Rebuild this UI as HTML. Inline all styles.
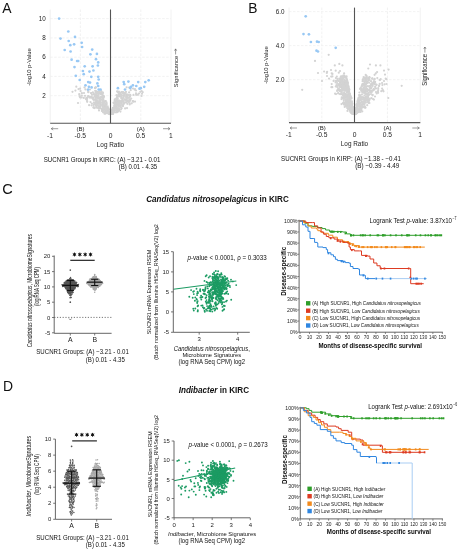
<!DOCTYPE html>
<html><head><meta charset="utf-8"><style>
html,body{margin:0;padding:0;background:#fff;width:460px;height:550px;overflow:hidden}
svg{display:block;filter:blur(0.3px)}
text{font-family:"Liberation Sans", sans-serif}
</style></head><body>
<svg width="460" height="550" viewBox="0 0 460 550">
<rect width="460" height="550" fill="#fff"/>
<text transform="translate(2.3 12.5) scale(0.93 1)" font-size="15.0" fill="#111">A</text>
<text transform="translate(248.2 12.5) scale(0.92 1)" font-size="15.0" fill="#111">B</text>
<text transform="translate(2.2 193.6) scale(0.97 1)" font-size="15.0" fill="#111">C</text>
<text transform="translate(2.9 390.5) scale(0.93 1)" font-size="15.0" fill="#111">D</text>
<line x1="50.20" y1="9.50" x2="50.20" y2="123.30" stroke="#ececec" stroke-width="0.8"/>
<line x1="80.40" y1="9.50" x2="80.40" y2="123.30" stroke="#efefef" stroke-width="0.8" stroke-dasharray="2.5 1.5"/>
<line x1="140.80" y1="9.50" x2="140.80" y2="123.30" stroke="#efefef" stroke-width="0.8" stroke-dasharray="2.5 1.5"/>
<line x1="171.00" y1="9.50" x2="171.00" y2="123.30" stroke="#efefef" stroke-width="0.8"/>
<line x1="50.20" y1="18.60" x2="171.00" y2="18.60" stroke="#efefef" stroke-width="0.8" stroke-dasharray="2.5 1.5"/>
<text x="45.70" y="20.87" font-size="6.3" text-anchor="end" fill="#1c1c1c">10</text>
<line x1="50.20" y1="37.90" x2="171.00" y2="37.90" stroke="#efefef" stroke-width="0.8" stroke-dasharray="2.5 1.5"/>
<text x="45.70" y="40.17" font-size="6.3" text-anchor="end" fill="#1c1c1c">8</text>
<line x1="50.20" y1="57.20" x2="171.00" y2="57.20" stroke="#efefef" stroke-width="0.8" stroke-dasharray="2.5 1.5"/>
<text x="45.70" y="59.47" font-size="6.3" text-anchor="end" fill="#1c1c1c">6</text>
<line x1="50.20" y1="76.40" x2="171.00" y2="76.40" stroke="#efefef" stroke-width="0.8" stroke-dasharray="2.5 1.5"/>
<text x="45.70" y="78.67" font-size="6.3" text-anchor="end" fill="#1c1c1c">4</text>
<line x1="50.20" y1="95.70" x2="171.00" y2="95.70" stroke="#efefef" stroke-width="0.8" stroke-dasharray="2.5 1.5"/>
<text x="45.70" y="97.97" font-size="6.3" text-anchor="end" fill="#1c1c1c">2</text>
<circle cx="95.8" cy="104.9" r="1.1" fill="#d3d3d3"/>
<circle cx="94.2" cy="99.5" r="1.1" fill="#d3d3d3"/>
<circle cx="97.8" cy="102.7" r="1.1" fill="#d3d3d3"/>
<circle cx="95.8" cy="102.2" r="1.1" fill="#d3d3d3"/>
<circle cx="96.5" cy="97.1" r="1.1" fill="#d3d3d3"/>
<circle cx="102.3" cy="110.8" r="1.1" fill="#d3d3d3"/>
<circle cx="93.8" cy="94.4" r="1.1" fill="#d3d3d3"/>
<circle cx="108.3" cy="108.1" r="1.1" fill="#d3d3d3"/>
<circle cx="107.7" cy="110.3" r="1.1" fill="#d3d3d3"/>
<circle cx="109.5" cy="114.1" r="1.1" fill="#d3d3d3"/>
<circle cx="95.0" cy="94.5" r="1.1" fill="#d3d3d3"/>
<circle cx="93.4" cy="107.4" r="1.1" fill="#d3d3d3"/>
<circle cx="97.1" cy="92.6" r="1.1" fill="#d3d3d3"/>
<circle cx="110.5" cy="113.9" r="1.1" fill="#d3d3d3"/>
<circle cx="90.0" cy="97.7" r="1.1" fill="#d3d3d3"/>
<circle cx="108.2" cy="112.3" r="1.1" fill="#d3d3d3"/>
<circle cx="96.3" cy="106.7" r="1.1" fill="#d3d3d3"/>
<circle cx="106.7" cy="112.7" r="1.1" fill="#d3d3d3"/>
<circle cx="97.1" cy="95.9" r="1.1" fill="#d3d3d3"/>
<circle cx="107.2" cy="109.0" r="1.1" fill="#d3d3d3"/>
<circle cx="97.9" cy="97.7" r="1.1" fill="#d3d3d3"/>
<circle cx="105.5" cy="108.5" r="1.1" fill="#d3d3d3"/>
<circle cx="98.6" cy="96.3" r="1.1" fill="#d3d3d3"/>
<circle cx="103.0" cy="97.7" r="1.1" fill="#d3d3d3"/>
<circle cx="104.0" cy="96.5" r="1.1" fill="#d3d3d3"/>
<circle cx="109.7" cy="112.8" r="1.1" fill="#d3d3d3"/>
<circle cx="97.7" cy="103.1" r="1.1" fill="#d3d3d3"/>
<circle cx="110.2" cy="113.5" r="1.1" fill="#d3d3d3"/>
<circle cx="104.4" cy="107.8" r="1.1" fill="#d3d3d3"/>
<circle cx="106.1" cy="111.9" r="1.1" fill="#d3d3d3"/>
<circle cx="102.6" cy="98.9" r="1.1" fill="#d3d3d3"/>
<circle cx="95.8" cy="104.9" r="1.1" fill="#d3d3d3"/>
<circle cx="98.7" cy="92.5" r="1.1" fill="#d3d3d3"/>
<circle cx="104.3" cy="106.1" r="1.1" fill="#d3d3d3"/>
<circle cx="99.0" cy="93.4" r="1.1" fill="#d3d3d3"/>
<circle cx="100.9" cy="103.0" r="1.1" fill="#d3d3d3"/>
<circle cx="102.7" cy="92.3" r="1.1" fill="#d3d3d3"/>
<circle cx="95.5" cy="99.0" r="1.1" fill="#d3d3d3"/>
<circle cx="106.7" cy="110.9" r="1.1" fill="#d3d3d3"/>
<circle cx="109.8" cy="113.6" r="1.1" fill="#d3d3d3"/>
<circle cx="105.0" cy="105.9" r="1.1" fill="#d3d3d3"/>
<circle cx="102.8" cy="104.4" r="1.1" fill="#d3d3d3"/>
<circle cx="101.1" cy="92.9" r="1.1" fill="#d3d3d3"/>
<circle cx="99.8" cy="98.2" r="1.1" fill="#d3d3d3"/>
<circle cx="101.8" cy="108.5" r="1.1" fill="#d3d3d3"/>
<circle cx="85.0" cy="95.8" r="1.1" fill="#d3d3d3"/>
<circle cx="109.6" cy="113.8" r="1.1" fill="#d3d3d3"/>
<circle cx="102.6" cy="96.3" r="1.1" fill="#d3d3d3"/>
<circle cx="103.0" cy="104.7" r="1.1" fill="#d3d3d3"/>
<circle cx="99.7" cy="103.1" r="1.1" fill="#d3d3d3"/>
<circle cx="102.1" cy="105.0" r="1.1" fill="#d3d3d3"/>
<circle cx="103.3" cy="102.7" r="1.1" fill="#d3d3d3"/>
<circle cx="104.8" cy="107.1" r="1.1" fill="#d3d3d3"/>
<circle cx="105.4" cy="104.1" r="1.1" fill="#d3d3d3"/>
<circle cx="100.3" cy="92.6" r="1.1" fill="#d3d3d3"/>
<circle cx="105.8" cy="101.0" r="1.1" fill="#d3d3d3"/>
<circle cx="101.3" cy="91.2" r="1.1" fill="#d3d3d3"/>
<circle cx="103.1" cy="112.3" r="1.1" fill="#d3d3d3"/>
<circle cx="104.7" cy="105.8" r="1.1" fill="#d3d3d3"/>
<circle cx="100.4" cy="106.8" r="1.1" fill="#d3d3d3"/>
<circle cx="103.2" cy="97.8" r="1.1" fill="#d3d3d3"/>
<circle cx="102.1" cy="109.1" r="1.1" fill="#d3d3d3"/>
<circle cx="96.7" cy="92.9" r="1.1" fill="#d3d3d3"/>
<circle cx="104.5" cy="102.4" r="1.1" fill="#d3d3d3"/>
<circle cx="96.5" cy="104.0" r="1.1" fill="#d3d3d3"/>
<circle cx="98.9" cy="103.9" r="1.1" fill="#d3d3d3"/>
<circle cx="100.6" cy="101.0" r="1.1" fill="#d3d3d3"/>
<circle cx="98.9" cy="108.7" r="1.1" fill="#d3d3d3"/>
<circle cx="93.5" cy="99.8" r="1.1" fill="#d3d3d3"/>
<circle cx="100.0" cy="98.0" r="1.1" fill="#d3d3d3"/>
<circle cx="92.0" cy="97.4" r="1.1" fill="#d3d3d3"/>
<circle cx="108.8" cy="113.6" r="1.1" fill="#d3d3d3"/>
<circle cx="108.5" cy="113.0" r="1.1" fill="#d3d3d3"/>
<circle cx="95.7" cy="92.6" r="1.1" fill="#d3d3d3"/>
<circle cx="102.8" cy="110.0" r="1.1" fill="#d3d3d3"/>
<circle cx="102.7" cy="96.2" r="1.1" fill="#d3d3d3"/>
<circle cx="108.7" cy="113.0" r="1.1" fill="#d3d3d3"/>
<circle cx="96.6" cy="103.0" r="1.1" fill="#d3d3d3"/>
<circle cx="105.9" cy="107.2" r="1.1" fill="#d3d3d3"/>
<circle cx="106.6" cy="110.6" r="1.1" fill="#d3d3d3"/>
<circle cx="94.9" cy="103.7" r="1.1" fill="#d3d3d3"/>
<circle cx="97.2" cy="105.1" r="1.1" fill="#d3d3d3"/>
<circle cx="105.8" cy="109.8" r="1.1" fill="#d3d3d3"/>
<circle cx="104.2" cy="109.7" r="1.1" fill="#d3d3d3"/>
<circle cx="95.5" cy="97.0" r="1.1" fill="#d3d3d3"/>
<circle cx="107.7" cy="106.4" r="1.1" fill="#d3d3d3"/>
<circle cx="93.7" cy="93.3" r="1.1" fill="#d3d3d3"/>
<circle cx="102.5" cy="105.9" r="1.1" fill="#d3d3d3"/>
<circle cx="104.6" cy="101.6" r="1.1" fill="#d3d3d3"/>
<circle cx="104.6" cy="101.5" r="1.1" fill="#d3d3d3"/>
<circle cx="107.0" cy="112.4" r="1.1" fill="#d3d3d3"/>
<circle cx="106.1" cy="111.7" r="1.1" fill="#d3d3d3"/>
<circle cx="92.5" cy="98.3" r="1.1" fill="#d3d3d3"/>
<circle cx="94.0" cy="102.4" r="1.1" fill="#d3d3d3"/>
<circle cx="104.9" cy="107.7" r="1.1" fill="#d3d3d3"/>
<circle cx="96.2" cy="101.8" r="1.1" fill="#d3d3d3"/>
<circle cx="106.1" cy="104.6" r="1.1" fill="#d3d3d3"/>
<circle cx="108.5" cy="112.0" r="1.1" fill="#d3d3d3"/>
<circle cx="109.0" cy="109.3" r="1.1" fill="#d3d3d3"/>
<circle cx="107.8" cy="108.0" r="1.1" fill="#d3d3d3"/>
<circle cx="98.6" cy="102.7" r="1.1" fill="#d3d3d3"/>
<circle cx="108.9" cy="112.4" r="1.1" fill="#d3d3d3"/>
<circle cx="102.8" cy="98.5" r="1.1" fill="#d3d3d3"/>
<circle cx="98.9" cy="106.1" r="1.1" fill="#d3d3d3"/>
<circle cx="96.8" cy="102.5" r="1.1" fill="#d3d3d3"/>
<circle cx="102.9" cy="103.0" r="1.1" fill="#d3d3d3"/>
<circle cx="86.8" cy="98.4" r="1.1" fill="#d3d3d3"/>
<circle cx="106.3" cy="109.4" r="1.1" fill="#d3d3d3"/>
<circle cx="103.4" cy="109.8" r="1.1" fill="#d3d3d3"/>
<circle cx="106.3" cy="108.3" r="1.1" fill="#d3d3d3"/>
<circle cx="100.0" cy="99.8" r="1.1" fill="#d3d3d3"/>
<circle cx="92.7" cy="98.6" r="1.1" fill="#d3d3d3"/>
<circle cx="107.9" cy="108.5" r="1.1" fill="#d3d3d3"/>
<circle cx="103.0" cy="106.1" r="1.1" fill="#d3d3d3"/>
<circle cx="103.1" cy="107.2" r="1.1" fill="#d3d3d3"/>
<circle cx="106.8" cy="104.0" r="1.1" fill="#d3d3d3"/>
<circle cx="103.0" cy="95.6" r="1.1" fill="#d3d3d3"/>
<circle cx="95.7" cy="97.2" r="1.1" fill="#d3d3d3"/>
<circle cx="96.5" cy="103.6" r="1.1" fill="#d3d3d3"/>
<circle cx="105.4" cy="112.7" r="1.1" fill="#d3d3d3"/>
<circle cx="88.9" cy="96.3" r="1.1" fill="#d3d3d3"/>
<circle cx="95.7" cy="100.2" r="1.1" fill="#d3d3d3"/>
<circle cx="97.8" cy="92.2" r="1.1" fill="#d3d3d3"/>
<circle cx="101.7" cy="109.2" r="1.1" fill="#d3d3d3"/>
<circle cx="104.8" cy="105.1" r="1.1" fill="#d3d3d3"/>
<circle cx="100.6" cy="94.2" r="1.1" fill="#d3d3d3"/>
<circle cx="96.9" cy="107.7" r="1.1" fill="#d3d3d3"/>
<circle cx="96.1" cy="98.0" r="1.1" fill="#d3d3d3"/>
<circle cx="103.2" cy="109.5" r="1.1" fill="#d3d3d3"/>
<circle cx="95.4" cy="94.7" r="1.1" fill="#d3d3d3"/>
<circle cx="108.7" cy="113.7" r="1.1" fill="#d3d3d3"/>
<circle cx="105.2" cy="113.5" r="1.1" fill="#d3d3d3"/>
<circle cx="102.8" cy="109.2" r="1.1" fill="#d3d3d3"/>
<circle cx="99.9" cy="101.5" r="1.1" fill="#d3d3d3"/>
<circle cx="105.8" cy="107.7" r="1.1" fill="#d3d3d3"/>
<circle cx="100.4" cy="102.6" r="1.1" fill="#d3d3d3"/>
<circle cx="101.4" cy="94.1" r="1.1" fill="#d3d3d3"/>
<circle cx="107.2" cy="108.8" r="1.1" fill="#d3d3d3"/>
<circle cx="103.9" cy="96.7" r="1.1" fill="#d3d3d3"/>
<circle cx="91.1" cy="93.2" r="1.1" fill="#d3d3d3"/>
<circle cx="103.5" cy="99.1" r="1.1" fill="#d3d3d3"/>
<circle cx="99.7" cy="99.5" r="1.1" fill="#d3d3d3"/>
<circle cx="108.9" cy="112.5" r="1.1" fill="#d3d3d3"/>
<circle cx="95.0" cy="99.7" r="1.1" fill="#d3d3d3"/>
<circle cx="109.8" cy="113.9" r="1.1" fill="#d3d3d3"/>
<circle cx="100.2" cy="108.2" r="1.1" fill="#d3d3d3"/>
<circle cx="107.2" cy="112.1" r="1.1" fill="#d3d3d3"/>
<circle cx="99.4" cy="91.4" r="1.1" fill="#d3d3d3"/>
<circle cx="101.1" cy="97.2" r="1.1" fill="#d3d3d3"/>
<circle cx="105.2" cy="101.2" r="1.1" fill="#d3d3d3"/>
<circle cx="91.9" cy="103.5" r="1.1" fill="#d3d3d3"/>
<circle cx="105.8" cy="105.6" r="1.1" fill="#d3d3d3"/>
<circle cx="96.9" cy="92.2" r="1.1" fill="#d3d3d3"/>
<circle cx="108.6" cy="109.5" r="1.1" fill="#d3d3d3"/>
<circle cx="108.5" cy="111.5" r="1.1" fill="#d3d3d3"/>
<circle cx="103.3" cy="96.3" r="1.1" fill="#d3d3d3"/>
<circle cx="109.3" cy="111.3" r="1.1" fill="#d3d3d3"/>
<circle cx="99.2" cy="106.6" r="1.1" fill="#d3d3d3"/>
<circle cx="106.5" cy="102.4" r="1.1" fill="#d3d3d3"/>
<circle cx="104.0" cy="103.0" r="1.1" fill="#d3d3d3"/>
<circle cx="99.9" cy="102.7" r="1.1" fill="#d3d3d3"/>
<circle cx="90.8" cy="97.2" r="1.1" fill="#d3d3d3"/>
<circle cx="100.6" cy="104.8" r="1.1" fill="#d3d3d3"/>
<circle cx="94.2" cy="104.1" r="1.1" fill="#d3d3d3"/>
<circle cx="93.6" cy="104.9" r="1.1" fill="#d3d3d3"/>
<circle cx="105.1" cy="109.6" r="1.1" fill="#d3d3d3"/>
<circle cx="103.0" cy="93.0" r="1.1" fill="#d3d3d3"/>
<circle cx="103.3" cy="104.9" r="1.1" fill="#d3d3d3"/>
<circle cx="102.7" cy="100.2" r="1.1" fill="#d3d3d3"/>
<circle cx="99.0" cy="110.5" r="1.1" fill="#d3d3d3"/>
<circle cx="103.6" cy="96.7" r="1.1" fill="#d3d3d3"/>
<circle cx="96.3" cy="100.3" r="1.1" fill="#d3d3d3"/>
<circle cx="104.9" cy="111.6" r="1.1" fill="#d3d3d3"/>
<circle cx="102.2" cy="94.8" r="1.1" fill="#d3d3d3"/>
<circle cx="102.4" cy="94.1" r="1.1" fill="#d3d3d3"/>
<circle cx="92.9" cy="92.4" r="1.1" fill="#d3d3d3"/>
<circle cx="88.1" cy="96.4" r="1.1" fill="#d3d3d3"/>
<circle cx="96.0" cy="95.7" r="1.1" fill="#d3d3d3"/>
<circle cx="99.3" cy="107.9" r="1.1" fill="#d3d3d3"/>
<circle cx="105.6" cy="109.5" r="1.1" fill="#d3d3d3"/>
<circle cx="101.4" cy="99.3" r="1.1" fill="#d3d3d3"/>
<circle cx="99.9" cy="101.1" r="1.1" fill="#d3d3d3"/>
<circle cx="97.7" cy="98.6" r="1.1" fill="#d3d3d3"/>
<circle cx="95.3" cy="96.6" r="1.1" fill="#d3d3d3"/>
<circle cx="103.0" cy="101.3" r="1.1" fill="#d3d3d3"/>
<circle cx="108.7" cy="113.2" r="1.1" fill="#d3d3d3"/>
<circle cx="97.4" cy="102.0" r="1.1" fill="#d3d3d3"/>
<circle cx="106.5" cy="111.4" r="1.1" fill="#d3d3d3"/>
<circle cx="98.0" cy="101.7" r="1.1" fill="#d3d3d3"/>
<circle cx="108.9" cy="113.3" r="1.1" fill="#d3d3d3"/>
<circle cx="96.8" cy="94.2" r="1.1" fill="#d3d3d3"/>
<circle cx="99.2" cy="98.3" r="1.1" fill="#d3d3d3"/>
<circle cx="105.5" cy="105.8" r="1.1" fill="#d3d3d3"/>
<circle cx="104.4" cy="111.7" r="1.1" fill="#d3d3d3"/>
<circle cx="94.6" cy="96.3" r="1.1" fill="#d3d3d3"/>
<circle cx="110.3" cy="113.7" r="1.1" fill="#d3d3d3"/>
<circle cx="100.9" cy="97.0" r="1.1" fill="#d3d3d3"/>
<circle cx="98.2" cy="98.4" r="1.1" fill="#d3d3d3"/>
<circle cx="93.7" cy="107.4" r="1.1" fill="#d3d3d3"/>
<circle cx="107.9" cy="110.2" r="1.1" fill="#d3d3d3"/>
<circle cx="100.3" cy="100.0" r="1.1" fill="#d3d3d3"/>
<circle cx="107.2" cy="112.3" r="1.1" fill="#d3d3d3"/>
<circle cx="87.4" cy="97.8" r="1.1" fill="#d3d3d3"/>
<circle cx="95.6" cy="96.1" r="1.1" fill="#d3d3d3"/>
<circle cx="107.3" cy="113.2" r="1.1" fill="#d3d3d3"/>
<circle cx="106.6" cy="109.2" r="1.1" fill="#d3d3d3"/>
<circle cx="107.9" cy="111.5" r="1.1" fill="#d3d3d3"/>
<circle cx="102.3" cy="105.5" r="1.1" fill="#d3d3d3"/>
<circle cx="96.6" cy="100.3" r="1.1" fill="#d3d3d3"/>
<circle cx="108.4" cy="112.5" r="1.1" fill="#d3d3d3"/>
<circle cx="100.5" cy="105.2" r="1.1" fill="#d3d3d3"/>
<circle cx="88.4" cy="92.2" r="1.1" fill="#d3d3d3"/>
<circle cx="76.3" cy="86.7" r="1.1" fill="#d3d3d3"/>
<circle cx="75.4" cy="90.6" r="1.1" fill="#d3d3d3"/>
<circle cx="87.7" cy="90.0" r="1.1" fill="#d3d3d3"/>
<circle cx="94.8" cy="107.7" r="1.1" fill="#d3d3d3"/>
<circle cx="105.6" cy="113.4" r="1.1" fill="#d3d3d3"/>
<circle cx="94.4" cy="108.1" r="1.1" fill="#d3d3d3"/>
<circle cx="91.3" cy="96.8" r="1.1" fill="#d3d3d3"/>
<circle cx="95.1" cy="88.1" r="1.1" fill="#d3d3d3"/>
<circle cx="78.5" cy="89.1" r="1.1" fill="#d3d3d3"/>
<circle cx="104.2" cy="101.8" r="1.1" fill="#d3d3d3"/>
<circle cx="81.7" cy="97.5" r="1.1" fill="#d3d3d3"/>
<circle cx="86.6" cy="99.0" r="1.1" fill="#d3d3d3"/>
<circle cx="99.7" cy="103.5" r="1.1" fill="#d3d3d3"/>
<circle cx="95.2" cy="90.8" r="1.1" fill="#d3d3d3"/>
<circle cx="80.6" cy="91.1" r="1.1" fill="#d3d3d3"/>
<circle cx="87.1" cy="101.1" r="1.1" fill="#d3d3d3"/>
<circle cx="103.1" cy="110.3" r="1.1" fill="#d3d3d3"/>
<circle cx="91.6" cy="105.3" r="1.1" fill="#d3d3d3"/>
<circle cx="100.7" cy="102.3" r="1.1" fill="#d3d3d3"/>
<circle cx="80.1" cy="88.7" r="1.1" fill="#d3d3d3"/>
<circle cx="102.7" cy="100.3" r="1.1" fill="#d3d3d3"/>
<circle cx="96.9" cy="92.7" r="1.1" fill="#d3d3d3"/>
<circle cx="86.7" cy="99.7" r="1.1" fill="#d3d3d3"/>
<circle cx="89.1" cy="105.2" r="1.1" fill="#d3d3d3"/>
<circle cx="105.2" cy="112.0" r="1.1" fill="#d3d3d3"/>
<circle cx="72.5" cy="91.8" r="1.1" fill="#d3d3d3"/>
<circle cx="97.7" cy="91.8" r="1.1" fill="#d3d3d3"/>
<circle cx="97.3" cy="92.4" r="1.1" fill="#d3d3d3"/>
<circle cx="87.2" cy="101.8" r="1.1" fill="#d3d3d3"/>
<circle cx="83.8" cy="97.9" r="1.1" fill="#d3d3d3"/>
<circle cx="98.4" cy="93.4" r="1.1" fill="#d3d3d3"/>
<circle cx="88.2" cy="91.9" r="1.1" fill="#d3d3d3"/>
<circle cx="84.5" cy="87.4" r="1.1" fill="#d3d3d3"/>
<circle cx="103.2" cy="108.0" r="1.1" fill="#d3d3d3"/>
<circle cx="98.2" cy="108.1" r="1.1" fill="#d3d3d3"/>
<circle cx="98.4" cy="106.4" r="1.1" fill="#d3d3d3"/>
<circle cx="93.1" cy="97.6" r="1.1" fill="#d3d3d3"/>
<circle cx="91.2" cy="93.1" r="1.1" fill="#d3d3d3"/>
<circle cx="79.6" cy="96.0" r="1.1" fill="#d3d3d3"/>
<circle cx="98.5" cy="94.8" r="1.1" fill="#d3d3d3"/>
<circle cx="92.0" cy="94.8" r="1.1" fill="#d3d3d3"/>
<circle cx="96.3" cy="105.2" r="1.1" fill="#d3d3d3"/>
<circle cx="98.5" cy="97.1" r="1.1" fill="#d3d3d3"/>
<circle cx="106.3" cy="107.7" r="1.1" fill="#d3d3d3"/>
<circle cx="86.4" cy="97.8" r="1.1" fill="#d3d3d3"/>
<circle cx="88.2" cy="96.3" r="1.1" fill="#d3d3d3"/>
<circle cx="90.5" cy="102.1" r="1.1" fill="#d3d3d3"/>
<circle cx="109.1" cy="113.2" r="1.1" fill="#d3d3d3"/>
<circle cx="81.9" cy="93.2" r="1.1" fill="#d3d3d3"/>
<circle cx="79.9" cy="97.1" r="1.1" fill="#d3d3d3"/>
<circle cx="95.9" cy="87.4" r="1.1" fill="#d3d3d3"/>
<circle cx="101.9" cy="110.9" r="1.1" fill="#d3d3d3"/>
<circle cx="97.8" cy="100.8" r="1.1" fill="#d3d3d3"/>
<circle cx="81.8" cy="95.7" r="1.1" fill="#d3d3d3"/>
<circle cx="104.5" cy="113.7" r="1.1" fill="#d3d3d3"/>
<circle cx="95.5" cy="87.4" r="1.1" fill="#d3d3d3"/>
<circle cx="79.2" cy="94.2" r="1.1" fill="#d3d3d3"/>
<circle cx="85.4" cy="89.4" r="1.1" fill="#d3d3d3"/>
<circle cx="111.7" cy="111.9" r="1.1" fill="#d3d3d3"/>
<circle cx="127.8" cy="100.8" r="1.1" fill="#d3d3d3"/>
<circle cx="115.2" cy="104.7" r="1.1" fill="#d3d3d3"/>
<circle cx="112.8" cy="113.7" r="1.1" fill="#d3d3d3"/>
<circle cx="120.2" cy="106.3" r="1.1" fill="#d3d3d3"/>
<circle cx="122.0" cy="92.1" r="1.1" fill="#d3d3d3"/>
<circle cx="112.7" cy="108.6" r="1.1" fill="#d3d3d3"/>
<circle cx="117.1" cy="101.6" r="1.1" fill="#d3d3d3"/>
<circle cx="117.9" cy="103.7" r="1.1" fill="#d3d3d3"/>
<circle cx="117.6" cy="96.1" r="1.1" fill="#d3d3d3"/>
<circle cx="119.0" cy="101.5" r="1.1" fill="#d3d3d3"/>
<circle cx="117.6" cy="91.8" r="1.1" fill="#d3d3d3"/>
<circle cx="124.8" cy="99.6" r="1.1" fill="#d3d3d3"/>
<circle cx="119.9" cy="96.4" r="1.1" fill="#d3d3d3"/>
<circle cx="118.9" cy="100.8" r="1.1" fill="#d3d3d3"/>
<circle cx="112.4" cy="111.7" r="1.1" fill="#d3d3d3"/>
<circle cx="115.4" cy="102.6" r="1.1" fill="#d3d3d3"/>
<circle cx="112.2" cy="111.3" r="1.1" fill="#d3d3d3"/>
<circle cx="112.1" cy="110.0" r="1.1" fill="#d3d3d3"/>
<circle cx="117.3" cy="111.3" r="1.1" fill="#d3d3d3"/>
<circle cx="111.7" cy="111.4" r="1.1" fill="#d3d3d3"/>
<circle cx="115.1" cy="102.2" r="1.1" fill="#d3d3d3"/>
<circle cx="116.1" cy="98.7" r="1.1" fill="#d3d3d3"/>
<circle cx="120.6" cy="93.9" r="1.1" fill="#d3d3d3"/>
<circle cx="121.0" cy="95.7" r="1.1" fill="#d3d3d3"/>
<circle cx="115.8" cy="108.5" r="1.1" fill="#d3d3d3"/>
<circle cx="127.6" cy="96.1" r="1.1" fill="#d3d3d3"/>
<circle cx="116.0" cy="107.8" r="1.1" fill="#d3d3d3"/>
<circle cx="126.9" cy="97.8" r="1.1" fill="#d3d3d3"/>
<circle cx="118.5" cy="95.7" r="1.1" fill="#d3d3d3"/>
<circle cx="122.5" cy="101.8" r="1.1" fill="#d3d3d3"/>
<circle cx="117.8" cy="109.3" r="1.1" fill="#d3d3d3"/>
<circle cx="122.9" cy="105.6" r="1.1" fill="#d3d3d3"/>
<circle cx="124.0" cy="93.2" r="1.1" fill="#d3d3d3"/>
<circle cx="124.7" cy="94.1" r="1.1" fill="#d3d3d3"/>
<circle cx="118.5" cy="92.8" r="1.1" fill="#d3d3d3"/>
<circle cx="116.5" cy="95.2" r="1.1" fill="#d3d3d3"/>
<circle cx="117.1" cy="91.3" r="1.1" fill="#d3d3d3"/>
<circle cx="119.8" cy="93.1" r="1.1" fill="#d3d3d3"/>
<circle cx="118.8" cy="101.8" r="1.1" fill="#d3d3d3"/>
<circle cx="121.8" cy="92.3" r="1.1" fill="#d3d3d3"/>
<circle cx="117.7" cy="108.6" r="1.1" fill="#d3d3d3"/>
<circle cx="112.0" cy="111.2" r="1.1" fill="#d3d3d3"/>
<circle cx="113.8" cy="112.2" r="1.1" fill="#d3d3d3"/>
<circle cx="125.9" cy="99.7" r="1.1" fill="#d3d3d3"/>
<circle cx="128.4" cy="100.5" r="1.1" fill="#d3d3d3"/>
<circle cx="117.0" cy="97.6" r="1.1" fill="#d3d3d3"/>
<circle cx="117.4" cy="96.9" r="1.1" fill="#d3d3d3"/>
<circle cx="114.6" cy="100.6" r="1.1" fill="#d3d3d3"/>
<circle cx="112.1" cy="111.5" r="1.1" fill="#d3d3d3"/>
<circle cx="116.3" cy="100.5" r="1.1" fill="#d3d3d3"/>
<circle cx="121.0" cy="101.4" r="1.1" fill="#d3d3d3"/>
<circle cx="129.8" cy="99.7" r="1.1" fill="#d3d3d3"/>
<circle cx="129.1" cy="100.9" r="1.1" fill="#d3d3d3"/>
<circle cx="111.6" cy="112.9" r="1.1" fill="#d3d3d3"/>
<circle cx="118.7" cy="92.3" r="1.1" fill="#d3d3d3"/>
<circle cx="116.9" cy="111.7" r="1.1" fill="#d3d3d3"/>
<circle cx="126.7" cy="99.8" r="1.1" fill="#d3d3d3"/>
<circle cx="117.7" cy="96.4" r="1.1" fill="#d3d3d3"/>
<circle cx="117.2" cy="99.1" r="1.1" fill="#d3d3d3"/>
<circle cx="120.7" cy="101.4" r="1.1" fill="#d3d3d3"/>
<circle cx="121.7" cy="108.3" r="1.1" fill="#d3d3d3"/>
<circle cx="112.8" cy="113.3" r="1.1" fill="#d3d3d3"/>
<circle cx="116.9" cy="100.5" r="1.1" fill="#d3d3d3"/>
<circle cx="122.9" cy="106.2" r="1.1" fill="#d3d3d3"/>
<circle cx="113.7" cy="102.6" r="1.1" fill="#d3d3d3"/>
<circle cx="116.7" cy="105.0" r="1.1" fill="#d3d3d3"/>
<circle cx="111.4" cy="113.5" r="1.1" fill="#d3d3d3"/>
<circle cx="121.1" cy="107.3" r="1.1" fill="#d3d3d3"/>
<circle cx="130.2" cy="100.0" r="1.1" fill="#d3d3d3"/>
<circle cx="112.8" cy="108.0" r="1.1" fill="#d3d3d3"/>
<circle cx="113.5" cy="108.7" r="1.1" fill="#d3d3d3"/>
<circle cx="111.1" cy="113.6" r="1.1" fill="#d3d3d3"/>
<circle cx="121.4" cy="103.3" r="1.1" fill="#d3d3d3"/>
<circle cx="115.7" cy="101.5" r="1.1" fill="#d3d3d3"/>
<circle cx="116.0" cy="106.2" r="1.1" fill="#d3d3d3"/>
<circle cx="129.9" cy="96.6" r="1.1" fill="#d3d3d3"/>
<circle cx="117.8" cy="110.4" r="1.1" fill="#d3d3d3"/>
<circle cx="116.8" cy="105.1" r="1.1" fill="#d3d3d3"/>
<circle cx="122.6" cy="100.0" r="1.1" fill="#d3d3d3"/>
<circle cx="116.1" cy="108.3" r="1.1" fill="#d3d3d3"/>
<circle cx="123.8" cy="93.1" r="1.1" fill="#d3d3d3"/>
<circle cx="118.6" cy="101.7" r="1.1" fill="#d3d3d3"/>
<circle cx="110.7" cy="113.9" r="1.1" fill="#d3d3d3"/>
<circle cx="114.2" cy="111.3" r="1.1" fill="#d3d3d3"/>
<circle cx="118.3" cy="103.2" r="1.1" fill="#d3d3d3"/>
<circle cx="118.3" cy="95.0" r="1.1" fill="#d3d3d3"/>
<circle cx="114.8" cy="103.9" r="1.1" fill="#d3d3d3"/>
<circle cx="113.2" cy="109.0" r="1.1" fill="#d3d3d3"/>
<circle cx="111.5" cy="113.2" r="1.1" fill="#d3d3d3"/>
<circle cx="114.8" cy="107.0" r="1.1" fill="#d3d3d3"/>
<circle cx="113.0" cy="111.2" r="1.1" fill="#d3d3d3"/>
<circle cx="119.4" cy="105.5" r="1.1" fill="#d3d3d3"/>
<circle cx="119.7" cy="103.8" r="1.1" fill="#d3d3d3"/>
<circle cx="130.2" cy="94.8" r="1.1" fill="#d3d3d3"/>
<circle cx="116.5" cy="111.5" r="1.1" fill="#d3d3d3"/>
<circle cx="121.9" cy="95.2" r="1.1" fill="#d3d3d3"/>
<circle cx="117.8" cy="103.8" r="1.1" fill="#d3d3d3"/>
<circle cx="129.7" cy="101.5" r="1.1" fill="#d3d3d3"/>
<circle cx="117.3" cy="97.4" r="1.1" fill="#d3d3d3"/>
<circle cx="124.2" cy="94.1" r="1.1" fill="#d3d3d3"/>
<circle cx="117.8" cy="102.2" r="1.1" fill="#d3d3d3"/>
<circle cx="126.5" cy="95.6" r="1.1" fill="#d3d3d3"/>
<circle cx="114.0" cy="109.4" r="1.1" fill="#d3d3d3"/>
<circle cx="118.2" cy="102.2" r="1.1" fill="#d3d3d3"/>
<circle cx="121.7" cy="103.7" r="1.1" fill="#d3d3d3"/>
<circle cx="113.5" cy="107.6" r="1.1" fill="#d3d3d3"/>
<circle cx="119.3" cy="95.7" r="1.1" fill="#d3d3d3"/>
<circle cx="118.9" cy="91.5" r="1.1" fill="#d3d3d3"/>
<circle cx="115.3" cy="110.1" r="1.1" fill="#d3d3d3"/>
<circle cx="117.5" cy="105.0" r="1.1" fill="#d3d3d3"/>
<circle cx="115.3" cy="102.8" r="1.1" fill="#d3d3d3"/>
<circle cx="123.4" cy="92.1" r="1.1" fill="#d3d3d3"/>
<circle cx="121.3" cy="96.1" r="1.1" fill="#d3d3d3"/>
<circle cx="131.2" cy="98.6" r="1.1" fill="#d3d3d3"/>
<circle cx="121.0" cy="109.3" r="1.1" fill="#d3d3d3"/>
<circle cx="119.6" cy="93.8" r="1.1" fill="#d3d3d3"/>
<circle cx="127.3" cy="103.8" r="1.1" fill="#d3d3d3"/>
<circle cx="113.7" cy="109.7" r="1.1" fill="#d3d3d3"/>
<circle cx="114.2" cy="107.5" r="1.1" fill="#d3d3d3"/>
<circle cx="126.4" cy="94.4" r="1.1" fill="#d3d3d3"/>
<circle cx="123.1" cy="101.5" r="1.1" fill="#d3d3d3"/>
<circle cx="116.4" cy="106.0" r="1.1" fill="#d3d3d3"/>
<circle cx="117.4" cy="108.9" r="1.1" fill="#d3d3d3"/>
<circle cx="125.7" cy="102.5" r="1.1" fill="#d3d3d3"/>
<circle cx="112.2" cy="110.5" r="1.1" fill="#d3d3d3"/>
<circle cx="111.8" cy="110.9" r="1.1" fill="#d3d3d3"/>
<circle cx="117.8" cy="98.9" r="1.1" fill="#d3d3d3"/>
<circle cx="124.0" cy="102.9" r="1.1" fill="#d3d3d3"/>
<circle cx="112.6" cy="112.3" r="1.1" fill="#d3d3d3"/>
<circle cx="119.0" cy="109.9" r="1.1" fill="#d3d3d3"/>
<circle cx="117.7" cy="101.8" r="1.1" fill="#d3d3d3"/>
<circle cx="111.7" cy="113.9" r="1.1" fill="#d3d3d3"/>
<circle cx="113.1" cy="110.0" r="1.1" fill="#d3d3d3"/>
<circle cx="113.3" cy="111.0" r="1.1" fill="#d3d3d3"/>
<circle cx="123.9" cy="95.5" r="1.1" fill="#d3d3d3"/>
<circle cx="118.3" cy="111.0" r="1.1" fill="#d3d3d3"/>
<circle cx="118.8" cy="110.2" r="1.1" fill="#d3d3d3"/>
<circle cx="118.0" cy="92.1" r="1.1" fill="#d3d3d3"/>
<circle cx="118.9" cy="94.5" r="1.1" fill="#d3d3d3"/>
<circle cx="115.1" cy="104.7" r="1.1" fill="#d3d3d3"/>
<circle cx="117.6" cy="111.0" r="1.1" fill="#d3d3d3"/>
<circle cx="123.9" cy="103.8" r="1.1" fill="#d3d3d3"/>
<circle cx="128.0" cy="101.6" r="1.1" fill="#d3d3d3"/>
<circle cx="118.4" cy="103.8" r="1.1" fill="#d3d3d3"/>
<circle cx="113.0" cy="113.9" r="1.1" fill="#d3d3d3"/>
<circle cx="121.5" cy="98.1" r="1.1" fill="#d3d3d3"/>
<circle cx="111.5" cy="113.6" r="1.1" fill="#d3d3d3"/>
<circle cx="111.3" cy="111.6" r="1.1" fill="#d3d3d3"/>
<circle cx="117.0" cy="99.7" r="1.1" fill="#d3d3d3"/>
<circle cx="113.4" cy="109.2" r="1.1" fill="#d3d3d3"/>
<circle cx="122.4" cy="98.5" r="1.1" fill="#d3d3d3"/>
<circle cx="113.5" cy="112.9" r="1.1" fill="#d3d3d3"/>
<circle cx="129.8" cy="96.7" r="1.1" fill="#d3d3d3"/>
<circle cx="117.0" cy="103.7" r="1.1" fill="#d3d3d3"/>
<circle cx="115.7" cy="103.1" r="1.1" fill="#d3d3d3"/>
<circle cx="115.6" cy="102.6" r="1.1" fill="#d3d3d3"/>
<circle cx="119.4" cy="105.5" r="1.1" fill="#d3d3d3"/>
<circle cx="114.3" cy="107.1" r="1.1" fill="#d3d3d3"/>
<circle cx="123.9" cy="95.7" r="1.1" fill="#d3d3d3"/>
<circle cx="112.6" cy="113.4" r="1.1" fill="#d3d3d3"/>
<circle cx="117.6" cy="112.1" r="1.1" fill="#d3d3d3"/>
<circle cx="116.4" cy="105.7" r="1.1" fill="#d3d3d3"/>
<circle cx="119.8" cy="102.6" r="1.1" fill="#d3d3d3"/>
<circle cx="115.6" cy="105.3" r="1.1" fill="#d3d3d3"/>
<circle cx="113.8" cy="111.1" r="1.1" fill="#d3d3d3"/>
<circle cx="126.4" cy="97.4" r="1.1" fill="#d3d3d3"/>
<circle cx="111.9" cy="111.1" r="1.1" fill="#d3d3d3"/>
<circle cx="119.0" cy="106.6" r="1.1" fill="#d3d3d3"/>
<circle cx="114.1" cy="111.4" r="1.1" fill="#d3d3d3"/>
<circle cx="120.4" cy="105.9" r="1.1" fill="#d3d3d3"/>
<circle cx="121.0" cy="96.7" r="1.1" fill="#d3d3d3"/>
<circle cx="122.6" cy="105.6" r="1.1" fill="#d3d3d3"/>
<circle cx="118.2" cy="105.4" r="1.1" fill="#d3d3d3"/>
<circle cx="115.7" cy="105.7" r="1.1" fill="#d3d3d3"/>
<circle cx="112.5" cy="109.5" r="1.1" fill="#d3d3d3"/>
<circle cx="117.3" cy="102.3" r="1.1" fill="#d3d3d3"/>
<circle cx="110.6" cy="113.1" r="1.1" fill="#d3d3d3"/>
<circle cx="110.5" cy="113.6" r="1.1" fill="#d3d3d3"/>
<circle cx="129.0" cy="100.7" r="1.1" fill="#d3d3d3"/>
<circle cx="123.4" cy="96.5" r="1.1" fill="#d3d3d3"/>
<circle cx="120.9" cy="105.1" r="1.1" fill="#d3d3d3"/>
<circle cx="127.3" cy="97.6" r="1.1" fill="#d3d3d3"/>
<circle cx="118.9" cy="108.6" r="1.1" fill="#d3d3d3"/>
<circle cx="118.9" cy="108.5" r="1.1" fill="#d3d3d3"/>
<circle cx="114.8" cy="99.3" r="1.1" fill="#d3d3d3"/>
<circle cx="113.9" cy="108.1" r="1.1" fill="#d3d3d3"/>
<circle cx="114.2" cy="105.3" r="1.1" fill="#d3d3d3"/>
<circle cx="125.2" cy="93.2" r="1.1" fill="#d3d3d3"/>
<circle cx="114.0" cy="103.1" r="1.1" fill="#d3d3d3"/>
<circle cx="120.9" cy="102.2" r="1.1" fill="#d3d3d3"/>
<circle cx="122.5" cy="92.2" r="1.1" fill="#d3d3d3"/>
<circle cx="122.9" cy="98.7" r="1.1" fill="#d3d3d3"/>
<circle cx="123.6" cy="97.2" r="1.1" fill="#d3d3d3"/>
<circle cx="129.0" cy="98.1" r="1.1" fill="#d3d3d3"/>
<circle cx="117.0" cy="102.0" r="1.1" fill="#d3d3d3"/>
<circle cx="121.8" cy="100.7" r="1.1" fill="#d3d3d3"/>
<circle cx="118.6" cy="102.3" r="1.1" fill="#d3d3d3"/>
<circle cx="120.7" cy="95.1" r="1.1" fill="#d3d3d3"/>
<circle cx="119.6" cy="100.5" r="1.1" fill="#d3d3d3"/>
<circle cx="128.6" cy="102.0" r="1.1" fill="#d3d3d3"/>
<circle cx="119.1" cy="110.0" r="1.1" fill="#d3d3d3"/>
<circle cx="118.9" cy="93.5" r="1.1" fill="#d3d3d3"/>
<circle cx="113.7" cy="102.9" r="1.1" fill="#d3d3d3"/>
<circle cx="126.5" cy="100.4" r="1.1" fill="#d3d3d3"/>
<circle cx="110.5" cy="114.0" r="1.1" fill="#d3d3d3"/>
<circle cx="126.1" cy="96.8" r="1.1" fill="#d3d3d3"/>
<circle cx="117.9" cy="105.8" r="1.1" fill="#d3d3d3"/>
<circle cx="122.8" cy="93.1" r="1.1" fill="#d3d3d3"/>
<circle cx="124.8" cy="99.4" r="1.1" fill="#d3d3d3"/>
<circle cx="123.7" cy="101.2" r="1.1" fill="#d3d3d3"/>
<circle cx="134.6" cy="89.6" r="1.1" fill="#d3d3d3"/>
<circle cx="140.3" cy="91.8" r="1.1" fill="#d3d3d3"/>
<circle cx="119.2" cy="103.6" r="1.1" fill="#d3d3d3"/>
<circle cx="119.5" cy="105.5" r="1.1" fill="#d3d3d3"/>
<circle cx="116.9" cy="109.8" r="1.1" fill="#d3d3d3"/>
<circle cx="118.9" cy="110.5" r="1.1" fill="#d3d3d3"/>
<circle cx="130.3" cy="95.6" r="1.1" fill="#d3d3d3"/>
<circle cx="116.0" cy="112.5" r="1.1" fill="#d3d3d3"/>
<circle cx="126.6" cy="87.3" r="1.1" fill="#d3d3d3"/>
<circle cx="133.1" cy="101.3" r="1.1" fill="#d3d3d3"/>
<circle cx="127.5" cy="94.5" r="1.1" fill="#d3d3d3"/>
<circle cx="127.0" cy="108.1" r="1.1" fill="#d3d3d3"/>
<circle cx="141.7" cy="91.2" r="1.1" fill="#d3d3d3"/>
<circle cx="129.1" cy="87.6" r="1.1" fill="#d3d3d3"/>
<circle cx="136.2" cy="94.8" r="1.1" fill="#d3d3d3"/>
<circle cx="123.1" cy="104.9" r="1.1" fill="#d3d3d3"/>
<circle cx="126.7" cy="97.8" r="1.1" fill="#d3d3d3"/>
<circle cx="130.7" cy="90.2" r="1.1" fill="#d3d3d3"/>
<circle cx="126.0" cy="100.4" r="1.1" fill="#d3d3d3"/>
<circle cx="127.8" cy="97.7" r="1.1" fill="#d3d3d3"/>
<circle cx="129.1" cy="92.4" r="1.1" fill="#d3d3d3"/>
<circle cx="120.4" cy="111.6" r="1.1" fill="#d3d3d3"/>
<circle cx="125.1" cy="108.4" r="1.1" fill="#d3d3d3"/>
<circle cx="121.2" cy="95.4" r="1.1" fill="#d3d3d3"/>
<circle cx="115.6" cy="104.3" r="1.1" fill="#d3d3d3"/>
<circle cx="128.5" cy="95.0" r="1.1" fill="#d3d3d3"/>
<circle cx="129.6" cy="103.4" r="1.1" fill="#d3d3d3"/>
<circle cx="112.7" cy="111.6" r="1.1" fill="#d3d3d3"/>
<circle cx="112.7" cy="111.8" r="1.1" fill="#d3d3d3"/>
<circle cx="132.6" cy="101.0" r="1.1" fill="#d3d3d3"/>
<circle cx="135.0" cy="101.6" r="1.1" fill="#d3d3d3"/>
<circle cx="124.8" cy="95.5" r="1.1" fill="#d3d3d3"/>
<circle cx="142.7" cy="92.2" r="1.1" fill="#d3d3d3"/>
<circle cx="115.3" cy="104.1" r="1.1" fill="#d3d3d3"/>
<circle cx="136.5" cy="94.0" r="1.1" fill="#d3d3d3"/>
<circle cx="121.5" cy="98.4" r="1.1" fill="#d3d3d3"/>
<circle cx="133.5" cy="94.9" r="1.1" fill="#d3d3d3"/>
<circle cx="136.0" cy="93.3" r="1.1" fill="#d3d3d3"/>
<circle cx="142.0" cy="93.8" r="1.1" fill="#d3d3d3"/>
<circle cx="113.7" cy="111.6" r="1.1" fill="#d3d3d3"/>
<circle cx="131.7" cy="103.3" r="1.1" fill="#d3d3d3"/>
<circle cx="118.2" cy="110.6" r="1.1" fill="#d3d3d3"/>
<circle cx="126.3" cy="102.2" r="1.1" fill="#d3d3d3"/>
<circle cx="112.7" cy="113.6" r="1.1" fill="#d3d3d3"/>
<circle cx="120.7" cy="92.6" r="1.1" fill="#d3d3d3"/>
<circle cx="120.1" cy="106.7" r="1.1" fill="#d3d3d3"/>
<circle cx="140.7" cy="88.1" r="1.1" fill="#d3d3d3"/>
<circle cx="137.9" cy="94.8" r="1.1" fill="#d3d3d3"/>
<circle cx="126.0" cy="91.9" r="1.1" fill="#d3d3d3"/>
<circle cx="133.2" cy="101.7" r="1.1" fill="#d3d3d3"/>
<circle cx="135.0" cy="89.1" r="1.1" fill="#d3d3d3"/>
<circle cx="117.6" cy="108.1" r="1.1" fill="#d3d3d3"/>
<circle cx="129.7" cy="104.4" r="1.1" fill="#d3d3d3"/>
<circle cx="118.7" cy="95.3" r="1.1" fill="#d3d3d3"/>
<circle cx="80.5" cy="97.5" r="1.1" fill="#d3d3d3"/>
<circle cx="84.0" cy="93.0" r="1.1" fill="#d3d3d3"/>
<circle cx="78.0" cy="103.0" r="1.1" fill="#d3d3d3"/>
<circle cx="90.0" cy="89.5" r="1.1" fill="#d3d3d3"/>
<circle cx="95.0" cy="88.0" r="1.1" fill="#d3d3d3"/>
<circle cx="136.0" cy="90.5" r="1.1" fill="#d3d3d3"/>
<circle cx="139.0" cy="93.5" r="1.1" fill="#d3d3d3"/>
<circle cx="141.5" cy="96.0" r="1.1" fill="#d3d3d3"/>
<circle cx="133.0" cy="88.5" r="1.1" fill="#d3d3d3"/>
<circle cx="86.0" cy="99.0" r="1.1" fill="#d3d3d3"/>
<circle cx="96.0" cy="91.0" r="1.1" fill="#d3d3d3"/>
<circle cx="59.1" cy="18.6" r="1.35" fill="#98c8f4"/>
<circle cx="68.3" cy="31.5" r="1.35" fill="#98c8f4"/>
<circle cx="60.5" cy="38.6" r="1.35" fill="#98c8f4"/>
<circle cx="75.0" cy="36.9" r="1.35" fill="#98c8f4"/>
<circle cx="68.7" cy="41.0" r="1.35" fill="#98c8f4"/>
<circle cx="70.3" cy="45.2" r="1.35" fill="#98c8f4"/>
<circle cx="74.1" cy="44.3" r="1.35" fill="#98c8f4"/>
<circle cx="81.7" cy="42.8" r="1.35" fill="#98c8f4"/>
<circle cx="82.1" cy="47.0" r="1.35" fill="#98c8f4"/>
<circle cx="64.7" cy="50.0" r="1.35" fill="#98c8f4"/>
<circle cx="70.6" cy="51.5" r="1.35" fill="#98c8f4"/>
<circle cx="92.2" cy="49.6" r="1.35" fill="#98c8f4"/>
<circle cx="90.4" cy="54.3" r="1.35" fill="#98c8f4"/>
<circle cx="96.9" cy="53.9" r="1.35" fill="#98c8f4"/>
<circle cx="71.6" cy="59.7" r="1.35" fill="#98c8f4"/>
<circle cx="78.2" cy="61.0" r="1.35" fill="#98c8f4"/>
<circle cx="77.1" cy="61.0" r="1.35" fill="#98c8f4"/>
<circle cx="96.0" cy="59.2" r="1.35" fill="#98c8f4"/>
<circle cx="98.2" cy="62.4" r="1.35" fill="#98c8f4"/>
<circle cx="74.5" cy="67.1" r="1.35" fill="#98c8f4"/>
<circle cx="84.7" cy="66.3" r="1.35" fill="#98c8f4"/>
<circle cx="92.6" cy="66.3" r="1.35" fill="#98c8f4"/>
<circle cx="97.9" cy="65.5" r="1.35" fill="#98c8f4"/>
<circle cx="82.9" cy="71.0" r="1.35" fill="#98c8f4"/>
<circle cx="89.5" cy="71.6" r="1.35" fill="#98c8f4"/>
<circle cx="93.4" cy="70.5" r="1.35" fill="#98c8f4"/>
<circle cx="75.8" cy="75.8" r="1.35" fill="#98c8f4"/>
<circle cx="83.7" cy="74.2" r="1.35" fill="#98c8f4"/>
<circle cx="91.3" cy="76.8" r="1.35" fill="#98c8f4"/>
<circle cx="98.2" cy="76.8" r="1.35" fill="#98c8f4"/>
<circle cx="98.7" cy="79.5" r="1.35" fill="#98c8f4"/>
<circle cx="79.7" cy="80.0" r="1.35" fill="#98c8f4"/>
<circle cx="88.2" cy="82.1" r="1.35" fill="#98c8f4"/>
<circle cx="90.0" cy="82.6" r="1.35" fill="#98c8f4"/>
<circle cx="85.5" cy="85.3" r="1.35" fill="#98c8f4"/>
<circle cx="88.9" cy="86.8" r="1.35" fill="#98c8f4"/>
<circle cx="97.4" cy="83.4" r="1.35" fill="#98c8f4"/>
<circle cx="98.2" cy="86.0" r="1.35" fill="#98c8f4"/>
<circle cx="91.6" cy="87.4" r="1.35" fill="#98c8f4"/>
<circle cx="88.2" cy="89.5" r="1.35" fill="#98c8f4"/>
<circle cx="98.7" cy="89.5" r="1.35" fill="#98c8f4"/>
<circle cx="100.5" cy="89.5" r="1.35" fill="#98c8f4"/>
<circle cx="123.7" cy="82.1" r="1.35" fill="#98c8f4"/>
<circle cx="128.4" cy="81.6" r="1.35" fill="#98c8f4"/>
<circle cx="124.2" cy="84.2" r="1.35" fill="#98c8f4"/>
<circle cx="117.9" cy="88.2" r="1.35" fill="#98c8f4"/>
<circle cx="125.0" cy="89.5" r="1.35" fill="#98c8f4"/>
<circle cx="130.3" cy="87.9" r="1.35" fill="#98c8f4"/>
<circle cx="132.9" cy="85.3" r="1.35" fill="#98c8f4"/>
<circle cx="131.0" cy="86.8" r="1.35" fill="#98c8f4"/>
<circle cx="138.2" cy="82.1" r="1.35" fill="#98c8f4"/>
<circle cx="136.3" cy="86.0" r="1.35" fill="#98c8f4"/>
<circle cx="139.5" cy="88.7" r="1.35" fill="#98c8f4"/>
<circle cx="145.3" cy="82.1" r="1.35" fill="#98c8f4"/>
<circle cx="148.7" cy="80.3" r="1.35" fill="#98c8f4"/>
<circle cx="144.2" cy="86.8" r="1.35" fill="#98c8f4"/>
<circle cx="140.8" cy="88.2" r="1.35" fill="#98c8f4"/>
<line x1="110.50" y1="9.50" x2="110.50" y2="123.30" stroke="#555" stroke-width="1.1"/>
<line x1="50.20" y1="123.30" x2="171.00" y2="123.30" stroke="#555" stroke-width="1.1"/>
<text x="50.10" y="138.11" font-size="6.7" text-anchor="middle" fill="#1c1c1c">-1</text>
<text x="80.30" y="138.11" font-size="6.7" text-anchor="middle" fill="#1c1c1c">-0.5</text>
<text x="110.50" y="138.11" font-size="6.7" text-anchor="middle" fill="#1c1c1c">0</text>
<text x="140.70" y="138.11" font-size="6.7" text-anchor="middle" fill="#1c1c1c">0.5</text>
<text x="170.90" y="138.11" font-size="6.7" text-anchor="middle" fill="#1c1c1c">1</text>
<text x="80.40" y="130.86" font-size="6.0" text-anchor="middle" fill="#1c1c1c">(B)</text>
<text x="140.80" y="130.86" font-size="6.0" text-anchor="middle" fill="#1c1c1c">(A)</text>
<path d="M51.2 128.7h7M51.2 128.7l2 -1.3M51.2 128.7l2 1.3" stroke="#777" stroke-width="0.7" fill="none"/>
<path d="M170.0 128.7h-7M170.0 128.7l-2 -1.3M170.0 128.7l-2 1.3" stroke="#777" stroke-width="0.7" fill="none"/>
<text x="110.50" y="147.00" font-size="6.4" text-anchor="middle" fill="#1c1c1c">Log Ratio</text>
<text x="43.70" y="161.67" font-size="6.60" textLength="116.70" lengthAdjust="spacingAndGlyphs" fill="#111">SUCNR1 Groups in KIRC: (A) −3.21 - 0.01</text>
<text x="118.70" y="168.92" font-size="6.44" textLength="38.50" lengthAdjust="spacingAndGlyphs" fill="#111">(B) 0.01 - 4.35</text>
<text transform="translate(30.94 0) rotate(-90) translate(-134.00 0)" x="67.00" y="0" font-size="6.24" text-anchor="middle" textLength="37.50" lengthAdjust="spacingAndGlyphs" fill="#1c1c1c">-log10 p-Value</text>
<text transform="translate(178.15 0) rotate(-90) translate(-143.00 0)" x="71.50" y="0" font-size="6.25" text-anchor="middle" textLength="31.50" lengthAdjust="spacingAndGlyphs" fill="#1c1c1c">Significance</text>
<path d="M175.6 54.5v-5.6M175.6 48.9l-1.1 1.8M175.6 48.9l1.1 1.8" stroke="#555" stroke-width="0.6" fill="none"/>
<line x1="289.00" y1="7.60" x2="289.00" y2="122.60" stroke="#ececec" stroke-width="0.8"/>
<line x1="321.82" y1="7.60" x2="321.82" y2="122.60" stroke="#efefef" stroke-width="0.8" stroke-dasharray="2.5 1.5"/>
<line x1="387.48" y1="7.60" x2="387.48" y2="122.60" stroke="#efefef" stroke-width="0.8" stroke-dasharray="2.5 1.5"/>
<line x1="420.30" y1="7.60" x2="420.30" y2="122.60" stroke="#efefef" stroke-width="0.8"/>
<line x1="289.00" y1="11.60" x2="420.30" y2="11.60" stroke="#efefef" stroke-width="0.8" stroke-dasharray="2.5 1.5"/>
<text x="284.50" y="13.87" font-size="6.3" text-anchor="end" fill="#1c1c1c">6.0</text>
<line x1="289.00" y1="45.60" x2="420.30" y2="45.60" stroke="#efefef" stroke-width="0.8" stroke-dasharray="2.5 1.5"/>
<text x="284.50" y="47.87" font-size="6.3" text-anchor="end" fill="#1c1c1c">4.0</text>
<line x1="289.00" y1="79.70" x2="420.30" y2="79.70" stroke="#efefef" stroke-width="0.8" stroke-dasharray="2.5 1.5"/>
<text x="284.50" y="81.97" font-size="6.3" text-anchor="end" fill="#1c1c1c">2.0</text>
<circle cx="347.7" cy="82.4" r="1.1" fill="#d3d3d3"/>
<circle cx="343.9" cy="85.7" r="1.1" fill="#d3d3d3"/>
<circle cx="347.5" cy="98.8" r="1.1" fill="#d3d3d3"/>
<circle cx="341.4" cy="76.4" r="1.1" fill="#d3d3d3"/>
<circle cx="349.4" cy="106.7" r="1.1" fill="#d3d3d3"/>
<circle cx="352.6" cy="113.0" r="1.1" fill="#d3d3d3"/>
<circle cx="345.5" cy="88.9" r="1.1" fill="#d3d3d3"/>
<circle cx="345.2" cy="81.5" r="1.1" fill="#d3d3d3"/>
<circle cx="345.1" cy="85.5" r="1.1" fill="#d3d3d3"/>
<circle cx="345.5" cy="90.5" r="1.1" fill="#d3d3d3"/>
<circle cx="344.1" cy="87.8" r="1.1" fill="#d3d3d3"/>
<circle cx="352.5" cy="108.0" r="1.1" fill="#d3d3d3"/>
<circle cx="341.0" cy="87.1" r="1.1" fill="#d3d3d3"/>
<circle cx="351.2" cy="108.5" r="1.1" fill="#d3d3d3"/>
<circle cx="340.2" cy="86.0" r="1.1" fill="#d3d3d3"/>
<circle cx="354.2" cy="114.2" r="1.1" fill="#d3d3d3"/>
<circle cx="347.2" cy="87.9" r="1.1" fill="#d3d3d3"/>
<circle cx="352.5" cy="112.8" r="1.1" fill="#d3d3d3"/>
<circle cx="338.4" cy="84.4" r="1.1" fill="#d3d3d3"/>
<circle cx="347.0" cy="94.6" r="1.1" fill="#d3d3d3"/>
<circle cx="349.1" cy="104.9" r="1.1" fill="#d3d3d3"/>
<circle cx="340.1" cy="84.5" r="1.1" fill="#d3d3d3"/>
<circle cx="347.7" cy="95.9" r="1.1" fill="#d3d3d3"/>
<circle cx="348.1" cy="92.2" r="1.1" fill="#d3d3d3"/>
<circle cx="345.5" cy="94.4" r="1.1" fill="#d3d3d3"/>
<circle cx="353.9" cy="109.6" r="1.1" fill="#d3d3d3"/>
<circle cx="350.4" cy="99.1" r="1.1" fill="#d3d3d3"/>
<circle cx="345.0" cy="86.4" r="1.1" fill="#d3d3d3"/>
<circle cx="351.4" cy="108.0" r="1.1" fill="#d3d3d3"/>
<circle cx="346.5" cy="78.5" r="1.1" fill="#d3d3d3"/>
<circle cx="347.6" cy="88.7" r="1.1" fill="#d3d3d3"/>
<circle cx="344.7" cy="87.0" r="1.1" fill="#d3d3d3"/>
<circle cx="345.0" cy="87.9" r="1.1" fill="#d3d3d3"/>
<circle cx="353.6" cy="111.1" r="1.1" fill="#d3d3d3"/>
<circle cx="353.8" cy="110.4" r="1.1" fill="#d3d3d3"/>
<circle cx="348.9" cy="89.3" r="1.1" fill="#d3d3d3"/>
<circle cx="347.1" cy="81.7" r="1.1" fill="#d3d3d3"/>
<circle cx="345.4" cy="83.6" r="1.1" fill="#d3d3d3"/>
<circle cx="351.2" cy="113.1" r="1.1" fill="#d3d3d3"/>
<circle cx="347.1" cy="96.5" r="1.1" fill="#d3d3d3"/>
<circle cx="339.3" cy="78.7" r="1.1" fill="#d3d3d3"/>
<circle cx="354.1" cy="114.0" r="1.1" fill="#d3d3d3"/>
<circle cx="349.1" cy="94.4" r="1.1" fill="#d3d3d3"/>
<circle cx="345.8" cy="76.9" r="1.1" fill="#d3d3d3"/>
<circle cx="344.2" cy="84.2" r="1.1" fill="#d3d3d3"/>
<circle cx="350.4" cy="103.4" r="1.1" fill="#d3d3d3"/>
<circle cx="346.6" cy="82.9" r="1.1" fill="#d3d3d3"/>
<circle cx="342.2" cy="85.6" r="1.1" fill="#d3d3d3"/>
<circle cx="347.4" cy="87.2" r="1.1" fill="#d3d3d3"/>
<circle cx="349.3" cy="95.0" r="1.1" fill="#d3d3d3"/>
<circle cx="352.0" cy="106.0" r="1.1" fill="#d3d3d3"/>
<circle cx="349.5" cy="103.1" r="1.1" fill="#d3d3d3"/>
<circle cx="351.5" cy="107.7" r="1.1" fill="#d3d3d3"/>
<circle cx="344.5" cy="89.2" r="1.1" fill="#d3d3d3"/>
<circle cx="341.4" cy="93.9" r="1.1" fill="#d3d3d3"/>
<circle cx="351.0" cy="104.3" r="1.1" fill="#d3d3d3"/>
<circle cx="338.1" cy="93.3" r="1.1" fill="#d3d3d3"/>
<circle cx="350.0" cy="109.8" r="1.1" fill="#d3d3d3"/>
<circle cx="350.7" cy="103.0" r="1.1" fill="#d3d3d3"/>
<circle cx="353.5" cy="111.9" r="1.1" fill="#d3d3d3"/>
<circle cx="353.0" cy="109.6" r="1.1" fill="#d3d3d3"/>
<circle cx="344.6" cy="98.3" r="1.1" fill="#d3d3d3"/>
<circle cx="349.6" cy="101.3" r="1.1" fill="#d3d3d3"/>
<circle cx="349.7" cy="95.3" r="1.1" fill="#d3d3d3"/>
<circle cx="349.4" cy="106.2" r="1.1" fill="#d3d3d3"/>
<circle cx="350.6" cy="108.5" r="1.1" fill="#d3d3d3"/>
<circle cx="352.3" cy="112.9" r="1.1" fill="#d3d3d3"/>
<circle cx="345.4" cy="85.9" r="1.1" fill="#d3d3d3"/>
<circle cx="352.8" cy="109.6" r="1.1" fill="#d3d3d3"/>
<circle cx="347.4" cy="103.2" r="1.1" fill="#d3d3d3"/>
<circle cx="351.3" cy="105.9" r="1.1" fill="#d3d3d3"/>
<circle cx="353.9" cy="113.7" r="1.1" fill="#d3d3d3"/>
<circle cx="344.0" cy="97.5" r="1.1" fill="#d3d3d3"/>
<circle cx="345.8" cy="82.9" r="1.1" fill="#d3d3d3"/>
<circle cx="354.0" cy="112.8" r="1.1" fill="#d3d3d3"/>
<circle cx="346.0" cy="101.4" r="1.1" fill="#d3d3d3"/>
<circle cx="352.5" cy="111.1" r="1.1" fill="#d3d3d3"/>
<circle cx="335.8" cy="86.5" r="1.1" fill="#d3d3d3"/>
<circle cx="342.8" cy="86.8" r="1.1" fill="#d3d3d3"/>
<circle cx="352.3" cy="107.2" r="1.1" fill="#d3d3d3"/>
<circle cx="345.4" cy="76.6" r="1.1" fill="#d3d3d3"/>
<circle cx="340.5" cy="86.3" r="1.1" fill="#d3d3d3"/>
<circle cx="336.4" cy="81.1" r="1.1" fill="#d3d3d3"/>
<circle cx="345.9" cy="99.7" r="1.1" fill="#d3d3d3"/>
<circle cx="347.1" cy="83.3" r="1.1" fill="#d3d3d3"/>
<circle cx="348.4" cy="88.9" r="1.1" fill="#d3d3d3"/>
<circle cx="353.6" cy="113.0" r="1.1" fill="#d3d3d3"/>
<circle cx="345.9" cy="82.5" r="1.1" fill="#d3d3d3"/>
<circle cx="345.9" cy="95.9" r="1.1" fill="#d3d3d3"/>
<circle cx="353.7" cy="110.1" r="1.1" fill="#d3d3d3"/>
<circle cx="350.2" cy="97.7" r="1.1" fill="#d3d3d3"/>
<circle cx="352.2" cy="114.0" r="1.1" fill="#d3d3d3"/>
<circle cx="342.2" cy="83.0" r="1.1" fill="#d3d3d3"/>
<circle cx="342.4" cy="80.8" r="1.1" fill="#d3d3d3"/>
<circle cx="351.2" cy="111.4" r="1.1" fill="#d3d3d3"/>
<circle cx="353.6" cy="112.6" r="1.1" fill="#d3d3d3"/>
<circle cx="348.6" cy="98.3" r="1.1" fill="#d3d3d3"/>
<circle cx="345.3" cy="95.5" r="1.1" fill="#d3d3d3"/>
<circle cx="345.5" cy="88.1" r="1.1" fill="#d3d3d3"/>
<circle cx="349.8" cy="96.4" r="1.1" fill="#d3d3d3"/>
<circle cx="346.5" cy="82.2" r="1.1" fill="#d3d3d3"/>
<circle cx="341.5" cy="91.0" r="1.1" fill="#d3d3d3"/>
<circle cx="351.3" cy="110.2" r="1.1" fill="#d3d3d3"/>
<circle cx="351.6" cy="110.2" r="1.1" fill="#d3d3d3"/>
<circle cx="353.9" cy="113.1" r="1.1" fill="#d3d3d3"/>
<circle cx="353.5" cy="112.6" r="1.1" fill="#d3d3d3"/>
<circle cx="346.6" cy="82.9" r="1.1" fill="#d3d3d3"/>
<circle cx="346.5" cy="95.5" r="1.1" fill="#d3d3d3"/>
<circle cx="348.5" cy="99.8" r="1.1" fill="#d3d3d3"/>
<circle cx="344.5" cy="82.8" r="1.1" fill="#d3d3d3"/>
<circle cx="350.9" cy="106.3" r="1.1" fill="#d3d3d3"/>
<circle cx="341.9" cy="78.9" r="1.1" fill="#d3d3d3"/>
<circle cx="340.9" cy="79.3" r="1.1" fill="#d3d3d3"/>
<circle cx="344.0" cy="103.3" r="1.1" fill="#d3d3d3"/>
<circle cx="348.6" cy="103.0" r="1.1" fill="#d3d3d3"/>
<circle cx="352.5" cy="110.9" r="1.1" fill="#d3d3d3"/>
<circle cx="345.2" cy="77.5" r="1.1" fill="#d3d3d3"/>
<circle cx="350.1" cy="108.2" r="1.1" fill="#d3d3d3"/>
<circle cx="352.8" cy="110.3" r="1.1" fill="#d3d3d3"/>
<circle cx="347.9" cy="85.6" r="1.1" fill="#d3d3d3"/>
<circle cx="337.5" cy="90.1" r="1.1" fill="#d3d3d3"/>
<circle cx="343.9" cy="84.0" r="1.1" fill="#d3d3d3"/>
<circle cx="350.0" cy="109.5" r="1.1" fill="#d3d3d3"/>
<circle cx="350.9" cy="101.6" r="1.1" fill="#d3d3d3"/>
<circle cx="348.2" cy="91.1" r="1.1" fill="#d3d3d3"/>
<circle cx="348.2" cy="94.5" r="1.1" fill="#d3d3d3"/>
<circle cx="342.2" cy="94.5" r="1.1" fill="#d3d3d3"/>
<circle cx="343.1" cy="93.6" r="1.1" fill="#d3d3d3"/>
<circle cx="347.0" cy="81.6" r="1.1" fill="#d3d3d3"/>
<circle cx="348.6" cy="86.3" r="1.1" fill="#d3d3d3"/>
<circle cx="346.5" cy="104.3" r="1.1" fill="#d3d3d3"/>
<circle cx="345.4" cy="81.4" r="1.1" fill="#d3d3d3"/>
<circle cx="348.8" cy="105.4" r="1.1" fill="#d3d3d3"/>
<circle cx="344.1" cy="75.7" r="1.1" fill="#d3d3d3"/>
<circle cx="346.4" cy="96.9" r="1.1" fill="#d3d3d3"/>
<circle cx="343.3" cy="83.7" r="1.1" fill="#d3d3d3"/>
<circle cx="347.6" cy="103.9" r="1.1" fill="#d3d3d3"/>
<circle cx="351.3" cy="105.0" r="1.1" fill="#d3d3d3"/>
<circle cx="340.8" cy="76.7" r="1.1" fill="#d3d3d3"/>
<circle cx="351.9" cy="101.3" r="1.1" fill="#d3d3d3"/>
<circle cx="351.5" cy="102.7" r="1.1" fill="#d3d3d3"/>
<circle cx="339.8" cy="84.0" r="1.1" fill="#d3d3d3"/>
<circle cx="348.4" cy="95.8" r="1.1" fill="#d3d3d3"/>
<circle cx="342.0" cy="87.4" r="1.1" fill="#d3d3d3"/>
<circle cx="353.4" cy="111.2" r="1.1" fill="#d3d3d3"/>
<circle cx="342.6" cy="83.3" r="1.1" fill="#d3d3d3"/>
<circle cx="349.5" cy="103.3" r="1.1" fill="#d3d3d3"/>
<circle cx="349.6" cy="109.8" r="1.1" fill="#d3d3d3"/>
<circle cx="348.6" cy="94.3" r="1.1" fill="#d3d3d3"/>
<circle cx="348.7" cy="94.8" r="1.1" fill="#d3d3d3"/>
<circle cx="340.0" cy="82.7" r="1.1" fill="#d3d3d3"/>
<circle cx="347.5" cy="91.7" r="1.1" fill="#d3d3d3"/>
<circle cx="349.0" cy="88.8" r="1.1" fill="#d3d3d3"/>
<circle cx="349.1" cy="96.7" r="1.1" fill="#d3d3d3"/>
<circle cx="347.6" cy="90.4" r="1.1" fill="#d3d3d3"/>
<circle cx="340.0" cy="79.8" r="1.1" fill="#d3d3d3"/>
<circle cx="347.0" cy="81.7" r="1.1" fill="#d3d3d3"/>
<circle cx="344.6" cy="84.1" r="1.1" fill="#d3d3d3"/>
<circle cx="341.3" cy="84.1" r="1.1" fill="#d3d3d3"/>
<circle cx="338.9" cy="90.4" r="1.1" fill="#d3d3d3"/>
<circle cx="340.8" cy="82.2" r="1.1" fill="#d3d3d3"/>
<circle cx="340.2" cy="84.7" r="1.1" fill="#d3d3d3"/>
<circle cx="347.6" cy="84.7" r="1.1" fill="#d3d3d3"/>
<circle cx="336.5" cy="85.2" r="1.1" fill="#d3d3d3"/>
<circle cx="346.1" cy="87.7" r="1.1" fill="#d3d3d3"/>
<circle cx="348.2" cy="108.9" r="1.1" fill="#d3d3d3"/>
<circle cx="351.6" cy="104.3" r="1.1" fill="#d3d3d3"/>
<circle cx="346.4" cy="84.0" r="1.1" fill="#d3d3d3"/>
<circle cx="343.4" cy="78.4" r="1.1" fill="#d3d3d3"/>
<circle cx="347.8" cy="101.1" r="1.1" fill="#d3d3d3"/>
<circle cx="350.4" cy="95.5" r="1.1" fill="#d3d3d3"/>
<circle cx="350.3" cy="102.5" r="1.1" fill="#d3d3d3"/>
<circle cx="353.5" cy="112.6" r="1.1" fill="#d3d3d3"/>
<circle cx="344.8" cy="88.6" r="1.1" fill="#d3d3d3"/>
<circle cx="345.9" cy="96.6" r="1.1" fill="#d3d3d3"/>
<circle cx="350.7" cy="107.8" r="1.1" fill="#d3d3d3"/>
<circle cx="347.0" cy="79.5" r="1.1" fill="#d3d3d3"/>
<circle cx="352.0" cy="107.7" r="1.1" fill="#d3d3d3"/>
<circle cx="343.1" cy="89.4" r="1.1" fill="#d3d3d3"/>
<circle cx="350.1" cy="101.8" r="1.1" fill="#d3d3d3"/>
<circle cx="349.0" cy="97.4" r="1.1" fill="#d3d3d3"/>
<circle cx="351.9" cy="110.5" r="1.1" fill="#d3d3d3"/>
<circle cx="347.0" cy="92.3" r="1.1" fill="#d3d3d3"/>
<circle cx="353.9" cy="112.9" r="1.1" fill="#d3d3d3"/>
<circle cx="347.7" cy="105.7" r="1.1" fill="#d3d3d3"/>
<circle cx="345.9" cy="82.8" r="1.1" fill="#d3d3d3"/>
<circle cx="344.0" cy="95.8" r="1.1" fill="#d3d3d3"/>
<circle cx="349.4" cy="99.0" r="1.1" fill="#d3d3d3"/>
<circle cx="348.1" cy="94.5" r="1.1" fill="#d3d3d3"/>
<circle cx="337.1" cy="90.9" r="1.1" fill="#d3d3d3"/>
<circle cx="344.8" cy="86.1" r="1.1" fill="#d3d3d3"/>
<circle cx="349.1" cy="91.8" r="1.1" fill="#d3d3d3"/>
<circle cx="344.9" cy="81.3" r="1.1" fill="#d3d3d3"/>
<circle cx="341.1" cy="79.1" r="1.1" fill="#d3d3d3"/>
<circle cx="351.7" cy="108.6" r="1.1" fill="#d3d3d3"/>
<circle cx="353.6" cy="111.4" r="1.1" fill="#d3d3d3"/>
<circle cx="338.8" cy="81.0" r="1.1" fill="#d3d3d3"/>
<circle cx="345.2" cy="93.6" r="1.1" fill="#d3d3d3"/>
<circle cx="344.8" cy="95.7" r="1.1" fill="#d3d3d3"/>
<circle cx="345.4" cy="103.0" r="1.1" fill="#d3d3d3"/>
<circle cx="350.5" cy="98.0" r="1.1" fill="#d3d3d3"/>
<circle cx="340.7" cy="84.1" r="1.1" fill="#d3d3d3"/>
<circle cx="353.4" cy="112.1" r="1.1" fill="#d3d3d3"/>
<circle cx="351.8" cy="105.7" r="1.1" fill="#d3d3d3"/>
<circle cx="354.5" cy="111.9" r="1.1" fill="#d3d3d3"/>
<circle cx="346.4" cy="101.3" r="1.1" fill="#d3d3d3"/>
<circle cx="346.0" cy="97.2" r="1.1" fill="#d3d3d3"/>
<circle cx="353.3" cy="110.5" r="1.1" fill="#d3d3d3"/>
<circle cx="344.5" cy="81.8" r="1.1" fill="#d3d3d3"/>
<circle cx="351.4" cy="109.0" r="1.1" fill="#d3d3d3"/>
<circle cx="352.6" cy="110.6" r="1.1" fill="#d3d3d3"/>
<circle cx="353.5" cy="113.4" r="1.1" fill="#d3d3d3"/>
<circle cx="346.7" cy="100.6" r="1.1" fill="#d3d3d3"/>
<circle cx="345.8" cy="81.2" r="1.1" fill="#d3d3d3"/>
<circle cx="348.4" cy="88.1" r="1.1" fill="#d3d3d3"/>
<circle cx="340.8" cy="78.1" r="1.1" fill="#d3d3d3"/>
<circle cx="338.2" cy="89.3" r="1.1" fill="#d3d3d3"/>
<circle cx="353.7" cy="112.7" r="1.1" fill="#d3d3d3"/>
<circle cx="343.8" cy="100.9" r="1.1" fill="#d3d3d3"/>
<circle cx="348.5" cy="102.8" r="1.1" fill="#d3d3d3"/>
<circle cx="341.7" cy="92.6" r="1.1" fill="#d3d3d3"/>
<circle cx="353.2" cy="113.7" r="1.1" fill="#d3d3d3"/>
<circle cx="346.7" cy="84.8" r="1.1" fill="#d3d3d3"/>
<circle cx="351.4" cy="105.5" r="1.1" fill="#d3d3d3"/>
<circle cx="348.4" cy="87.8" r="1.1" fill="#d3d3d3"/>
<circle cx="347.1" cy="89.8" r="1.1" fill="#d3d3d3"/>
<circle cx="347.8" cy="88.6" r="1.1" fill="#d3d3d3"/>
<circle cx="344.7" cy="93.9" r="1.1" fill="#d3d3d3"/>
<circle cx="337.9" cy="80.3" r="1.1" fill="#d3d3d3"/>
<circle cx="349.2" cy="101.5" r="1.1" fill="#d3d3d3"/>
<circle cx="350.3" cy="105.4" r="1.1" fill="#d3d3d3"/>
<circle cx="347.9" cy="95.3" r="1.1" fill="#d3d3d3"/>
<circle cx="349.7" cy="103.2" r="1.1" fill="#d3d3d3"/>
<circle cx="347.6" cy="87.0" r="1.1" fill="#d3d3d3"/>
<circle cx="347.7" cy="105.7" r="1.1" fill="#d3d3d3"/>
<circle cx="351.0" cy="104.4" r="1.1" fill="#d3d3d3"/>
<circle cx="339.9" cy="90.9" r="1.1" fill="#d3d3d3"/>
<circle cx="340.9" cy="87.2" r="1.1" fill="#d3d3d3"/>
<circle cx="344.1" cy="77.1" r="1.1" fill="#d3d3d3"/>
<circle cx="347.2" cy="92.1" r="1.1" fill="#d3d3d3"/>
<circle cx="344.0" cy="81.7" r="1.1" fill="#d3d3d3"/>
<circle cx="348.7" cy="97.0" r="1.1" fill="#d3d3d3"/>
<circle cx="345.7" cy="82.2" r="1.1" fill="#d3d3d3"/>
<circle cx="348.1" cy="97.9" r="1.1" fill="#d3d3d3"/>
<circle cx="348.0" cy="95.6" r="1.1" fill="#d3d3d3"/>
<circle cx="341.3" cy="87.0" r="1.1" fill="#d3d3d3"/>
<circle cx="337.4" cy="78.8" r="1.1" fill="#d3d3d3"/>
<circle cx="342.6" cy="79.4" r="1.1" fill="#d3d3d3"/>
<circle cx="354.2" cy="113.7" r="1.1" fill="#d3d3d3"/>
<circle cx="351.4" cy="97.9" r="1.1" fill="#d3d3d3"/>
<circle cx="351.7" cy="106.1" r="1.1" fill="#d3d3d3"/>
<circle cx="337.1" cy="80.7" r="1.1" fill="#d3d3d3"/>
<circle cx="343.1" cy="85.3" r="1.1" fill="#d3d3d3"/>
<circle cx="350.6" cy="104.9" r="1.1" fill="#d3d3d3"/>
<circle cx="339.8" cy="86.8" r="1.1" fill="#d3d3d3"/>
<circle cx="344.5" cy="86.2" r="1.1" fill="#d3d3d3"/>
<circle cx="347.1" cy="105.3" r="1.1" fill="#d3d3d3"/>
<circle cx="342.4" cy="85.1" r="1.1" fill="#d3d3d3"/>
<circle cx="345.5" cy="96.6" r="1.1" fill="#d3d3d3"/>
<circle cx="346.1" cy="100.7" r="1.1" fill="#d3d3d3"/>
<circle cx="341.5" cy="81.3" r="1.1" fill="#d3d3d3"/>
<circle cx="345.6" cy="100.7" r="1.1" fill="#d3d3d3"/>
<circle cx="351.9" cy="110.4" r="1.1" fill="#d3d3d3"/>
<circle cx="347.0" cy="97.5" r="1.1" fill="#d3d3d3"/>
<circle cx="343.0" cy="83.3" r="1.1" fill="#d3d3d3"/>
<circle cx="345.4" cy="87.1" r="1.1" fill="#d3d3d3"/>
<circle cx="344.1" cy="73.4" r="1.1" fill="#d3d3d3"/>
<circle cx="351.3" cy="107.2" r="1.1" fill="#d3d3d3"/>
<circle cx="346.8" cy="102.9" r="1.1" fill="#d3d3d3"/>
<circle cx="347.3" cy="90.4" r="1.1" fill="#d3d3d3"/>
<circle cx="348.0" cy="95.6" r="1.1" fill="#d3d3d3"/>
<circle cx="348.4" cy="94.5" r="1.1" fill="#d3d3d3"/>
<circle cx="353.6" cy="111.5" r="1.1" fill="#d3d3d3"/>
<circle cx="347.8" cy="85.7" r="1.1" fill="#d3d3d3"/>
<circle cx="339.9" cy="83.4" r="1.1" fill="#d3d3d3"/>
<circle cx="341.7" cy="78.7" r="1.1" fill="#d3d3d3"/>
<circle cx="344.2" cy="86.4" r="1.1" fill="#d3d3d3"/>
<circle cx="350.5" cy="96.6" r="1.1" fill="#d3d3d3"/>
<circle cx="336.8" cy="86.1" r="1.1" fill="#d3d3d3"/>
<circle cx="350.8" cy="97.0" r="1.1" fill="#d3d3d3"/>
<circle cx="350.3" cy="100.7" r="1.1" fill="#d3d3d3"/>
<circle cx="346.3" cy="102.7" r="1.1" fill="#d3d3d3"/>
<circle cx="351.6" cy="102.3" r="1.1" fill="#d3d3d3"/>
<circle cx="352.9" cy="108.2" r="1.1" fill="#d3d3d3"/>
<circle cx="351.9" cy="111.8" r="1.1" fill="#d3d3d3"/>
<circle cx="346.6" cy="76.4" r="1.1" fill="#d3d3d3"/>
<circle cx="341.0" cy="84.5" r="1.1" fill="#d3d3d3"/>
<circle cx="353.2" cy="109.5" r="1.1" fill="#d3d3d3"/>
<circle cx="354.4" cy="113.4" r="1.1" fill="#d3d3d3"/>
<circle cx="350.9" cy="106.5" r="1.1" fill="#d3d3d3"/>
<circle cx="344.8" cy="90.6" r="1.1" fill="#d3d3d3"/>
<circle cx="345.9" cy="83.2" r="1.1" fill="#d3d3d3"/>
<circle cx="348.0" cy="99.5" r="1.1" fill="#d3d3d3"/>
<circle cx="348.6" cy="101.3" r="1.1" fill="#d3d3d3"/>
<circle cx="350.3" cy="111.3" r="1.1" fill="#d3d3d3"/>
<circle cx="349.9" cy="99.3" r="1.1" fill="#d3d3d3"/>
<circle cx="352.9" cy="108.2" r="1.1" fill="#d3d3d3"/>
<circle cx="337.1" cy="83.1" r="1.1" fill="#d3d3d3"/>
<circle cx="337.3" cy="87.1" r="1.1" fill="#d3d3d3"/>
<circle cx="349.7" cy="109.1" r="1.1" fill="#d3d3d3"/>
<circle cx="340.0" cy="81.7" r="1.1" fill="#d3d3d3"/>
<circle cx="349.1" cy="91.7" r="1.1" fill="#d3d3d3"/>
<circle cx="351.3" cy="98.5" r="1.1" fill="#d3d3d3"/>
<circle cx="347.0" cy="87.1" r="1.1" fill="#d3d3d3"/>
<circle cx="338.1" cy="85.4" r="1.1" fill="#d3d3d3"/>
<circle cx="349.9" cy="93.5" r="1.1" fill="#d3d3d3"/>
<circle cx="347.9" cy="83.0" r="1.1" fill="#d3d3d3"/>
<circle cx="346.4" cy="99.6" r="1.1" fill="#d3d3d3"/>
<circle cx="350.1" cy="105.1" r="1.1" fill="#d3d3d3"/>
<circle cx="344.1" cy="95.1" r="1.1" fill="#d3d3d3"/>
<circle cx="351.6" cy="112.2" r="1.1" fill="#d3d3d3"/>
<circle cx="342.7" cy="97.9" r="1.1" fill="#d3d3d3"/>
<circle cx="339.5" cy="83.9" r="1.1" fill="#d3d3d3"/>
<circle cx="345.4" cy="87.0" r="1.1" fill="#d3d3d3"/>
<circle cx="352.4" cy="112.7" r="1.1" fill="#d3d3d3"/>
<circle cx="348.9" cy="91.3" r="1.1" fill="#d3d3d3"/>
<circle cx="346.7" cy="94.7" r="1.1" fill="#d3d3d3"/>
<circle cx="351.0" cy="106.6" r="1.1" fill="#d3d3d3"/>
<circle cx="349.7" cy="109.4" r="1.1" fill="#d3d3d3"/>
<circle cx="341.4" cy="92.8" r="1.1" fill="#d3d3d3"/>
<circle cx="338.7" cy="88.7" r="1.1" fill="#d3d3d3"/>
<circle cx="351.8" cy="109.8" r="1.1" fill="#d3d3d3"/>
<circle cx="349.5" cy="98.0" r="1.1" fill="#d3d3d3"/>
<circle cx="350.5" cy="102.5" r="1.1" fill="#d3d3d3"/>
<circle cx="353.7" cy="111.2" r="1.1" fill="#d3d3d3"/>
<circle cx="344.0" cy="103.0" r="1.1" fill="#d3d3d3"/>
<circle cx="340.4" cy="90.4" r="1.1" fill="#d3d3d3"/>
<circle cx="350.9" cy="108.2" r="1.1" fill="#d3d3d3"/>
<circle cx="349.4" cy="89.7" r="1.1" fill="#d3d3d3"/>
<circle cx="350.6" cy="104.5" r="1.1" fill="#d3d3d3"/>
<circle cx="348.4" cy="108.1" r="1.1" fill="#d3d3d3"/>
<circle cx="353.7" cy="113.5" r="1.1" fill="#d3d3d3"/>
<circle cx="348.1" cy="98.1" r="1.1" fill="#d3d3d3"/>
<circle cx="338.4" cy="88.9" r="1.1" fill="#d3d3d3"/>
<circle cx="350.7" cy="108.4" r="1.1" fill="#d3d3d3"/>
<circle cx="353.0" cy="106.9" r="1.1" fill="#d3d3d3"/>
<circle cx="347.5" cy="83.7" r="1.1" fill="#d3d3d3"/>
<circle cx="346.5" cy="89.8" r="1.1" fill="#d3d3d3"/>
<circle cx="348.4" cy="105.7" r="1.1" fill="#d3d3d3"/>
<circle cx="343.4" cy="98.7" r="1.1" fill="#d3d3d3"/>
<circle cx="349.5" cy="94.7" r="1.1" fill="#d3d3d3"/>
<circle cx="345.5" cy="87.4" r="1.1" fill="#d3d3d3"/>
<circle cx="354.2" cy="111.6" r="1.1" fill="#d3d3d3"/>
<circle cx="354.0" cy="111.2" r="1.1" fill="#d3d3d3"/>
<circle cx="349.3" cy="96.0" r="1.1" fill="#d3d3d3"/>
<circle cx="349.1" cy="104.2" r="1.1" fill="#d3d3d3"/>
<circle cx="349.8" cy="95.5" r="1.1" fill="#d3d3d3"/>
<circle cx="343.2" cy="75.5" r="1.1" fill="#d3d3d3"/>
<circle cx="347.2" cy="108.1" r="1.1" fill="#d3d3d3"/>
<circle cx="342.7" cy="77.1" r="1.1" fill="#d3d3d3"/>
<circle cx="346.4" cy="82.6" r="1.1" fill="#d3d3d3"/>
<circle cx="345.9" cy="104.4" r="1.1" fill="#d3d3d3"/>
<circle cx="348.6" cy="88.3" r="1.1" fill="#d3d3d3"/>
<circle cx="340.7" cy="84.9" r="1.1" fill="#d3d3d3"/>
<circle cx="344.4" cy="93.9" r="1.1" fill="#d3d3d3"/>
<circle cx="345.4" cy="103.0" r="1.1" fill="#d3d3d3"/>
<circle cx="352.0" cy="103.7" r="1.1" fill="#d3d3d3"/>
<circle cx="340.2" cy="86.8" r="1.1" fill="#d3d3d3"/>
<circle cx="346.3" cy="101.8" r="1.1" fill="#d3d3d3"/>
<circle cx="341.7" cy="97.3" r="1.1" fill="#d3d3d3"/>
<circle cx="353.1" cy="110.9" r="1.1" fill="#d3d3d3"/>
<circle cx="348.9" cy="94.5" r="1.1" fill="#d3d3d3"/>
<circle cx="350.5" cy="102.6" r="1.1" fill="#d3d3d3"/>
<circle cx="349.2" cy="104.1" r="1.1" fill="#d3d3d3"/>
<circle cx="350.3" cy="104.6" r="1.1" fill="#d3d3d3"/>
<circle cx="346.7" cy="86.3" r="1.1" fill="#d3d3d3"/>
<circle cx="349.6" cy="93.6" r="1.1" fill="#d3d3d3"/>
<circle cx="352.3" cy="108.7" r="1.1" fill="#d3d3d3"/>
<circle cx="350.5" cy="104.8" r="1.1" fill="#d3d3d3"/>
<circle cx="348.3" cy="87.1" r="1.1" fill="#d3d3d3"/>
<circle cx="344.5" cy="86.9" r="1.1" fill="#d3d3d3"/>
<circle cx="344.9" cy="86.9" r="1.1" fill="#d3d3d3"/>
<circle cx="346.4" cy="79.8" r="1.1" fill="#d3d3d3"/>
<circle cx="339.5" cy="89.5" r="1.1" fill="#d3d3d3"/>
<circle cx="354.1" cy="111.6" r="1.1" fill="#d3d3d3"/>
<circle cx="348.5" cy="90.2" r="1.1" fill="#d3d3d3"/>
<circle cx="344.1" cy="92.3" r="1.1" fill="#d3d3d3"/>
<circle cx="352.7" cy="110.8" r="1.1" fill="#d3d3d3"/>
<circle cx="344.9" cy="87.7" r="1.1" fill="#d3d3d3"/>
<circle cx="341.1" cy="90.1" r="1.1" fill="#d3d3d3"/>
<circle cx="346.1" cy="83.7" r="1.1" fill="#d3d3d3"/>
<circle cx="343.7" cy="87.6" r="1.1" fill="#d3d3d3"/>
<circle cx="347.6" cy="95.2" r="1.1" fill="#d3d3d3"/>
<circle cx="352.3" cy="103.7" r="1.1" fill="#d3d3d3"/>
<circle cx="351.4" cy="105.9" r="1.1" fill="#d3d3d3"/>
<circle cx="350.2" cy="107.7" r="1.1" fill="#d3d3d3"/>
<circle cx="343.6" cy="96.7" r="1.1" fill="#d3d3d3"/>
<circle cx="351.2" cy="107.7" r="1.1" fill="#d3d3d3"/>
<circle cx="350.3" cy="108.5" r="1.1" fill="#d3d3d3"/>
<circle cx="347.4" cy="96.0" r="1.1" fill="#d3d3d3"/>
<circle cx="347.5" cy="89.8" r="1.1" fill="#d3d3d3"/>
<circle cx="344.4" cy="81.1" r="1.1" fill="#d3d3d3"/>
<circle cx="343.1" cy="83.3" r="1.1" fill="#d3d3d3"/>
<circle cx="348.1" cy="98.3" r="1.1" fill="#d3d3d3"/>
<circle cx="350.0" cy="96.0" r="1.1" fill="#d3d3d3"/>
<circle cx="346.2" cy="77.7" r="1.1" fill="#d3d3d3"/>
<circle cx="346.2" cy="83.7" r="1.1" fill="#d3d3d3"/>
<circle cx="343.5" cy="103.5" r="1.1" fill="#d3d3d3"/>
<circle cx="348.9" cy="90.5" r="1.1" fill="#d3d3d3"/>
<circle cx="341.9" cy="81.2" r="1.1" fill="#d3d3d3"/>
<circle cx="347.0" cy="100.6" r="1.1" fill="#d3d3d3"/>
<circle cx="341.9" cy="88.7" r="1.1" fill="#d3d3d3"/>
<circle cx="349.0" cy="100.9" r="1.1" fill="#d3d3d3"/>
<circle cx="341.4" cy="81.3" r="1.1" fill="#d3d3d3"/>
<circle cx="346.7" cy="83.6" r="1.1" fill="#d3d3d3"/>
<circle cx="342.3" cy="87.4" r="1.1" fill="#d3d3d3"/>
<circle cx="351.8" cy="104.7" r="1.1" fill="#d3d3d3"/>
<circle cx="350.8" cy="105.7" r="1.1" fill="#d3d3d3"/>
<circle cx="344.6" cy="98.7" r="1.1" fill="#d3d3d3"/>
<circle cx="347.8" cy="85.5" r="1.1" fill="#d3d3d3"/>
<circle cx="339.3" cy="85.7" r="1.1" fill="#d3d3d3"/>
<circle cx="347.3" cy="80.9" r="1.1" fill="#d3d3d3"/>
<circle cx="347.2" cy="99.0" r="1.1" fill="#d3d3d3"/>
<circle cx="340.4" cy="91.1" r="1.1" fill="#d3d3d3"/>
<circle cx="354.0" cy="112.8" r="1.1" fill="#d3d3d3"/>
<circle cx="352.3" cy="112.7" r="1.1" fill="#d3d3d3"/>
<circle cx="351.9" cy="112.7" r="1.1" fill="#d3d3d3"/>
<circle cx="351.7" cy="106.4" r="1.1" fill="#d3d3d3"/>
<circle cx="350.1" cy="95.9" r="1.1" fill="#d3d3d3"/>
<circle cx="346.2" cy="97.1" r="1.1" fill="#d3d3d3"/>
<circle cx="351.7" cy="111.6" r="1.1" fill="#d3d3d3"/>
<circle cx="342.9" cy="90.4" r="1.1" fill="#d3d3d3"/>
<circle cx="342.3" cy="90.5" r="1.1" fill="#d3d3d3"/>
<circle cx="351.5" cy="111.4" r="1.1" fill="#d3d3d3"/>
<circle cx="349.3" cy="103.9" r="1.1" fill="#d3d3d3"/>
<circle cx="346.7" cy="105.8" r="1.1" fill="#d3d3d3"/>
<circle cx="344.6" cy="97.4" r="1.1" fill="#d3d3d3"/>
<circle cx="344.3" cy="85.5" r="1.1" fill="#d3d3d3"/>
<circle cx="343.0" cy="95.5" r="1.1" fill="#d3d3d3"/>
<circle cx="346.3" cy="102.0" r="1.1" fill="#d3d3d3"/>
<circle cx="344.1" cy="94.8" r="1.1" fill="#d3d3d3"/>
<circle cx="338.8" cy="72.7" r="1.1" fill="#d3d3d3"/>
<circle cx="344.0" cy="104.6" r="1.1" fill="#d3d3d3"/>
<circle cx="340.8" cy="85.5" r="1.1" fill="#d3d3d3"/>
<circle cx="335.9" cy="78.1" r="1.1" fill="#d3d3d3"/>
<circle cx="344.3" cy="86.8" r="1.1" fill="#d3d3d3"/>
<circle cx="335.7" cy="70.7" r="1.1" fill="#d3d3d3"/>
<circle cx="326.8" cy="72.9" r="1.1" fill="#d3d3d3"/>
<circle cx="342.6" cy="85.5" r="1.1" fill="#d3d3d3"/>
<circle cx="343.4" cy="76.4" r="1.1" fill="#d3d3d3"/>
<circle cx="331.7" cy="84.1" r="1.1" fill="#d3d3d3"/>
<circle cx="335.6" cy="82.5" r="1.1" fill="#d3d3d3"/>
<circle cx="342.7" cy="88.9" r="1.1" fill="#d3d3d3"/>
<circle cx="348.3" cy="96.8" r="1.1" fill="#d3d3d3"/>
<circle cx="332.3" cy="87.2" r="1.1" fill="#d3d3d3"/>
<circle cx="349.3" cy="99.8" r="1.1" fill="#d3d3d3"/>
<circle cx="352.3" cy="110.7" r="1.1" fill="#d3d3d3"/>
<circle cx="341.0" cy="78.6" r="1.1" fill="#d3d3d3"/>
<circle cx="341.5" cy="99.1" r="1.1" fill="#d3d3d3"/>
<circle cx="343.7" cy="98.7" r="1.1" fill="#d3d3d3"/>
<circle cx="331.2" cy="76.6" r="1.1" fill="#d3d3d3"/>
<circle cx="346.0" cy="90.6" r="1.1" fill="#d3d3d3"/>
<circle cx="329.0" cy="78.6" r="1.1" fill="#d3d3d3"/>
<circle cx="338.3" cy="93.2" r="1.1" fill="#d3d3d3"/>
<circle cx="346.8" cy="104.0" r="1.1" fill="#d3d3d3"/>
<circle cx="346.9" cy="105.3" r="1.1" fill="#d3d3d3"/>
<circle cx="346.6" cy="106.6" r="1.1" fill="#d3d3d3"/>
<circle cx="345.3" cy="105.8" r="1.1" fill="#d3d3d3"/>
<circle cx="344.7" cy="106.9" r="1.1" fill="#d3d3d3"/>
<circle cx="340.4" cy="94.1" r="1.1" fill="#d3d3d3"/>
<circle cx="332.4" cy="76.4" r="1.1" fill="#d3d3d3"/>
<circle cx="332.4" cy="73.9" r="1.1" fill="#d3d3d3"/>
<circle cx="344.8" cy="95.2" r="1.1" fill="#d3d3d3"/>
<circle cx="342.9" cy="103.1" r="1.1" fill="#d3d3d3"/>
<circle cx="347.5" cy="110.9" r="1.1" fill="#d3d3d3"/>
<circle cx="348.0" cy="108.8" r="1.1" fill="#d3d3d3"/>
<circle cx="346.8" cy="94.8" r="1.1" fill="#d3d3d3"/>
<circle cx="336.8" cy="76.6" r="1.1" fill="#d3d3d3"/>
<circle cx="344.0" cy="96.9" r="1.1" fill="#d3d3d3"/>
<circle cx="344.2" cy="79.9" r="1.1" fill="#d3d3d3"/>
<circle cx="340.8" cy="80.8" r="1.1" fill="#d3d3d3"/>
<circle cx="335.7" cy="81.0" r="1.1" fill="#d3d3d3"/>
<circle cx="327.1" cy="71.8" r="1.1" fill="#d3d3d3"/>
<circle cx="331.4" cy="87.2" r="1.1" fill="#d3d3d3"/>
<circle cx="346.5" cy="86.3" r="1.1" fill="#d3d3d3"/>
<circle cx="341.5" cy="104.1" r="1.1" fill="#d3d3d3"/>
<circle cx="347.0" cy="102.8" r="1.1" fill="#d3d3d3"/>
<circle cx="351.1" cy="112.3" r="1.1" fill="#d3d3d3"/>
<circle cx="345.7" cy="89.0" r="1.1" fill="#d3d3d3"/>
<circle cx="350.4" cy="111.9" r="1.1" fill="#d3d3d3"/>
<circle cx="348.6" cy="95.9" r="1.1" fill="#d3d3d3"/>
<circle cx="340.0" cy="94.1" r="1.1" fill="#d3d3d3"/>
<circle cx="348.5" cy="99.8" r="1.1" fill="#d3d3d3"/>
<circle cx="348.6" cy="101.3" r="1.1" fill="#d3d3d3"/>
<circle cx="343.2" cy="84.0" r="1.1" fill="#d3d3d3"/>
<circle cx="333.6" cy="80.9" r="1.1" fill="#d3d3d3"/>
<circle cx="352.4" cy="111.8" r="1.1" fill="#d3d3d3"/>
<circle cx="331.7" cy="73.3" r="1.1" fill="#d3d3d3"/>
<circle cx="336.0" cy="94.1" r="1.1" fill="#d3d3d3"/>
<circle cx="335.1" cy="93.7" r="1.1" fill="#d3d3d3"/>
<circle cx="363.2" cy="97.8" r="1.1" fill="#d3d3d3"/>
<circle cx="368.9" cy="90.0" r="1.1" fill="#d3d3d3"/>
<circle cx="371.2" cy="87.8" r="1.1" fill="#d3d3d3"/>
<circle cx="367.9" cy="99.2" r="1.1" fill="#d3d3d3"/>
<circle cx="358.8" cy="112.2" r="1.1" fill="#d3d3d3"/>
<circle cx="368.9" cy="102.2" r="1.1" fill="#d3d3d3"/>
<circle cx="364.7" cy="92.4" r="1.1" fill="#d3d3d3"/>
<circle cx="362.5" cy="84.4" r="1.1" fill="#d3d3d3"/>
<circle cx="366.2" cy="98.7" r="1.1" fill="#d3d3d3"/>
<circle cx="357.1" cy="112.6" r="1.1" fill="#d3d3d3"/>
<circle cx="362.4" cy="106.1" r="1.1" fill="#d3d3d3"/>
<circle cx="360.2" cy="109.0" r="1.1" fill="#d3d3d3"/>
<circle cx="359.4" cy="108.5" r="1.1" fill="#d3d3d3"/>
<circle cx="375.2" cy="86.6" r="1.1" fill="#d3d3d3"/>
<circle cx="366.4" cy="99.6" r="1.1" fill="#d3d3d3"/>
<circle cx="361.7" cy="97.5" r="1.1" fill="#d3d3d3"/>
<circle cx="364.0" cy="99.6" r="1.1" fill="#d3d3d3"/>
<circle cx="367.4" cy="101.9" r="1.1" fill="#d3d3d3"/>
<circle cx="356.2" cy="109.6" r="1.1" fill="#d3d3d3"/>
<circle cx="363.0" cy="89.6" r="1.1" fill="#d3d3d3"/>
<circle cx="362.1" cy="104.8" r="1.1" fill="#d3d3d3"/>
<circle cx="358.9" cy="99.5" r="1.1" fill="#d3d3d3"/>
<circle cx="370.2" cy="86.0" r="1.1" fill="#d3d3d3"/>
<circle cx="368.0" cy="101.4" r="1.1" fill="#d3d3d3"/>
<circle cx="365.7" cy="89.8" r="1.1" fill="#d3d3d3"/>
<circle cx="362.7" cy="84.4" r="1.1" fill="#d3d3d3"/>
<circle cx="357.2" cy="104.1" r="1.1" fill="#d3d3d3"/>
<circle cx="355.6" cy="114.1" r="1.1" fill="#d3d3d3"/>
<circle cx="368.6" cy="103.0" r="1.1" fill="#d3d3d3"/>
<circle cx="357.4" cy="105.2" r="1.1" fill="#d3d3d3"/>
<circle cx="356.7" cy="111.0" r="1.1" fill="#d3d3d3"/>
<circle cx="356.5" cy="107.1" r="1.1" fill="#d3d3d3"/>
<circle cx="357.8" cy="106.9" r="1.1" fill="#d3d3d3"/>
<circle cx="363.6" cy="91.7" r="1.1" fill="#d3d3d3"/>
<circle cx="358.1" cy="110.7" r="1.1" fill="#d3d3d3"/>
<circle cx="354.6" cy="113.9" r="1.1" fill="#d3d3d3"/>
<circle cx="356.0" cy="111.8" r="1.1" fill="#d3d3d3"/>
<circle cx="363.4" cy="88.1" r="1.1" fill="#d3d3d3"/>
<circle cx="358.0" cy="101.7" r="1.1" fill="#d3d3d3"/>
<circle cx="357.4" cy="101.2" r="1.1" fill="#d3d3d3"/>
<circle cx="372.4" cy="78.4" r="1.1" fill="#d3d3d3"/>
<circle cx="360.2" cy="107.3" r="1.1" fill="#d3d3d3"/>
<circle cx="360.0" cy="88.9" r="1.1" fill="#d3d3d3"/>
<circle cx="357.1" cy="110.8" r="1.1" fill="#d3d3d3"/>
<circle cx="361.4" cy="98.4" r="1.1" fill="#d3d3d3"/>
<circle cx="362.6" cy="90.8" r="1.1" fill="#d3d3d3"/>
<circle cx="360.5" cy="107.2" r="1.1" fill="#d3d3d3"/>
<circle cx="363.8" cy="88.0" r="1.1" fill="#d3d3d3"/>
<circle cx="367.7" cy="82.2" r="1.1" fill="#d3d3d3"/>
<circle cx="365.0" cy="78.5" r="1.1" fill="#d3d3d3"/>
<circle cx="366.2" cy="100.3" r="1.1" fill="#d3d3d3"/>
<circle cx="366.2" cy="86.7" r="1.1" fill="#d3d3d3"/>
<circle cx="362.0" cy="89.4" r="1.1" fill="#d3d3d3"/>
<circle cx="361.0" cy="88.5" r="1.1" fill="#d3d3d3"/>
<circle cx="370.9" cy="84.6" r="1.1" fill="#d3d3d3"/>
<circle cx="362.8" cy="81.1" r="1.1" fill="#d3d3d3"/>
<circle cx="371.8" cy="92.0" r="1.1" fill="#d3d3d3"/>
<circle cx="366.4" cy="88.3" r="1.1" fill="#d3d3d3"/>
<circle cx="363.2" cy="106.8" r="1.1" fill="#d3d3d3"/>
<circle cx="360.0" cy="110.6" r="1.1" fill="#d3d3d3"/>
<circle cx="365.9" cy="102.6" r="1.1" fill="#d3d3d3"/>
<circle cx="363.2" cy="104.2" r="1.1" fill="#d3d3d3"/>
<circle cx="368.0" cy="96.5" r="1.1" fill="#d3d3d3"/>
<circle cx="357.8" cy="108.8" r="1.1" fill="#d3d3d3"/>
<circle cx="361.0" cy="110.2" r="1.1" fill="#d3d3d3"/>
<circle cx="355.8" cy="113.3" r="1.1" fill="#d3d3d3"/>
<circle cx="362.8" cy="84.2" r="1.1" fill="#d3d3d3"/>
<circle cx="357.9" cy="102.2" r="1.1" fill="#d3d3d3"/>
<circle cx="357.7" cy="111.4" r="1.1" fill="#d3d3d3"/>
<circle cx="367.5" cy="89.1" r="1.1" fill="#d3d3d3"/>
<circle cx="364.1" cy="92.9" r="1.1" fill="#d3d3d3"/>
<circle cx="363.3" cy="97.3" r="1.1" fill="#d3d3d3"/>
<circle cx="359.6" cy="104.4" r="1.1" fill="#d3d3d3"/>
<circle cx="379.1" cy="85.7" r="1.1" fill="#d3d3d3"/>
<circle cx="366.6" cy="83.5" r="1.1" fill="#d3d3d3"/>
<circle cx="379.7" cy="83.9" r="1.1" fill="#d3d3d3"/>
<circle cx="358.2" cy="103.8" r="1.1" fill="#d3d3d3"/>
<circle cx="356.4" cy="112.8" r="1.1" fill="#d3d3d3"/>
<circle cx="371.5" cy="98.2" r="1.1" fill="#d3d3d3"/>
<circle cx="359.4" cy="97.5" r="1.1" fill="#d3d3d3"/>
<circle cx="368.8" cy="99.8" r="1.1" fill="#d3d3d3"/>
<circle cx="365.2" cy="107.4" r="1.1" fill="#d3d3d3"/>
<circle cx="370.2" cy="91.5" r="1.1" fill="#d3d3d3"/>
<circle cx="373.4" cy="82.9" r="1.1" fill="#d3d3d3"/>
<circle cx="358.4" cy="102.7" r="1.1" fill="#d3d3d3"/>
<circle cx="367.5" cy="93.3" r="1.1" fill="#d3d3d3"/>
<circle cx="358.1" cy="109.8" r="1.1" fill="#d3d3d3"/>
<circle cx="367.5" cy="90.2" r="1.1" fill="#d3d3d3"/>
<circle cx="376.4" cy="84.8" r="1.1" fill="#d3d3d3"/>
<circle cx="374.2" cy="84.2" r="1.1" fill="#d3d3d3"/>
<circle cx="365.5" cy="90.4" r="1.1" fill="#d3d3d3"/>
<circle cx="377.7" cy="91.3" r="1.1" fill="#d3d3d3"/>
<circle cx="376.4" cy="84.7" r="1.1" fill="#d3d3d3"/>
<circle cx="369.8" cy="98.7" r="1.1" fill="#d3d3d3"/>
<circle cx="365.8" cy="93.8" r="1.1" fill="#d3d3d3"/>
<circle cx="365.2" cy="79.9" r="1.1" fill="#d3d3d3"/>
<circle cx="359.4" cy="110.9" r="1.1" fill="#d3d3d3"/>
<circle cx="367.2" cy="82.2" r="1.1" fill="#d3d3d3"/>
<circle cx="355.7" cy="112.7" r="1.1" fill="#d3d3d3"/>
<circle cx="378.2" cy="90.0" r="1.1" fill="#d3d3d3"/>
<circle cx="365.4" cy="97.6" r="1.1" fill="#d3d3d3"/>
<circle cx="371.5" cy="83.5" r="1.1" fill="#d3d3d3"/>
<circle cx="356.8" cy="108.4" r="1.1" fill="#d3d3d3"/>
<circle cx="368.3" cy="95.3" r="1.1" fill="#d3d3d3"/>
<circle cx="369.0" cy="78.4" r="1.1" fill="#d3d3d3"/>
<circle cx="365.5" cy="84.6" r="1.1" fill="#d3d3d3"/>
<circle cx="360.5" cy="109.2" r="1.1" fill="#d3d3d3"/>
<circle cx="364.6" cy="81.8" r="1.1" fill="#d3d3d3"/>
<circle cx="368.3" cy="78.0" r="1.1" fill="#d3d3d3"/>
<circle cx="368.4" cy="80.4" r="1.1" fill="#d3d3d3"/>
<circle cx="365.7" cy="96.5" r="1.1" fill="#d3d3d3"/>
<circle cx="364.9" cy="102.6" r="1.1" fill="#d3d3d3"/>
<circle cx="360.6" cy="103.0" r="1.1" fill="#d3d3d3"/>
<circle cx="366.2" cy="94.8" r="1.1" fill="#d3d3d3"/>
<circle cx="374.7" cy="78.9" r="1.1" fill="#d3d3d3"/>
<circle cx="364.8" cy="83.3" r="1.1" fill="#d3d3d3"/>
<circle cx="354.5" cy="114.2" r="1.1" fill="#d3d3d3"/>
<circle cx="356.4" cy="104.4" r="1.1" fill="#d3d3d3"/>
<circle cx="359.7" cy="102.7" r="1.1" fill="#d3d3d3"/>
<circle cx="362.8" cy="84.0" r="1.1" fill="#d3d3d3"/>
<circle cx="358.6" cy="106.4" r="1.1" fill="#d3d3d3"/>
<circle cx="366.3" cy="88.7" r="1.1" fill="#d3d3d3"/>
<circle cx="366.5" cy="75.8" r="1.1" fill="#d3d3d3"/>
<circle cx="360.8" cy="99.2" r="1.1" fill="#d3d3d3"/>
<circle cx="363.6" cy="101.4" r="1.1" fill="#d3d3d3"/>
<circle cx="369.2" cy="86.1" r="1.1" fill="#d3d3d3"/>
<circle cx="361.4" cy="90.0" r="1.1" fill="#d3d3d3"/>
<circle cx="372.1" cy="78.7" r="1.1" fill="#d3d3d3"/>
<circle cx="355.0" cy="112.6" r="1.1" fill="#d3d3d3"/>
<circle cx="364.8" cy="89.8" r="1.1" fill="#d3d3d3"/>
<circle cx="366.5" cy="80.1" r="1.1" fill="#d3d3d3"/>
<circle cx="360.9" cy="98.7" r="1.1" fill="#d3d3d3"/>
<circle cx="358.0" cy="99.7" r="1.1" fill="#d3d3d3"/>
<circle cx="358.6" cy="97.9" r="1.1" fill="#d3d3d3"/>
<circle cx="367.5" cy="94.2" r="1.1" fill="#d3d3d3"/>
<circle cx="360.8" cy="87.7" r="1.1" fill="#d3d3d3"/>
<circle cx="371.0" cy="81.2" r="1.1" fill="#d3d3d3"/>
<circle cx="362.0" cy="101.7" r="1.1" fill="#d3d3d3"/>
<circle cx="370.7" cy="92.1" r="1.1" fill="#d3d3d3"/>
<circle cx="354.5" cy="113.6" r="1.1" fill="#d3d3d3"/>
<circle cx="363.1" cy="91.3" r="1.1" fill="#d3d3d3"/>
<circle cx="364.5" cy="86.9" r="1.1" fill="#d3d3d3"/>
<circle cx="364.4" cy="104.7" r="1.1" fill="#d3d3d3"/>
<circle cx="371.4" cy="87.6" r="1.1" fill="#d3d3d3"/>
<circle cx="370.1" cy="88.1" r="1.1" fill="#d3d3d3"/>
<circle cx="373.0" cy="99.0" r="1.1" fill="#d3d3d3"/>
<circle cx="374.0" cy="82.5" r="1.1" fill="#d3d3d3"/>
<circle cx="369.2" cy="100.5" r="1.1" fill="#d3d3d3"/>
<circle cx="366.7" cy="78.3" r="1.1" fill="#d3d3d3"/>
<circle cx="358.8" cy="103.7" r="1.1" fill="#d3d3d3"/>
<circle cx="361.4" cy="99.0" r="1.1" fill="#d3d3d3"/>
<circle cx="363.0" cy="99.4" r="1.1" fill="#d3d3d3"/>
<circle cx="355.9" cy="110.8" r="1.1" fill="#d3d3d3"/>
<circle cx="361.6" cy="102.3" r="1.1" fill="#d3d3d3"/>
<circle cx="366.6" cy="81.7" r="1.1" fill="#d3d3d3"/>
<circle cx="364.3" cy="89.8" r="1.1" fill="#d3d3d3"/>
<circle cx="362.9" cy="85.2" r="1.1" fill="#d3d3d3"/>
<circle cx="367.1" cy="82.9" r="1.1" fill="#d3d3d3"/>
<circle cx="367.1" cy="96.8" r="1.1" fill="#d3d3d3"/>
<circle cx="365.4" cy="97.8" r="1.1" fill="#d3d3d3"/>
<circle cx="362.4" cy="92.6" r="1.1" fill="#d3d3d3"/>
<circle cx="369.4" cy="90.3" r="1.1" fill="#d3d3d3"/>
<circle cx="355.3" cy="113.8" r="1.1" fill="#d3d3d3"/>
<circle cx="372.6" cy="94.8" r="1.1" fill="#d3d3d3"/>
<circle cx="369.5" cy="99.0" r="1.1" fill="#d3d3d3"/>
<circle cx="358.5" cy="98.6" r="1.1" fill="#d3d3d3"/>
<circle cx="358.8" cy="104.4" r="1.1" fill="#d3d3d3"/>
<circle cx="358.7" cy="102.5" r="1.1" fill="#d3d3d3"/>
<circle cx="355.9" cy="109.7" r="1.1" fill="#d3d3d3"/>
<circle cx="371.1" cy="88.2" r="1.1" fill="#d3d3d3"/>
<circle cx="367.3" cy="91.3" r="1.1" fill="#d3d3d3"/>
<circle cx="378.1" cy="92.8" r="1.1" fill="#d3d3d3"/>
<circle cx="355.0" cy="112.4" r="1.1" fill="#d3d3d3"/>
<circle cx="357.2" cy="106.3" r="1.1" fill="#d3d3d3"/>
<circle cx="364.4" cy="81.4" r="1.1" fill="#d3d3d3"/>
<circle cx="364.5" cy="88.4" r="1.1" fill="#d3d3d3"/>
<circle cx="369.4" cy="103.0" r="1.1" fill="#d3d3d3"/>
<circle cx="364.4" cy="107.3" r="1.1" fill="#d3d3d3"/>
<circle cx="361.3" cy="104.9" r="1.1" fill="#d3d3d3"/>
<circle cx="359.1" cy="95.0" r="1.1" fill="#d3d3d3"/>
<circle cx="358.4" cy="111.3" r="1.1" fill="#d3d3d3"/>
<circle cx="365.4" cy="107.7" r="1.1" fill="#d3d3d3"/>
<circle cx="370.8" cy="85.7" r="1.1" fill="#d3d3d3"/>
<circle cx="364.4" cy="102.7" r="1.1" fill="#d3d3d3"/>
<circle cx="372.7" cy="90.5" r="1.1" fill="#d3d3d3"/>
<circle cx="368.7" cy="79.6" r="1.1" fill="#d3d3d3"/>
<circle cx="365.3" cy="99.5" r="1.1" fill="#d3d3d3"/>
<circle cx="375.1" cy="82.2" r="1.1" fill="#d3d3d3"/>
<circle cx="364.6" cy="78.4" r="1.1" fill="#d3d3d3"/>
<circle cx="374.9" cy="84.0" r="1.1" fill="#d3d3d3"/>
<circle cx="358.9" cy="104.9" r="1.1" fill="#d3d3d3"/>
<circle cx="361.9" cy="102.7" r="1.1" fill="#d3d3d3"/>
<circle cx="374.9" cy="82.5" r="1.1" fill="#d3d3d3"/>
<circle cx="364.3" cy="98.4" r="1.1" fill="#d3d3d3"/>
<circle cx="356.6" cy="113.2" r="1.1" fill="#d3d3d3"/>
<circle cx="365.7" cy="74.9" r="1.1" fill="#d3d3d3"/>
<circle cx="365.0" cy="91.1" r="1.1" fill="#d3d3d3"/>
<circle cx="358.5" cy="102.2" r="1.1" fill="#d3d3d3"/>
<circle cx="367.2" cy="105.2" r="1.1" fill="#d3d3d3"/>
<circle cx="373.8" cy="88.9" r="1.1" fill="#d3d3d3"/>
<circle cx="359.8" cy="100.0" r="1.1" fill="#d3d3d3"/>
<circle cx="358.8" cy="106.0" r="1.1" fill="#d3d3d3"/>
<circle cx="357.5" cy="103.2" r="1.1" fill="#d3d3d3"/>
<circle cx="368.1" cy="94.3" r="1.1" fill="#d3d3d3"/>
<circle cx="357.0" cy="108.0" r="1.1" fill="#d3d3d3"/>
<circle cx="359.7" cy="99.7" r="1.1" fill="#d3d3d3"/>
<circle cx="373.7" cy="81.4" r="1.1" fill="#d3d3d3"/>
<circle cx="362.6" cy="107.5" r="1.1" fill="#d3d3d3"/>
<circle cx="359.4" cy="110.7" r="1.1" fill="#d3d3d3"/>
<circle cx="356.3" cy="113.6" r="1.1" fill="#d3d3d3"/>
<circle cx="371.9" cy="90.7" r="1.1" fill="#d3d3d3"/>
<circle cx="364.8" cy="77.5" r="1.1" fill="#d3d3d3"/>
<circle cx="363.6" cy="91.9" r="1.1" fill="#d3d3d3"/>
<circle cx="358.4" cy="101.4" r="1.1" fill="#d3d3d3"/>
<circle cx="357.3" cy="110.2" r="1.1" fill="#d3d3d3"/>
<circle cx="359.8" cy="97.0" r="1.1" fill="#d3d3d3"/>
<circle cx="358.9" cy="100.5" r="1.1" fill="#d3d3d3"/>
<circle cx="357.8" cy="110.6" r="1.1" fill="#d3d3d3"/>
<circle cx="360.6" cy="111.9" r="1.1" fill="#d3d3d3"/>
<circle cx="362.8" cy="101.8" r="1.1" fill="#d3d3d3"/>
<circle cx="363.1" cy="79.4" r="1.1" fill="#d3d3d3"/>
<circle cx="357.4" cy="110.5" r="1.1" fill="#d3d3d3"/>
<circle cx="369.1" cy="82.7" r="1.1" fill="#d3d3d3"/>
<circle cx="355.4" cy="110.3" r="1.1" fill="#d3d3d3"/>
<circle cx="368.9" cy="92.8" r="1.1" fill="#d3d3d3"/>
<circle cx="356.3" cy="113.1" r="1.1" fill="#d3d3d3"/>
<circle cx="369.6" cy="77.7" r="1.1" fill="#d3d3d3"/>
<circle cx="361.5" cy="105.3" r="1.1" fill="#d3d3d3"/>
<circle cx="354.9" cy="113.6" r="1.1" fill="#d3d3d3"/>
<circle cx="374.2" cy="79.7" r="1.1" fill="#d3d3d3"/>
<circle cx="360.8" cy="105.7" r="1.1" fill="#d3d3d3"/>
<circle cx="355.5" cy="113.1" r="1.1" fill="#d3d3d3"/>
<circle cx="360.5" cy="109.7" r="1.1" fill="#d3d3d3"/>
<circle cx="369.4" cy="79.8" r="1.1" fill="#d3d3d3"/>
<circle cx="366.0" cy="97.2" r="1.1" fill="#d3d3d3"/>
<circle cx="364.7" cy="101.1" r="1.1" fill="#d3d3d3"/>
<circle cx="361.2" cy="90.8" r="1.1" fill="#d3d3d3"/>
<circle cx="357.2" cy="112.4" r="1.1" fill="#d3d3d3"/>
<circle cx="359.2" cy="102.6" r="1.1" fill="#d3d3d3"/>
<circle cx="359.6" cy="96.7" r="1.1" fill="#d3d3d3"/>
<circle cx="370.1" cy="87.6" r="1.1" fill="#d3d3d3"/>
<circle cx="366.6" cy="77.4" r="1.1" fill="#d3d3d3"/>
<circle cx="366.0" cy="80.4" r="1.1" fill="#d3d3d3"/>
<circle cx="359.4" cy="92.5" r="1.1" fill="#d3d3d3"/>
<circle cx="366.2" cy="78.1" r="1.1" fill="#d3d3d3"/>
<circle cx="361.9" cy="86.2" r="1.1" fill="#d3d3d3"/>
<circle cx="368.1" cy="94.2" r="1.1" fill="#d3d3d3"/>
<circle cx="376.7" cy="93.4" r="1.1" fill="#d3d3d3"/>
<circle cx="368.6" cy="95.0" r="1.1" fill="#d3d3d3"/>
<circle cx="360.8" cy="100.4" r="1.1" fill="#d3d3d3"/>
<circle cx="369.2" cy="94.5" r="1.1" fill="#d3d3d3"/>
<circle cx="376.0" cy="92.1" r="1.1" fill="#d3d3d3"/>
<circle cx="369.0" cy="90.4" r="1.1" fill="#d3d3d3"/>
<circle cx="359.8" cy="95.6" r="1.1" fill="#d3d3d3"/>
<circle cx="367.9" cy="96.9" r="1.1" fill="#d3d3d3"/>
<circle cx="364.4" cy="102.6" r="1.1" fill="#d3d3d3"/>
<circle cx="358.2" cy="105.5" r="1.1" fill="#d3d3d3"/>
<circle cx="361.8" cy="85.9" r="1.1" fill="#d3d3d3"/>
<circle cx="362.4" cy="91.7" r="1.1" fill="#d3d3d3"/>
<circle cx="361.0" cy="108.2" r="1.1" fill="#d3d3d3"/>
<circle cx="362.4" cy="105.8" r="1.1" fill="#d3d3d3"/>
<circle cx="364.4" cy="95.3" r="1.1" fill="#d3d3d3"/>
<circle cx="361.4" cy="109.2" r="1.1" fill="#d3d3d3"/>
<circle cx="362.5" cy="90.3" r="1.1" fill="#d3d3d3"/>
<circle cx="362.1" cy="97.1" r="1.1" fill="#d3d3d3"/>
<circle cx="356.8" cy="108.3" r="1.1" fill="#d3d3d3"/>
<circle cx="366.6" cy="76.8" r="1.1" fill="#d3d3d3"/>
<circle cx="375.3" cy="87.5" r="1.1" fill="#d3d3d3"/>
<circle cx="363.1" cy="103.5" r="1.1" fill="#d3d3d3"/>
<circle cx="357.2" cy="112.1" r="1.1" fill="#d3d3d3"/>
<circle cx="359.6" cy="105.8" r="1.1" fill="#d3d3d3"/>
<circle cx="356.8" cy="109.3" r="1.1" fill="#d3d3d3"/>
<circle cx="359.4" cy="108.4" r="1.1" fill="#d3d3d3"/>
<circle cx="356.5" cy="105.4" r="1.1" fill="#d3d3d3"/>
<circle cx="365.5" cy="98.2" r="1.1" fill="#d3d3d3"/>
<circle cx="366.2" cy="91.4" r="1.1" fill="#d3d3d3"/>
<circle cx="359.3" cy="110.2" r="1.1" fill="#d3d3d3"/>
<circle cx="360.2" cy="111.3" r="1.1" fill="#d3d3d3"/>
<circle cx="362.3" cy="90.3" r="1.1" fill="#d3d3d3"/>
<circle cx="355.6" cy="112.7" r="1.1" fill="#d3d3d3"/>
<circle cx="369.4" cy="77.2" r="1.1" fill="#d3d3d3"/>
<circle cx="362.3" cy="111.3" r="1.1" fill="#d3d3d3"/>
<circle cx="355.9" cy="112.6" r="1.1" fill="#d3d3d3"/>
<circle cx="366.9" cy="99.1" r="1.1" fill="#d3d3d3"/>
<circle cx="362.7" cy="81.2" r="1.1" fill="#d3d3d3"/>
<circle cx="363.9" cy="83.7" r="1.1" fill="#d3d3d3"/>
<circle cx="358.9" cy="110.0" r="1.1" fill="#d3d3d3"/>
<circle cx="363.9" cy="88.1" r="1.1" fill="#d3d3d3"/>
<circle cx="361.9" cy="107.1" r="1.1" fill="#d3d3d3"/>
<circle cx="364.7" cy="106.4" r="1.1" fill="#d3d3d3"/>
<circle cx="364.4" cy="88.0" r="1.1" fill="#d3d3d3"/>
<circle cx="355.1" cy="112.8" r="1.1" fill="#d3d3d3"/>
<circle cx="365.6" cy="92.9" r="1.1" fill="#d3d3d3"/>
<circle cx="367.2" cy="86.1" r="1.1" fill="#d3d3d3"/>
<circle cx="365.4" cy="88.3" r="1.1" fill="#d3d3d3"/>
<circle cx="365.4" cy="81.6" r="1.1" fill="#d3d3d3"/>
<circle cx="355.3" cy="110.5" r="1.1" fill="#d3d3d3"/>
<circle cx="360.2" cy="95.3" r="1.1" fill="#d3d3d3"/>
<circle cx="369.6" cy="89.5" r="1.1" fill="#d3d3d3"/>
<circle cx="361.5" cy="106.3" r="1.1" fill="#d3d3d3"/>
<circle cx="363.0" cy="79.4" r="1.1" fill="#d3d3d3"/>
<circle cx="357.6" cy="103.1" r="1.1" fill="#d3d3d3"/>
<circle cx="368.6" cy="86.5" r="1.1" fill="#d3d3d3"/>
<circle cx="368.1" cy="97.2" r="1.1" fill="#d3d3d3"/>
<circle cx="367.9" cy="100.8" r="1.1" fill="#d3d3d3"/>
<circle cx="355.6" cy="113.9" r="1.1" fill="#d3d3d3"/>
<circle cx="363.9" cy="84.4" r="1.1" fill="#d3d3d3"/>
<circle cx="355.7" cy="112.5" r="1.1" fill="#d3d3d3"/>
<circle cx="364.9" cy="86.0" r="1.1" fill="#d3d3d3"/>
<circle cx="355.4" cy="112.3" r="1.1" fill="#d3d3d3"/>
<circle cx="359.3" cy="101.1" r="1.1" fill="#d3d3d3"/>
<circle cx="377.9" cy="91.8" r="1.1" fill="#d3d3d3"/>
<circle cx="355.1" cy="113.2" r="1.1" fill="#d3d3d3"/>
<circle cx="355.2" cy="112.2" r="1.1" fill="#d3d3d3"/>
<circle cx="356.1" cy="112.1" r="1.1" fill="#d3d3d3"/>
<circle cx="355.1" cy="113.1" r="1.1" fill="#d3d3d3"/>
<circle cx="363.7" cy="91.1" r="1.1" fill="#d3d3d3"/>
<circle cx="363.2" cy="103.2" r="1.1" fill="#d3d3d3"/>
<circle cx="355.7" cy="110.7" r="1.1" fill="#d3d3d3"/>
<circle cx="356.9" cy="106.9" r="1.1" fill="#d3d3d3"/>
<circle cx="354.9" cy="113.8" r="1.1" fill="#d3d3d3"/>
<circle cx="361.9" cy="94.6" r="1.1" fill="#d3d3d3"/>
<circle cx="360.7" cy="96.8" r="1.1" fill="#d3d3d3"/>
<circle cx="356.0" cy="108.1" r="1.1" fill="#d3d3d3"/>
<circle cx="372.4" cy="83.0" r="1.1" fill="#d3d3d3"/>
<circle cx="363.8" cy="89.7" r="1.1" fill="#d3d3d3"/>
<circle cx="363.6" cy="77.2" r="1.1" fill="#d3d3d3"/>
<circle cx="373.0" cy="90.3" r="1.1" fill="#d3d3d3"/>
<circle cx="361.1" cy="98.9" r="1.1" fill="#d3d3d3"/>
<circle cx="369.1" cy="77.8" r="1.1" fill="#d3d3d3"/>
<circle cx="366.3" cy="94.1" r="1.1" fill="#d3d3d3"/>
<circle cx="377.3" cy="78.0" r="1.1" fill="#d3d3d3"/>
<circle cx="364.6" cy="84.1" r="1.1" fill="#d3d3d3"/>
<circle cx="364.1" cy="85.7" r="1.1" fill="#d3d3d3"/>
<circle cx="361.6" cy="99.4" r="1.1" fill="#d3d3d3"/>
<circle cx="370.8" cy="90.8" r="1.1" fill="#d3d3d3"/>
<circle cx="386.5" cy="79.2" r="1.1" fill="#d3d3d3"/>
<circle cx="375.8" cy="73.4" r="1.1" fill="#d3d3d3"/>
<circle cx="381.3" cy="91.2" r="1.1" fill="#d3d3d3"/>
<circle cx="356.6" cy="110.2" r="1.1" fill="#d3d3d3"/>
<circle cx="368.4" cy="79.6" r="1.1" fill="#d3d3d3"/>
<circle cx="372.6" cy="85.9" r="1.1" fill="#d3d3d3"/>
<circle cx="362.8" cy="107.0" r="1.1" fill="#d3d3d3"/>
<circle cx="373.9" cy="99.6" r="1.1" fill="#d3d3d3"/>
<circle cx="364.1" cy="90.4" r="1.1" fill="#d3d3d3"/>
<circle cx="371.0" cy="94.0" r="1.1" fill="#d3d3d3"/>
<circle cx="375.0" cy="96.5" r="1.1" fill="#d3d3d3"/>
<circle cx="363.9" cy="88.5" r="1.1" fill="#d3d3d3"/>
<circle cx="379.9" cy="80.0" r="1.1" fill="#d3d3d3"/>
<circle cx="382.4" cy="85.1" r="1.1" fill="#d3d3d3"/>
<circle cx="382.1" cy="88.6" r="1.1" fill="#d3d3d3"/>
<circle cx="378.2" cy="88.2" r="1.1" fill="#d3d3d3"/>
<circle cx="368.9" cy="77.8" r="1.1" fill="#d3d3d3"/>
<circle cx="382.9" cy="90.2" r="1.1" fill="#d3d3d3"/>
<circle cx="379.8" cy="80.1" r="1.1" fill="#d3d3d3"/>
<circle cx="372.5" cy="95.3" r="1.1" fill="#d3d3d3"/>
<circle cx="372.3" cy="84.9" r="1.1" fill="#d3d3d3"/>
<circle cx="359.5" cy="100.6" r="1.1" fill="#d3d3d3"/>
<circle cx="384.6" cy="84.3" r="1.1" fill="#d3d3d3"/>
<circle cx="362.7" cy="90.8" r="1.1" fill="#d3d3d3"/>
<circle cx="376.0" cy="88.5" r="1.1" fill="#d3d3d3"/>
<circle cx="360.1" cy="110.0" r="1.1" fill="#d3d3d3"/>
<circle cx="377.1" cy="72.1" r="1.1" fill="#d3d3d3"/>
<circle cx="367.7" cy="97.9" r="1.1" fill="#d3d3d3"/>
<circle cx="380.7" cy="79.1" r="1.1" fill="#d3d3d3"/>
<circle cx="382.1" cy="83.0" r="1.1" fill="#d3d3d3"/>
<circle cx="374.3" cy="89.7" r="1.1" fill="#d3d3d3"/>
<circle cx="374.6" cy="74.8" r="1.1" fill="#d3d3d3"/>
<circle cx="384.0" cy="70.6" r="1.1" fill="#d3d3d3"/>
<circle cx="366.5" cy="79.5" r="1.1" fill="#d3d3d3"/>
<circle cx="364.7" cy="86.2" r="1.1" fill="#d3d3d3"/>
<circle cx="385.7" cy="78.7" r="1.1" fill="#d3d3d3"/>
<circle cx="365.2" cy="100.9" r="1.1" fill="#d3d3d3"/>
<circle cx="388.6" cy="69.6" r="1.1" fill="#d3d3d3"/>
<circle cx="375.1" cy="81.8" r="1.1" fill="#d3d3d3"/>
<circle cx="365.9" cy="84.3" r="1.1" fill="#d3d3d3"/>
<circle cx="371.8" cy="83.8" r="1.1" fill="#d3d3d3"/>
<circle cx="360.1" cy="105.6" r="1.1" fill="#d3d3d3"/>
<circle cx="364.7" cy="88.9" r="1.1" fill="#d3d3d3"/>
<circle cx="364.7" cy="83.7" r="1.1" fill="#d3d3d3"/>
<circle cx="302.2" cy="89.8" r="1.1" fill="#d3d3d3"/>
<circle cx="401.7" cy="85.8" r="1.1" fill="#d3d3d3"/>
<circle cx="388.3" cy="98.0" r="1.1" fill="#d3d3d3"/>
<circle cx="328.7" cy="54.8" r="1.1" fill="#d3d3d3"/>
<circle cx="315.0" cy="60.9" r="1.1" fill="#d3d3d3"/>
<circle cx="324.1" cy="71.5" r="1.1" fill="#d3d3d3"/>
<circle cx="318.0" cy="73.0" r="1.1" fill="#d3d3d3"/>
<circle cx="339.3" cy="63.9" r="1.1" fill="#d3d3d3"/>
<circle cx="342.4" cy="65.4" r="1.1" fill="#d3d3d3"/>
<circle cx="334.8" cy="65.4" r="1.1" fill="#d3d3d3"/>
<circle cx="368.3" cy="68.5" r="1.1" fill="#d3d3d3"/>
<circle cx="375.9" cy="65.4" r="1.1" fill="#d3d3d3"/>
<circle cx="380.4" cy="65.4" r="1.1" fill="#d3d3d3"/>
<circle cx="385.0" cy="74.6" r="1.1" fill="#d3d3d3"/>
<circle cx="383.5" cy="91.3" r="1.1" fill="#d3d3d3"/>
<circle cx="331.0" cy="70.0" r="1.1" fill="#d3d3d3"/>
<circle cx="327.0" cy="76.0" r="1.1" fill="#d3d3d3"/>
<circle cx="322.0" cy="81.0" r="1.1" fill="#d3d3d3"/>
<circle cx="340.0" cy="71.0" r="1.1" fill="#d3d3d3"/>
<circle cx="384.0" cy="81.0" r="1.1" fill="#d3d3d3"/>
<circle cx="379.0" cy="86.0" r="1.1" fill="#d3d3d3"/>
<circle cx="386.5" cy="84.0" r="1.1" fill="#d3d3d3"/>
<circle cx="370.0" cy="64.5" r="1.1" fill="#d3d3d3"/>
<circle cx="305.7" cy="16.3" r="1.35" fill="#98c8f4"/>
<circle cx="303.5" cy="34.1" r="1.35" fill="#98c8f4"/>
<circle cx="308.9" cy="34.3" r="1.35" fill="#98c8f4"/>
<circle cx="310.9" cy="42.0" r="1.35" fill="#98c8f4"/>
<circle cx="317.0" cy="41.7" r="1.35" fill="#98c8f4"/>
<circle cx="318.7" cy="42.0" r="1.35" fill="#98c8f4"/>
<circle cx="316.5" cy="50.7" r="1.35" fill="#98c8f4"/>
<circle cx="318.0" cy="51.5" r="1.35" fill="#98c8f4"/>
<circle cx="335.7" cy="47.8" r="1.35" fill="#98c8f4"/>
<line x1="354.50" y1="7.60" x2="354.50" y2="122.60" stroke="#555" stroke-width="1.1"/>
<line x1="289.00" y1="122.60" x2="420.30" y2="122.60" stroke="#555" stroke-width="1.1"/>
<text x="288.85" y="137.41" font-size="6.7" text-anchor="middle" fill="#1c1c1c">-1</text>
<text x="321.68" y="137.41" font-size="6.7" text-anchor="middle" fill="#1c1c1c">-0.5</text>
<text x="354.50" y="137.41" font-size="6.7" text-anchor="middle" fill="#1c1c1c">0</text>
<text x="387.32" y="137.41" font-size="6.7" text-anchor="middle" fill="#1c1c1c">0.5</text>
<text x="420.15" y="137.41" font-size="6.7" text-anchor="middle" fill="#1c1c1c">1</text>
<text x="321.82" y="130.16" font-size="6.0" text-anchor="middle" fill="#1c1c1c">(B)</text>
<text x="387.48" y="130.16" font-size="6.0" text-anchor="middle" fill="#1c1c1c">(A)</text>
<path d="M290.0 128.0h7M290.0 128.0l2 -1.3M290.0 128.0l2 1.3" stroke="#777" stroke-width="0.7" fill="none"/>
<path d="M419.3 128.0h-7M419.3 128.0l-2 -1.3M419.3 128.0l-2 1.3" stroke="#777" stroke-width="0.7" fill="none"/>
<text x="354.50" y="146.30" font-size="6.4" text-anchor="middle" fill="#1c1c1c">Log Ratio</text>
<text x="281.10" y="160.77" font-size="6.60" textLength="119.90" lengthAdjust="spacingAndGlyphs" fill="#111">SUCNR1 Groups in KIRP: (A) −1.38 - −0.41</text>
<text x="355.20" y="168.34" font-size="6.78" textLength="44.20" lengthAdjust="spacingAndGlyphs" fill="#111">(B) −0.39 - 4.49</text>
<text transform="translate(268.44 0) rotate(-90) translate(-130.00 0)" x="65.00" y="0" font-size="6.24" text-anchor="middle" textLength="37.50" lengthAdjust="spacingAndGlyphs" fill="#1c1c1c">-log10 p-Value</text>
<text transform="translate(427.47 0) rotate(-90) translate(-139.60 0)" x="69.80" y="0" font-size="6.31" text-anchor="middle" textLength="31.80" lengthAdjust="spacingAndGlyphs" fill="#1c1c1c">Significance</text>
<path d="M424.9 52.6v-5.6M424.9 47.0l-1.1 1.8M424.9 47.0l1.1 1.8" stroke="#555" stroke-width="0.6" fill="none"/>
<circle cx="70.5" cy="277.6" r="0.75" fill="#555555"/>
<circle cx="69.7" cy="278.7" r="0.75" fill="#555555"/>
<circle cx="70.3" cy="278.9" r="0.75" fill="#555555"/>
<circle cx="70.9" cy="278.8" r="0.75" fill="#555555"/>
<circle cx="67.2" cy="280.2" r="0.75" fill="#555555"/>
<circle cx="67.8" cy="280.2" r="0.75" fill="#555555"/>
<circle cx="67.9" cy="280.2" r="0.75" fill="#555555"/>
<circle cx="68.5" cy="280.0" r="0.75" fill="#555555"/>
<circle cx="69.1" cy="280.4" r="0.75" fill="#555555"/>
<circle cx="69.0" cy="280.2" r="0.75" fill="#555555"/>
<circle cx="69.6" cy="280.0" r="0.75" fill="#555555"/>
<circle cx="70.5" cy="279.7" r="0.75" fill="#555555"/>
<circle cx="70.3" cy="280.1" r="0.75" fill="#555555"/>
<circle cx="71.2" cy="280.1" r="0.75" fill="#555555"/>
<circle cx="71.1" cy="280.0" r="0.75" fill="#555555"/>
<circle cx="71.9" cy="280.1" r="0.75" fill="#555555"/>
<circle cx="71.9" cy="280.2" r="0.75" fill="#555555"/>
<circle cx="72.4" cy="279.9" r="0.75" fill="#555555"/>
<circle cx="72.9" cy="280.1" r="0.75" fill="#555555"/>
<circle cx="73.3" cy="280.1" r="0.75" fill="#555555"/>
<circle cx="66.0" cy="281.5" r="0.75" fill="#555555"/>
<circle cx="66.2" cy="281.1" r="0.75" fill="#555555"/>
<circle cx="66.6" cy="281.6" r="0.75" fill="#555555"/>
<circle cx="67.1" cy="281.5" r="0.75" fill="#555555"/>
<circle cx="67.8" cy="281.3" r="0.75" fill="#555555"/>
<circle cx="68.5" cy="281.3" r="0.75" fill="#555555"/>
<circle cx="68.2" cy="281.0" r="0.75" fill="#555555"/>
<circle cx="68.4" cy="280.6" r="0.75" fill="#555555"/>
<circle cx="69.0" cy="281.2" r="0.75" fill="#555555"/>
<circle cx="69.3" cy="281.3" r="0.75" fill="#555555"/>
<circle cx="69.8" cy="281.3" r="0.75" fill="#555555"/>
<circle cx="70.4" cy="280.9" r="0.75" fill="#555555"/>
<circle cx="70.5" cy="281.1" r="0.75" fill="#555555"/>
<circle cx="71.3" cy="281.7" r="0.75" fill="#555555"/>
<circle cx="71.7" cy="281.4" r="0.75" fill="#555555"/>
<circle cx="72.3" cy="281.4" r="0.75" fill="#555555"/>
<circle cx="72.8" cy="281.1" r="0.75" fill="#555555"/>
<circle cx="73.0" cy="281.4" r="0.75" fill="#555555"/>
<circle cx="73.7" cy="281.5" r="0.75" fill="#555555"/>
<circle cx="73.4" cy="281.4" r="0.75" fill="#555555"/>
<circle cx="74.0" cy="281.1" r="0.75" fill="#555555"/>
<circle cx="74.4" cy="281.3" r="0.75" fill="#555555"/>
<circle cx="74.8" cy="281.0" r="0.75" fill="#555555"/>
<circle cx="64.2" cy="282.7" r="0.75" fill="#555555"/>
<circle cx="64.8" cy="282.7" r="0.75" fill="#555555"/>
<circle cx="64.9" cy="282.2" r="0.75" fill="#555555"/>
<circle cx="65.4" cy="283.0" r="0.75" fill="#555555"/>
<circle cx="66.2" cy="282.5" r="0.75" fill="#555555"/>
<circle cx="66.2" cy="282.5" r="0.75" fill="#555555"/>
<circle cx="66.8" cy="282.5" r="0.75" fill="#555555"/>
<circle cx="66.9" cy="282.6" r="0.75" fill="#555555"/>
<circle cx="67.1" cy="281.9" r="0.75" fill="#555555"/>
<circle cx="67.8" cy="282.5" r="0.75" fill="#555555"/>
<circle cx="68.1" cy="282.2" r="0.75" fill="#555555"/>
<circle cx="68.0" cy="282.2" r="0.75" fill="#555555"/>
<circle cx="68.6" cy="282.0" r="0.75" fill="#555555"/>
<circle cx="69.2" cy="282.0" r="0.75" fill="#555555"/>
<circle cx="70.1" cy="282.6" r="0.75" fill="#555555"/>
<circle cx="70.0" cy="282.3" r="0.75" fill="#555555"/>
<circle cx="70.5" cy="282.4" r="0.75" fill="#555555"/>
<circle cx="71.0" cy="282.4" r="0.75" fill="#555555"/>
<circle cx="71.4" cy="282.2" r="0.75" fill="#555555"/>
<circle cx="71.6" cy="282.3" r="0.75" fill="#555555"/>
<circle cx="72.5" cy="282.2" r="0.75" fill="#555555"/>
<circle cx="72.8" cy="282.4" r="0.75" fill="#555555"/>
<circle cx="72.2" cy="281.9" r="0.75" fill="#555555"/>
<circle cx="73.5" cy="282.4" r="0.75" fill="#555555"/>
<circle cx="73.8" cy="282.7" r="0.75" fill="#555555"/>
<circle cx="74.2" cy="282.8" r="0.75" fill="#555555"/>
<circle cx="74.4" cy="282.8" r="0.75" fill="#555555"/>
<circle cx="75.0" cy="282.6" r="0.75" fill="#555555"/>
<circle cx="75.7" cy="282.2" r="0.75" fill="#555555"/>
<circle cx="76.0" cy="282.7" r="0.75" fill="#555555"/>
<circle cx="76.4" cy="282.6" r="0.75" fill="#555555"/>
<circle cx="76.6" cy="282.5" r="0.75" fill="#555555"/>
<circle cx="64.1" cy="284.0" r="0.75" fill="#555555"/>
<circle cx="64.9" cy="283.8" r="0.75" fill="#555555"/>
<circle cx="65.6" cy="283.6" r="0.75" fill="#555555"/>
<circle cx="65.8" cy="283.7" r="0.75" fill="#555555"/>
<circle cx="65.9" cy="284.0" r="0.75" fill="#555555"/>
<circle cx="66.5" cy="283.7" r="0.75" fill="#555555"/>
<circle cx="66.8" cy="283.7" r="0.75" fill="#555555"/>
<circle cx="67.2" cy="283.8" r="0.75" fill="#555555"/>
<circle cx="67.8" cy="283.9" r="0.75" fill="#555555"/>
<circle cx="68.0" cy="284.1" r="0.75" fill="#555555"/>
<circle cx="68.4" cy="283.7" r="0.75" fill="#555555"/>
<circle cx="68.8" cy="283.8" r="0.75" fill="#555555"/>
<circle cx="68.9" cy="284.0" r="0.75" fill="#555555"/>
<circle cx="69.3" cy="283.2" r="0.75" fill="#555555"/>
<circle cx="70.0" cy="283.8" r="0.75" fill="#555555"/>
<circle cx="70.2" cy="283.8" r="0.75" fill="#555555"/>
<circle cx="70.8" cy="283.7" r="0.75" fill="#555555"/>
<circle cx="70.6" cy="283.5" r="0.75" fill="#555555"/>
<circle cx="71.8" cy="283.9" r="0.75" fill="#555555"/>
<circle cx="71.8" cy="284.0" r="0.75" fill="#555555"/>
<circle cx="72.7" cy="283.7" r="0.75" fill="#555555"/>
<circle cx="72.0" cy="283.6" r="0.75" fill="#555555"/>
<circle cx="72.6" cy="283.7" r="0.75" fill="#555555"/>
<circle cx="73.8" cy="284.1" r="0.75" fill="#555555"/>
<circle cx="73.9" cy="284.0" r="0.75" fill="#555555"/>
<circle cx="74.3" cy="283.7" r="0.75" fill="#555555"/>
<circle cx="74.6" cy="283.4" r="0.75" fill="#555555"/>
<circle cx="75.0" cy="283.4" r="0.75" fill="#555555"/>
<circle cx="75.5" cy="283.6" r="0.75" fill="#555555"/>
<circle cx="75.5" cy="283.6" r="0.75" fill="#555555"/>
<circle cx="76.1" cy="283.8" r="0.75" fill="#555555"/>
<circle cx="62.0" cy="284.8" r="0.75" fill="#555555"/>
<circle cx="62.7" cy="285.7" r="0.75" fill="#555555"/>
<circle cx="63.2" cy="285.0" r="0.75" fill="#555555"/>
<circle cx="63.0" cy="284.7" r="0.75" fill="#555555"/>
<circle cx="64.4" cy="284.6" r="0.75" fill="#555555"/>
<circle cx="64.4" cy="285.3" r="0.75" fill="#555555"/>
<circle cx="64.7" cy="285.1" r="0.75" fill="#555555"/>
<circle cx="64.6" cy="285.1" r="0.75" fill="#555555"/>
<circle cx="65.1" cy="284.6" r="0.75" fill="#555555"/>
<circle cx="66.0" cy="284.8" r="0.75" fill="#555555"/>
<circle cx="66.3" cy="284.7" r="0.75" fill="#555555"/>
<circle cx="65.9" cy="285.3" r="0.75" fill="#555555"/>
<circle cx="67.2" cy="284.8" r="0.75" fill="#555555"/>
<circle cx="67.4" cy="285.5" r="0.75" fill="#555555"/>
<circle cx="67.8" cy="285.1" r="0.75" fill="#555555"/>
<circle cx="67.7" cy="284.9" r="0.75" fill="#555555"/>
<circle cx="68.5" cy="285.3" r="0.75" fill="#555555"/>
<circle cx="68.6" cy="284.5" r="0.75" fill="#555555"/>
<circle cx="69.3" cy="284.8" r="0.75" fill="#555555"/>
<circle cx="70.0" cy="284.9" r="0.75" fill="#555555"/>
<circle cx="70.1" cy="285.2" r="0.75" fill="#555555"/>
<circle cx="70.6" cy="285.2" r="0.75" fill="#555555"/>
<circle cx="70.6" cy="285.1" r="0.75" fill="#555555"/>
<circle cx="70.8" cy="284.5" r="0.75" fill="#555555"/>
<circle cx="71.5" cy="284.8" r="0.75" fill="#555555"/>
<circle cx="72.1" cy="284.7" r="0.75" fill="#555555"/>
<circle cx="72.6" cy="285.3" r="0.75" fill="#555555"/>
<circle cx="72.6" cy="284.9" r="0.75" fill="#555555"/>
<circle cx="73.0" cy="285.1" r="0.75" fill="#555555"/>
<circle cx="73.3" cy="285.4" r="0.75" fill="#555555"/>
<circle cx="73.3" cy="285.0" r="0.75" fill="#555555"/>
<circle cx="74.1" cy="285.2" r="0.75" fill="#555555"/>
<circle cx="74.6" cy="284.9" r="0.75" fill="#555555"/>
<circle cx="74.8" cy="285.0" r="0.75" fill="#555555"/>
<circle cx="75.2" cy="285.0" r="0.75" fill="#555555"/>
<circle cx="75.2" cy="285.0" r="0.75" fill="#555555"/>
<circle cx="76.0" cy="285.0" r="0.75" fill="#555555"/>
<circle cx="76.8" cy="284.9" r="0.75" fill="#555555"/>
<circle cx="76.8" cy="285.4" r="0.75" fill="#555555"/>
<circle cx="77.3" cy="284.8" r="0.75" fill="#555555"/>
<circle cx="77.7" cy="285.0" r="0.75" fill="#555555"/>
<circle cx="77.7" cy="284.9" r="0.75" fill="#555555"/>
<circle cx="78.4" cy="284.4" r="0.75" fill="#555555"/>
<circle cx="62.7" cy="286.4" r="0.75" fill="#555555"/>
<circle cx="62.9" cy="286.2" r="0.75" fill="#555555"/>
<circle cx="62.9" cy="286.2" r="0.75" fill="#555555"/>
<circle cx="63.5" cy="286.3" r="0.75" fill="#555555"/>
<circle cx="63.6" cy="286.1" r="0.75" fill="#555555"/>
<circle cx="64.5" cy="286.3" r="0.75" fill="#555555"/>
<circle cx="65.2" cy="285.9" r="0.75" fill="#555555"/>
<circle cx="65.5" cy="286.0" r="0.75" fill="#555555"/>
<circle cx="65.2" cy="286.1" r="0.75" fill="#555555"/>
<circle cx="65.5" cy="286.2" r="0.75" fill="#555555"/>
<circle cx="66.4" cy="286.5" r="0.75" fill="#555555"/>
<circle cx="67.1" cy="286.0" r="0.75" fill="#555555"/>
<circle cx="67.1" cy="286.0" r="0.75" fill="#555555"/>
<circle cx="67.7" cy="285.9" r="0.75" fill="#555555"/>
<circle cx="67.5" cy="286.1" r="0.75" fill="#555555"/>
<circle cx="68.2" cy="286.4" r="0.75" fill="#555555"/>
<circle cx="68.7" cy="286.0" r="0.75" fill="#555555"/>
<circle cx="68.9" cy="286.1" r="0.75" fill="#555555"/>
<circle cx="69.3" cy="286.1" r="0.75" fill="#555555"/>
<circle cx="69.9" cy="286.2" r="0.75" fill="#555555"/>
<circle cx="70.0" cy="285.7" r="0.75" fill="#555555"/>
<circle cx="70.2" cy="286.4" r="0.75" fill="#555555"/>
<circle cx="71.1" cy="286.4" r="0.75" fill="#555555"/>
<circle cx="71.3" cy="286.0" r="0.75" fill="#555555"/>
<circle cx="71.4" cy="286.2" r="0.75" fill="#555555"/>
<circle cx="72.1" cy="286.0" r="0.75" fill="#555555"/>
<circle cx="72.3" cy="286.5" r="0.75" fill="#555555"/>
<circle cx="72.9" cy="286.4" r="0.75" fill="#555555"/>
<circle cx="73.2" cy="286.9" r="0.75" fill="#555555"/>
<circle cx="73.5" cy="286.2" r="0.75" fill="#555555"/>
<circle cx="73.7" cy="286.0" r="0.75" fill="#555555"/>
<circle cx="74.4" cy="286.1" r="0.75" fill="#555555"/>
<circle cx="74.7" cy="285.9" r="0.75" fill="#555555"/>
<circle cx="75.5" cy="286.3" r="0.75" fill="#555555"/>
<circle cx="75.4" cy="286.3" r="0.75" fill="#555555"/>
<circle cx="75.5" cy="286.4" r="0.75" fill="#555555"/>
<circle cx="76.7" cy="286.3" r="0.75" fill="#555555"/>
<circle cx="76.1" cy="286.1" r="0.75" fill="#555555"/>
<circle cx="77.4" cy="286.5" r="0.75" fill="#555555"/>
<circle cx="77.1" cy="286.4" r="0.75" fill="#555555"/>
<circle cx="78.1" cy="286.4" r="0.75" fill="#555555"/>
<circle cx="78.1" cy="285.9" r="0.75" fill="#555555"/>
<circle cx="65.1" cy="287.6" r="0.75" fill="#555555"/>
<circle cx="65.6" cy="287.6" r="0.75" fill="#555555"/>
<circle cx="66.0" cy="287.4" r="0.75" fill="#555555"/>
<circle cx="66.0" cy="287.6" r="0.75" fill="#555555"/>
<circle cx="67.2" cy="287.9" r="0.75" fill="#555555"/>
<circle cx="67.3" cy="287.5" r="0.75" fill="#555555"/>
<circle cx="67.9" cy="287.4" r="0.75" fill="#555555"/>
<circle cx="68.3" cy="287.3" r="0.75" fill="#555555"/>
<circle cx="68.9" cy="287.5" r="0.75" fill="#555555"/>
<circle cx="69.1" cy="287.7" r="0.75" fill="#555555"/>
<circle cx="69.4" cy="287.5" r="0.75" fill="#555555"/>
<circle cx="69.5" cy="287.6" r="0.75" fill="#555555"/>
<circle cx="70.1" cy="288.2" r="0.75" fill="#555555"/>
<circle cx="70.9" cy="287.3" r="0.75" fill="#555555"/>
<circle cx="70.5" cy="287.2" r="0.75" fill="#555555"/>
<circle cx="71.1" cy="287.6" r="0.75" fill="#555555"/>
<circle cx="71.8" cy="287.4" r="0.75" fill="#555555"/>
<circle cx="72.5" cy="287.6" r="0.75" fill="#555555"/>
<circle cx="72.2" cy="287.8" r="0.75" fill="#555555"/>
<circle cx="72.8" cy="287.6" r="0.75" fill="#555555"/>
<circle cx="73.3" cy="287.4" r="0.75" fill="#555555"/>
<circle cx="74.5" cy="287.6" r="0.75" fill="#555555"/>
<circle cx="73.9" cy="287.6" r="0.75" fill="#555555"/>
<circle cx="74.4" cy="287.5" r="0.75" fill="#555555"/>
<circle cx="75.1" cy="287.3" r="0.75" fill="#555555"/>
<circle cx="75.1" cy="287.7" r="0.75" fill="#555555"/>
<circle cx="65.9" cy="288.6" r="0.75" fill="#555555"/>
<circle cx="66.0" cy="288.7" r="0.75" fill="#555555"/>
<circle cx="66.9" cy="288.9" r="0.75" fill="#555555"/>
<circle cx="67.0" cy="288.8" r="0.75" fill="#555555"/>
<circle cx="67.4" cy="288.6" r="0.75" fill="#555555"/>
<circle cx="68.1" cy="289.1" r="0.75" fill="#555555"/>
<circle cx="68.1" cy="289.0" r="0.75" fill="#555555"/>
<circle cx="68.7" cy="288.7" r="0.75" fill="#555555"/>
<circle cx="68.9" cy="288.6" r="0.75" fill="#555555"/>
<circle cx="69.1" cy="289.0" r="0.75" fill="#555555"/>
<circle cx="70.0" cy="288.1" r="0.75" fill="#555555"/>
<circle cx="70.7" cy="288.8" r="0.75" fill="#555555"/>
<circle cx="70.5" cy="288.6" r="0.75" fill="#555555"/>
<circle cx="71.4" cy="288.6" r="0.75" fill="#555555"/>
<circle cx="71.8" cy="289.0" r="0.75" fill="#555555"/>
<circle cx="72.3" cy="288.8" r="0.75" fill="#555555"/>
<circle cx="72.1" cy="289.5" r="0.75" fill="#555555"/>
<circle cx="72.6" cy="288.7" r="0.75" fill="#555555"/>
<circle cx="73.5" cy="288.8" r="0.75" fill="#555555"/>
<circle cx="73.5" cy="288.4" r="0.75" fill="#555555"/>
<circle cx="73.9" cy="289.0" r="0.75" fill="#555555"/>
<circle cx="74.5" cy="288.6" r="0.75" fill="#555555"/>
<circle cx="74.9" cy="288.8" r="0.75" fill="#555555"/>
<circle cx="67.2" cy="289.8" r="0.75" fill="#555555"/>
<circle cx="67.5" cy="290.1" r="0.75" fill="#555555"/>
<circle cx="67.8" cy="290.4" r="0.75" fill="#555555"/>
<circle cx="68.4" cy="289.7" r="0.75" fill="#555555"/>
<circle cx="68.4" cy="289.6" r="0.75" fill="#555555"/>
<circle cx="68.7" cy="290.0" r="0.75" fill="#555555"/>
<circle cx="68.9" cy="290.1" r="0.75" fill="#555555"/>
<circle cx="69.9" cy="290.2" r="0.75" fill="#555555"/>
<circle cx="70.6" cy="289.8" r="0.75" fill="#555555"/>
<circle cx="70.5" cy="290.2" r="0.75" fill="#555555"/>
<circle cx="71.0" cy="290.3" r="0.75" fill="#555555"/>
<circle cx="71.3" cy="289.6" r="0.75" fill="#555555"/>
<circle cx="71.9" cy="289.9" r="0.75" fill="#555555"/>
<circle cx="71.7" cy="290.1" r="0.75" fill="#555555"/>
<circle cx="72.8" cy="290.2" r="0.75" fill="#555555"/>
<circle cx="73.3" cy="289.9" r="0.75" fill="#555555"/>
<circle cx="73.2" cy="289.5" r="0.75" fill="#555555"/>
<circle cx="73.6" cy="289.8" r="0.75" fill="#555555"/>
<circle cx="67.4" cy="291.6" r="0.75" fill="#555555"/>
<circle cx="68.1" cy="291.7" r="0.75" fill="#555555"/>
<circle cx="68.9" cy="291.2" r="0.75" fill="#555555"/>
<circle cx="68.9" cy="291.2" r="0.75" fill="#555555"/>
<circle cx="69.5" cy="291.1" r="0.75" fill="#555555"/>
<circle cx="69.6" cy="291.5" r="0.75" fill="#555555"/>
<circle cx="70.6" cy="290.8" r="0.75" fill="#555555"/>
<circle cx="70.6" cy="291.3" r="0.75" fill="#555555"/>
<circle cx="70.9" cy="291.7" r="0.75" fill="#555555"/>
<circle cx="72.1" cy="291.3" r="0.75" fill="#555555"/>
<circle cx="72.1" cy="291.7" r="0.75" fill="#555555"/>
<circle cx="72.6" cy="291.2" r="0.75" fill="#555555"/>
<circle cx="72.4" cy="291.2" r="0.75" fill="#555555"/>
<circle cx="67.8" cy="292.5" r="0.75" fill="#555555"/>
<circle cx="68.0" cy="292.6" r="0.75" fill="#555555"/>
<circle cx="68.4" cy="292.8" r="0.75" fill="#555555"/>
<circle cx="68.7" cy="292.7" r="0.75" fill="#555555"/>
<circle cx="69.0" cy="292.6" r="0.75" fill="#555555"/>
<circle cx="69.6" cy="292.2" r="0.75" fill="#555555"/>
<circle cx="70.3" cy="292.3" r="0.75" fill="#555555"/>
<circle cx="70.8" cy="292.5" r="0.75" fill="#555555"/>
<circle cx="70.9" cy="292.5" r="0.75" fill="#555555"/>
<circle cx="71.5" cy="292.7" r="0.75" fill="#555555"/>
<circle cx="71.6" cy="292.0" r="0.75" fill="#555555"/>
<circle cx="72.2" cy="292.5" r="0.75" fill="#555555"/>
<circle cx="72.6" cy="292.5" r="0.75" fill="#555555"/>
<circle cx="73.0" cy="292.4" r="0.75" fill="#555555"/>
<circle cx="68.7" cy="293.8" r="0.75" fill="#555555"/>
<circle cx="69.4" cy="293.5" r="0.75" fill="#555555"/>
<circle cx="69.8" cy="293.7" r="0.75" fill="#555555"/>
<circle cx="70.4" cy="293.4" r="0.75" fill="#555555"/>
<circle cx="70.3" cy="294.1" r="0.75" fill="#555555"/>
<circle cx="71.0" cy="294.1" r="0.75" fill="#555555"/>
<circle cx="72.1" cy="294.0" r="0.75" fill="#555555"/>
<circle cx="69.8" cy="295.3" r="0.75" fill="#555555"/>
<circle cx="70.2" cy="295.0" r="0.75" fill="#555555"/>
<circle cx="70.9" cy="295.0" r="0.75" fill="#555555"/>
<circle cx="71.3" cy="294.8" r="0.75" fill="#555555"/>
<circle cx="70.6" cy="295.8" r="0.75" fill="#555555"/>
<circle cx="70.0" cy="297.7" r="0.75" fill="#555555"/>
<circle cx="70.7" cy="297.5" r="0.75" fill="#555555"/>
<circle cx="71.1" cy="297.6" r="0.75" fill="#555555"/>
<circle cx="70.3" cy="270.1" r="0.85" fill="#555555"/>
<circle cx="70.3" cy="302.2" r="0.85" fill="#555555"/>
<circle cx="94.7" cy="274.5" r="0.75" fill="#a8a8a8"/>
<circle cx="94.6" cy="274.7" r="0.75" fill="#a8a8a8"/>
<circle cx="94.6" cy="275.6" r="0.75" fill="#a8a8a8"/>
<circle cx="93.2" cy="277.0" r="0.75" fill="#a8a8a8"/>
<circle cx="93.3" cy="276.8" r="0.75" fill="#a8a8a8"/>
<circle cx="94.0" cy="276.8" r="0.75" fill="#a8a8a8"/>
<circle cx="94.1" cy="277.1" r="0.75" fill="#a8a8a8"/>
<circle cx="94.8" cy="277.0" r="0.75" fill="#a8a8a8"/>
<circle cx="95.2" cy="277.0" r="0.75" fill="#a8a8a8"/>
<circle cx="95.7" cy="276.9" r="0.75" fill="#a8a8a8"/>
<circle cx="96.2" cy="277.1" r="0.75" fill="#a8a8a8"/>
<circle cx="96.3" cy="276.6" r="0.75" fill="#a8a8a8"/>
<circle cx="92.4" cy="277.8" r="0.75" fill="#a8a8a8"/>
<circle cx="93.0" cy="278.1" r="0.75" fill="#a8a8a8"/>
<circle cx="93.5" cy="278.0" r="0.75" fill="#a8a8a8"/>
<circle cx="93.3" cy="278.1" r="0.75" fill="#a8a8a8"/>
<circle cx="93.7" cy="278.0" r="0.75" fill="#a8a8a8"/>
<circle cx="94.0" cy="277.8" r="0.75" fill="#a8a8a8"/>
<circle cx="94.9" cy="278.2" r="0.75" fill="#a8a8a8"/>
<circle cx="95.3" cy="278.2" r="0.75" fill="#a8a8a8"/>
<circle cx="95.8" cy="278.0" r="0.75" fill="#a8a8a8"/>
<circle cx="96.3" cy="277.6" r="0.75" fill="#a8a8a8"/>
<circle cx="95.8" cy="277.5" r="0.75" fill="#a8a8a8"/>
<circle cx="96.4" cy="277.8" r="0.75" fill="#a8a8a8"/>
<circle cx="96.7" cy="278.2" r="0.75" fill="#a8a8a8"/>
<circle cx="90.1" cy="279.1" r="0.75" fill="#a8a8a8"/>
<circle cx="90.3" cy="279.0" r="0.75" fill="#a8a8a8"/>
<circle cx="90.6" cy="279.4" r="0.75" fill="#a8a8a8"/>
<circle cx="90.3" cy="279.5" r="0.75" fill="#a8a8a8"/>
<circle cx="91.4" cy="279.3" r="0.75" fill="#a8a8a8"/>
<circle cx="91.4" cy="279.4" r="0.75" fill="#a8a8a8"/>
<circle cx="91.8" cy="279.3" r="0.75" fill="#a8a8a8"/>
<circle cx="92.0" cy="279.3" r="0.75" fill="#a8a8a8"/>
<circle cx="92.1" cy="279.5" r="0.75" fill="#a8a8a8"/>
<circle cx="93.1" cy="279.5" r="0.75" fill="#a8a8a8"/>
<circle cx="93.3" cy="279.7" r="0.75" fill="#a8a8a8"/>
<circle cx="93.3" cy="279.2" r="0.75" fill="#a8a8a8"/>
<circle cx="93.5" cy="279.4" r="0.75" fill="#a8a8a8"/>
<circle cx="94.1" cy="279.3" r="0.75" fill="#a8a8a8"/>
<circle cx="94.7" cy="279.4" r="0.75" fill="#a8a8a8"/>
<circle cx="95.0" cy="279.7" r="0.75" fill="#a8a8a8"/>
<circle cx="95.2" cy="279.4" r="0.75" fill="#a8a8a8"/>
<circle cx="95.7" cy="279.2" r="0.75" fill="#a8a8a8"/>
<circle cx="95.9" cy="279.2" r="0.75" fill="#a8a8a8"/>
<circle cx="95.9" cy="279.2" r="0.75" fill="#a8a8a8"/>
<circle cx="96.7" cy="279.3" r="0.75" fill="#a8a8a8"/>
<circle cx="96.8" cy="279.2" r="0.75" fill="#a8a8a8"/>
<circle cx="96.9" cy="279.2" r="0.75" fill="#a8a8a8"/>
<circle cx="97.8" cy="279.3" r="0.75" fill="#a8a8a8"/>
<circle cx="97.9" cy="279.4" r="0.75" fill="#a8a8a8"/>
<circle cx="97.8" cy="279.1" r="0.75" fill="#a8a8a8"/>
<circle cx="98.6" cy="279.4" r="0.75" fill="#a8a8a8"/>
<circle cx="98.8" cy="279.4" r="0.75" fill="#a8a8a8"/>
<circle cx="99.0" cy="279.6" r="0.75" fill="#a8a8a8"/>
<circle cx="99.3" cy="279.4" r="0.75" fill="#a8a8a8"/>
<circle cx="89.3" cy="280.3" r="0.75" fill="#a8a8a8"/>
<circle cx="89.6" cy="280.3" r="0.75" fill="#a8a8a8"/>
<circle cx="90.1" cy="280.9" r="0.75" fill="#a8a8a8"/>
<circle cx="90.1" cy="280.8" r="0.75" fill="#a8a8a8"/>
<circle cx="90.1" cy="280.4" r="0.75" fill="#a8a8a8"/>
<circle cx="90.9" cy="280.6" r="0.75" fill="#a8a8a8"/>
<circle cx="90.9" cy="280.6" r="0.75" fill="#a8a8a8"/>
<circle cx="90.9" cy="280.9" r="0.75" fill="#a8a8a8"/>
<circle cx="91.9" cy="280.7" r="0.75" fill="#a8a8a8"/>
<circle cx="92.1" cy="280.4" r="0.75" fill="#a8a8a8"/>
<circle cx="92.5" cy="280.8" r="0.75" fill="#a8a8a8"/>
<circle cx="92.9" cy="280.5" r="0.75" fill="#a8a8a8"/>
<circle cx="93.0" cy="280.7" r="0.75" fill="#a8a8a8"/>
<circle cx="93.7" cy="280.5" r="0.75" fill="#a8a8a8"/>
<circle cx="93.7" cy="279.9" r="0.75" fill="#a8a8a8"/>
<circle cx="94.0" cy="281.0" r="0.75" fill="#a8a8a8"/>
<circle cx="94.4" cy="280.4" r="0.75" fill="#a8a8a8"/>
<circle cx="94.2" cy="280.8" r="0.75" fill="#a8a8a8"/>
<circle cx="95.1" cy="280.8" r="0.75" fill="#a8a8a8"/>
<circle cx="95.0" cy="280.5" r="0.75" fill="#a8a8a8"/>
<circle cx="95.8" cy="280.3" r="0.75" fill="#a8a8a8"/>
<circle cx="95.9" cy="281.1" r="0.75" fill="#a8a8a8"/>
<circle cx="96.3" cy="280.7" r="0.75" fill="#a8a8a8"/>
<circle cx="96.4" cy="280.9" r="0.75" fill="#a8a8a8"/>
<circle cx="97.3" cy="280.7" r="0.75" fill="#a8a8a8"/>
<circle cx="96.8" cy="280.8" r="0.75" fill="#a8a8a8"/>
<circle cx="97.6" cy="280.7" r="0.75" fill="#a8a8a8"/>
<circle cx="97.7" cy="280.3" r="0.75" fill="#a8a8a8"/>
<circle cx="97.9" cy="280.4" r="0.75" fill="#a8a8a8"/>
<circle cx="98.9" cy="280.7" r="0.75" fill="#a8a8a8"/>
<circle cx="98.9" cy="280.3" r="0.75" fill="#a8a8a8"/>
<circle cx="99.8" cy="280.5" r="0.75" fill="#a8a8a8"/>
<circle cx="99.7" cy="280.6" r="0.75" fill="#a8a8a8"/>
<circle cx="100.0" cy="280.9" r="0.75" fill="#a8a8a8"/>
<circle cx="100.3" cy="281.0" r="0.75" fill="#a8a8a8"/>
<circle cx="87.8" cy="282.3" r="0.75" fill="#a8a8a8"/>
<circle cx="88.7" cy="281.8" r="0.75" fill="#a8a8a8"/>
<circle cx="89.4" cy="282.0" r="0.75" fill="#a8a8a8"/>
<circle cx="89.0" cy="281.9" r="0.75" fill="#a8a8a8"/>
<circle cx="89.3" cy="282.1" r="0.75" fill="#a8a8a8"/>
<circle cx="90.2" cy="281.5" r="0.75" fill="#a8a8a8"/>
<circle cx="90.3" cy="282.0" r="0.75" fill="#a8a8a8"/>
<circle cx="90.4" cy="281.8" r="0.75" fill="#a8a8a8"/>
<circle cx="90.9" cy="281.8" r="0.75" fill="#a8a8a8"/>
<circle cx="91.4" cy="281.6" r="0.75" fill="#a8a8a8"/>
<circle cx="91.5" cy="281.7" r="0.75" fill="#a8a8a8"/>
<circle cx="91.9" cy="282.2" r="0.75" fill="#a8a8a8"/>
<circle cx="92.2" cy="282.1" r="0.75" fill="#a8a8a8"/>
<circle cx="92.6" cy="281.5" r="0.75" fill="#a8a8a8"/>
<circle cx="92.8" cy="281.9" r="0.75" fill="#a8a8a8"/>
<circle cx="93.2" cy="281.8" r="0.75" fill="#a8a8a8"/>
<circle cx="93.4" cy="282.1" r="0.75" fill="#a8a8a8"/>
<circle cx="94.0" cy="282.0" r="0.75" fill="#a8a8a8"/>
<circle cx="94.0" cy="282.0" r="0.75" fill="#a8a8a8"/>
<circle cx="94.3" cy="281.9" r="0.75" fill="#a8a8a8"/>
<circle cx="94.4" cy="281.9" r="0.75" fill="#a8a8a8"/>
<circle cx="94.9" cy="281.7" r="0.75" fill="#a8a8a8"/>
<circle cx="95.4" cy="281.5" r="0.75" fill="#a8a8a8"/>
<circle cx="95.6" cy="281.7" r="0.75" fill="#a8a8a8"/>
<circle cx="96.1" cy="282.2" r="0.75" fill="#a8a8a8"/>
<circle cx="96.0" cy="282.2" r="0.75" fill="#a8a8a8"/>
<circle cx="96.5" cy="281.7" r="0.75" fill="#a8a8a8"/>
<circle cx="96.5" cy="281.7" r="0.75" fill="#a8a8a8"/>
<circle cx="97.2" cy="281.7" r="0.75" fill="#a8a8a8"/>
<circle cx="97.8" cy="281.7" r="0.75" fill="#a8a8a8"/>
<circle cx="98.0" cy="281.6" r="0.75" fill="#a8a8a8"/>
<circle cx="98.1" cy="281.7" r="0.75" fill="#a8a8a8"/>
<circle cx="98.7" cy="282.0" r="0.75" fill="#a8a8a8"/>
<circle cx="98.9" cy="282.0" r="0.75" fill="#a8a8a8"/>
<circle cx="99.0" cy="282.3" r="0.75" fill="#a8a8a8"/>
<circle cx="99.3" cy="281.8" r="0.75" fill="#a8a8a8"/>
<circle cx="99.6" cy="281.3" r="0.75" fill="#a8a8a8"/>
<circle cx="100.2" cy="281.7" r="0.75" fill="#a8a8a8"/>
<circle cx="100.6" cy="281.6" r="0.75" fill="#a8a8a8"/>
<circle cx="100.9" cy="281.8" r="0.75" fill="#a8a8a8"/>
<circle cx="101.0" cy="281.7" r="0.75" fill="#a8a8a8"/>
<circle cx="86.9" cy="283.4" r="0.75" fill="#a8a8a8"/>
<circle cx="86.8" cy="283.3" r="0.75" fill="#a8a8a8"/>
<circle cx="87.3" cy="282.9" r="0.75" fill="#a8a8a8"/>
<circle cx="88.1" cy="282.7" r="0.75" fill="#a8a8a8"/>
<circle cx="88.0" cy="282.5" r="0.75" fill="#a8a8a8"/>
<circle cx="87.9" cy="282.9" r="0.75" fill="#a8a8a8"/>
<circle cx="88.8" cy="283.0" r="0.75" fill="#a8a8a8"/>
<circle cx="89.0" cy="283.1" r="0.75" fill="#a8a8a8"/>
<circle cx="89.3" cy="283.4" r="0.75" fill="#a8a8a8"/>
<circle cx="89.7" cy="283.1" r="0.75" fill="#a8a8a8"/>
<circle cx="89.6" cy="282.8" r="0.75" fill="#a8a8a8"/>
<circle cx="89.9" cy="282.8" r="0.75" fill="#a8a8a8"/>
<circle cx="90.5" cy="282.9" r="0.75" fill="#a8a8a8"/>
<circle cx="90.4" cy="282.9" r="0.75" fill="#a8a8a8"/>
<circle cx="90.9" cy="283.2" r="0.75" fill="#a8a8a8"/>
<circle cx="91.7" cy="283.0" r="0.75" fill="#a8a8a8"/>
<circle cx="91.4" cy="283.1" r="0.75" fill="#a8a8a8"/>
<circle cx="92.1" cy="283.1" r="0.75" fill="#a8a8a8"/>
<circle cx="92.6" cy="283.2" r="0.75" fill="#a8a8a8"/>
<circle cx="92.6" cy="283.3" r="0.75" fill="#a8a8a8"/>
<circle cx="92.9" cy="283.4" r="0.75" fill="#a8a8a8"/>
<circle cx="93.6" cy="282.9" r="0.75" fill="#a8a8a8"/>
<circle cx="93.3" cy="283.0" r="0.75" fill="#a8a8a8"/>
<circle cx="94.3" cy="283.1" r="0.75" fill="#a8a8a8"/>
<circle cx="94.0" cy="283.1" r="0.75" fill="#a8a8a8"/>
<circle cx="94.5" cy="283.3" r="0.75" fill="#a8a8a8"/>
<circle cx="94.6" cy="283.3" r="0.75" fill="#a8a8a8"/>
<circle cx="94.9" cy="283.0" r="0.75" fill="#a8a8a8"/>
<circle cx="95.7" cy="283.5" r="0.75" fill="#a8a8a8"/>
<circle cx="95.8" cy="283.2" r="0.75" fill="#a8a8a8"/>
<circle cx="96.2" cy="283.3" r="0.75" fill="#a8a8a8"/>
<circle cx="96.1" cy="283.0" r="0.75" fill="#a8a8a8"/>
<circle cx="96.7" cy="283.3" r="0.75" fill="#a8a8a8"/>
<circle cx="96.8" cy="283.0" r="0.75" fill="#a8a8a8"/>
<circle cx="97.4" cy="282.9" r="0.75" fill="#a8a8a8"/>
<circle cx="97.8" cy="283.1" r="0.75" fill="#a8a8a8"/>
<circle cx="98.1" cy="282.9" r="0.75" fill="#a8a8a8"/>
<circle cx="98.4" cy="282.8" r="0.75" fill="#a8a8a8"/>
<circle cx="98.5" cy="283.2" r="0.75" fill="#a8a8a8"/>
<circle cx="99.1" cy="283.3" r="0.75" fill="#a8a8a8"/>
<circle cx="99.1" cy="282.9" r="0.75" fill="#a8a8a8"/>
<circle cx="99.9" cy="283.3" r="0.75" fill="#a8a8a8"/>
<circle cx="99.8" cy="283.4" r="0.75" fill="#a8a8a8"/>
<circle cx="100.5" cy="283.4" r="0.75" fill="#a8a8a8"/>
<circle cx="100.4" cy="283.2" r="0.75" fill="#a8a8a8"/>
<circle cx="101.0" cy="283.0" r="0.75" fill="#a8a8a8"/>
<circle cx="101.2" cy="283.5" r="0.75" fill="#a8a8a8"/>
<circle cx="101.1" cy="283.0" r="0.75" fill="#a8a8a8"/>
<circle cx="101.9" cy="283.2" r="0.75" fill="#a8a8a8"/>
<circle cx="101.9" cy="283.4" r="0.75" fill="#a8a8a8"/>
<circle cx="102.0" cy="283.5" r="0.75" fill="#a8a8a8"/>
<circle cx="102.7" cy="283.2" r="0.75" fill="#a8a8a8"/>
<circle cx="88.2" cy="284.6" r="0.75" fill="#a8a8a8"/>
<circle cx="88.6" cy="284.8" r="0.75" fill="#a8a8a8"/>
<circle cx="88.9" cy="284.4" r="0.75" fill="#a8a8a8"/>
<circle cx="89.4" cy="284.4" r="0.75" fill="#a8a8a8"/>
<circle cx="89.7" cy="283.8" r="0.75" fill="#a8a8a8"/>
<circle cx="90.2" cy="284.4" r="0.75" fill="#a8a8a8"/>
<circle cx="90.1" cy="284.6" r="0.75" fill="#a8a8a8"/>
<circle cx="90.6" cy="284.3" r="0.75" fill="#a8a8a8"/>
<circle cx="90.6" cy="284.4" r="0.75" fill="#a8a8a8"/>
<circle cx="91.0" cy="284.3" r="0.75" fill="#a8a8a8"/>
<circle cx="91.7" cy="283.9" r="0.75" fill="#a8a8a8"/>
<circle cx="91.6" cy="284.6" r="0.75" fill="#a8a8a8"/>
<circle cx="91.6" cy="284.2" r="0.75" fill="#a8a8a8"/>
<circle cx="92.2" cy="284.1" r="0.75" fill="#a8a8a8"/>
<circle cx="92.5" cy="284.6" r="0.75" fill="#a8a8a8"/>
<circle cx="92.5" cy="284.5" r="0.75" fill="#a8a8a8"/>
<circle cx="93.3" cy="284.5" r="0.75" fill="#a8a8a8"/>
<circle cx="93.8" cy="284.4" r="0.75" fill="#a8a8a8"/>
<circle cx="93.8" cy="284.2" r="0.75" fill="#a8a8a8"/>
<circle cx="94.5" cy="284.6" r="0.75" fill="#a8a8a8"/>
<circle cx="94.1" cy="284.2" r="0.75" fill="#a8a8a8"/>
<circle cx="95.0" cy="284.4" r="0.75" fill="#a8a8a8"/>
<circle cx="95.2" cy="284.1" r="0.75" fill="#a8a8a8"/>
<circle cx="96.0" cy="284.1" r="0.75" fill="#a8a8a8"/>
<circle cx="95.8" cy="284.6" r="0.75" fill="#a8a8a8"/>
<circle cx="96.1" cy="284.2" r="0.75" fill="#a8a8a8"/>
<circle cx="96.5" cy="284.7" r="0.75" fill="#a8a8a8"/>
<circle cx="96.7" cy="284.1" r="0.75" fill="#a8a8a8"/>
<circle cx="97.0" cy="284.6" r="0.75" fill="#a8a8a8"/>
<circle cx="97.6" cy="284.3" r="0.75" fill="#a8a8a8"/>
<circle cx="97.8" cy="284.6" r="0.75" fill="#a8a8a8"/>
<circle cx="98.1" cy="284.5" r="0.75" fill="#a8a8a8"/>
<circle cx="98.4" cy="284.0" r="0.75" fill="#a8a8a8"/>
<circle cx="98.5" cy="284.5" r="0.75" fill="#a8a8a8"/>
<circle cx="99.5" cy="284.3" r="0.75" fill="#a8a8a8"/>
<circle cx="99.1" cy="284.2" r="0.75" fill="#a8a8a8"/>
<circle cx="99.9" cy="284.6" r="0.75" fill="#a8a8a8"/>
<circle cx="99.9" cy="284.5" r="0.75" fill="#a8a8a8"/>
<circle cx="100.5" cy="284.5" r="0.75" fill="#a8a8a8"/>
<circle cx="100.6" cy="284.7" r="0.75" fill="#a8a8a8"/>
<circle cx="101.2" cy="284.6" r="0.75" fill="#a8a8a8"/>
<circle cx="101.4" cy="284.4" r="0.75" fill="#a8a8a8"/>
<circle cx="89.3" cy="285.6" r="0.75" fill="#a8a8a8"/>
<circle cx="90.2" cy="285.6" r="0.75" fill="#a8a8a8"/>
<circle cx="90.0" cy="285.9" r="0.75" fill="#a8a8a8"/>
<circle cx="90.1" cy="285.6" r="0.75" fill="#a8a8a8"/>
<circle cx="91.3" cy="285.7" r="0.75" fill="#a8a8a8"/>
<circle cx="91.6" cy="285.3" r="0.75" fill="#a8a8a8"/>
<circle cx="91.1" cy="285.7" r="0.75" fill="#a8a8a8"/>
<circle cx="91.9" cy="285.8" r="0.75" fill="#a8a8a8"/>
<circle cx="91.8" cy="285.6" r="0.75" fill="#a8a8a8"/>
<circle cx="92.6" cy="285.6" r="0.75" fill="#a8a8a8"/>
<circle cx="92.7" cy="285.2" r="0.75" fill="#a8a8a8"/>
<circle cx="92.8" cy="285.4" r="0.75" fill="#a8a8a8"/>
<circle cx="93.6" cy="285.6" r="0.75" fill="#a8a8a8"/>
<circle cx="93.5" cy="285.5" r="0.75" fill="#a8a8a8"/>
<circle cx="94.2" cy="286.1" r="0.75" fill="#a8a8a8"/>
<circle cx="94.2" cy="285.8" r="0.75" fill="#a8a8a8"/>
<circle cx="95.1" cy="285.3" r="0.75" fill="#a8a8a8"/>
<circle cx="95.3" cy="286.2" r="0.75" fill="#a8a8a8"/>
<circle cx="95.3" cy="285.3" r="0.75" fill="#a8a8a8"/>
<circle cx="95.2" cy="285.3" r="0.75" fill="#a8a8a8"/>
<circle cx="96.1" cy="285.4" r="0.75" fill="#a8a8a8"/>
<circle cx="96.1" cy="285.6" r="0.75" fill="#a8a8a8"/>
<circle cx="96.9" cy="286.2" r="0.75" fill="#a8a8a8"/>
<circle cx="97.4" cy="285.6" r="0.75" fill="#a8a8a8"/>
<circle cx="97.3" cy="285.7" r="0.75" fill="#a8a8a8"/>
<circle cx="97.9" cy="285.3" r="0.75" fill="#a8a8a8"/>
<circle cx="97.7" cy="285.5" r="0.75" fill="#a8a8a8"/>
<circle cx="98.4" cy="286.2" r="0.75" fill="#a8a8a8"/>
<circle cx="99.0" cy="285.9" r="0.75" fill="#a8a8a8"/>
<circle cx="98.6" cy="285.8" r="0.75" fill="#a8a8a8"/>
<circle cx="99.4" cy="286.0" r="0.75" fill="#a8a8a8"/>
<circle cx="99.6" cy="285.8" r="0.75" fill="#a8a8a8"/>
<circle cx="100.1" cy="285.7" r="0.75" fill="#a8a8a8"/>
<circle cx="90.8" cy="287.0" r="0.75" fill="#a8a8a8"/>
<circle cx="91.0" cy="287.0" r="0.75" fill="#a8a8a8"/>
<circle cx="91.5" cy="286.8" r="0.75" fill="#a8a8a8"/>
<circle cx="92.0" cy="286.6" r="0.75" fill="#a8a8a8"/>
<circle cx="92.2" cy="286.7" r="0.75" fill="#a8a8a8"/>
<circle cx="92.9" cy="286.9" r="0.75" fill="#a8a8a8"/>
<circle cx="93.5" cy="287.1" r="0.75" fill="#a8a8a8"/>
<circle cx="93.4" cy="287.3" r="0.75" fill="#a8a8a8"/>
<circle cx="93.3" cy="286.8" r="0.75" fill="#a8a8a8"/>
<circle cx="93.8" cy="287.0" r="0.75" fill="#a8a8a8"/>
<circle cx="94.6" cy="287.2" r="0.75" fill="#a8a8a8"/>
<circle cx="94.9" cy="286.6" r="0.75" fill="#a8a8a8"/>
<circle cx="95.1" cy="287.0" r="0.75" fill="#a8a8a8"/>
<circle cx="95.5" cy="286.8" r="0.75" fill="#a8a8a8"/>
<circle cx="96.0" cy="286.8" r="0.75" fill="#a8a8a8"/>
<circle cx="96.1" cy="287.0" r="0.75" fill="#a8a8a8"/>
<circle cx="96.5" cy="286.8" r="0.75" fill="#a8a8a8"/>
<circle cx="96.6" cy="286.9" r="0.75" fill="#a8a8a8"/>
<circle cx="96.6" cy="286.6" r="0.75" fill="#a8a8a8"/>
<circle cx="97.4" cy="286.9" r="0.75" fill="#a8a8a8"/>
<circle cx="97.7" cy="286.7" r="0.75" fill="#a8a8a8"/>
<circle cx="98.2" cy="286.8" r="0.75" fill="#a8a8a8"/>
<circle cx="98.3" cy="287.6" r="0.75" fill="#a8a8a8"/>
<circle cx="93.0" cy="288.0" r="0.75" fill="#a8a8a8"/>
<circle cx="93.4" cy="288.1" r="0.75" fill="#a8a8a8"/>
<circle cx="93.7" cy="288.4" r="0.75" fill="#a8a8a8"/>
<circle cx="94.0" cy="288.1" r="0.75" fill="#a8a8a8"/>
<circle cx="95.0" cy="287.6" r="0.75" fill="#a8a8a8"/>
<circle cx="94.7" cy="288.6" r="0.75" fill="#a8a8a8"/>
<circle cx="95.8" cy="287.9" r="0.75" fill="#a8a8a8"/>
<circle cx="95.6" cy="288.0" r="0.75" fill="#a8a8a8"/>
<circle cx="96.3" cy="288.5" r="0.75" fill="#a8a8a8"/>
<circle cx="96.4" cy="287.7" r="0.75" fill="#a8a8a8"/>
<circle cx="93.4" cy="289.4" r="0.75" fill="#a8a8a8"/>
<circle cx="94.1" cy="289.1" r="0.75" fill="#a8a8a8"/>
<circle cx="94.5" cy="289.8" r="0.75" fill="#a8a8a8"/>
<circle cx="94.9" cy="289.3" r="0.75" fill="#a8a8a8"/>
<circle cx="94.9" cy="289.3" r="0.75" fill="#a8a8a8"/>
<circle cx="95.7" cy="289.2" r="0.75" fill="#a8a8a8"/>
<circle cx="95.8" cy="289.5" r="0.75" fill="#a8a8a8"/>
<circle cx="95.0" cy="290.6" r="0.75" fill="#a8a8a8"/>
<circle cx="94.7" cy="292.3" r="0.75" fill="#a8a8a8"/>
<line x1="54.20" y1="255.50" x2="54.20" y2="333.30" stroke="#555" stroke-width="0.9"/>
<line x1="54.20" y1="333.30" x2="111.60" y2="333.30" stroke="#555" stroke-width="0.9"/>
<line x1="52.00" y1="256.30" x2="54.20" y2="256.30" stroke="#555" stroke-width="0.8"/>
<text x="50.20" y="258.42" font-size="5.9" text-anchor="end" fill="#1c1c1c">20</text>
<line x1="52.00" y1="271.60" x2="54.20" y2="271.60" stroke="#555" stroke-width="0.8"/>
<text x="50.20" y="273.72" font-size="5.9" text-anchor="end" fill="#1c1c1c">15</text>
<line x1="52.00" y1="286.90" x2="54.20" y2="286.90" stroke="#555" stroke-width="0.8"/>
<text x="50.20" y="289.02" font-size="5.9" text-anchor="end" fill="#1c1c1c">10</text>
<line x1="52.00" y1="302.20" x2="54.20" y2="302.20" stroke="#555" stroke-width="0.8"/>
<text x="50.20" y="304.32" font-size="5.9" text-anchor="end" fill="#1c1c1c">5</text>
<line x1="52.00" y1="317.50" x2="54.20" y2="317.50" stroke="#555" stroke-width="0.8"/>
<text x="50.20" y="319.62" font-size="5.9" text-anchor="end" fill="#1c1c1c">0</text>
<line x1="52.00" y1="332.80" x2="54.20" y2="332.80" stroke="#555" stroke-width="0.8"/>
<text x="50.20" y="334.92" font-size="5.9" text-anchor="end" fill="#1c1c1c">-5</text>
<line x1="70.30" y1="333.30" x2="70.30" y2="335.50" stroke="#555" stroke-width="0.8"/>
<text x="70.30" y="341.88" font-size="6.9" text-anchor="middle" fill="#1c1c1c">A</text>
<line x1="94.70" y1="333.30" x2="94.70" y2="335.50" stroke="#555" stroke-width="0.8"/>
<text x="94.70" y="341.88" font-size="6.9" text-anchor="middle" fill="#1c1c1c">B</text>
<line x1="54.2" y1="317.4" x2="111.6" y2="317.4" stroke="#555" stroke-width="0.8" stroke-dasharray="1.2 1.6"/>
<line x1="70.30" y1="260.30" x2="94.70" y2="260.30" stroke="#111" stroke-width="1.1"/>
<g transform="translate(74.47 254.50)" stroke="#111" stroke-width="0.9"><path d="M0 -1.9V1.9M-1.65 -0.95L1.65 0.95M-1.65 0.95L1.65 -0.95" stroke-width="1.0"/><circle r="1.05" fill="#111" stroke="none"/></g>
<g transform="translate(79.83 254.50)" stroke="#111" stroke-width="0.9"><path d="M0 -1.9V1.9M-1.65 -0.95L1.65 0.95M-1.65 0.95L1.65 -0.95" stroke-width="1.0"/><circle r="1.05" fill="#111" stroke="none"/></g>
<g transform="translate(85.17 254.50)" stroke="#111" stroke-width="0.9"><path d="M0 -1.9V1.9M-1.65 -0.95L1.65 0.95M-1.65 0.95L1.65 -0.95" stroke-width="1.0"/><circle r="1.05" fill="#111" stroke="none"/></g>
<g transform="translate(90.53 254.50)" stroke="#111" stroke-width="0.9"><path d="M0 -1.9V1.9M-1.65 -0.95L1.65 0.95M-1.65 0.95L1.65 -0.95" stroke-width="1.0"/><circle r="1.05" fill="#111" stroke="none"/></g>
<text x="36.30" y="354.34" font-size="6.51" textLength="92.50" lengthAdjust="spacingAndGlyphs" fill="#111">SUCNR1 Groups: (A) −3.21 - 0.01</text>
<text x="85.80" y="361.95" font-size="6.53" textLength="39.00" lengthAdjust="spacingAndGlyphs" fill="#111">(B) 0.01 - 4.35</text>
<text transform="translate(31.82 0) rotate(-90) translate(-581.20 0)" x="290.60" y="0" font-size="7.0" text-anchor="middle" textLength="113.20" lengthAdjust="spacingAndGlyphs" class="nk" fill="#111"><tspan font-style="italic">Candidatus nitrosopelagicus</tspan>, MicrobiomeSignatures</text>
<text transform="translate(39.18 0) rotate(-90) translate(-573.00 0)" x="286.50" y="0" font-size="6.6" text-anchor="middle" textLength="38.80" lengthAdjust="spacingAndGlyphs" class="nk" fill="#111">(log RNA Seq CPM)</text>
<line x1="62.30" y1="285.37" x2="78.30" y2="285.37" stroke="#111" stroke-width="1.2"/>
<line x1="66.70" y1="280.47" x2="73.90" y2="280.47" stroke="#111" stroke-width="1.1"/>
<line x1="66.70" y1="290.42" x2="73.90" y2="290.42" stroke="#111" stroke-width="1.1"/>
<line x1="70.30" y1="280.47" x2="70.30" y2="290.42" stroke="#111" stroke-width="1.1"/>
<line x1="86.70" y1="282.16" x2="102.70" y2="282.16" stroke="#111" stroke-width="1.2"/>
<line x1="91.10" y1="279.25" x2="98.30" y2="279.25" stroke="#111" stroke-width="1.1"/>
<line x1="91.10" y1="285.52" x2="98.30" y2="285.52" stroke="#111" stroke-width="1.1"/>
<line x1="94.70" y1="279.25" x2="94.70" y2="285.52" stroke="#111" stroke-width="1.1"/>
<path d="M69 318.5l1.3 1.5 1.3-1.5" stroke="#444" stroke-width="0.6" fill="none"/>
<circle cx="70.3" cy="460.0" r="0.75" fill="#555555"/>
<circle cx="72.6" cy="459.7" r="0.75" fill="#555555"/>
<circle cx="70.6" cy="461.1" r="0.75" fill="#555555"/>
<circle cx="73.0" cy="461.1" r="0.75" fill="#555555"/>
<circle cx="70.4" cy="462.5" r="0.75" fill="#555555"/>
<circle cx="72.7" cy="462.5" r="0.75" fill="#555555"/>
<circle cx="70.5" cy="463.8" r="0.75" fill="#555555"/>
<circle cx="72.7" cy="463.6" r="0.75" fill="#555555"/>
<circle cx="69.5" cy="465.4" r="0.75" fill="#555555"/>
<circle cx="70.0" cy="465.0" r="0.75" fill="#555555"/>
<circle cx="71.8" cy="464.9" r="0.75" fill="#555555"/>
<circle cx="72.7" cy="464.9" r="0.75" fill="#555555"/>
<circle cx="74.2" cy="465.3" r="0.75" fill="#555555"/>
<circle cx="70.1" cy="466.3" r="0.75" fill="#555555"/>
<circle cx="71.0" cy="465.8" r="0.75" fill="#555555"/>
<circle cx="72.4" cy="466.0" r="0.75" fill="#555555"/>
<circle cx="74.0" cy="466.1" r="0.75" fill="#555555"/>
<circle cx="68.9" cy="467.8" r="0.75" fill="#555555"/>
<circle cx="69.8" cy="467.5" r="0.75" fill="#555555"/>
<circle cx="71.4" cy="467.8" r="0.75" fill="#555555"/>
<circle cx="72.0" cy="467.9" r="0.75" fill="#555555"/>
<circle cx="73.7" cy="467.9" r="0.75" fill="#555555"/>
<circle cx="74.3" cy="467.7" r="0.75" fill="#555555"/>
<circle cx="70.4" cy="467.9" r="0.75" fill="#555555"/>
<circle cx="72.4" cy="469.1" r="0.75" fill="#555555"/>
<circle cx="66.9" cy="469.9" r="0.75" fill="#555555"/>
<circle cx="67.9" cy="470.2" r="0.75" fill="#555555"/>
<circle cx="68.3" cy="469.5" r="0.75" fill="#555555"/>
<circle cx="70.3" cy="470.2" r="0.75" fill="#555555"/>
<circle cx="70.4" cy="469.6" r="0.75" fill="#555555"/>
<circle cx="71.8" cy="470.1" r="0.75" fill="#555555"/>
<circle cx="72.2" cy="469.9" r="0.75" fill="#555555"/>
<circle cx="73.5" cy="470.2" r="0.75" fill="#555555"/>
<circle cx="74.9" cy="469.8" r="0.75" fill="#555555"/>
<circle cx="75.9" cy="469.9" r="0.75" fill="#555555"/>
<circle cx="76.4" cy="469.9" r="0.75" fill="#555555"/>
<circle cx="68.6" cy="471.5" r="0.75" fill="#555555"/>
<circle cx="69.8" cy="471.4" r="0.75" fill="#555555"/>
<circle cx="70.8" cy="471.4" r="0.75" fill="#555555"/>
<circle cx="72.0" cy="470.9" r="0.75" fill="#555555"/>
<circle cx="73.5" cy="471.3" r="0.75" fill="#555555"/>
<circle cx="74.3" cy="471.6" r="0.75" fill="#555555"/>
<circle cx="66.4" cy="472.4" r="0.75" fill="#555555"/>
<circle cx="67.5" cy="472.2" r="0.75" fill="#555555"/>
<circle cx="68.5" cy="472.2" r="0.75" fill="#555555"/>
<circle cx="68.8" cy="472.4" r="0.75" fill="#555555"/>
<circle cx="70.3" cy="472.3" r="0.75" fill="#555555"/>
<circle cx="71.2" cy="472.9" r="0.75" fill="#555555"/>
<circle cx="72.0" cy="472.2" r="0.75" fill="#555555"/>
<circle cx="72.8" cy="472.4" r="0.75" fill="#555555"/>
<circle cx="74.1" cy="472.5" r="0.75" fill="#555555"/>
<circle cx="75.0" cy="472.6" r="0.75" fill="#555555"/>
<circle cx="76.5" cy="472.2" r="0.75" fill="#555555"/>
<circle cx="77.4" cy="472.4" r="0.75" fill="#555555"/>
<circle cx="65.8" cy="474.0" r="0.75" fill="#555555"/>
<circle cx="66.8" cy="474.1" r="0.75" fill="#555555"/>
<circle cx="67.5" cy="473.7" r="0.75" fill="#555555"/>
<circle cx="68.6" cy="473.8" r="0.75" fill="#555555"/>
<circle cx="69.7" cy="473.5" r="0.75" fill="#555555"/>
<circle cx="71.1" cy="473.5" r="0.75" fill="#555555"/>
<circle cx="71.3" cy="473.7" r="0.75" fill="#555555"/>
<circle cx="72.8" cy="473.7" r="0.75" fill="#555555"/>
<circle cx="74.0" cy="474.1" r="0.75" fill="#555555"/>
<circle cx="74.2" cy="473.7" r="0.75" fill="#555555"/>
<circle cx="75.9" cy="473.4" r="0.75" fill="#555555"/>
<circle cx="76.9" cy="473.9" r="0.75" fill="#555555"/>
<circle cx="77.5" cy="474.0" r="0.75" fill="#555555"/>
<circle cx="65.8" cy="474.6" r="0.75" fill="#555555"/>
<circle cx="66.7" cy="474.5" r="0.75" fill="#555555"/>
<circle cx="67.5" cy="474.9" r="0.75" fill="#555555"/>
<circle cx="68.5" cy="475.1" r="0.75" fill="#555555"/>
<circle cx="70.0" cy="474.6" r="0.75" fill="#555555"/>
<circle cx="70.8" cy="474.7" r="0.75" fill="#555555"/>
<circle cx="71.6" cy="474.6" r="0.75" fill="#555555"/>
<circle cx="72.7" cy="474.8" r="0.75" fill="#555555"/>
<circle cx="73.5" cy="474.7" r="0.75" fill="#555555"/>
<circle cx="74.3" cy="474.7" r="0.75" fill="#555555"/>
<circle cx="75.4" cy="474.7" r="0.75" fill="#555555"/>
<circle cx="76.5" cy="475.5" r="0.75" fill="#555555"/>
<circle cx="77.1" cy="474.9" r="0.75" fill="#555555"/>
<circle cx="65.1" cy="476.1" r="0.75" fill="#555555"/>
<circle cx="66.2" cy="476.1" r="0.75" fill="#555555"/>
<circle cx="67.5" cy="476.1" r="0.75" fill="#555555"/>
<circle cx="68.4" cy="476.1" r="0.75" fill="#555555"/>
<circle cx="69.2" cy="476.1" r="0.75" fill="#555555"/>
<circle cx="69.7" cy="476.4" r="0.75" fill="#555555"/>
<circle cx="71.4" cy="476.6" r="0.75" fill="#555555"/>
<circle cx="72.4" cy="476.0" r="0.75" fill="#555555"/>
<circle cx="73.2" cy="475.9" r="0.75" fill="#555555"/>
<circle cx="74.1" cy="476.5" r="0.75" fill="#555555"/>
<circle cx="75.0" cy="476.1" r="0.75" fill="#555555"/>
<circle cx="76.3" cy="476.3" r="0.75" fill="#555555"/>
<circle cx="76.9" cy="476.2" r="0.75" fill="#555555"/>
<circle cx="78.2" cy="476.4" r="0.75" fill="#555555"/>
<circle cx="64.7" cy="477.2" r="0.75" fill="#555555"/>
<circle cx="66.1" cy="477.5" r="0.75" fill="#555555"/>
<circle cx="67.0" cy="477.5" r="0.75" fill="#555555"/>
<circle cx="67.2" cy="477.2" r="0.75" fill="#555555"/>
<circle cx="68.7" cy="477.5" r="0.75" fill="#555555"/>
<circle cx="69.6" cy="477.2" r="0.75" fill="#555555"/>
<circle cx="70.7" cy="476.9" r="0.75" fill="#555555"/>
<circle cx="71.6" cy="477.5" r="0.75" fill="#555555"/>
<circle cx="72.4" cy="477.6" r="0.75" fill="#555555"/>
<circle cx="73.4" cy="477.6" r="0.75" fill="#555555"/>
<circle cx="74.6" cy="477.4" r="0.75" fill="#555555"/>
<circle cx="75.5" cy="477.3" r="0.75" fill="#555555"/>
<circle cx="76.4" cy="477.5" r="0.75" fill="#555555"/>
<circle cx="77.9" cy="477.6" r="0.75" fill="#555555"/>
<circle cx="78.5" cy="477.7" r="0.75" fill="#555555"/>
<circle cx="66.1" cy="478.7" r="0.75" fill="#555555"/>
<circle cx="66.9" cy="478.3" r="0.75" fill="#555555"/>
<circle cx="67.5" cy="478.5" r="0.75" fill="#555555"/>
<circle cx="68.7" cy="478.2" r="0.75" fill="#555555"/>
<circle cx="69.3" cy="478.6" r="0.75" fill="#555555"/>
<circle cx="70.8" cy="478.5" r="0.75" fill="#555555"/>
<circle cx="71.7" cy="478.7" r="0.75" fill="#555555"/>
<circle cx="72.9" cy="478.2" r="0.75" fill="#555555"/>
<circle cx="73.7" cy="478.6" r="0.75" fill="#555555"/>
<circle cx="74.9" cy="478.6" r="0.75" fill="#555555"/>
<circle cx="75.3" cy="478.1" r="0.75" fill="#555555"/>
<circle cx="76.6" cy="479.1" r="0.75" fill="#555555"/>
<circle cx="77.4" cy="478.8" r="0.75" fill="#555555"/>
<circle cx="64.7" cy="480.3" r="0.75" fill="#555555"/>
<circle cx="66.3" cy="480.0" r="0.75" fill="#555555"/>
<circle cx="67.1" cy="480.0" r="0.75" fill="#555555"/>
<circle cx="67.1" cy="480.0" r="0.75" fill="#555555"/>
<circle cx="68.6" cy="479.8" r="0.75" fill="#555555"/>
<circle cx="69.5" cy="480.5" r="0.75" fill="#555555"/>
<circle cx="70.6" cy="480.1" r="0.75" fill="#555555"/>
<circle cx="71.4" cy="480.1" r="0.75" fill="#555555"/>
<circle cx="72.5" cy="480.2" r="0.75" fill="#555555"/>
<circle cx="73.5" cy="480.3" r="0.75" fill="#555555"/>
<circle cx="73.9" cy="479.6" r="0.75" fill="#555555"/>
<circle cx="75.5" cy="479.7" r="0.75" fill="#555555"/>
<circle cx="76.7" cy="480.0" r="0.75" fill="#555555"/>
<circle cx="77.4" cy="480.1" r="0.75" fill="#555555"/>
<circle cx="78.6" cy="479.7" r="0.75" fill="#555555"/>
<circle cx="66.2" cy="480.9" r="0.75" fill="#555555"/>
<circle cx="67.8" cy="480.8" r="0.75" fill="#555555"/>
<circle cx="68.8" cy="481.3" r="0.75" fill="#555555"/>
<circle cx="69.5" cy="481.0" r="0.75" fill="#555555"/>
<circle cx="70.5" cy="481.1" r="0.75" fill="#555555"/>
<circle cx="71.4" cy="481.2" r="0.75" fill="#555555"/>
<circle cx="72.3" cy="480.9" r="0.75" fill="#555555"/>
<circle cx="73.4" cy="480.8" r="0.75" fill="#555555"/>
<circle cx="74.6" cy="481.2" r="0.75" fill="#555555"/>
<circle cx="75.6" cy="480.5" r="0.75" fill="#555555"/>
<circle cx="76.8" cy="481.3" r="0.75" fill="#555555"/>
<circle cx="63.1" cy="482.7" r="0.75" fill="#555555"/>
<circle cx="64.7" cy="482.6" r="0.75" fill="#555555"/>
<circle cx="65.5" cy="482.5" r="0.75" fill="#555555"/>
<circle cx="66.5" cy="482.4" r="0.75" fill="#555555"/>
<circle cx="67.5" cy="482.3" r="0.75" fill="#555555"/>
<circle cx="68.3" cy="482.6" r="0.75" fill="#555555"/>
<circle cx="68.9" cy="482.2" r="0.75" fill="#555555"/>
<circle cx="70.4" cy="482.2" r="0.75" fill="#555555"/>
<circle cx="71.1" cy="482.7" r="0.75" fill="#555555"/>
<circle cx="72.2" cy="482.6" r="0.75" fill="#555555"/>
<circle cx="73.0" cy="482.4" r="0.75" fill="#555555"/>
<circle cx="73.9" cy="482.1" r="0.75" fill="#555555"/>
<circle cx="75.1" cy="482.1" r="0.75" fill="#555555"/>
<circle cx="76.0" cy="482.7" r="0.75" fill="#555555"/>
<circle cx="76.8" cy="482.5" r="0.75" fill="#555555"/>
<circle cx="77.4" cy="482.8" r="0.75" fill="#555555"/>
<circle cx="78.4" cy="482.3" r="0.75" fill="#555555"/>
<circle cx="79.3" cy="482.4" r="0.75" fill="#555555"/>
<circle cx="63.4" cy="483.6" r="0.75" fill="#555555"/>
<circle cx="65.0" cy="484.1" r="0.75" fill="#555555"/>
<circle cx="65.1" cy="483.7" r="0.75" fill="#555555"/>
<circle cx="66.6" cy="483.2" r="0.75" fill="#555555"/>
<circle cx="67.8" cy="483.5" r="0.75" fill="#555555"/>
<circle cx="68.1" cy="483.1" r="0.75" fill="#555555"/>
<circle cx="68.9" cy="483.5" r="0.75" fill="#555555"/>
<circle cx="69.9" cy="483.8" r="0.75" fill="#555555"/>
<circle cx="70.8" cy="483.3" r="0.75" fill="#555555"/>
<circle cx="72.2" cy="484.1" r="0.75" fill="#555555"/>
<circle cx="73.0" cy="484.0" r="0.75" fill="#555555"/>
<circle cx="73.7" cy="483.9" r="0.75" fill="#555555"/>
<circle cx="74.8" cy="483.5" r="0.75" fill="#555555"/>
<circle cx="76.2" cy="483.7" r="0.75" fill="#555555"/>
<circle cx="76.7" cy="483.8" r="0.75" fill="#555555"/>
<circle cx="77.6" cy="483.9" r="0.75" fill="#555555"/>
<circle cx="79.1" cy="484.0" r="0.75" fill="#555555"/>
<circle cx="79.4" cy="483.2" r="0.75" fill="#555555"/>
<circle cx="64.7" cy="484.7" r="0.75" fill="#555555"/>
<circle cx="65.5" cy="484.6" r="0.75" fill="#555555"/>
<circle cx="66.7" cy="484.8" r="0.75" fill="#555555"/>
<circle cx="67.8" cy="484.9" r="0.75" fill="#555555"/>
<circle cx="69.3" cy="484.9" r="0.75" fill="#555555"/>
<circle cx="69.6" cy="485.2" r="0.75" fill="#555555"/>
<circle cx="70.9" cy="484.9" r="0.75" fill="#555555"/>
<circle cx="71.6" cy="485.0" r="0.75" fill="#555555"/>
<circle cx="72.5" cy="484.5" r="0.75" fill="#555555"/>
<circle cx="74.0" cy="484.8" r="0.75" fill="#555555"/>
<circle cx="74.2" cy="484.9" r="0.75" fill="#555555"/>
<circle cx="75.6" cy="484.4" r="0.75" fill="#555555"/>
<circle cx="76.9" cy="485.0" r="0.75" fill="#555555"/>
<circle cx="78.2" cy="485.2" r="0.75" fill="#555555"/>
<circle cx="78.2" cy="485.0" r="0.75" fill="#555555"/>
<circle cx="66.6" cy="486.4" r="0.75" fill="#555555"/>
<circle cx="67.6" cy="486.1" r="0.75" fill="#555555"/>
<circle cx="68.3" cy="486.0" r="0.75" fill="#555555"/>
<circle cx="69.6" cy="486.4" r="0.75" fill="#555555"/>
<circle cx="70.4" cy="486.2" r="0.75" fill="#555555"/>
<circle cx="71.6" cy="485.7" r="0.75" fill="#555555"/>
<circle cx="72.6" cy="486.1" r="0.75" fill="#555555"/>
<circle cx="73.6" cy="486.6" r="0.75" fill="#555555"/>
<circle cx="74.3" cy="485.8" r="0.75" fill="#555555"/>
<circle cx="75.6" cy="486.2" r="0.75" fill="#555555"/>
<circle cx="77.0" cy="486.0" r="0.75" fill="#555555"/>
<circle cx="67.0" cy="487.1" r="0.75" fill="#555555"/>
<circle cx="67.9" cy="487.3" r="0.75" fill="#555555"/>
<circle cx="68.8" cy="487.1" r="0.75" fill="#555555"/>
<circle cx="69.4" cy="487.4" r="0.75" fill="#555555"/>
<circle cx="71.0" cy="487.5" r="0.75" fill="#555555"/>
<circle cx="72.1" cy="487.7" r="0.75" fill="#555555"/>
<circle cx="73.1" cy="487.5" r="0.75" fill="#555555"/>
<circle cx="73.9" cy="487.4" r="0.75" fill="#555555"/>
<circle cx="75.0" cy="487.5" r="0.75" fill="#555555"/>
<circle cx="76.7" cy="487.6" r="0.75" fill="#555555"/>
<circle cx="67.9" cy="488.5" r="0.75" fill="#555555"/>
<circle cx="68.9" cy="488.8" r="0.75" fill="#555555"/>
<circle cx="70.3" cy="489.2" r="0.75" fill="#555555"/>
<circle cx="70.9" cy="488.8" r="0.75" fill="#555555"/>
<circle cx="72.1" cy="488.6" r="0.75" fill="#555555"/>
<circle cx="72.9" cy="488.5" r="0.75" fill="#555555"/>
<circle cx="74.1" cy="488.0" r="0.75" fill="#555555"/>
<circle cx="75.7" cy="488.4" r="0.75" fill="#555555"/>
<circle cx="68.1" cy="490.3" r="0.75" fill="#555555"/>
<circle cx="69.6" cy="490.1" r="0.75" fill="#555555"/>
<circle cx="70.7" cy="489.8" r="0.75" fill="#555555"/>
<circle cx="71.3" cy="490.4" r="0.75" fill="#555555"/>
<circle cx="72.8" cy="490.2" r="0.75" fill="#555555"/>
<circle cx="73.6" cy="490.2" r="0.75" fill="#555555"/>
<circle cx="75.3" cy="490.1" r="0.75" fill="#555555"/>
<circle cx="69.2" cy="490.8" r="0.75" fill="#555555"/>
<circle cx="70.6" cy="491.3" r="0.75" fill="#555555"/>
<circle cx="71.4" cy="491.2" r="0.75" fill="#555555"/>
<circle cx="73.0" cy="491.1" r="0.75" fill="#555555"/>
<circle cx="74.0" cy="491.2" r="0.75" fill="#555555"/>
<circle cx="70.3" cy="492.6" r="0.75" fill="#555555"/>
<circle cx="71.3" cy="492.5" r="0.75" fill="#555555"/>
<circle cx="72.8" cy="492.0" r="0.75" fill="#555555"/>
<circle cx="69.7" cy="493.8" r="0.75" fill="#555555"/>
<circle cx="70.5" cy="493.3" r="0.75" fill="#555555"/>
<circle cx="72.4" cy="493.5" r="0.75" fill="#555555"/>
<circle cx="73.6" cy="493.9" r="0.75" fill="#555555"/>
<circle cx="69.8" cy="495.0" r="0.75" fill="#555555"/>
<circle cx="71.7" cy="494.7" r="0.75" fill="#555555"/>
<circle cx="73.0" cy="495.1" r="0.75" fill="#555555"/>
<circle cx="68.4" cy="496.1" r="0.75" fill="#555555"/>
<circle cx="69.6" cy="496.4" r="0.75" fill="#555555"/>
<circle cx="71.1" cy="495.9" r="0.75" fill="#555555"/>
<circle cx="71.5" cy="496.1" r="0.75" fill="#555555"/>
<circle cx="72.7" cy="496.3" r="0.75" fill="#555555"/>
<circle cx="73.5" cy="496.3" r="0.75" fill="#555555"/>
<circle cx="75.3" cy="496.1" r="0.75" fill="#555555"/>
<circle cx="69.5" cy="497.3" r="0.75" fill="#555555"/>
<circle cx="70.4" cy="497.8" r="0.75" fill="#555555"/>
<circle cx="71.9" cy="497.5" r="0.75" fill="#555555"/>
<circle cx="72.7" cy="497.5" r="0.75" fill="#555555"/>
<circle cx="74.1" cy="497.3" r="0.75" fill="#555555"/>
<circle cx="69.5" cy="499.0" r="0.75" fill="#555555"/>
<circle cx="70.5" cy="499.1" r="0.75" fill="#555555"/>
<circle cx="71.6" cy="498.3" r="0.75" fill="#555555"/>
<circle cx="73.1" cy="498.9" r="0.75" fill="#555555"/>
<circle cx="73.8" cy="498.8" r="0.75" fill="#555555"/>
<circle cx="69.7" cy="500.0" r="0.75" fill="#555555"/>
<circle cx="71.1" cy="499.6" r="0.75" fill="#555555"/>
<circle cx="71.9" cy="499.9" r="0.75" fill="#555555"/>
<circle cx="73.6" cy="499.6" r="0.75" fill="#555555"/>
<circle cx="68.8" cy="501.1" r="0.75" fill="#555555"/>
<circle cx="69.7" cy="501.5" r="0.75" fill="#555555"/>
<circle cx="71.1" cy="501.7" r="0.75" fill="#555555"/>
<circle cx="71.8" cy="500.8" r="0.75" fill="#555555"/>
<circle cx="73.2" cy="501.4" r="0.75" fill="#555555"/>
<circle cx="74.3" cy="501.1" r="0.75" fill="#555555"/>
<circle cx="69.6" cy="502.7" r="0.75" fill="#555555"/>
<circle cx="70.9" cy="502.8" r="0.75" fill="#555555"/>
<circle cx="72.2" cy="502.5" r="0.75" fill="#555555"/>
<circle cx="73.5" cy="502.5" r="0.75" fill="#555555"/>
<circle cx="70.7" cy="504.2" r="0.75" fill="#555555"/>
<circle cx="72.7" cy="503.5" r="0.75" fill="#555555"/>
<circle cx="69.8" cy="504.9" r="0.75" fill="#555555"/>
<circle cx="71.5" cy="505.0" r="0.75" fill="#555555"/>
<circle cx="73.1" cy="504.3" r="0.75" fill="#555555"/>
<circle cx="69.9" cy="506.0" r="0.75" fill="#555555"/>
<circle cx="71.4" cy="506.1" r="0.75" fill="#555555"/>
<circle cx="72.7" cy="506.3" r="0.75" fill="#555555"/>
<circle cx="69.4" cy="507.5" r="0.75" fill="#555555"/>
<circle cx="70.5" cy="507.5" r="0.75" fill="#555555"/>
<circle cx="72.3" cy="507.2" r="0.75" fill="#555555"/>
<circle cx="74.0" cy="507.5" r="0.75" fill="#555555"/>
<circle cx="71.0" cy="508.9" r="0.75" fill="#555555"/>
<circle cx="72.1" cy="508.2" r="0.75" fill="#555555"/>
<circle cx="71.5" cy="510.1" r="0.75" fill="#555555"/>
<circle cx="70.5" cy="511.6" r="0.75" fill="#555555"/>
<circle cx="72.6" cy="510.9" r="0.75" fill="#555555"/>
<circle cx="70.0" cy="512.0" r="0.75" fill="#555555"/>
<circle cx="71.1" cy="512.4" r="0.75" fill="#555555"/>
<circle cx="72.2" cy="512.1" r="0.75" fill="#555555"/>
<circle cx="73.9" cy="512.4" r="0.75" fill="#555555"/>
<circle cx="70.7" cy="513.8" r="0.75" fill="#555555"/>
<circle cx="72.2" cy="513.8" r="0.75" fill="#555555"/>
<circle cx="71.3" cy="514.9" r="0.75" fill="#555555"/>
<circle cx="71.6" cy="446.3" r="0.85" fill="#555555"/>
<circle cx="96.0" cy="459.9" r="0.75" fill="#a8a8a8"/>
<circle cx="97.5" cy="459.8" r="0.75" fill="#a8a8a8"/>
<circle cx="95.0" cy="463.9" r="0.75" fill="#a8a8a8"/>
<circle cx="95.6" cy="463.3" r="0.75" fill="#a8a8a8"/>
<circle cx="96.5" cy="463.8" r="0.75" fill="#a8a8a8"/>
<circle cx="96.7" cy="463.7" r="0.75" fill="#a8a8a8"/>
<circle cx="97.4" cy="463.4" r="0.75" fill="#a8a8a8"/>
<circle cx="99.1" cy="463.6" r="0.75" fill="#a8a8a8"/>
<circle cx="96.1" cy="464.7" r="0.75" fill="#a8a8a8"/>
<circle cx="96.5" cy="464.6" r="0.75" fill="#a8a8a8"/>
<circle cx="97.8" cy="465.5" r="0.75" fill="#a8a8a8"/>
<circle cx="94.5" cy="466.1" r="0.75" fill="#a8a8a8"/>
<circle cx="95.0" cy="466.2" r="0.75" fill="#a8a8a8"/>
<circle cx="95.8" cy="465.9" r="0.75" fill="#a8a8a8"/>
<circle cx="96.6" cy="466.2" r="0.75" fill="#a8a8a8"/>
<circle cx="97.2" cy="465.7" r="0.75" fill="#a8a8a8"/>
<circle cx="98.3" cy="466.1" r="0.75" fill="#a8a8a8"/>
<circle cx="99.1" cy="466.5" r="0.75" fill="#a8a8a8"/>
<circle cx="93.1" cy="467.6" r="0.75" fill="#a8a8a8"/>
<circle cx="94.5" cy="467.0" r="0.75" fill="#a8a8a8"/>
<circle cx="94.3" cy="467.5" r="0.75" fill="#a8a8a8"/>
<circle cx="95.2" cy="467.4" r="0.75" fill="#a8a8a8"/>
<circle cx="96.0" cy="467.6" r="0.75" fill="#a8a8a8"/>
<circle cx="96.9" cy="467.8" r="0.75" fill="#a8a8a8"/>
<circle cx="97.7" cy="467.2" r="0.75" fill="#a8a8a8"/>
<circle cx="98.1" cy="467.4" r="0.75" fill="#a8a8a8"/>
<circle cx="98.4" cy="467.4" r="0.75" fill="#a8a8a8"/>
<circle cx="99.8" cy="467.2" r="0.75" fill="#a8a8a8"/>
<circle cx="100.4" cy="467.5" r="0.75" fill="#a8a8a8"/>
<circle cx="93.6" cy="469.2" r="0.75" fill="#a8a8a8"/>
<circle cx="93.9" cy="468.4" r="0.75" fill="#a8a8a8"/>
<circle cx="94.7" cy="469.1" r="0.75" fill="#a8a8a8"/>
<circle cx="95.6" cy="469.0" r="0.75" fill="#a8a8a8"/>
<circle cx="95.9" cy="468.9" r="0.75" fill="#a8a8a8"/>
<circle cx="97.1" cy="468.5" r="0.75" fill="#a8a8a8"/>
<circle cx="97.9" cy="468.9" r="0.75" fill="#a8a8a8"/>
<circle cx="98.7" cy="468.4" r="0.75" fill="#a8a8a8"/>
<circle cx="99.0" cy="468.7" r="0.75" fill="#a8a8a8"/>
<circle cx="100.3" cy="468.9" r="0.75" fill="#a8a8a8"/>
<circle cx="93.0" cy="470.2" r="0.75" fill="#a8a8a8"/>
<circle cx="93.5" cy="469.7" r="0.75" fill="#a8a8a8"/>
<circle cx="94.3" cy="469.9" r="0.75" fill="#a8a8a8"/>
<circle cx="94.9" cy="469.7" r="0.75" fill="#a8a8a8"/>
<circle cx="95.7" cy="470.1" r="0.75" fill="#a8a8a8"/>
<circle cx="96.2" cy="470.0" r="0.75" fill="#a8a8a8"/>
<circle cx="96.8" cy="469.7" r="0.75" fill="#a8a8a8"/>
<circle cx="97.6" cy="470.3" r="0.75" fill="#a8a8a8"/>
<circle cx="98.2" cy="470.0" r="0.75" fill="#a8a8a8"/>
<circle cx="99.4" cy="470.1" r="0.75" fill="#a8a8a8"/>
<circle cx="100.5" cy="470.2" r="0.75" fill="#a8a8a8"/>
<circle cx="100.7" cy="470.3" r="0.75" fill="#a8a8a8"/>
<circle cx="92.3" cy="471.0" r="0.75" fill="#a8a8a8"/>
<circle cx="92.6" cy="471.3" r="0.75" fill="#a8a8a8"/>
<circle cx="93.3" cy="471.5" r="0.75" fill="#a8a8a8"/>
<circle cx="93.8" cy="471.2" r="0.75" fill="#a8a8a8"/>
<circle cx="94.4" cy="471.0" r="0.75" fill="#a8a8a8"/>
<circle cx="95.8" cy="471.7" r="0.75" fill="#a8a8a8"/>
<circle cx="95.9" cy="471.2" r="0.75" fill="#a8a8a8"/>
<circle cx="97.0" cy="471.0" r="0.75" fill="#a8a8a8"/>
<circle cx="97.2" cy="471.2" r="0.75" fill="#a8a8a8"/>
<circle cx="97.9" cy="471.4" r="0.75" fill="#a8a8a8"/>
<circle cx="98.9" cy="470.5" r="0.75" fill="#a8a8a8"/>
<circle cx="99.3" cy="470.9" r="0.75" fill="#a8a8a8"/>
<circle cx="99.9" cy="471.3" r="0.75" fill="#a8a8a8"/>
<circle cx="101.1" cy="471.3" r="0.75" fill="#a8a8a8"/>
<circle cx="101.1" cy="471.2" r="0.75" fill="#a8a8a8"/>
<circle cx="91.9" cy="472.7" r="0.75" fill="#a8a8a8"/>
<circle cx="92.7" cy="472.7" r="0.75" fill="#a8a8a8"/>
<circle cx="93.5" cy="472.5" r="0.75" fill="#a8a8a8"/>
<circle cx="93.8" cy="472.5" r="0.75" fill="#a8a8a8"/>
<circle cx="94.5" cy="472.8" r="0.75" fill="#a8a8a8"/>
<circle cx="95.5" cy="472.6" r="0.75" fill="#a8a8a8"/>
<circle cx="95.9" cy="472.6" r="0.75" fill="#a8a8a8"/>
<circle cx="96.4" cy="472.2" r="0.75" fill="#a8a8a8"/>
<circle cx="97.3" cy="472.5" r="0.75" fill="#a8a8a8"/>
<circle cx="97.8" cy="472.6" r="0.75" fill="#a8a8a8"/>
<circle cx="98.8" cy="472.5" r="0.75" fill="#a8a8a8"/>
<circle cx="99.6" cy="472.2" r="0.75" fill="#a8a8a8"/>
<circle cx="99.9" cy="472.0" r="0.75" fill="#a8a8a8"/>
<circle cx="100.7" cy="472.6" r="0.75" fill="#a8a8a8"/>
<circle cx="101.5" cy="472.6" r="0.75" fill="#a8a8a8"/>
<circle cx="91.4" cy="473.5" r="0.75" fill="#a8a8a8"/>
<circle cx="91.8" cy="473.6" r="0.75" fill="#a8a8a8"/>
<circle cx="92.6" cy="473.4" r="0.75" fill="#a8a8a8"/>
<circle cx="93.4" cy="473.5" r="0.75" fill="#a8a8a8"/>
<circle cx="94.2" cy="473.7" r="0.75" fill="#a8a8a8"/>
<circle cx="94.7" cy="474.1" r="0.75" fill="#a8a8a8"/>
<circle cx="95.2" cy="473.6" r="0.75" fill="#a8a8a8"/>
<circle cx="95.9" cy="473.4" r="0.75" fill="#a8a8a8"/>
<circle cx="96.4" cy="473.9" r="0.75" fill="#a8a8a8"/>
<circle cx="97.8" cy="474.0" r="0.75" fill="#a8a8a8"/>
<circle cx="97.9" cy="473.1" r="0.75" fill="#a8a8a8"/>
<circle cx="99.1" cy="473.8" r="0.75" fill="#a8a8a8"/>
<circle cx="99.5" cy="473.4" r="0.75" fill="#a8a8a8"/>
<circle cx="100.5" cy="473.3" r="0.75" fill="#a8a8a8"/>
<circle cx="100.5" cy="473.9" r="0.75" fill="#a8a8a8"/>
<circle cx="101.6" cy="474.1" r="0.75" fill="#a8a8a8"/>
<circle cx="101.9" cy="474.1" r="0.75" fill="#a8a8a8"/>
<circle cx="90.8" cy="475.4" r="0.75" fill="#a8a8a8"/>
<circle cx="91.3" cy="474.8" r="0.75" fill="#a8a8a8"/>
<circle cx="92.1" cy="474.9" r="0.75" fill="#a8a8a8"/>
<circle cx="92.9" cy="474.8" r="0.75" fill="#a8a8a8"/>
<circle cx="93.6" cy="475.1" r="0.75" fill="#a8a8a8"/>
<circle cx="94.4" cy="475.0" r="0.75" fill="#a8a8a8"/>
<circle cx="94.8" cy="475.0" r="0.75" fill="#a8a8a8"/>
<circle cx="95.5" cy="475.0" r="0.75" fill="#a8a8a8"/>
<circle cx="96.1" cy="475.3" r="0.75" fill="#a8a8a8"/>
<circle cx="96.6" cy="475.0" r="0.75" fill="#a8a8a8"/>
<circle cx="97.5" cy="474.9" r="0.75" fill="#a8a8a8"/>
<circle cx="98.4" cy="475.0" r="0.75" fill="#a8a8a8"/>
<circle cx="98.9" cy="475.1" r="0.75" fill="#a8a8a8"/>
<circle cx="98.9" cy="475.1" r="0.75" fill="#a8a8a8"/>
<circle cx="100.4" cy="474.7" r="0.75" fill="#a8a8a8"/>
<circle cx="100.5" cy="474.8" r="0.75" fill="#a8a8a8"/>
<circle cx="101.9" cy="474.9" r="0.75" fill="#a8a8a8"/>
<circle cx="102.5" cy="474.7" r="0.75" fill="#a8a8a8"/>
<circle cx="102.8" cy="474.6" r="0.75" fill="#a8a8a8"/>
<circle cx="90.0" cy="476.3" r="0.75" fill="#a8a8a8"/>
<circle cx="90.2" cy="476.1" r="0.75" fill="#a8a8a8"/>
<circle cx="91.4" cy="476.2" r="0.75" fill="#a8a8a8"/>
<circle cx="91.8" cy="476.1" r="0.75" fill="#a8a8a8"/>
<circle cx="92.7" cy="475.8" r="0.75" fill="#a8a8a8"/>
<circle cx="93.4" cy="476.5" r="0.75" fill="#a8a8a8"/>
<circle cx="94.5" cy="476.4" r="0.75" fill="#a8a8a8"/>
<circle cx="95.2" cy="476.3" r="0.75" fill="#a8a8a8"/>
<circle cx="95.9" cy="476.0" r="0.75" fill="#a8a8a8"/>
<circle cx="96.1" cy="475.8" r="0.75" fill="#a8a8a8"/>
<circle cx="96.6" cy="476.2" r="0.75" fill="#a8a8a8"/>
<circle cx="97.5" cy="476.0" r="0.75" fill="#a8a8a8"/>
<circle cx="97.8" cy="476.6" r="0.75" fill="#a8a8a8"/>
<circle cx="98.6" cy="476.6" r="0.75" fill="#a8a8a8"/>
<circle cx="99.1" cy="476.1" r="0.75" fill="#a8a8a8"/>
<circle cx="99.9" cy="476.5" r="0.75" fill="#a8a8a8"/>
<circle cx="100.8" cy="476.4" r="0.75" fill="#a8a8a8"/>
<circle cx="101.0" cy="476.2" r="0.75" fill="#a8a8a8"/>
<circle cx="102.0" cy="475.8" r="0.75" fill="#a8a8a8"/>
<circle cx="102.6" cy="476.3" r="0.75" fill="#a8a8a8"/>
<circle cx="103.3" cy="476.4" r="0.75" fill="#a8a8a8"/>
<circle cx="90.1" cy="477.8" r="0.75" fill="#a8a8a8"/>
<circle cx="90.4" cy="477.1" r="0.75" fill="#a8a8a8"/>
<circle cx="91.2" cy="476.5" r="0.75" fill="#a8a8a8"/>
<circle cx="91.8" cy="477.2" r="0.75" fill="#a8a8a8"/>
<circle cx="92.5" cy="478.0" r="0.75" fill="#a8a8a8"/>
<circle cx="93.0" cy="477.5" r="0.75" fill="#a8a8a8"/>
<circle cx="94.0" cy="477.4" r="0.75" fill="#a8a8a8"/>
<circle cx="94.6" cy="477.5" r="0.75" fill="#a8a8a8"/>
<circle cx="95.0" cy="477.6" r="0.75" fill="#a8a8a8"/>
<circle cx="95.8" cy="477.4" r="0.75" fill="#a8a8a8"/>
<circle cx="96.6" cy="478.0" r="0.75" fill="#a8a8a8"/>
<circle cx="97.1" cy="477.5" r="0.75" fill="#a8a8a8"/>
<circle cx="97.8" cy="477.2" r="0.75" fill="#a8a8a8"/>
<circle cx="98.5" cy="477.2" r="0.75" fill="#a8a8a8"/>
<circle cx="98.8" cy="477.5" r="0.75" fill="#a8a8a8"/>
<circle cx="99.8" cy="477.5" r="0.75" fill="#a8a8a8"/>
<circle cx="100.1" cy="477.7" r="0.75" fill="#a8a8a8"/>
<circle cx="101.0" cy="477.7" r="0.75" fill="#a8a8a8"/>
<circle cx="101.9" cy="477.7" r="0.75" fill="#a8a8a8"/>
<circle cx="102.1" cy="477.2" r="0.75" fill="#a8a8a8"/>
<circle cx="103.2" cy="477.6" r="0.75" fill="#a8a8a8"/>
<circle cx="103.7" cy="477.3" r="0.75" fill="#a8a8a8"/>
<circle cx="88.8" cy="479.1" r="0.75" fill="#a8a8a8"/>
<circle cx="89.1" cy="478.9" r="0.75" fill="#a8a8a8"/>
<circle cx="90.3" cy="478.5" r="0.75" fill="#a8a8a8"/>
<circle cx="91.0" cy="478.5" r="0.75" fill="#a8a8a8"/>
<circle cx="91.4" cy="478.5" r="0.75" fill="#a8a8a8"/>
<circle cx="91.7" cy="478.8" r="0.75" fill="#a8a8a8"/>
<circle cx="92.8" cy="478.2" r="0.75" fill="#a8a8a8"/>
<circle cx="93.3" cy="478.9" r="0.75" fill="#a8a8a8"/>
<circle cx="93.5" cy="478.3" r="0.75" fill="#a8a8a8"/>
<circle cx="94.6" cy="478.6" r="0.75" fill="#a8a8a8"/>
<circle cx="95.3" cy="478.6" r="0.75" fill="#a8a8a8"/>
<circle cx="95.9" cy="478.9" r="0.75" fill="#a8a8a8"/>
<circle cx="96.0" cy="478.5" r="0.75" fill="#a8a8a8"/>
<circle cx="97.2" cy="478.5" r="0.75" fill="#a8a8a8"/>
<circle cx="97.9" cy="479.0" r="0.75" fill="#a8a8a8"/>
<circle cx="98.2" cy="479.1" r="0.75" fill="#a8a8a8"/>
<circle cx="99.2" cy="478.7" r="0.75" fill="#a8a8a8"/>
<circle cx="99.7" cy="478.6" r="0.75" fill="#a8a8a8"/>
<circle cx="100.5" cy="478.8" r="0.75" fill="#a8a8a8"/>
<circle cx="100.5" cy="478.7" r="0.75" fill="#a8a8a8"/>
<circle cx="101.4" cy="478.7" r="0.75" fill="#a8a8a8"/>
<circle cx="102.3" cy="478.5" r="0.75" fill="#a8a8a8"/>
<circle cx="102.4" cy="478.2" r="0.75" fill="#a8a8a8"/>
<circle cx="103.5" cy="478.8" r="0.75" fill="#a8a8a8"/>
<circle cx="104.5" cy="478.7" r="0.75" fill="#a8a8a8"/>
<circle cx="104.3" cy="479.0" r="0.75" fill="#a8a8a8"/>
<circle cx="93.7" cy="479.7" r="0.75" fill="#a8a8a8"/>
<circle cx="94.6" cy="480.2" r="0.75" fill="#a8a8a8"/>
<circle cx="94.8" cy="479.9" r="0.75" fill="#a8a8a8"/>
<circle cx="95.8" cy="480.2" r="0.75" fill="#a8a8a8"/>
<circle cx="96.0" cy="479.3" r="0.75" fill="#a8a8a8"/>
<circle cx="97.1" cy="479.6" r="0.75" fill="#a8a8a8"/>
<circle cx="97.9" cy="479.9" r="0.75" fill="#a8a8a8"/>
<circle cx="98.3" cy="480.3" r="0.75" fill="#a8a8a8"/>
<circle cx="99.2" cy="479.9" r="0.75" fill="#a8a8a8"/>
<circle cx="100.5" cy="479.6" r="0.75" fill="#a8a8a8"/>
<circle cx="91.8" cy="480.9" r="0.75" fill="#a8a8a8"/>
<circle cx="92.8" cy="481.5" r="0.75" fill="#a8a8a8"/>
<circle cx="92.9" cy="480.6" r="0.75" fill="#a8a8a8"/>
<circle cx="94.0" cy="481.3" r="0.75" fill="#a8a8a8"/>
<circle cx="94.6" cy="481.3" r="0.75" fill="#a8a8a8"/>
<circle cx="95.2" cy="481.4" r="0.75" fill="#a8a8a8"/>
<circle cx="96.1" cy="481.1" r="0.75" fill="#a8a8a8"/>
<circle cx="96.5" cy="481.7" r="0.75" fill="#a8a8a8"/>
<circle cx="97.5" cy="481.1" r="0.75" fill="#a8a8a8"/>
<circle cx="98.2" cy="480.8" r="0.75" fill="#a8a8a8"/>
<circle cx="99.1" cy="481.0" r="0.75" fill="#a8a8a8"/>
<circle cx="99.5" cy="481.0" r="0.75" fill="#a8a8a8"/>
<circle cx="100.1" cy="481.5" r="0.75" fill="#a8a8a8"/>
<circle cx="100.5" cy="481.2" r="0.75" fill="#a8a8a8"/>
<circle cx="101.3" cy="481.0" r="0.75" fill="#a8a8a8"/>
<circle cx="89.4" cy="482.6" r="0.75" fill="#a8a8a8"/>
<circle cx="90.2" cy="482.2" r="0.75" fill="#a8a8a8"/>
<circle cx="90.8" cy="482.3" r="0.75" fill="#a8a8a8"/>
<circle cx="91.5" cy="481.8" r="0.75" fill="#a8a8a8"/>
<circle cx="92.4" cy="482.7" r="0.75" fill="#a8a8a8"/>
<circle cx="92.5" cy="482.4" r="0.75" fill="#a8a8a8"/>
<circle cx="93.3" cy="482.3" r="0.75" fill="#a8a8a8"/>
<circle cx="94.2" cy="482.5" r="0.75" fill="#a8a8a8"/>
<circle cx="94.4" cy="482.1" r="0.75" fill="#a8a8a8"/>
<circle cx="95.6" cy="482.4" r="0.75" fill="#a8a8a8"/>
<circle cx="96.4" cy="482.5" r="0.75" fill="#a8a8a8"/>
<circle cx="96.8" cy="482.7" r="0.75" fill="#a8a8a8"/>
<circle cx="97.6" cy="483.0" r="0.75" fill="#a8a8a8"/>
<circle cx="97.9" cy="482.3" r="0.75" fill="#a8a8a8"/>
<circle cx="98.7" cy="482.7" r="0.75" fill="#a8a8a8"/>
<circle cx="99.4" cy="482.3" r="0.75" fill="#a8a8a8"/>
<circle cx="100.0" cy="482.2" r="0.75" fill="#a8a8a8"/>
<circle cx="100.9" cy="482.6" r="0.75" fill="#a8a8a8"/>
<circle cx="101.2" cy="482.5" r="0.75" fill="#a8a8a8"/>
<circle cx="102.1" cy="482.1" r="0.75" fill="#a8a8a8"/>
<circle cx="102.5" cy="482.5" r="0.75" fill="#a8a8a8"/>
<circle cx="103.6" cy="483.0" r="0.75" fill="#a8a8a8"/>
<circle cx="104.2" cy="482.3" r="0.75" fill="#a8a8a8"/>
<circle cx="93.3" cy="484.1" r="0.75" fill="#a8a8a8"/>
<circle cx="94.5" cy="483.6" r="0.75" fill="#a8a8a8"/>
<circle cx="95.0" cy="483.6" r="0.75" fill="#a8a8a8"/>
<circle cx="95.5" cy="483.6" r="0.75" fill="#a8a8a8"/>
<circle cx="96.5" cy="483.7" r="0.75" fill="#a8a8a8"/>
<circle cx="97.0" cy="483.5" r="0.75" fill="#a8a8a8"/>
<circle cx="97.6" cy="483.8" r="0.75" fill="#a8a8a8"/>
<circle cx="98.6" cy="483.9" r="0.75" fill="#a8a8a8"/>
<circle cx="99.0" cy="483.5" r="0.75" fill="#a8a8a8"/>
<circle cx="100.2" cy="483.8" r="0.75" fill="#a8a8a8"/>
<circle cx="93.2" cy="485.1" r="0.75" fill="#a8a8a8"/>
<circle cx="93.8" cy="485.0" r="0.75" fill="#a8a8a8"/>
<circle cx="94.1" cy="485.2" r="0.75" fill="#a8a8a8"/>
<circle cx="95.3" cy="484.8" r="0.75" fill="#a8a8a8"/>
<circle cx="95.5" cy="485.2" r="0.75" fill="#a8a8a8"/>
<circle cx="96.6" cy="485.2" r="0.75" fill="#a8a8a8"/>
<circle cx="96.7" cy="484.8" r="0.75" fill="#a8a8a8"/>
<circle cx="97.9" cy="485.3" r="0.75" fill="#a8a8a8"/>
<circle cx="98.4" cy="485.4" r="0.75" fill="#a8a8a8"/>
<circle cx="99.1" cy="484.7" r="0.75" fill="#a8a8a8"/>
<circle cx="99.8" cy="484.8" r="0.75" fill="#a8a8a8"/>
<circle cx="100.3" cy="485.6" r="0.75" fill="#a8a8a8"/>
<circle cx="94.5" cy="486.4" r="0.75" fill="#a8a8a8"/>
<circle cx="95.2" cy="486.4" r="0.75" fill="#a8a8a8"/>
<circle cx="95.7" cy="486.2" r="0.75" fill="#a8a8a8"/>
<circle cx="96.9" cy="486.3" r="0.75" fill="#a8a8a8"/>
<circle cx="97.4" cy="486.4" r="0.75" fill="#a8a8a8"/>
<circle cx="98.4" cy="486.2" r="0.75" fill="#a8a8a8"/>
<circle cx="99.1" cy="486.1" r="0.75" fill="#a8a8a8"/>
<circle cx="94.2" cy="487.3" r="0.75" fill="#a8a8a8"/>
<circle cx="95.3" cy="487.6" r="0.75" fill="#a8a8a8"/>
<circle cx="95.6" cy="487.3" r="0.75" fill="#a8a8a8"/>
<circle cx="96.2" cy="487.3" r="0.75" fill="#a8a8a8"/>
<circle cx="97.2" cy="487.1" r="0.75" fill="#a8a8a8"/>
<circle cx="97.7" cy="487.3" r="0.75" fill="#a8a8a8"/>
<circle cx="98.6" cy="487.5" r="0.75" fill="#a8a8a8"/>
<circle cx="99.3" cy="487.8" r="0.75" fill="#a8a8a8"/>
<circle cx="95.8" cy="488.9" r="0.75" fill="#a8a8a8"/>
<circle cx="95.8" cy="488.8" r="0.75" fill="#a8a8a8"/>
<circle cx="96.6" cy="489.1" r="0.75" fill="#a8a8a8"/>
<circle cx="98.0" cy="488.7" r="0.75" fill="#a8a8a8"/>
<circle cx="98.0" cy="488.7" r="0.75" fill="#a8a8a8"/>
<circle cx="94.9" cy="489.8" r="0.75" fill="#a8a8a8"/>
<circle cx="96.1" cy="490.2" r="0.75" fill="#a8a8a8"/>
<circle cx="97.1" cy="489.6" r="0.75" fill="#a8a8a8"/>
<circle cx="97.9" cy="489.5" r="0.75" fill="#a8a8a8"/>
<circle cx="95.3" cy="491.1" r="0.75" fill="#a8a8a8"/>
<circle cx="96.5" cy="491.0" r="0.75" fill="#a8a8a8"/>
<circle cx="97.5" cy="491.6" r="0.75" fill="#a8a8a8"/>
<circle cx="95.8" cy="493.8" r="0.75" fill="#a8a8a8"/>
<circle cx="97.3" cy="494.2" r="0.75" fill="#a8a8a8"/>
<circle cx="95.9" cy="495.2" r="0.75" fill="#a8a8a8"/>
<circle cx="97.2" cy="494.8" r="0.75" fill="#a8a8a8"/>
<circle cx="95.6" cy="496.1" r="0.75" fill="#a8a8a8"/>
<circle cx="97.0" cy="495.8" r="0.75" fill="#a8a8a8"/>
<circle cx="97.1" cy="497.5" r="0.75" fill="#a8a8a8"/>
<circle cx="95.7" cy="498.8" r="0.75" fill="#a8a8a8"/>
<circle cx="96.3" cy="498.5" r="0.75" fill="#a8a8a8"/>
<circle cx="97.1" cy="499.1" r="0.75" fill="#a8a8a8"/>
<circle cx="98.2" cy="498.7" r="0.75" fill="#a8a8a8"/>
<circle cx="96.5" cy="499.8" r="0.75" fill="#a8a8a8"/>
<circle cx="96.2" cy="501.2" r="0.75" fill="#a8a8a8"/>
<circle cx="97.9" cy="501.0" r="0.75" fill="#a8a8a8"/>
<circle cx="96.5" cy="503.7" r="0.75" fill="#a8a8a8"/>
<circle cx="96.2" cy="505.2" r="0.75" fill="#a8a8a8"/>
<circle cx="97.0" cy="505.0" r="0.75" fill="#a8a8a8"/>
<circle cx="96.4" cy="505.9" r="0.75" fill="#a8a8a8"/>
<circle cx="96.9" cy="507.7" r="0.75" fill="#a8a8a8"/>
<circle cx="96.3" cy="508.8" r="0.75" fill="#a8a8a8"/>
<line x1="55.40" y1="439.10" x2="55.40" y2="519.30" stroke="#555" stroke-width="0.9"/>
<line x1="55.40" y1="519.30" x2="112.00" y2="519.30" stroke="#555" stroke-width="0.9"/>
<line x1="53.20" y1="439.10" x2="55.40" y2="439.10" stroke="#555" stroke-width="0.8"/>
<text x="51.40" y="441.22" font-size="5.9" text-anchor="end" fill="#1c1c1c">10</text>
<line x1="53.20" y1="455.14" x2="55.40" y2="455.14" stroke="#555" stroke-width="0.8"/>
<text x="51.40" y="457.26" font-size="5.9" text-anchor="end" fill="#1c1c1c">8</text>
<line x1="53.20" y1="471.18" x2="55.40" y2="471.18" stroke="#555" stroke-width="0.8"/>
<text x="51.40" y="473.30" font-size="5.9" text-anchor="end" fill="#1c1c1c">6</text>
<line x1="53.20" y1="487.22" x2="55.40" y2="487.22" stroke="#555" stroke-width="0.8"/>
<text x="51.40" y="489.34" font-size="5.9" text-anchor="end" fill="#1c1c1c">4</text>
<line x1="53.20" y1="503.26" x2="55.40" y2="503.26" stroke="#555" stroke-width="0.8"/>
<text x="51.40" y="505.38" font-size="5.9" text-anchor="end" fill="#1c1c1c">2</text>
<line x1="53.20" y1="519.30" x2="55.40" y2="519.30" stroke="#555" stroke-width="0.8"/>
<text x="51.40" y="521.42" font-size="5.9" text-anchor="end" fill="#1c1c1c">0</text>
<line x1="71.60" y1="519.30" x2="71.60" y2="521.50" stroke="#555" stroke-width="0.8"/>
<text x="71.60" y="528.18" font-size="6.9" text-anchor="middle" fill="#1c1c1c">A</text>
<line x1="96.70" y1="519.30" x2="96.70" y2="521.50" stroke="#555" stroke-width="0.8"/>
<text x="96.70" y="528.18" font-size="6.9" text-anchor="middle" fill="#1c1c1c">B</text>
<line x1="72.20" y1="440.90" x2="96.90" y2="440.90" stroke="#111" stroke-width="1.1"/>
<g transform="translate(76.53 434.80)" stroke="#111" stroke-width="0.9"><path d="M0 -1.9V1.9M-1.65 -0.95L1.65 0.95M-1.65 0.95L1.65 -0.95" stroke-width="1.0"/><circle r="1.05" fill="#111" stroke="none"/></g>
<g transform="translate(81.88 434.80)" stroke="#111" stroke-width="0.9"><path d="M0 -1.9V1.9M-1.65 -0.95L1.65 0.95M-1.65 0.95L1.65 -0.95" stroke-width="1.0"/><circle r="1.05" fill="#111" stroke="none"/></g>
<g transform="translate(87.23 434.80)" stroke="#111" stroke-width="0.9"><path d="M0 -1.9V1.9M-1.65 -0.95L1.65 0.95M-1.65 0.95L1.65 -0.95" stroke-width="1.0"/><circle r="1.05" fill="#111" stroke="none"/></g>
<g transform="translate(92.58 434.80)" stroke="#111" stroke-width="0.9"><path d="M0 -1.9V1.9M-1.65 -0.95L1.65 0.95M-1.65 0.95L1.65 -0.95" stroke-width="1.0"/><circle r="1.05" fill="#111" stroke="none"/></g>
<text x="36.30" y="539.54" font-size="6.51" textLength="92.50" lengthAdjust="spacingAndGlyphs" fill="#111">SUCNR1 Groups: (A) −3.21 - 0.01</text>
<text x="85.80" y="546.75" font-size="6.53" textLength="39.00" lengthAdjust="spacingAndGlyphs" fill="#111">(B) 0.01 - 4.35</text>
<text transform="translate(31.42 0) rotate(-90) translate(-952.40 0)" x="476.20" y="0" font-size="7.0" text-anchor="middle" textLength="80.40" lengthAdjust="spacingAndGlyphs" class="nk" fill="#111"><tspan font-style="italic" font-size="8.0">Indibacter</tspan>, MicrobiomeSignatures</text>
<text transform="translate(39.35 0) rotate(-90) translate(-949.00 0)" x="474.50" y="0" font-size="6.8" text-anchor="middle" textLength="40.60" lengthAdjust="spacingAndGlyphs" class="nk" fill="#111">(log RNA Seq CPM)</text>
<line x1="63.40" y1="483.21" x2="79.80" y2="483.21" stroke="#111" stroke-width="1.2"/>
<line x1="66.90" y1="471.18" x2="76.30" y2="471.18" stroke="#111" stroke-width="1.1"/>
<line x1="66.90" y1="494.12" x2="76.30" y2="494.12" stroke="#111" stroke-width="1.1"/>
<line x1="71.60" y1="471.18" x2="71.60" y2="494.12" stroke="#111" stroke-width="1.1"/>
<line x1="88.50" y1="478.08" x2="104.90" y2="478.08" stroke="#111" stroke-width="1.2"/>
<line x1="92.50" y1="469.82" x2="100.90" y2="469.82" stroke="#111" stroke-width="1.1"/>
<line x1="92.50" y1="486.34" x2="100.90" y2="486.34" stroke="#111" stroke-width="1.1"/>
<line x1="96.70" y1="469.82" x2="96.70" y2="486.34" stroke="#111" stroke-width="1.1"/>
<circle cx="216.5" cy="285.0" r="0.95" fill="#1c9b63"/>
<circle cx="221.5" cy="294.0" r="0.95" fill="#1c9b63"/>
<circle cx="222.3" cy="285.1" r="0.95" fill="#1c9b63"/>
<circle cx="222.4" cy="284.9" r="0.95" fill="#1c9b63"/>
<circle cx="224.3" cy="293.7" r="0.95" fill="#1c9b63"/>
<circle cx="227.3" cy="278.2" r="0.95" fill="#1c9b63"/>
<circle cx="215.4" cy="282.1" r="0.95" fill="#1c9b63"/>
<circle cx="220.7" cy="299.6" r="0.95" fill="#1c9b63"/>
<circle cx="221.4" cy="291.2" r="0.95" fill="#1c9b63"/>
<circle cx="217.2" cy="291.3" r="0.95" fill="#1c9b63"/>
<circle cx="216.3" cy="286.4" r="0.95" fill="#1c9b63"/>
<circle cx="218.9" cy="298.2" r="0.95" fill="#1c9b63"/>
<circle cx="217.1" cy="296.7" r="0.95" fill="#1c9b63"/>
<circle cx="212.1" cy="289.4" r="0.95" fill="#1c9b63"/>
<circle cx="222.7" cy="282.3" r="0.95" fill="#1c9b63"/>
<circle cx="215.4" cy="292.1" r="0.95" fill="#1c9b63"/>
<circle cx="214.3" cy="285.9" r="0.95" fill="#1c9b63"/>
<circle cx="223.1" cy="286.8" r="0.95" fill="#1c9b63"/>
<circle cx="221.9" cy="284.6" r="0.95" fill="#1c9b63"/>
<circle cx="226.0" cy="301.5" r="0.95" fill="#1c9b63"/>
<circle cx="207.8" cy="288.4" r="0.95" fill="#1c9b63"/>
<circle cx="221.6" cy="289.9" r="0.95" fill="#1c9b63"/>
<circle cx="220.6" cy="295.4" r="0.95" fill="#1c9b63"/>
<circle cx="212.1" cy="292.1" r="0.95" fill="#1c9b63"/>
<circle cx="222.7" cy="281.9" r="0.95" fill="#1c9b63"/>
<circle cx="214.9" cy="285.6" r="0.95" fill="#1c9b63"/>
<circle cx="215.2" cy="286.8" r="0.95" fill="#1c9b63"/>
<circle cx="212.9" cy="287.3" r="0.95" fill="#1c9b63"/>
<circle cx="214.8" cy="287.2" r="0.95" fill="#1c9b63"/>
<circle cx="215.2" cy="292.9" r="0.95" fill="#1c9b63"/>
<circle cx="219.0" cy="289.4" r="0.95" fill="#1c9b63"/>
<circle cx="218.6" cy="290.0" r="0.95" fill="#1c9b63"/>
<circle cx="221.5" cy="292.8" r="0.95" fill="#1c9b63"/>
<circle cx="222.3" cy="277.3" r="0.95" fill="#1c9b63"/>
<circle cx="217.1" cy="274.3" r="0.95" fill="#1c9b63"/>
<circle cx="228.6" cy="283.7" r="0.95" fill="#1c9b63"/>
<circle cx="211.7" cy="298.6" r="0.95" fill="#1c9b63"/>
<circle cx="217.6" cy="274.0" r="0.95" fill="#1c9b63"/>
<circle cx="221.3" cy="281.4" r="0.95" fill="#1c9b63"/>
<circle cx="217.2" cy="292.3" r="0.95" fill="#1c9b63"/>
<circle cx="220.3" cy="295.0" r="0.95" fill="#1c9b63"/>
<circle cx="217.5" cy="283.2" r="0.95" fill="#1c9b63"/>
<circle cx="218.6" cy="283.1" r="0.95" fill="#1c9b63"/>
<circle cx="216.2" cy="282.6" r="0.95" fill="#1c9b63"/>
<circle cx="220.5" cy="298.9" r="0.95" fill="#1c9b63"/>
<circle cx="213.2" cy="292.2" r="0.95" fill="#1c9b63"/>
<circle cx="221.7" cy="284.7" r="0.95" fill="#1c9b63"/>
<circle cx="219.9" cy="285.7" r="0.95" fill="#1c9b63"/>
<circle cx="221.6" cy="280.1" r="0.95" fill="#1c9b63"/>
<circle cx="215.7" cy="298.5" r="0.95" fill="#1c9b63"/>
<circle cx="221.8" cy="288.4" r="0.95" fill="#1c9b63"/>
<circle cx="218.7" cy="288.2" r="0.95" fill="#1c9b63"/>
<circle cx="212.9" cy="297.9" r="0.95" fill="#1c9b63"/>
<circle cx="223.3" cy="279.0" r="0.95" fill="#1c9b63"/>
<circle cx="223.1" cy="285.4" r="0.95" fill="#1c9b63"/>
<circle cx="219.8" cy="290.0" r="0.95" fill="#1c9b63"/>
<circle cx="218.8" cy="289.8" r="0.95" fill="#1c9b63"/>
<circle cx="215.7" cy="285.4" r="0.95" fill="#1c9b63"/>
<circle cx="226.9" cy="300.6" r="0.95" fill="#1c9b63"/>
<circle cx="221.5" cy="282.0" r="0.95" fill="#1c9b63"/>
<circle cx="212.4" cy="284.6" r="0.95" fill="#1c9b63"/>
<circle cx="219.0" cy="290.3" r="0.95" fill="#1c9b63"/>
<circle cx="216.0" cy="297.1" r="0.95" fill="#1c9b63"/>
<circle cx="226.4" cy="289.0" r="0.95" fill="#1c9b63"/>
<circle cx="219.9" cy="284.2" r="0.95" fill="#1c9b63"/>
<circle cx="214.4" cy="288.8" r="0.95" fill="#1c9b63"/>
<circle cx="221.1" cy="290.0" r="0.95" fill="#1c9b63"/>
<circle cx="209.6" cy="296.1" r="0.95" fill="#1c9b63"/>
<circle cx="219.7" cy="289.4" r="0.95" fill="#1c9b63"/>
<circle cx="217.0" cy="277.1" r="0.95" fill="#1c9b63"/>
<circle cx="218.9" cy="292.1" r="0.95" fill="#1c9b63"/>
<circle cx="218.1" cy="271.3" r="0.95" fill="#1c9b63"/>
<circle cx="212.8" cy="274.0" r="0.95" fill="#1c9b63"/>
<circle cx="225.7" cy="288.1" r="0.95" fill="#1c9b63"/>
<circle cx="216.8" cy="276.6" r="0.95" fill="#1c9b63"/>
<circle cx="219.7" cy="290.8" r="0.95" fill="#1c9b63"/>
<circle cx="227.6" cy="285.6" r="0.95" fill="#1c9b63"/>
<circle cx="220.1" cy="286.6" r="0.95" fill="#1c9b63"/>
<circle cx="216.9" cy="286.0" r="0.95" fill="#1c9b63"/>
<circle cx="216.6" cy="283.2" r="0.95" fill="#1c9b63"/>
<circle cx="223.7" cy="279.0" r="0.95" fill="#1c9b63"/>
<circle cx="224.4" cy="276.1" r="0.95" fill="#1c9b63"/>
<circle cx="222.3" cy="291.3" r="0.95" fill="#1c9b63"/>
<circle cx="223.3" cy="298.9" r="0.95" fill="#1c9b63"/>
<circle cx="214.9" cy="284.8" r="0.95" fill="#1c9b63"/>
<circle cx="210.0" cy="276.2" r="0.95" fill="#1c9b63"/>
<circle cx="213.4" cy="297.8" r="0.95" fill="#1c9b63"/>
<circle cx="214.6" cy="292.5" r="0.95" fill="#1c9b63"/>
<circle cx="218.3" cy="288.1" r="0.95" fill="#1c9b63"/>
<circle cx="223.6" cy="288.1" r="0.95" fill="#1c9b63"/>
<circle cx="219.3" cy="294.1" r="0.95" fill="#1c9b63"/>
<circle cx="220.9" cy="292.5" r="0.95" fill="#1c9b63"/>
<circle cx="208.7" cy="277.5" r="0.95" fill="#1c9b63"/>
<circle cx="213.2" cy="294.8" r="0.95" fill="#1c9b63"/>
<circle cx="214.1" cy="282.2" r="0.95" fill="#1c9b63"/>
<circle cx="210.8" cy="289.8" r="0.95" fill="#1c9b63"/>
<circle cx="221.3" cy="273.2" r="0.95" fill="#1c9b63"/>
<circle cx="217.0" cy="286.5" r="0.95" fill="#1c9b63"/>
<circle cx="214.1" cy="272.5" r="0.95" fill="#1c9b63"/>
<circle cx="217.7" cy="287.4" r="0.95" fill="#1c9b63"/>
<circle cx="219.2" cy="293.6" r="0.95" fill="#1c9b63"/>
<circle cx="218.4" cy="296.1" r="0.95" fill="#1c9b63"/>
<circle cx="225.9" cy="288.0" r="0.95" fill="#1c9b63"/>
<circle cx="217.6" cy="278.4" r="0.95" fill="#1c9b63"/>
<circle cx="212.4" cy="276.7" r="0.95" fill="#1c9b63"/>
<circle cx="226.1" cy="292.5" r="0.95" fill="#1c9b63"/>
<circle cx="221.9" cy="287.6" r="0.95" fill="#1c9b63"/>
<circle cx="222.9" cy="286.6" r="0.95" fill="#1c9b63"/>
<circle cx="213.9" cy="282.4" r="0.95" fill="#1c9b63"/>
<circle cx="217.4" cy="285.6" r="0.95" fill="#1c9b63"/>
<circle cx="223.3" cy="278.1" r="0.95" fill="#1c9b63"/>
<circle cx="221.6" cy="297.2" r="0.95" fill="#1c9b63"/>
<circle cx="221.9" cy="289.1" r="0.95" fill="#1c9b63"/>
<circle cx="223.8" cy="288.3" r="0.95" fill="#1c9b63"/>
<circle cx="225.6" cy="283.2" r="0.95" fill="#1c9b63"/>
<circle cx="218.5" cy="284.8" r="0.95" fill="#1c9b63"/>
<circle cx="209.6" cy="282.8" r="0.95" fill="#1c9b63"/>
<circle cx="219.0" cy="294.9" r="0.95" fill="#1c9b63"/>
<circle cx="220.5" cy="284.6" r="0.95" fill="#1c9b63"/>
<circle cx="220.2" cy="287.8" r="0.95" fill="#1c9b63"/>
<circle cx="222.4" cy="281.1" r="0.95" fill="#1c9b63"/>
<circle cx="218.9" cy="287.4" r="0.95" fill="#1c9b63"/>
<circle cx="216.2" cy="291.2" r="0.95" fill="#1c9b63"/>
<circle cx="221.5" cy="290.9" r="0.95" fill="#1c9b63"/>
<circle cx="211.4" cy="285.1" r="0.95" fill="#1c9b63"/>
<circle cx="224.0" cy="288.9" r="0.95" fill="#1c9b63"/>
<circle cx="222.8" cy="283.4" r="0.95" fill="#1c9b63"/>
<circle cx="213.4" cy="284.6" r="0.95" fill="#1c9b63"/>
<circle cx="217.9" cy="282.0" r="0.95" fill="#1c9b63"/>
<circle cx="204.5" cy="280.9" r="0.95" fill="#1c9b63"/>
<circle cx="222.2" cy="293.6" r="0.95" fill="#1c9b63"/>
<circle cx="223.8" cy="288.0" r="0.95" fill="#1c9b63"/>
<circle cx="219.4" cy="280.6" r="0.95" fill="#1c9b63"/>
<circle cx="225.2" cy="285.7" r="0.95" fill="#1c9b63"/>
<circle cx="221.9" cy="283.7" r="0.95" fill="#1c9b63"/>
<circle cx="214.8" cy="275.0" r="0.95" fill="#1c9b63"/>
<circle cx="222.4" cy="285.8" r="0.95" fill="#1c9b63"/>
<circle cx="223.9" cy="282.9" r="0.95" fill="#1c9b63"/>
<circle cx="215.7" cy="279.5" r="0.95" fill="#1c9b63"/>
<circle cx="218.8" cy="282.3" r="0.95" fill="#1c9b63"/>
<circle cx="223.3" cy="279.9" r="0.95" fill="#1c9b63"/>
<circle cx="228.0" cy="285.3" r="0.95" fill="#1c9b63"/>
<circle cx="217.7" cy="292.0" r="0.95" fill="#1c9b63"/>
<circle cx="215.4" cy="281.9" r="0.95" fill="#1c9b63"/>
<circle cx="220.7" cy="293.0" r="0.95" fill="#1c9b63"/>
<circle cx="215.5" cy="289.9" r="0.95" fill="#1c9b63"/>
<circle cx="226.4" cy="293.4" r="0.95" fill="#1c9b63"/>
<circle cx="220.4" cy="298.4" r="0.95" fill="#1c9b63"/>
<circle cx="217.5" cy="276.6" r="0.95" fill="#1c9b63"/>
<circle cx="212.4" cy="278.3" r="0.95" fill="#1c9b63"/>
<circle cx="209.2" cy="286.2" r="0.95" fill="#1c9b63"/>
<circle cx="213.1" cy="286.8" r="0.95" fill="#1c9b63"/>
<circle cx="217.4" cy="280.7" r="0.95" fill="#1c9b63"/>
<circle cx="220.0" cy="285.4" r="0.95" fill="#1c9b63"/>
<circle cx="215.9" cy="283.4" r="0.95" fill="#1c9b63"/>
<circle cx="214.7" cy="291.3" r="0.95" fill="#1c9b63"/>
<circle cx="215.5" cy="282.5" r="0.95" fill="#1c9b63"/>
<circle cx="230.0" cy="287.1" r="0.95" fill="#1c9b63"/>
<circle cx="228.2" cy="294.0" r="0.95" fill="#1c9b63"/>
<circle cx="215.7" cy="282.9" r="0.95" fill="#1c9b63"/>
<circle cx="221.7" cy="281.1" r="0.95" fill="#1c9b63"/>
<circle cx="226.5" cy="288.1" r="0.95" fill="#1c9b63"/>
<circle cx="224.1" cy="284.8" r="0.95" fill="#1c9b63"/>
<circle cx="204.5" cy="293.8" r="0.95" fill="#1c9b63"/>
<circle cx="216.0" cy="285.8" r="0.95" fill="#1c9b63"/>
<circle cx="221.3" cy="288.6" r="0.95" fill="#1c9b63"/>
<circle cx="225.2" cy="293.6" r="0.95" fill="#1c9b63"/>
<circle cx="218.6" cy="279.9" r="0.95" fill="#1c9b63"/>
<circle cx="213.1" cy="277.5" r="0.95" fill="#1c9b63"/>
<circle cx="223.4" cy="287.7" r="0.95" fill="#1c9b63"/>
<circle cx="218.7" cy="287.2" r="0.95" fill="#1c9b63"/>
<circle cx="218.8" cy="277.5" r="0.95" fill="#1c9b63"/>
<circle cx="221.3" cy="296.5" r="0.95" fill="#1c9b63"/>
<circle cx="211.0" cy="282.2" r="0.95" fill="#1c9b63"/>
<circle cx="205.5" cy="298.0" r="0.95" fill="#1c9b63"/>
<circle cx="215.6" cy="286.8" r="0.95" fill="#1c9b63"/>
<circle cx="225.4" cy="285.4" r="0.95" fill="#1c9b63"/>
<circle cx="236.2" cy="285.1" r="0.95" fill="#1c9b63"/>
<circle cx="222.9" cy="279.3" r="0.95" fill="#1c9b63"/>
<circle cx="218.1" cy="279.8" r="0.95" fill="#1c9b63"/>
<circle cx="221.6" cy="285.0" r="0.95" fill="#1c9b63"/>
<circle cx="215.5" cy="289.8" r="0.95" fill="#1c9b63"/>
<circle cx="222.6" cy="286.9" r="0.95" fill="#1c9b63"/>
<circle cx="220.6" cy="283.8" r="0.95" fill="#1c9b63"/>
<circle cx="220.0" cy="286.6" r="0.95" fill="#1c9b63"/>
<circle cx="221.5" cy="280.7" r="0.95" fill="#1c9b63"/>
<circle cx="225.5" cy="283.1" r="0.95" fill="#1c9b63"/>
<circle cx="215.8" cy="291.6" r="0.95" fill="#1c9b63"/>
<circle cx="221.8" cy="297.7" r="0.95" fill="#1c9b63"/>
<circle cx="216.0" cy="279.1" r="0.95" fill="#1c9b63"/>
<circle cx="217.0" cy="291.4" r="0.95" fill="#1c9b63"/>
<circle cx="224.8" cy="305.9" r="0.95" fill="#1c9b63"/>
<circle cx="218.2" cy="290.0" r="0.95" fill="#1c9b63"/>
<circle cx="216.2" cy="280.1" r="0.95" fill="#1c9b63"/>
<circle cx="226.1" cy="278.5" r="0.95" fill="#1c9b63"/>
<circle cx="221.7" cy="284.3" r="0.95" fill="#1c9b63"/>
<circle cx="217.4" cy="286.6" r="0.95" fill="#1c9b63"/>
<circle cx="210.5" cy="290.5" r="0.95" fill="#1c9b63"/>
<circle cx="221.6" cy="287.5" r="0.95" fill="#1c9b63"/>
<circle cx="222.7" cy="297.9" r="0.95" fill="#1c9b63"/>
<circle cx="215.8" cy="293.9" r="0.95" fill="#1c9b63"/>
<circle cx="223.9" cy="288.6" r="0.95" fill="#1c9b63"/>
<circle cx="217.2" cy="295.5" r="0.95" fill="#1c9b63"/>
<circle cx="216.1" cy="294.0" r="0.95" fill="#1c9b63"/>
<circle cx="215.8" cy="271.0" r="0.95" fill="#1c9b63"/>
<circle cx="212.9" cy="288.6" r="0.95" fill="#1c9b63"/>
<circle cx="214.1" cy="277.3" r="0.95" fill="#1c9b63"/>
<circle cx="213.8" cy="293.0" r="0.95" fill="#1c9b63"/>
<circle cx="220.4" cy="274.7" r="0.95" fill="#1c9b63"/>
<circle cx="219.7" cy="290.8" r="0.95" fill="#1c9b63"/>
<circle cx="218.2" cy="286.6" r="0.95" fill="#1c9b63"/>
<circle cx="224.5" cy="283.4" r="0.95" fill="#1c9b63"/>
<circle cx="217.3" cy="277.5" r="0.95" fill="#1c9b63"/>
<circle cx="227.2" cy="291.5" r="0.95" fill="#1c9b63"/>
<circle cx="223.2" cy="278.1" r="0.95" fill="#1c9b63"/>
<circle cx="214.7" cy="282.7" r="0.95" fill="#1c9b63"/>
<circle cx="218.4" cy="278.3" r="0.95" fill="#1c9b63"/>
<circle cx="224.1" cy="302.1" r="0.95" fill="#1c9b63"/>
<circle cx="217.4" cy="276.8" r="0.95" fill="#1c9b63"/>
<circle cx="221.1" cy="294.2" r="0.95" fill="#1c9b63"/>
<circle cx="216.1" cy="294.6" r="0.95" fill="#1c9b63"/>
<circle cx="220.2" cy="296.2" r="0.95" fill="#1c9b63"/>
<circle cx="224.6" cy="280.7" r="0.95" fill="#1c9b63"/>
<circle cx="226.9" cy="279.0" r="0.95" fill="#1c9b63"/>
<circle cx="223.6" cy="280.1" r="0.95" fill="#1c9b63"/>
<circle cx="221.4" cy="300.7" r="0.95" fill="#1c9b63"/>
<circle cx="221.4" cy="292.4" r="0.95" fill="#1c9b63"/>
<circle cx="206.6" cy="275.3" r="0.95" fill="#1c9b63"/>
<circle cx="218.6" cy="298.4" r="0.95" fill="#1c9b63"/>
<circle cx="220.1" cy="283.5" r="0.95" fill="#1c9b63"/>
<circle cx="219.6" cy="276.0" r="0.95" fill="#1c9b63"/>
<circle cx="213.1" cy="280.2" r="0.95" fill="#1c9b63"/>
<circle cx="213.7" cy="283.3" r="0.95" fill="#1c9b63"/>
<circle cx="221.9" cy="290.2" r="0.95" fill="#1c9b63"/>
<circle cx="231.2" cy="299.8" r="0.95" fill="#1c9b63"/>
<circle cx="211.2" cy="290.1" r="0.95" fill="#1c9b63"/>
<circle cx="214.1" cy="278.5" r="0.95" fill="#1c9b63"/>
<circle cx="215.7" cy="277.0" r="0.95" fill="#1c9b63"/>
<circle cx="216.4" cy="280.8" r="0.95" fill="#1c9b63"/>
<circle cx="222.6" cy="285.9" r="0.95" fill="#1c9b63"/>
<circle cx="222.2" cy="284.2" r="0.95" fill="#1c9b63"/>
<circle cx="216.9" cy="283.1" r="0.95" fill="#1c9b63"/>
<circle cx="224.4" cy="282.5" r="0.95" fill="#1c9b63"/>
<circle cx="208.7" cy="290.6" r="0.95" fill="#1c9b63"/>
<circle cx="225.3" cy="282.8" r="0.95" fill="#1c9b63"/>
<circle cx="215.1" cy="288.4" r="0.95" fill="#1c9b63"/>
<circle cx="219.3" cy="274.6" r="0.95" fill="#1c9b63"/>
<circle cx="213.9" cy="285.1" r="0.95" fill="#1c9b63"/>
<circle cx="226.1" cy="279.0" r="0.95" fill="#1c9b63"/>
<circle cx="218.0" cy="288.6" r="0.95" fill="#1c9b63"/>
<circle cx="209.7" cy="299.0" r="0.95" fill="#1c9b63"/>
<circle cx="214.2" cy="280.6" r="0.95" fill="#1c9b63"/>
<circle cx="222.7" cy="277.2" r="0.95" fill="#1c9b63"/>
<circle cx="223.2" cy="281.1" r="0.95" fill="#1c9b63"/>
<circle cx="219.5" cy="292.5" r="0.95" fill="#1c9b63"/>
<circle cx="224.7" cy="289.4" r="0.95" fill="#1c9b63"/>
<circle cx="209.5" cy="283.4" r="0.95" fill="#1c9b63"/>
<circle cx="217.3" cy="284.2" r="0.95" fill="#1c9b63"/>
<circle cx="212.8" cy="281.8" r="0.95" fill="#1c9b63"/>
<circle cx="219.9" cy="292.7" r="0.95" fill="#1c9b63"/>
<circle cx="219.8" cy="296.0" r="0.95" fill="#1c9b63"/>
<circle cx="221.4" cy="290.1" r="0.95" fill="#1c9b63"/>
<circle cx="220.3" cy="293.4" r="0.95" fill="#1c9b63"/>
<circle cx="214.6" cy="288.0" r="0.95" fill="#1c9b63"/>
<circle cx="222.7" cy="285.9" r="0.95" fill="#1c9b63"/>
<circle cx="206.6" cy="282.0" r="0.95" fill="#1c9b63"/>
<circle cx="217.9" cy="282.2" r="0.95" fill="#1c9b63"/>
<circle cx="224.3" cy="280.9" r="0.95" fill="#1c9b63"/>
<circle cx="214.8" cy="289.5" r="0.95" fill="#1c9b63"/>
<circle cx="221.0" cy="279.5" r="0.95" fill="#1c9b63"/>
<circle cx="214.6" cy="291.5" r="0.95" fill="#1c9b63"/>
<circle cx="213.5" cy="283.9" r="0.95" fill="#1c9b63"/>
<circle cx="222.7" cy="278.2" r="0.95" fill="#1c9b63"/>
<circle cx="221.5" cy="291.2" r="0.95" fill="#1c9b63"/>
<circle cx="205.7" cy="276.2" r="0.95" fill="#1c9b63"/>
<circle cx="220.0" cy="300.6" r="0.95" fill="#1c9b63"/>
<circle cx="232.8" cy="281.4" r="0.95" fill="#1c9b63"/>
<circle cx="226.5" cy="288.7" r="0.95" fill="#1c9b63"/>
<circle cx="209.6" cy="292.6" r="0.95" fill="#1c9b63"/>
<circle cx="222.5" cy="302.3" r="0.95" fill="#1c9b63"/>
<circle cx="215.8" cy="278.5" r="0.95" fill="#1c9b63"/>
<circle cx="223.9" cy="286.3" r="0.95" fill="#1c9b63"/>
<circle cx="205.6" cy="288.8" r="0.95" fill="#1c9b63"/>
<circle cx="225.0" cy="280.5" r="0.95" fill="#1c9b63"/>
<circle cx="216.5" cy="284.1" r="0.95" fill="#1c9b63"/>
<circle cx="221.4" cy="289.7" r="0.95" fill="#1c9b63"/>
<circle cx="214.8" cy="292.0" r="0.95" fill="#1c9b63"/>
<circle cx="214.3" cy="287.4" r="0.95" fill="#1c9b63"/>
<circle cx="218.3" cy="282.6" r="0.95" fill="#1c9b63"/>
<circle cx="221.5" cy="287.8" r="0.95" fill="#1c9b63"/>
<circle cx="207.8" cy="282.8" r="0.95" fill="#1c9b63"/>
<circle cx="214.0" cy="274.2" r="0.95" fill="#1c9b63"/>
<circle cx="221.7" cy="274.6" r="0.95" fill="#1c9b63"/>
<circle cx="219.5" cy="283.1" r="0.95" fill="#1c9b63"/>
<circle cx="216.4" cy="290.2" r="0.95" fill="#1c9b63"/>
<circle cx="216.2" cy="281.3" r="0.95" fill="#1c9b63"/>
<circle cx="212.9" cy="279.4" r="0.95" fill="#1c9b63"/>
<circle cx="217.2" cy="282.2" r="0.95" fill="#1c9b63"/>
<circle cx="213.6" cy="286.4" r="0.95" fill="#1c9b63"/>
<circle cx="210.0" cy="291.5" r="0.95" fill="#1c9b63"/>
<circle cx="217.5" cy="294.2" r="0.95" fill="#1c9b63"/>
<circle cx="217.3" cy="286.0" r="0.95" fill="#1c9b63"/>
<circle cx="219.2" cy="301.7" r="0.95" fill="#1c9b63"/>
<circle cx="216.9" cy="288.5" r="0.95" fill="#1c9b63"/>
<circle cx="214.2" cy="293.9" r="0.95" fill="#1c9b63"/>
<circle cx="228.1" cy="280.8" r="0.95" fill="#1c9b63"/>
<circle cx="223.4" cy="278.2" r="0.95" fill="#1c9b63"/>
<circle cx="213.8" cy="288.8" r="0.95" fill="#1c9b63"/>
<circle cx="209.6" cy="285.5" r="0.95" fill="#1c9b63"/>
<circle cx="208.9" cy="292.2" r="0.95" fill="#1c9b63"/>
<circle cx="222.2" cy="283.0" r="0.95" fill="#1c9b63"/>
<circle cx="213.5" cy="293.4" r="0.95" fill="#1c9b63"/>
<circle cx="225.0" cy="283.7" r="0.95" fill="#1c9b63"/>
<circle cx="215.9" cy="285.9" r="0.95" fill="#1c9b63"/>
<circle cx="219.1" cy="294.7" r="0.95" fill="#1c9b63"/>
<circle cx="215.7" cy="302.2" r="0.95" fill="#1c9b63"/>
<circle cx="219.6" cy="286.3" r="0.95" fill="#1c9b63"/>
<circle cx="223.6" cy="279.4" r="0.95" fill="#1c9b63"/>
<circle cx="216.2" cy="275.3" r="0.95" fill="#1c9b63"/>
<circle cx="214.8" cy="280.1" r="0.95" fill="#1c9b63"/>
<circle cx="215.9" cy="291.4" r="0.95" fill="#1c9b63"/>
<circle cx="212.2" cy="287.4" r="0.95" fill="#1c9b63"/>
<circle cx="229.7" cy="285.8" r="0.95" fill="#1c9b63"/>
<circle cx="220.8" cy="289.4" r="0.95" fill="#1c9b63"/>
<circle cx="221.0" cy="282.4" r="0.95" fill="#1c9b63"/>
<circle cx="220.8" cy="276.9" r="0.95" fill="#1c9b63"/>
<circle cx="218.3" cy="283.9" r="0.95" fill="#1c9b63"/>
<circle cx="226.2" cy="282.3" r="0.95" fill="#1c9b63"/>
<circle cx="214.7" cy="277.6" r="0.95" fill="#1c9b63"/>
<circle cx="221.7" cy="292.7" r="0.95" fill="#1c9b63"/>
<circle cx="214.6" cy="289.7" r="0.95" fill="#1c9b63"/>
<circle cx="222.6" cy="284.4" r="0.95" fill="#1c9b63"/>
<circle cx="227.2" cy="286.0" r="0.95" fill="#1c9b63"/>
<circle cx="215.2" cy="276.7" r="0.95" fill="#1c9b63"/>
<circle cx="215.0" cy="292.5" r="0.95" fill="#1c9b63"/>
<circle cx="217.9" cy="284.8" r="0.95" fill="#1c9b63"/>
<circle cx="217.2" cy="284.9" r="0.95" fill="#1c9b63"/>
<circle cx="205.1" cy="289.5" r="0.95" fill="#1c9b63"/>
<circle cx="218.7" cy="281.7" r="0.95" fill="#1c9b63"/>
<circle cx="220.3" cy="288.4" r="0.95" fill="#1c9b63"/>
<circle cx="231.0" cy="279.7" r="0.95" fill="#1c9b63"/>
<circle cx="221.6" cy="284.5" r="0.95" fill="#1c9b63"/>
<circle cx="220.8" cy="292.7" r="0.95" fill="#1c9b63"/>
<circle cx="213.4" cy="285.1" r="0.95" fill="#1c9b63"/>
<circle cx="210.6" cy="282.5" r="0.95" fill="#1c9b63"/>
<circle cx="216.6" cy="281.6" r="0.95" fill="#1c9b63"/>
<circle cx="219.1" cy="292.8" r="0.95" fill="#1c9b63"/>
<circle cx="215.0" cy="289.8" r="0.95" fill="#1c9b63"/>
<circle cx="225.1" cy="276.8" r="0.95" fill="#1c9b63"/>
<circle cx="217.6" cy="285.8" r="0.95" fill="#1c9b63"/>
<circle cx="214.5" cy="276.5" r="0.95" fill="#1c9b63"/>
<circle cx="219.8" cy="291.5" r="0.95" fill="#1c9b63"/>
<circle cx="212.0" cy="283.0" r="0.95" fill="#1c9b63"/>
<circle cx="227.9" cy="286.1" r="0.95" fill="#1c9b63"/>
<circle cx="214.1" cy="293.1" r="0.95" fill="#1c9b63"/>
<circle cx="215.7" cy="303.3" r="0.95" fill="#1c9b63"/>
<circle cx="223.0" cy="291.0" r="0.95" fill="#1c9b63"/>
<circle cx="209.3" cy="308.1" r="0.95" fill="#1c9b63"/>
<circle cx="220.2" cy="285.4" r="0.95" fill="#1c9b63"/>
<circle cx="225.6" cy="279.7" r="0.95" fill="#1c9b63"/>
<circle cx="216.4" cy="299.4" r="0.95" fill="#1c9b63"/>
<circle cx="219.5" cy="291.1" r="0.95" fill="#1c9b63"/>
<circle cx="218.9" cy="298.4" r="0.95" fill="#1c9b63"/>
<circle cx="216.9" cy="288.6" r="0.95" fill="#1c9b63"/>
<circle cx="212.0" cy="299.6" r="0.95" fill="#1c9b63"/>
<circle cx="207.3" cy="286.4" r="0.95" fill="#1c9b63"/>
<circle cx="224.5" cy="287.2" r="0.95" fill="#1c9b63"/>
<circle cx="205.5" cy="287.3" r="0.95" fill="#1c9b63"/>
<circle cx="210.0" cy="285.2" r="0.95" fill="#1c9b63"/>
<circle cx="227.1" cy="284.4" r="0.95" fill="#1c9b63"/>
<circle cx="221.7" cy="298.2" r="0.95" fill="#1c9b63"/>
<circle cx="211.1" cy="305.8" r="0.95" fill="#1c9b63"/>
<circle cx="210.6" cy="304.3" r="0.95" fill="#1c9b63"/>
<circle cx="224.2" cy="309.3" r="0.95" fill="#1c9b63"/>
<circle cx="224.0" cy="305.8" r="0.95" fill="#1c9b63"/>
<circle cx="210.4" cy="309.8" r="0.95" fill="#1c9b63"/>
<circle cx="215.9" cy="305.7" r="0.95" fill="#1c9b63"/>
<circle cx="220.9" cy="300.9" r="0.95" fill="#1c9b63"/>
<circle cx="213.6" cy="306.4" r="0.95" fill="#1c9b63"/>
<circle cx="211.4" cy="297.8" r="0.95" fill="#1c9b63"/>
<circle cx="211.0" cy="297.2" r="0.95" fill="#1c9b63"/>
<circle cx="217.4" cy="304.4" r="0.95" fill="#1c9b63"/>
<circle cx="219.2" cy="295.8" r="0.95" fill="#1c9b63"/>
<circle cx="219.5" cy="299.5" r="0.95" fill="#1c9b63"/>
<circle cx="219.3" cy="296.0" r="0.95" fill="#1c9b63"/>
<circle cx="222.2" cy="303.0" r="0.95" fill="#1c9b63"/>
<circle cx="222.5" cy="310.7" r="0.95" fill="#1c9b63"/>
<circle cx="210.3" cy="308.4" r="0.95" fill="#1c9b63"/>
<circle cx="212.2" cy="298.8" r="0.95" fill="#1c9b63"/>
<circle cx="212.3" cy="297.3" r="0.95" fill="#1c9b63"/>
<circle cx="217.2" cy="308.8" r="0.95" fill="#1c9b63"/>
<circle cx="220.9" cy="302.5" r="0.95" fill="#1c9b63"/>
<circle cx="218.5" cy="303.2" r="0.95" fill="#1c9b63"/>
<circle cx="216.4" cy="298.0" r="0.95" fill="#1c9b63"/>
<circle cx="210.0" cy="301.6" r="0.95" fill="#1c9b63"/>
<circle cx="211.6" cy="309.6" r="0.95" fill="#1c9b63"/>
<circle cx="222.9" cy="298.3" r="0.95" fill="#1c9b63"/>
<circle cx="219.4" cy="301.2" r="0.95" fill="#1c9b63"/>
<circle cx="216.0" cy="304.3" r="0.95" fill="#1c9b63"/>
<circle cx="212.2" cy="297.8" r="0.95" fill="#1c9b63"/>
<circle cx="210.3" cy="300.6" r="0.95" fill="#1c9b63"/>
<circle cx="210.0" cy="306.4" r="0.95" fill="#1c9b63"/>
<circle cx="221.6" cy="297.1" r="0.95" fill="#1c9b63"/>
<circle cx="218.4" cy="296.5" r="0.95" fill="#1c9b63"/>
<circle cx="223.9" cy="305.6" r="0.95" fill="#1c9b63"/>
<circle cx="217.7" cy="300.2" r="0.95" fill="#1c9b63"/>
<circle cx="211.9" cy="296.1" r="0.95" fill="#1c9b63"/>
<circle cx="214.8" cy="303.1" r="0.95" fill="#1c9b63"/>
<circle cx="215.7" cy="304.6" r="0.95" fill="#1c9b63"/>
<circle cx="215.2" cy="309.6" r="0.95" fill="#1c9b63"/>
<circle cx="215.5" cy="304.5" r="0.95" fill="#1c9b63"/>
<circle cx="214.7" cy="310.6" r="0.95" fill="#1c9b63"/>
<circle cx="223.5" cy="309.7" r="0.95" fill="#1c9b63"/>
<circle cx="222.5" cy="298.7" r="0.95" fill="#1c9b63"/>
<circle cx="212.3" cy="301.1" r="0.95" fill="#1c9b63"/>
<circle cx="217.1" cy="296.4" r="0.95" fill="#1c9b63"/>
<circle cx="222.5" cy="306.9" r="0.95" fill="#1c9b63"/>
<circle cx="221.9" cy="304.4" r="0.95" fill="#1c9b63"/>
<circle cx="214.9" cy="308.4" r="0.95" fill="#1c9b63"/>
<circle cx="216.5" cy="308.0" r="0.95" fill="#1c9b63"/>
<circle cx="193.8" cy="310.6" r="0.95" fill="#1c9b63"/>
<circle cx="209.1" cy="301.0" r="0.95" fill="#1c9b63"/>
<circle cx="192.7" cy="297.7" r="0.95" fill="#1c9b63"/>
<circle cx="204.9" cy="294.2" r="0.95" fill="#1c9b63"/>
<circle cx="195.3" cy="308.5" r="0.95" fill="#1c9b63"/>
<circle cx="200.4" cy="297.5" r="0.95" fill="#1c9b63"/>
<circle cx="212.3" cy="311.6" r="0.95" fill="#1c9b63"/>
<circle cx="191.1" cy="290.1" r="0.95" fill="#1c9b63"/>
<circle cx="209.3" cy="310.9" r="0.95" fill="#1c9b63"/>
<circle cx="200.1" cy="290.6" r="0.95" fill="#1c9b63"/>
<circle cx="193.3" cy="308.8" r="0.95" fill="#1c9b63"/>
<circle cx="208.3" cy="308.0" r="0.95" fill="#1c9b63"/>
<circle cx="205.8" cy="301.7" r="0.95" fill="#1c9b63"/>
<circle cx="208.2" cy="302.8" r="0.95" fill="#1c9b63"/>
<circle cx="212.9" cy="297.9" r="0.95" fill="#1c9b63"/>
<circle cx="210.3" cy="311.2" r="0.95" fill="#1c9b63"/>
<circle cx="209.6" cy="305.6" r="0.95" fill="#1c9b63"/>
<circle cx="198.1" cy="305.5" r="0.95" fill="#1c9b63"/>
<circle cx="209.6" cy="302.9" r="0.95" fill="#1c9b63"/>
<circle cx="209.0" cy="296.8" r="0.95" fill="#1c9b63"/>
<circle cx="209.1" cy="294.7" r="0.95" fill="#1c9b63"/>
<circle cx="203.8" cy="308.5" r="0.95" fill="#1c9b63"/>
<circle cx="213.1" cy="293.1" r="0.95" fill="#1c9b63"/>
<circle cx="206.2" cy="297.3" r="0.95" fill="#1c9b63"/>
<circle cx="197.2" cy="303.0" r="0.95" fill="#1c9b63"/>
<circle cx="210.6" cy="306.5" r="0.95" fill="#1c9b63"/>
<circle cx="209.0" cy="306.5" r="0.95" fill="#1c9b63"/>
<circle cx="212.4" cy="301.3" r="0.95" fill="#1c9b63"/>
<circle cx="201.5" cy="297.4" r="0.95" fill="#1c9b63"/>
<circle cx="212.6" cy="289.2" r="0.95" fill="#1c9b63"/>
<circle cx="209.0" cy="299.1" r="0.95" fill="#1c9b63"/>
<circle cx="206.1" cy="309.4" r="0.95" fill="#1c9b63"/>
<circle cx="206.8" cy="302.5" r="0.95" fill="#1c9b63"/>
<circle cx="209.1" cy="300.3" r="0.95" fill="#1c9b63"/>
<circle cx="206.5" cy="300.1" r="0.95" fill="#1c9b63"/>
<circle cx="204.3" cy="307.9" r="0.95" fill="#1c9b63"/>
<circle cx="201.3" cy="299.5" r="0.95" fill="#1c9b63"/>
<circle cx="197.6" cy="306.3" r="0.95" fill="#1c9b63"/>
<circle cx="200.2" cy="289.2" r="0.95" fill="#1c9b63"/>
<circle cx="197.6" cy="291.7" r="0.95" fill="#1c9b63"/>
<circle cx="194.9" cy="300.8" r="0.95" fill="#1c9b63"/>
<circle cx="209.4" cy="297.0" r="0.95" fill="#1c9b63"/>
<circle cx="212.3" cy="293.1" r="0.95" fill="#1c9b63"/>
<circle cx="209.6" cy="293.6" r="0.95" fill="#1c9b63"/>
<circle cx="196.8" cy="299.6" r="0.95" fill="#1c9b63"/>
<circle cx="197.3" cy="301.9" r="0.95" fill="#1c9b63"/>
<circle cx="193.2" cy="291.7" r="0.95" fill="#1c9b63"/>
<circle cx="207.0" cy="310.7" r="0.95" fill="#1c9b63"/>
<circle cx="189.3" cy="296.7" r="0.95" fill="#1c9b63"/>
<circle cx="203.1" cy="290.0" r="0.95" fill="#1c9b63"/>
<circle cx="196.5" cy="288.7" r="0.95" fill="#1c9b63"/>
<circle cx="202.5" cy="305.4" r="0.95" fill="#1c9b63"/>
<circle cx="198.0" cy="293.0" r="0.95" fill="#1c9b63"/>
<circle cx="207.7" cy="308.4" r="0.95" fill="#1c9b63"/>
<circle cx="205.0" cy="290.8" r="0.95" fill="#1c9b63"/>
<circle cx="206.6" cy="303.8" r="0.95" fill="#1c9b63"/>
<circle cx="204.1" cy="291.4" r="0.95" fill="#1c9b63"/>
<circle cx="203.5" cy="293.8" r="0.95" fill="#1c9b63"/>
<circle cx="197.7" cy="301.1" r="0.95" fill="#1c9b63"/>
<circle cx="212.5" cy="294.7" r="0.95" fill="#1c9b63"/>
<circle cx="211.3" cy="289.1" r="0.95" fill="#1c9b63"/>
<circle cx="210.0" cy="296.7" r="0.95" fill="#1c9b63"/>
<circle cx="201.1" cy="295.7" r="0.95" fill="#1c9b63"/>
<circle cx="204.8" cy="311.8" r="0.95" fill="#1c9b63"/>
<circle cx="209.3" cy="292.9" r="0.95" fill="#1c9b63"/>
<circle cx="208.4" cy="302.2" r="0.95" fill="#1c9b63"/>
<circle cx="201.3" cy="305.6" r="0.95" fill="#1c9b63"/>
<circle cx="210.8" cy="295.3" r="0.95" fill="#1c9b63"/>
<circle cx="207.1" cy="306.1" r="0.95" fill="#1c9b63"/>
<circle cx="209.1" cy="307.4" r="0.95" fill="#1c9b63"/>
<circle cx="202.4" cy="297.0" r="0.95" fill="#1c9b63"/>
<circle cx="197.2" cy="293.4" r="0.95" fill="#1c9b63"/>
<circle cx="211.6" cy="306.9" r="0.95" fill="#1c9b63"/>
<circle cx="207.8" cy="292.2" r="0.95" fill="#1c9b63"/>
<circle cx="197.1" cy="295.1" r="0.95" fill="#1c9b63"/>
<circle cx="209.2" cy="291.6" r="0.95" fill="#1c9b63"/>
<circle cx="204.6" cy="310.7" r="0.95" fill="#1c9b63"/>
<circle cx="208.0" cy="302.1" r="0.95" fill="#1c9b63"/>
<circle cx="206.6" cy="295.3" r="0.95" fill="#1c9b63"/>
<circle cx="200.3" cy="291.3" r="0.95" fill="#1c9b63"/>
<circle cx="195.3" cy="297.4" r="0.95" fill="#1c9b63"/>
<circle cx="197.7" cy="311.4" r="0.95" fill="#1c9b63"/>
<circle cx="202.9" cy="307.3" r="0.95" fill="#1c9b63"/>
<circle cx="213.1" cy="308.7" r="0.95" fill="#1c9b63"/>
<circle cx="197.8" cy="310.2" r="0.95" fill="#1c9b63"/>
<circle cx="203.0" cy="289.7" r="0.95" fill="#1c9b63"/>
<circle cx="210.3" cy="294.0" r="0.95" fill="#1c9b63"/>
<circle cx="193.8" cy="294.1" r="0.95" fill="#1c9b63"/>
<circle cx="196.5" cy="298.9" r="0.95" fill="#1c9b63"/>
<circle cx="194.0" cy="291.1" r="0.95" fill="#1c9b63"/>
<line x1="173.30" y1="289.20" x2="236.30" y2="281.00" stroke="#1c9b63" stroke-width="1.1"/>
<line x1="173.30" y1="251.70" x2="173.30" y2="332.30" stroke="#555" stroke-width="0.9"/>
<line x1="173.30" y1="332.30" x2="249.80" y2="332.30" stroke="#555" stroke-width="0.9"/>
<line x1="171.00" y1="251.70" x2="173.30" y2="251.70" stroke="#555" stroke-width="0.8"/>
<text x="169.00" y="253.82" font-size="5.9" text-anchor="end" fill="#1c1c1c">15</text>
<line x1="171.00" y1="271.90" x2="173.30" y2="271.90" stroke="#555" stroke-width="0.8"/>
<text x="169.00" y="274.02" font-size="5.9" text-anchor="end" fill="#1c1c1c">10</text>
<line x1="171.00" y1="291.90" x2="173.30" y2="291.90" stroke="#555" stroke-width="0.8"/>
<text x="169.00" y="294.02" font-size="5.9" text-anchor="end" fill="#1c1c1c">5</text>
<line x1="171.00" y1="311.90" x2="173.30" y2="311.90" stroke="#555" stroke-width="0.8"/>
<text x="169.00" y="314.02" font-size="5.9" text-anchor="end" fill="#1c1c1c">0</text>
<line x1="171.00" y1="332.30" x2="173.30" y2="332.30" stroke="#555" stroke-width="0.8"/>
<text x="169.00" y="334.42" font-size="5.9" text-anchor="end" fill="#1c1c1c">-5</text>
<line x1="199.20" y1="332.30" x2="199.20" y2="334.60" stroke="#555" stroke-width="0.8"/>
<text x="199.20" y="341.26" font-size="6.0" text-anchor="middle" fill="#1c1c1c">3</text>
<line x1="237.70" y1="332.30" x2="237.70" y2="334.60" stroke="#555" stroke-width="0.8"/>
<text x="237.70" y="341.26" font-size="6.0" text-anchor="middle" fill="#1c1c1c">4</text>
<text x="187.50" y="260.19" font-size="6.62" textLength="79.20" lengthAdjust="spacingAndGlyphs" fill="#111"><tspan font-style="italic">p</tspan>-value &lt; 0.0001, ρ = 0.3033</text>
<text x="211.75" y="350.79" font-size="6.34" text-anchor="middle" textLength="76.10" lengthAdjust="spacingAndGlyphs" fill="#111"><tspan font-style="italic">Candidatus nitrosopelagicus</tspan>,</text>
<text x="211.75" y="357.21" font-size="6.14" text-anchor="middle" textLength="58.70" lengthAdjust="spacingAndGlyphs" fill="#111">Microbiome Signatures</text>
<text x="211.75" y="363.82" font-size="6.43" text-anchor="middle" textLength="66.50" lengthAdjust="spacingAndGlyphs" fill="#111">(log RNA Seq CPM) log2</text>
<text transform="translate(151.20 0) rotate(-90) translate(-584.00 0)" x="292.00" y="0" font-size="6.1" text-anchor="middle" textLength="84.70" lengthAdjust="spacingAndGlyphs" class="nk" fill="#111">SUCNR1 mRNA Expression RSEM</text>
<text transform="translate(157.52 0) rotate(-90) translate(-584.00 0)" x="292.00" y="0" font-size="5.9" text-anchor="middle" textLength="135.60" lengthAdjust="spacingAndGlyphs" class="nk" fill="#111">(Batch normalized from Illumina HiSeq_RNASeq(V2) log2</text>
<circle cx="214.0" cy="474.4" r="0.95" fill="#1c9b63"/>
<circle cx="219.8" cy="473.1" r="0.95" fill="#1c9b63"/>
<circle cx="213.5" cy="469.7" r="0.95" fill="#1c9b63"/>
<circle cx="220.3" cy="482.4" r="0.95" fill="#1c9b63"/>
<circle cx="213.4" cy="483.1" r="0.95" fill="#1c9b63"/>
<circle cx="216.4" cy="469.2" r="0.95" fill="#1c9b63"/>
<circle cx="224.1" cy="478.9" r="0.95" fill="#1c9b63"/>
<circle cx="217.2" cy="465.1" r="0.95" fill="#1c9b63"/>
<circle cx="224.1" cy="480.3" r="0.95" fill="#1c9b63"/>
<circle cx="219.1" cy="478.2" r="0.95" fill="#1c9b63"/>
<circle cx="220.5" cy="470.9" r="0.95" fill="#1c9b63"/>
<circle cx="218.5" cy="473.8" r="0.95" fill="#1c9b63"/>
<circle cx="222.5" cy="471.5" r="0.95" fill="#1c9b63"/>
<circle cx="216.8" cy="477.1" r="0.95" fill="#1c9b63"/>
<circle cx="229.2" cy="476.9" r="0.95" fill="#1c9b63"/>
<circle cx="220.0" cy="473.4" r="0.95" fill="#1c9b63"/>
<circle cx="217.1" cy="478.0" r="0.95" fill="#1c9b63"/>
<circle cx="227.8" cy="468.6" r="0.95" fill="#1c9b63"/>
<circle cx="214.6" cy="475.5" r="0.95" fill="#1c9b63"/>
<circle cx="213.7" cy="484.4" r="0.95" fill="#1c9b63"/>
<circle cx="219.8" cy="467.4" r="0.95" fill="#1c9b63"/>
<circle cx="219.4" cy="467.7" r="0.95" fill="#1c9b63"/>
<circle cx="214.8" cy="475.1" r="0.95" fill="#1c9b63"/>
<circle cx="220.2" cy="475.4" r="0.95" fill="#1c9b63"/>
<circle cx="224.6" cy="472.7" r="0.95" fill="#1c9b63"/>
<circle cx="217.2" cy="483.4" r="0.95" fill="#1c9b63"/>
<circle cx="217.2" cy="476.0" r="0.95" fill="#1c9b63"/>
<circle cx="217.2" cy="484.3" r="0.95" fill="#1c9b63"/>
<circle cx="211.4" cy="471.3" r="0.95" fill="#1c9b63"/>
<circle cx="221.0" cy="479.1" r="0.95" fill="#1c9b63"/>
<circle cx="221.9" cy="473.1" r="0.95" fill="#1c9b63"/>
<circle cx="218.8" cy="478.2" r="0.95" fill="#1c9b63"/>
<circle cx="225.3" cy="471.1" r="0.95" fill="#1c9b63"/>
<circle cx="226.6" cy="470.2" r="0.95" fill="#1c9b63"/>
<circle cx="221.1" cy="478.3" r="0.95" fill="#1c9b63"/>
<circle cx="218.2" cy="479.2" r="0.95" fill="#1c9b63"/>
<circle cx="220.1" cy="474.7" r="0.95" fill="#1c9b63"/>
<circle cx="225.4" cy="468.3" r="0.95" fill="#1c9b63"/>
<circle cx="219.7" cy="473.7" r="0.95" fill="#1c9b63"/>
<circle cx="214.2" cy="479.6" r="0.95" fill="#1c9b63"/>
<circle cx="214.6" cy="475.1" r="0.95" fill="#1c9b63"/>
<circle cx="217.3" cy="480.2" r="0.95" fill="#1c9b63"/>
<circle cx="219.7" cy="486.3" r="0.95" fill="#1c9b63"/>
<circle cx="219.4" cy="473.3" r="0.95" fill="#1c9b63"/>
<circle cx="225.7" cy="482.4" r="0.95" fill="#1c9b63"/>
<circle cx="217.7" cy="487.3" r="0.95" fill="#1c9b63"/>
<circle cx="226.1" cy="477.0" r="0.95" fill="#1c9b63"/>
<circle cx="220.8" cy="484.4" r="0.95" fill="#1c9b63"/>
<circle cx="218.5" cy="479.4" r="0.95" fill="#1c9b63"/>
<circle cx="213.9" cy="482.6" r="0.95" fill="#1c9b63"/>
<circle cx="215.1" cy="480.9" r="0.95" fill="#1c9b63"/>
<circle cx="211.3" cy="468.8" r="0.95" fill="#1c9b63"/>
<circle cx="219.4" cy="475.5" r="0.95" fill="#1c9b63"/>
<circle cx="220.0" cy="477.7" r="0.95" fill="#1c9b63"/>
<circle cx="218.9" cy="473.5" r="0.95" fill="#1c9b63"/>
<circle cx="217.9" cy="469.5" r="0.95" fill="#1c9b63"/>
<circle cx="218.2" cy="470.2" r="0.95" fill="#1c9b63"/>
<circle cx="214.9" cy="475.0" r="0.95" fill="#1c9b63"/>
<circle cx="222.5" cy="469.3" r="0.95" fill="#1c9b63"/>
<circle cx="225.6" cy="481.9" r="0.95" fill="#1c9b63"/>
<circle cx="216.2" cy="467.9" r="0.95" fill="#1c9b63"/>
<circle cx="217.5" cy="484.9" r="0.95" fill="#1c9b63"/>
<circle cx="224.5" cy="473.2" r="0.95" fill="#1c9b63"/>
<circle cx="213.6" cy="479.8" r="0.95" fill="#1c9b63"/>
<circle cx="225.3" cy="479.0" r="0.95" fill="#1c9b63"/>
<circle cx="216.6" cy="478.8" r="0.95" fill="#1c9b63"/>
<circle cx="225.4" cy="485.6" r="0.95" fill="#1c9b63"/>
<circle cx="220.7" cy="476.3" r="0.95" fill="#1c9b63"/>
<circle cx="221.1" cy="473.0" r="0.95" fill="#1c9b63"/>
<circle cx="219.0" cy="473.8" r="0.95" fill="#1c9b63"/>
<circle cx="220.9" cy="469.2" r="0.95" fill="#1c9b63"/>
<circle cx="208.4" cy="477.6" r="0.95" fill="#1c9b63"/>
<circle cx="219.5" cy="484.0" r="0.95" fill="#1c9b63"/>
<circle cx="225.6" cy="473.7" r="0.95" fill="#1c9b63"/>
<circle cx="211.4" cy="477.8" r="0.95" fill="#1c9b63"/>
<circle cx="222.7" cy="475.7" r="0.95" fill="#1c9b63"/>
<circle cx="216.0" cy="472.9" r="0.95" fill="#1c9b63"/>
<circle cx="221.0" cy="481.1" r="0.95" fill="#1c9b63"/>
<circle cx="218.6" cy="469.0" r="0.95" fill="#1c9b63"/>
<circle cx="225.2" cy="481.2" r="0.95" fill="#1c9b63"/>
<circle cx="216.8" cy="468.4" r="0.95" fill="#1c9b63"/>
<circle cx="222.5" cy="475.7" r="0.95" fill="#1c9b63"/>
<circle cx="218.3" cy="474.9" r="0.95" fill="#1c9b63"/>
<circle cx="224.0" cy="488.6" r="0.95" fill="#1c9b63"/>
<circle cx="223.8" cy="480.9" r="0.95" fill="#1c9b63"/>
<circle cx="213.7" cy="479.5" r="0.95" fill="#1c9b63"/>
<circle cx="214.7" cy="481.4" r="0.95" fill="#1c9b63"/>
<circle cx="220.0" cy="478.2" r="0.95" fill="#1c9b63"/>
<circle cx="224.4" cy="484.2" r="0.95" fill="#1c9b63"/>
<circle cx="223.5" cy="482.4" r="0.95" fill="#1c9b63"/>
<circle cx="220.6" cy="477.6" r="0.95" fill="#1c9b63"/>
<circle cx="224.2" cy="482.7" r="0.95" fill="#1c9b63"/>
<circle cx="220.2" cy="467.3" r="0.95" fill="#1c9b63"/>
<circle cx="225.8" cy="477.2" r="0.95" fill="#1c9b63"/>
<circle cx="223.5" cy="469.8" r="0.95" fill="#1c9b63"/>
<circle cx="222.4" cy="469.1" r="0.95" fill="#1c9b63"/>
<circle cx="224.7" cy="487.9" r="0.95" fill="#1c9b63"/>
<circle cx="218.3" cy="477.2" r="0.95" fill="#1c9b63"/>
<circle cx="220.3" cy="479.9" r="0.95" fill="#1c9b63"/>
<circle cx="218.6" cy="476.1" r="0.95" fill="#1c9b63"/>
<circle cx="229.5" cy="476.9" r="0.95" fill="#1c9b63"/>
<circle cx="222.8" cy="476.6" r="0.95" fill="#1c9b63"/>
<circle cx="215.7" cy="479.2" r="0.95" fill="#1c9b63"/>
<circle cx="214.8" cy="468.0" r="0.95" fill="#1c9b63"/>
<circle cx="218.9" cy="483.6" r="0.95" fill="#1c9b63"/>
<circle cx="220.0" cy="464.2" r="0.95" fill="#1c9b63"/>
<circle cx="221.3" cy="475.8" r="0.95" fill="#1c9b63"/>
<circle cx="221.4" cy="477.8" r="0.95" fill="#1c9b63"/>
<circle cx="215.1" cy="468.4" r="0.95" fill="#1c9b63"/>
<circle cx="204.3" cy="478.6" r="0.95" fill="#1c9b63"/>
<circle cx="215.7" cy="476.8" r="0.95" fill="#1c9b63"/>
<circle cx="216.5" cy="469.4" r="0.95" fill="#1c9b63"/>
<circle cx="227.4" cy="474.8" r="0.95" fill="#1c9b63"/>
<circle cx="214.0" cy="479.8" r="0.95" fill="#1c9b63"/>
<circle cx="218.3" cy="480.7" r="0.95" fill="#1c9b63"/>
<circle cx="214.1" cy="466.0" r="0.95" fill="#1c9b63"/>
<circle cx="224.4" cy="481.1" r="0.95" fill="#1c9b63"/>
<circle cx="215.8" cy="475.4" r="0.95" fill="#1c9b63"/>
<circle cx="216.8" cy="472.5" r="0.95" fill="#1c9b63"/>
<circle cx="223.7" cy="475.5" r="0.95" fill="#1c9b63"/>
<circle cx="215.5" cy="477.5" r="0.95" fill="#1c9b63"/>
<circle cx="212.1" cy="477.8" r="0.95" fill="#1c9b63"/>
<circle cx="228.4" cy="478.8" r="0.95" fill="#1c9b63"/>
<circle cx="223.1" cy="469.1" r="0.95" fill="#1c9b63"/>
<circle cx="227.5" cy="483.1" r="0.95" fill="#1c9b63"/>
<circle cx="218.9" cy="478.9" r="0.95" fill="#1c9b63"/>
<circle cx="226.3" cy="469.7" r="0.95" fill="#1c9b63"/>
<circle cx="214.8" cy="478.9" r="0.95" fill="#1c9b63"/>
<circle cx="221.6" cy="464.4" r="0.95" fill="#1c9b63"/>
<circle cx="218.1" cy="469.0" r="0.95" fill="#1c9b63"/>
<circle cx="215.9" cy="482.6" r="0.95" fill="#1c9b63"/>
<circle cx="223.8" cy="480.1" r="0.95" fill="#1c9b63"/>
<circle cx="212.4" cy="468.9" r="0.95" fill="#1c9b63"/>
<circle cx="222.7" cy="482.9" r="0.95" fill="#1c9b63"/>
<circle cx="223.9" cy="473.4" r="0.95" fill="#1c9b63"/>
<circle cx="222.5" cy="481.7" r="0.95" fill="#1c9b63"/>
<circle cx="217.8" cy="487.7" r="0.95" fill="#1c9b63"/>
<circle cx="209.7" cy="471.4" r="0.95" fill="#1c9b63"/>
<circle cx="217.6" cy="474.7" r="0.95" fill="#1c9b63"/>
<circle cx="218.7" cy="478.8" r="0.95" fill="#1c9b63"/>
<circle cx="217.4" cy="473.1" r="0.95" fill="#1c9b63"/>
<circle cx="218.6" cy="484.4" r="0.95" fill="#1c9b63"/>
<circle cx="225.1" cy="468.1" r="0.95" fill="#1c9b63"/>
<circle cx="223.4" cy="467.6" r="0.95" fill="#1c9b63"/>
<circle cx="220.7" cy="475.7" r="0.95" fill="#1c9b63"/>
<circle cx="225.2" cy="472.9" r="0.95" fill="#1c9b63"/>
<circle cx="214.2" cy="476.8" r="0.95" fill="#1c9b63"/>
<circle cx="220.2" cy="463.7" r="0.95" fill="#1c9b63"/>
<circle cx="220.0" cy="480.1" r="0.95" fill="#1c9b63"/>
<circle cx="214.7" cy="476.8" r="0.95" fill="#1c9b63"/>
<circle cx="216.7" cy="476.5" r="0.95" fill="#1c9b63"/>
<circle cx="215.0" cy="484.9" r="0.95" fill="#1c9b63"/>
<circle cx="218.4" cy="474.0" r="0.95" fill="#1c9b63"/>
<circle cx="220.3" cy="484.4" r="0.95" fill="#1c9b63"/>
<circle cx="218.3" cy="471.5" r="0.95" fill="#1c9b63"/>
<circle cx="221.1" cy="479.5" r="0.95" fill="#1c9b63"/>
<circle cx="217.5" cy="478.5" r="0.95" fill="#1c9b63"/>
<circle cx="220.7" cy="478.0" r="0.95" fill="#1c9b63"/>
<circle cx="221.9" cy="475.0" r="0.95" fill="#1c9b63"/>
<circle cx="220.4" cy="471.6" r="0.95" fill="#1c9b63"/>
<circle cx="223.7" cy="478.2" r="0.95" fill="#1c9b63"/>
<circle cx="218.3" cy="470.9" r="0.95" fill="#1c9b63"/>
<circle cx="218.3" cy="482.8" r="0.95" fill="#1c9b63"/>
<circle cx="217.0" cy="481.8" r="0.95" fill="#1c9b63"/>
<circle cx="219.6" cy="475.4" r="0.95" fill="#1c9b63"/>
<circle cx="226.0" cy="473.6" r="0.95" fill="#1c9b63"/>
<circle cx="222.6" cy="467.7" r="0.95" fill="#1c9b63"/>
<circle cx="223.3" cy="480.8" r="0.95" fill="#1c9b63"/>
<circle cx="219.4" cy="479.6" r="0.95" fill="#1c9b63"/>
<circle cx="218.8" cy="469.4" r="0.95" fill="#1c9b63"/>
<circle cx="233.2" cy="471.5" r="0.95" fill="#1c9b63"/>
<circle cx="220.9" cy="480.0" r="0.95" fill="#1c9b63"/>
<circle cx="221.0" cy="467.3" r="0.95" fill="#1c9b63"/>
<circle cx="216.0" cy="473.6" r="0.95" fill="#1c9b63"/>
<circle cx="223.7" cy="470.6" r="0.95" fill="#1c9b63"/>
<circle cx="231.0" cy="475.8" r="0.95" fill="#1c9b63"/>
<circle cx="221.0" cy="481.6" r="0.95" fill="#1c9b63"/>
<circle cx="217.6" cy="481.0" r="0.95" fill="#1c9b63"/>
<circle cx="220.2" cy="473.5" r="0.95" fill="#1c9b63"/>
<circle cx="223.0" cy="471.6" r="0.95" fill="#1c9b63"/>
<circle cx="217.4" cy="481.5" r="0.95" fill="#1c9b63"/>
<circle cx="215.0" cy="477.5" r="0.95" fill="#1c9b63"/>
<circle cx="217.7" cy="482.5" r="0.95" fill="#1c9b63"/>
<circle cx="221.7" cy="482.0" r="0.95" fill="#1c9b63"/>
<circle cx="219.2" cy="479.2" r="0.95" fill="#1c9b63"/>
<circle cx="221.4" cy="473.2" r="0.95" fill="#1c9b63"/>
<circle cx="215.5" cy="473.6" r="0.95" fill="#1c9b63"/>
<circle cx="229.2" cy="473.4" r="0.95" fill="#1c9b63"/>
<circle cx="214.7" cy="463.8" r="0.95" fill="#1c9b63"/>
<circle cx="215.3" cy="471.9" r="0.95" fill="#1c9b63"/>
<circle cx="214.8" cy="471.8" r="0.95" fill="#1c9b63"/>
<circle cx="219.1" cy="473.0" r="0.95" fill="#1c9b63"/>
<circle cx="220.9" cy="484.1" r="0.95" fill="#1c9b63"/>
<circle cx="212.2" cy="480.5" r="0.95" fill="#1c9b63"/>
<circle cx="223.9" cy="474.1" r="0.95" fill="#1c9b63"/>
<circle cx="225.5" cy="469.1" r="0.95" fill="#1c9b63"/>
<circle cx="227.9" cy="481.1" r="0.95" fill="#1c9b63"/>
<circle cx="214.3" cy="482.0" r="0.95" fill="#1c9b63"/>
<circle cx="226.2" cy="478.1" r="0.95" fill="#1c9b63"/>
<circle cx="221.3" cy="465.2" r="0.95" fill="#1c9b63"/>
<circle cx="218.0" cy="479.3" r="0.95" fill="#1c9b63"/>
<circle cx="215.4" cy="470.5" r="0.95" fill="#1c9b63"/>
<circle cx="224.7" cy="475.3" r="0.95" fill="#1c9b63"/>
<circle cx="218.1" cy="476.4" r="0.95" fill="#1c9b63"/>
<circle cx="221.7" cy="469.9" r="0.95" fill="#1c9b63"/>
<circle cx="215.2" cy="480.1" r="0.95" fill="#1c9b63"/>
<circle cx="224.1" cy="471.2" r="0.95" fill="#1c9b63"/>
<circle cx="220.0" cy="476.6" r="0.95" fill="#1c9b63"/>
<circle cx="224.6" cy="475.1" r="0.95" fill="#1c9b63"/>
<circle cx="211.7" cy="481.7" r="0.95" fill="#1c9b63"/>
<circle cx="223.2" cy="476.7" r="0.95" fill="#1c9b63"/>
<circle cx="221.8" cy="485.4" r="0.95" fill="#1c9b63"/>
<circle cx="225.2" cy="474.5" r="0.95" fill="#1c9b63"/>
<circle cx="218.9" cy="475.4" r="0.95" fill="#1c9b63"/>
<circle cx="218.3" cy="477.1" r="0.95" fill="#1c9b63"/>
<circle cx="209.0" cy="481.5" r="0.95" fill="#1c9b63"/>
<circle cx="224.9" cy="477.1" r="0.95" fill="#1c9b63"/>
<circle cx="215.6" cy="473.2" r="0.95" fill="#1c9b63"/>
<circle cx="226.9" cy="476.0" r="0.95" fill="#1c9b63"/>
<circle cx="223.7" cy="479.4" r="0.95" fill="#1c9b63"/>
<circle cx="211.3" cy="467.2" r="0.95" fill="#1c9b63"/>
<circle cx="216.3" cy="471.4" r="0.95" fill="#1c9b63"/>
<circle cx="224.8" cy="466.6" r="0.95" fill="#1c9b63"/>
<circle cx="217.3" cy="469.7" r="0.95" fill="#1c9b63"/>
<circle cx="215.4" cy="483.8" r="0.95" fill="#1c9b63"/>
<circle cx="212.2" cy="474.6" r="0.95" fill="#1c9b63"/>
<circle cx="212.9" cy="461.0" r="0.95" fill="#1c9b63"/>
<circle cx="225.0" cy="469.9" r="0.95" fill="#1c9b63"/>
<circle cx="221.6" cy="470.6" r="0.95" fill="#1c9b63"/>
<circle cx="217.8" cy="481.6" r="0.95" fill="#1c9b63"/>
<circle cx="216.0" cy="472.3" r="0.95" fill="#1c9b63"/>
<circle cx="220.3" cy="473.5" r="0.95" fill="#1c9b63"/>
<circle cx="213.5" cy="471.2" r="0.95" fill="#1c9b63"/>
<circle cx="225.9" cy="473.5" r="0.95" fill="#1c9b63"/>
<circle cx="209.1" cy="478.8" r="0.95" fill="#1c9b63"/>
<circle cx="219.8" cy="469.7" r="0.95" fill="#1c9b63"/>
<circle cx="220.8" cy="471.3" r="0.95" fill="#1c9b63"/>
<circle cx="215.3" cy="479.6" r="0.95" fill="#1c9b63"/>
<circle cx="216.6" cy="468.2" r="0.95" fill="#1c9b63"/>
<circle cx="211.5" cy="478.1" r="0.95" fill="#1c9b63"/>
<circle cx="211.1" cy="466.7" r="0.95" fill="#1c9b63"/>
<circle cx="223.4" cy="480.3" r="0.95" fill="#1c9b63"/>
<circle cx="223.3" cy="471.8" r="0.95" fill="#1c9b63"/>
<circle cx="218.7" cy="474.0" r="0.95" fill="#1c9b63"/>
<circle cx="218.9" cy="476.9" r="0.95" fill="#1c9b63"/>
<circle cx="211.6" cy="481.0" r="0.95" fill="#1c9b63"/>
<circle cx="223.2" cy="474.9" r="0.95" fill="#1c9b63"/>
<circle cx="230.2" cy="468.6" r="0.95" fill="#1c9b63"/>
<circle cx="222.0" cy="486.8" r="0.95" fill="#1c9b63"/>
<circle cx="216.7" cy="474.9" r="0.95" fill="#1c9b63"/>
<circle cx="229.1" cy="473.3" r="0.95" fill="#1c9b63"/>
<circle cx="212.7" cy="471.1" r="0.95" fill="#1c9b63"/>
<circle cx="224.8" cy="468.8" r="0.95" fill="#1c9b63"/>
<circle cx="226.8" cy="480.8" r="0.95" fill="#1c9b63"/>
<circle cx="219.7" cy="473.0" r="0.95" fill="#1c9b63"/>
<circle cx="224.2" cy="479.2" r="0.95" fill="#1c9b63"/>
<circle cx="224.6" cy="471.0" r="0.95" fill="#1c9b63"/>
<circle cx="209.0" cy="472.2" r="0.95" fill="#1c9b63"/>
<circle cx="221.1" cy="479.2" r="0.95" fill="#1c9b63"/>
<circle cx="217.8" cy="473.1" r="0.95" fill="#1c9b63"/>
<circle cx="228.0" cy="472.8" r="0.95" fill="#1c9b63"/>
<circle cx="212.5" cy="478.2" r="0.95" fill="#1c9b63"/>
<circle cx="220.0" cy="489.6" r="0.95" fill="#1c9b63"/>
<circle cx="219.9" cy="479.8" r="0.95" fill="#1c9b63"/>
<circle cx="217.5" cy="482.7" r="0.95" fill="#1c9b63"/>
<circle cx="221.4" cy="482.1" r="0.95" fill="#1c9b63"/>
<circle cx="214.3" cy="475.6" r="0.95" fill="#1c9b63"/>
<circle cx="223.5" cy="479.3" r="0.95" fill="#1c9b63"/>
<circle cx="217.9" cy="471.8" r="0.95" fill="#1c9b63"/>
<circle cx="221.8" cy="475.6" r="0.95" fill="#1c9b63"/>
<circle cx="224.8" cy="471.4" r="0.95" fill="#1c9b63"/>
<circle cx="214.7" cy="482.2" r="0.95" fill="#1c9b63"/>
<circle cx="228.2" cy="480.5" r="0.95" fill="#1c9b63"/>
<circle cx="210.4" cy="478.3" r="0.95" fill="#1c9b63"/>
<circle cx="219.9" cy="471.5" r="0.95" fill="#1c9b63"/>
<circle cx="228.6" cy="476.5" r="0.95" fill="#1c9b63"/>
<circle cx="209.8" cy="480.0" r="0.95" fill="#1c9b63"/>
<circle cx="222.3" cy="468.1" r="0.95" fill="#1c9b63"/>
<circle cx="218.4" cy="481.1" r="0.95" fill="#1c9b63"/>
<circle cx="217.5" cy="484.3" r="0.95" fill="#1c9b63"/>
<circle cx="214.1" cy="463.3" r="0.95" fill="#1c9b63"/>
<circle cx="227.5" cy="479.6" r="0.95" fill="#1c9b63"/>
<circle cx="213.7" cy="471.4" r="0.95" fill="#1c9b63"/>
<circle cx="222.9" cy="473.3" r="0.95" fill="#1c9b63"/>
<circle cx="210.4" cy="476.6" r="0.95" fill="#1c9b63"/>
<circle cx="215.5" cy="469.9" r="0.95" fill="#1c9b63"/>
<circle cx="206.9" cy="471.6" r="0.95" fill="#1c9b63"/>
<circle cx="216.6" cy="470.9" r="0.95" fill="#1c9b63"/>
<circle cx="217.2" cy="469.4" r="0.95" fill="#1c9b63"/>
<circle cx="218.1" cy="479.7" r="0.95" fill="#1c9b63"/>
<circle cx="217.1" cy="468.0" r="0.95" fill="#1c9b63"/>
<circle cx="215.8" cy="474.3" r="0.95" fill="#1c9b63"/>
<circle cx="223.8" cy="482.1" r="0.95" fill="#1c9b63"/>
<circle cx="220.0" cy="477.4" r="0.95" fill="#1c9b63"/>
<circle cx="226.9" cy="479.4" r="0.95" fill="#1c9b63"/>
<circle cx="222.0" cy="482.5" r="0.95" fill="#1c9b63"/>
<circle cx="212.7" cy="472.7" r="0.95" fill="#1c9b63"/>
<circle cx="223.4" cy="472.1" r="0.95" fill="#1c9b63"/>
<circle cx="206.4" cy="467.1" r="0.95" fill="#1c9b63"/>
<circle cx="221.8" cy="473.8" r="0.95" fill="#1c9b63"/>
<circle cx="230.4" cy="470.9" r="0.95" fill="#1c9b63"/>
<circle cx="220.6" cy="481.8" r="0.95" fill="#1c9b63"/>
<circle cx="219.2" cy="470.7" r="0.95" fill="#1c9b63"/>
<circle cx="209.9" cy="473.9" r="0.95" fill="#1c9b63"/>
<circle cx="217.3" cy="479.8" r="0.95" fill="#1c9b63"/>
<circle cx="224.7" cy="476.8" r="0.95" fill="#1c9b63"/>
<circle cx="212.4" cy="481.0" r="0.95" fill="#1c9b63"/>
<circle cx="222.1" cy="472.2" r="0.95" fill="#1c9b63"/>
<circle cx="211.0" cy="480.9" r="0.95" fill="#1c9b63"/>
<circle cx="221.2" cy="468.3" r="0.95" fill="#1c9b63"/>
<circle cx="222.6" cy="479.7" r="0.95" fill="#1c9b63"/>
<circle cx="223.3" cy="481.0" r="0.95" fill="#1c9b63"/>
<circle cx="221.1" cy="476.6" r="0.95" fill="#1c9b63"/>
<circle cx="225.2" cy="468.4" r="0.95" fill="#1c9b63"/>
<circle cx="227.1" cy="474.5" r="0.95" fill="#1c9b63"/>
<circle cx="219.8" cy="473.7" r="0.95" fill="#1c9b63"/>
<circle cx="231.0" cy="474.9" r="0.95" fill="#1c9b63"/>
<circle cx="221.6" cy="475.4" r="0.95" fill="#1c9b63"/>
<circle cx="215.0" cy="470.8" r="0.95" fill="#1c9b63"/>
<circle cx="223.1" cy="474.8" r="0.95" fill="#1c9b63"/>
<circle cx="217.4" cy="477.8" r="0.95" fill="#1c9b63"/>
<circle cx="217.8" cy="484.4" r="0.95" fill="#1c9b63"/>
<circle cx="217.6" cy="469.6" r="0.95" fill="#1c9b63"/>
<circle cx="222.5" cy="477.6" r="0.95" fill="#1c9b63"/>
<circle cx="223.6" cy="477.2" r="0.95" fill="#1c9b63"/>
<circle cx="217.0" cy="475.4" r="0.95" fill="#1c9b63"/>
<circle cx="221.6" cy="465.4" r="0.95" fill="#1c9b63"/>
<circle cx="220.5" cy="475.4" r="0.95" fill="#1c9b63"/>
<circle cx="222.8" cy="483.1" r="0.95" fill="#1c9b63"/>
<circle cx="226.4" cy="465.7" r="0.95" fill="#1c9b63"/>
<circle cx="219.3" cy="478.7" r="0.95" fill="#1c9b63"/>
<circle cx="220.8" cy="473.7" r="0.95" fill="#1c9b63"/>
<circle cx="216.5" cy="484.7" r="0.95" fill="#1c9b63"/>
<circle cx="219.6" cy="479.4" r="0.95" fill="#1c9b63"/>
<circle cx="226.8" cy="476.4" r="0.95" fill="#1c9b63"/>
<circle cx="220.0" cy="475.0" r="0.95" fill="#1c9b63"/>
<circle cx="214.8" cy="480.8" r="0.95" fill="#1c9b63"/>
<circle cx="229.1" cy="468.1" r="0.95" fill="#1c9b63"/>
<circle cx="214.2" cy="473.8" r="0.95" fill="#1c9b63"/>
<circle cx="218.5" cy="471.3" r="0.95" fill="#1c9b63"/>
<circle cx="224.6" cy="478.3" r="0.95" fill="#1c9b63"/>
<circle cx="224.6" cy="478.6" r="0.95" fill="#1c9b63"/>
<circle cx="221.7" cy="466.6" r="0.95" fill="#1c9b63"/>
<circle cx="222.9" cy="474.5" r="0.95" fill="#1c9b63"/>
<circle cx="226.9" cy="479.1" r="0.95" fill="#1c9b63"/>
<circle cx="222.9" cy="477.0" r="0.95" fill="#1c9b63"/>
<circle cx="212.3" cy="476.4" r="0.95" fill="#1c9b63"/>
<circle cx="221.8" cy="487.2" r="0.95" fill="#1c9b63"/>
<circle cx="210.4" cy="476.7" r="0.95" fill="#1c9b63"/>
<circle cx="219.8" cy="476.6" r="0.95" fill="#1c9b63"/>
<circle cx="218.5" cy="474.3" r="0.95" fill="#1c9b63"/>
<circle cx="216.9" cy="469.6" r="0.95" fill="#1c9b63"/>
<circle cx="210.2" cy="469.4" r="0.95" fill="#1c9b63"/>
<circle cx="211.1" cy="473.9" r="0.95" fill="#1c9b63"/>
<circle cx="222.0" cy="481.6" r="0.95" fill="#1c9b63"/>
<circle cx="220.7" cy="467.4" r="0.95" fill="#1c9b63"/>
<circle cx="219.5" cy="474.4" r="0.95" fill="#1c9b63"/>
<circle cx="214.1" cy="477.9" r="0.95" fill="#1c9b63"/>
<circle cx="212.2" cy="467.8" r="0.95" fill="#1c9b63"/>
<circle cx="218.6" cy="470.0" r="0.95" fill="#1c9b63"/>
<circle cx="224.5" cy="477.9" r="0.95" fill="#1c9b63"/>
<circle cx="222.7" cy="469.8" r="0.95" fill="#1c9b63"/>
<circle cx="226.3" cy="491.9" r="0.95" fill="#1c9b63"/>
<circle cx="227.1" cy="468.0" r="0.95" fill="#1c9b63"/>
<circle cx="221.1" cy="476.6" r="0.95" fill="#1c9b63"/>
<circle cx="220.6" cy="471.0" r="0.95" fill="#1c9b63"/>
<circle cx="210.6" cy="465.7" r="0.95" fill="#1c9b63"/>
<circle cx="214.0" cy="462.7" r="0.95" fill="#1c9b63"/>
<circle cx="222.0" cy="469.5" r="0.95" fill="#1c9b63"/>
<circle cx="221.5" cy="478.3" r="0.95" fill="#1c9b63"/>
<circle cx="213.5" cy="479.5" r="0.95" fill="#1c9b63"/>
<circle cx="224.4" cy="478.0" r="0.95" fill="#1c9b63"/>
<circle cx="219.7" cy="476.5" r="0.95" fill="#1c9b63"/>
<circle cx="215.9" cy="478.6" r="0.95" fill="#1c9b63"/>
<circle cx="226.9" cy="467.6" r="0.95" fill="#1c9b63"/>
<circle cx="233.5" cy="480.7" r="0.95" fill="#1c9b63"/>
<circle cx="214.7" cy="474.9" r="0.95" fill="#1c9b63"/>
<circle cx="212.9" cy="473.7" r="0.95" fill="#1c9b63"/>
<circle cx="228.0" cy="473.6" r="0.95" fill="#1c9b63"/>
<circle cx="218.3" cy="486.3" r="0.95" fill="#1c9b63"/>
<circle cx="219.8" cy="481.6" r="0.95" fill="#1c9b63"/>
<circle cx="221.8" cy="474.6" r="0.95" fill="#1c9b63"/>
<circle cx="209.3" cy="483.5" r="0.95" fill="#1c9b63"/>
<circle cx="215.2" cy="474.4" r="0.95" fill="#1c9b63"/>
<circle cx="223.7" cy="483.0" r="0.95" fill="#1c9b63"/>
<circle cx="217.0" cy="473.3" r="0.95" fill="#1c9b63"/>
<circle cx="212.0" cy="481.1" r="0.95" fill="#1c9b63"/>
<circle cx="216.1" cy="480.2" r="0.95" fill="#1c9b63"/>
<circle cx="226.3" cy="474.8" r="0.95" fill="#1c9b63"/>
<circle cx="212.1" cy="468.2" r="0.95" fill="#1c9b63"/>
<circle cx="218.7" cy="476.9" r="0.95" fill="#1c9b63"/>
<circle cx="226.7" cy="475.7" r="0.95" fill="#1c9b63"/>
<circle cx="215.9" cy="480.5" r="0.95" fill="#1c9b63"/>
<circle cx="219.3" cy="471.1" r="0.95" fill="#1c9b63"/>
<circle cx="223.7" cy="477.5" r="0.95" fill="#1c9b63"/>
<circle cx="214.0" cy="471.3" r="0.95" fill="#1c9b63"/>
<circle cx="212.3" cy="477.3" r="0.95" fill="#1c9b63"/>
<circle cx="223.6" cy="481.6" r="0.95" fill="#1c9b63"/>
<circle cx="219.1" cy="480.9" r="0.95" fill="#1c9b63"/>
<circle cx="216.1" cy="478.6" r="0.95" fill="#1c9b63"/>
<circle cx="222.7" cy="479.7" r="0.95" fill="#1c9b63"/>
<circle cx="216.6" cy="467.8" r="0.95" fill="#1c9b63"/>
<circle cx="226.4" cy="470.1" r="0.95" fill="#1c9b63"/>
<circle cx="219.3" cy="475.9" r="0.95" fill="#1c9b63"/>
<circle cx="221.6" cy="475.7" r="0.95" fill="#1c9b63"/>
<circle cx="220.2" cy="469.8" r="0.95" fill="#1c9b63"/>
<circle cx="229.7" cy="473.9" r="0.95" fill="#1c9b63"/>
<circle cx="218.8" cy="473.8" r="0.95" fill="#1c9b63"/>
<circle cx="219.2" cy="479.8" r="0.95" fill="#1c9b63"/>
<circle cx="221.2" cy="477.9" r="0.95" fill="#1c9b63"/>
<circle cx="225.8" cy="473.6" r="0.95" fill="#1c9b63"/>
<circle cx="221.2" cy="478.9" r="0.95" fill="#1c9b63"/>
<circle cx="225.0" cy="468.5" r="0.95" fill="#1c9b63"/>
<circle cx="222.5" cy="478.9" r="0.95" fill="#1c9b63"/>
<circle cx="220.7" cy="492.2" r="0.95" fill="#1c9b63"/>
<circle cx="221.5" cy="471.1" r="0.95" fill="#1c9b63"/>
<circle cx="213.3" cy="473.7" r="0.95" fill="#1c9b63"/>
<circle cx="214.0" cy="478.2" r="0.95" fill="#1c9b63"/>
<circle cx="216.9" cy="467.2" r="0.95" fill="#1c9b63"/>
<circle cx="222.6" cy="476.2" r="0.95" fill="#1c9b63"/>
<circle cx="219.9" cy="461.7" r="0.95" fill="#1c9b63"/>
<circle cx="219.9" cy="473.8" r="0.95" fill="#1c9b63"/>
<circle cx="208.1" cy="468.8" r="0.95" fill="#1c9b63"/>
<circle cx="220.7" cy="479.5" r="0.95" fill="#1c9b63"/>
<circle cx="218.4" cy="472.8" r="0.95" fill="#1c9b63"/>
<circle cx="221.5" cy="481.3" r="0.95" fill="#1c9b63"/>
<circle cx="220.7" cy="476.3" r="0.95" fill="#1c9b63"/>
<circle cx="217.1" cy="464.7" r="0.95" fill="#1c9b63"/>
<circle cx="222.2" cy="483.5" r="0.95" fill="#1c9b63"/>
<circle cx="220.4" cy="475.7" r="0.95" fill="#1c9b63"/>
<circle cx="222.0" cy="479.4" r="0.95" fill="#1c9b63"/>
<circle cx="211.4" cy="481.5" r="0.95" fill="#1c9b63"/>
<circle cx="229.2" cy="461.1" r="0.95" fill="#1c9b63"/>
<circle cx="218.8" cy="489.7" r="0.95" fill="#1c9b63"/>
<circle cx="215.4" cy="473.8" r="0.95" fill="#1c9b63"/>
<circle cx="225.6" cy="471.8" r="0.95" fill="#1c9b63"/>
<circle cx="225.2" cy="472.0" r="0.95" fill="#1c9b63"/>
<circle cx="220.2" cy="477.1" r="0.95" fill="#1c9b63"/>
<circle cx="215.5" cy="486.1" r="0.95" fill="#1c9b63"/>
<circle cx="215.7" cy="477.9" r="0.95" fill="#1c9b63"/>
<circle cx="215.8" cy="467.7" r="0.95" fill="#1c9b63"/>
<circle cx="223.1" cy="491.5" r="0.95" fill="#1c9b63"/>
<circle cx="225.4" cy="470.9" r="0.95" fill="#1c9b63"/>
<circle cx="214.5" cy="477.6" r="0.95" fill="#1c9b63"/>
<circle cx="223.7" cy="471.9" r="0.95" fill="#1c9b63"/>
<circle cx="213.1" cy="493.5" r="0.95" fill="#1c9b63"/>
<circle cx="220.5" cy="466.1" r="0.95" fill="#1c9b63"/>
<circle cx="222.2" cy="474.8" r="0.95" fill="#1c9b63"/>
<circle cx="221.7" cy="479.3" r="0.95" fill="#1c9b63"/>
<circle cx="212.2" cy="465.9" r="0.95" fill="#1c9b63"/>
<circle cx="224.1" cy="492.4" r="0.95" fill="#1c9b63"/>
<circle cx="221.1" cy="469.4" r="0.95" fill="#1c9b63"/>
<circle cx="226.0" cy="465.2" r="0.95" fill="#1c9b63"/>
<circle cx="219.9" cy="478.7" r="0.95" fill="#1c9b63"/>
<circle cx="216.2" cy="475.0" r="0.95" fill="#1c9b63"/>
<circle cx="225.9" cy="473.4" r="0.95" fill="#1c9b63"/>
<circle cx="222.9" cy="485.6" r="0.95" fill="#1c9b63"/>
<circle cx="225.6" cy="475.7" r="0.95" fill="#1c9b63"/>
<circle cx="214.5" cy="465.1" r="0.95" fill="#1c9b63"/>
<circle cx="220.0" cy="484.6" r="0.95" fill="#1c9b63"/>
<circle cx="220.3" cy="471.7" r="0.95" fill="#1c9b63"/>
<circle cx="218.4" cy="475.3" r="0.95" fill="#1c9b63"/>
<circle cx="216.0" cy="463.1" r="0.95" fill="#1c9b63"/>
<circle cx="223.9" cy="464.5" r="0.95" fill="#1c9b63"/>
<circle cx="215.4" cy="467.3" r="0.95" fill="#1c9b63"/>
<circle cx="218.2" cy="486.2" r="0.95" fill="#1c9b63"/>
<circle cx="214.6" cy="483.2" r="0.95" fill="#1c9b63"/>
<circle cx="216.2" cy="480.5" r="0.95" fill="#1c9b63"/>
<circle cx="225.1" cy="486.1" r="0.95" fill="#1c9b63"/>
<circle cx="216.5" cy="492.8" r="0.95" fill="#1c9b63"/>
<circle cx="221.5" cy="478.9" r="0.95" fill="#1c9b63"/>
<circle cx="226.3" cy="468.3" r="0.95" fill="#1c9b63"/>
<circle cx="224.5" cy="471.5" r="0.95" fill="#1c9b63"/>
<circle cx="218.9" cy="493.0" r="0.95" fill="#1c9b63"/>
<circle cx="218.1" cy="491.7" r="0.95" fill="#1c9b63"/>
<circle cx="220.9" cy="481.3" r="0.95" fill="#1c9b63"/>
<circle cx="221.5" cy="477.5" r="0.95" fill="#1c9b63"/>
<circle cx="222.8" cy="487.9" r="0.95" fill="#1c9b63"/>
<circle cx="212.6" cy="493.8" r="0.95" fill="#1c9b63"/>
<circle cx="214.0" cy="471.9" r="0.95" fill="#1c9b63"/>
<circle cx="222.1" cy="481.8" r="0.95" fill="#1c9b63"/>
<circle cx="217.3" cy="471.2" r="0.95" fill="#1c9b63"/>
<circle cx="224.9" cy="465.9" r="0.95" fill="#1c9b63"/>
<circle cx="222.9" cy="478.3" r="0.95" fill="#1c9b63"/>
<circle cx="215.0" cy="476.4" r="0.95" fill="#1c9b63"/>
<circle cx="214.6" cy="490.4" r="0.95" fill="#1c9b63"/>
<circle cx="222.1" cy="492.6" r="0.95" fill="#1c9b63"/>
<circle cx="214.9" cy="468.5" r="0.95" fill="#1c9b63"/>
<circle cx="223.7" cy="467.9" r="0.95" fill="#1c9b63"/>
<circle cx="212.5" cy="477.3" r="0.95" fill="#1c9b63"/>
<circle cx="223.6" cy="491.2" r="0.95" fill="#1c9b63"/>
<circle cx="224.2" cy="477.5" r="0.95" fill="#1c9b63"/>
<circle cx="220.8" cy="468.7" r="0.95" fill="#1c9b63"/>
<circle cx="221.7" cy="482.5" r="0.95" fill="#1c9b63"/>
<circle cx="214.4" cy="474.5" r="0.95" fill="#1c9b63"/>
<circle cx="222.1" cy="493.9" r="0.95" fill="#1c9b63"/>
<circle cx="213.5" cy="494.4" r="0.95" fill="#1c9b63"/>
<circle cx="221.4" cy="490.6" r="0.95" fill="#1c9b63"/>
<circle cx="224.3" cy="469.7" r="0.95" fill="#1c9b63"/>
<circle cx="216.4" cy="488.8" r="0.95" fill="#1c9b63"/>
<circle cx="223.1" cy="476.2" r="0.95" fill="#1c9b63"/>
<circle cx="221.6" cy="475.1" r="0.95" fill="#1c9b63"/>
<circle cx="224.4" cy="464.5" r="0.95" fill="#1c9b63"/>
<circle cx="226.7" cy="486.9" r="0.95" fill="#1c9b63"/>
<circle cx="222.2" cy="487.8" r="0.95" fill="#1c9b63"/>
<circle cx="214.5" cy="471.7" r="0.95" fill="#1c9b63"/>
<circle cx="221.0" cy="483.6" r="0.95" fill="#1c9b63"/>
<circle cx="213.6" cy="476.9" r="0.95" fill="#1c9b63"/>
<circle cx="214.9" cy="464.1" r="0.95" fill="#1c9b63"/>
<circle cx="222.5" cy="491.3" r="0.95" fill="#1c9b63"/>
<circle cx="205.0" cy="475.3" r="0.95" fill="#1c9b63"/>
<circle cx="211.1" cy="462.7" r="0.95" fill="#1c9b63"/>
<circle cx="205.6" cy="490.7" r="0.95" fill="#1c9b63"/>
<circle cx="212.0" cy="483.5" r="0.95" fill="#1c9b63"/>
<circle cx="210.5" cy="484.0" r="0.95" fill="#1c9b63"/>
<circle cx="209.8" cy="472.3" r="0.95" fill="#1c9b63"/>
<circle cx="209.4" cy="472.1" r="0.95" fill="#1c9b63"/>
<circle cx="178.9" cy="460.2" r="0.95" fill="#1c9b63"/>
<circle cx="208.0" cy="469.2" r="0.95" fill="#1c9b63"/>
<circle cx="201.1" cy="476.7" r="0.95" fill="#1c9b63"/>
<circle cx="191.1" cy="481.6" r="0.95" fill="#1c9b63"/>
<circle cx="199.4" cy="490.1" r="0.95" fill="#1c9b63"/>
<circle cx="208.5" cy="481.4" r="0.95" fill="#1c9b63"/>
<circle cx="204.9" cy="479.2" r="0.95" fill="#1c9b63"/>
<circle cx="195.8" cy="494.8" r="0.95" fill="#1c9b63"/>
<circle cx="198.2" cy="484.9" r="0.95" fill="#1c9b63"/>
<circle cx="195.3" cy="486.4" r="0.95" fill="#1c9b63"/>
<circle cx="203.4" cy="470.4" r="0.95" fill="#1c9b63"/>
<circle cx="185.3" cy="490.7" r="0.95" fill="#1c9b63"/>
<circle cx="205.0" cy="488.5" r="0.95" fill="#1c9b63"/>
<circle cx="214.0" cy="474.3" r="0.95" fill="#1c9b63"/>
<circle cx="213.3" cy="475.7" r="0.95" fill="#1c9b63"/>
<circle cx="181.4" cy="488.8" r="0.95" fill="#1c9b63"/>
<circle cx="185.7" cy="463.1" r="0.95" fill="#1c9b63"/>
<circle cx="213.5" cy="477.4" r="0.95" fill="#1c9b63"/>
<circle cx="204.8" cy="488.3" r="0.95" fill="#1c9b63"/>
<circle cx="200.0" cy="486.4" r="0.95" fill="#1c9b63"/>
<circle cx="212.9" cy="469.9" r="0.95" fill="#1c9b63"/>
<circle cx="191.8" cy="489.4" r="0.95" fill="#1c9b63"/>
<circle cx="211.1" cy="473.6" r="0.95" fill="#1c9b63"/>
<circle cx="206.1" cy="476.1" r="0.95" fill="#1c9b63"/>
<circle cx="204.1" cy="474.0" r="0.95" fill="#1c9b63"/>
<circle cx="212.0" cy="479.7" r="0.95" fill="#1c9b63"/>
<circle cx="213.7" cy="490.8" r="0.95" fill="#1c9b63"/>
<circle cx="210.5" cy="489.1" r="0.95" fill="#1c9b63"/>
<circle cx="211.6" cy="481.7" r="0.95" fill="#1c9b63"/>
<circle cx="206.8" cy="483.0" r="0.95" fill="#1c9b63"/>
<circle cx="211.7" cy="477.8" r="0.95" fill="#1c9b63"/>
<circle cx="206.9" cy="470.7" r="0.95" fill="#1c9b63"/>
<circle cx="211.2" cy="482.5" r="0.95" fill="#1c9b63"/>
<circle cx="200.1" cy="477.2" r="0.95" fill="#1c9b63"/>
<circle cx="211.3" cy="484.4" r="0.95" fill="#1c9b63"/>
<circle cx="213.1" cy="463.5" r="0.95" fill="#1c9b63"/>
<circle cx="188.7" cy="497.2" r="0.95" fill="#1c9b63"/>
<circle cx="205.5" cy="487.1" r="0.95" fill="#1c9b63"/>
<circle cx="212.5" cy="483.2" r="0.95" fill="#1c9b63"/>
<circle cx="213.2" cy="480.7" r="0.95" fill="#1c9b63"/>
<circle cx="201.5" cy="470.3" r="0.95" fill="#1c9b63"/>
<circle cx="212.4" cy="481.0" r="0.95" fill="#1c9b63"/>
<circle cx="212.2" cy="477.8" r="0.95" fill="#1c9b63"/>
<circle cx="199.5" cy="487.5" r="0.95" fill="#1c9b63"/>
<circle cx="212.5" cy="492.3" r="0.95" fill="#1c9b63"/>
<circle cx="211.7" cy="469.2" r="0.95" fill="#1c9b63"/>
<circle cx="193.7" cy="491.6" r="0.95" fill="#1c9b63"/>
<circle cx="208.2" cy="479.9" r="0.95" fill="#1c9b63"/>
<circle cx="210.9" cy="473.7" r="0.95" fill="#1c9b63"/>
<circle cx="195.7" cy="478.2" r="0.95" fill="#1c9b63"/>
<circle cx="201.7" cy="473.9" r="0.95" fill="#1c9b63"/>
<circle cx="201.9" cy="462.5" r="0.95" fill="#1c9b63"/>
<circle cx="210.9" cy="464.7" r="0.95" fill="#1c9b63"/>
<circle cx="186.0" cy="486.5" r="0.95" fill="#1c9b63"/>
<circle cx="209.3" cy="487.6" r="0.95" fill="#1c9b63"/>
<circle cx="203.0" cy="465.4" r="0.95" fill="#1c9b63"/>
<circle cx="213.7" cy="495.2" r="0.95" fill="#1c9b63"/>
<circle cx="210.5" cy="481.0" r="0.95" fill="#1c9b63"/>
<circle cx="190.5" cy="480.0" r="0.95" fill="#1c9b63"/>
<circle cx="189.4" cy="490.6" r="0.95" fill="#1c9b63"/>
<circle cx="211.8" cy="480.2" r="0.95" fill="#1c9b63"/>
<circle cx="200.5" cy="474.6" r="0.95" fill="#1c9b63"/>
<circle cx="200.8" cy="480.6" r="0.95" fill="#1c9b63"/>
<circle cx="213.9" cy="483.0" r="0.95" fill="#1c9b63"/>
<circle cx="197.9" cy="482.9" r="0.95" fill="#1c9b63"/>
<circle cx="194.3" cy="483.3" r="0.95" fill="#1c9b63"/>
<circle cx="207.4" cy="477.9" r="0.95" fill="#1c9b63"/>
<circle cx="187.5" cy="471.5" r="0.95" fill="#1c9b63"/>
<circle cx="202.7" cy="477.7" r="0.95" fill="#1c9b63"/>
<circle cx="178.7" cy="485.7" r="0.95" fill="#1c9b63"/>
<circle cx="189.2" cy="469.8" r="0.95" fill="#1c9b63"/>
<circle cx="206.3" cy="474.5" r="0.95" fill="#1c9b63"/>
<circle cx="212.9" cy="466.5" r="0.95" fill="#1c9b63"/>
<circle cx="211.2" cy="497.3" r="0.95" fill="#1c9b63"/>
<circle cx="210.3" cy="484.3" r="0.95" fill="#1c9b63"/>
<circle cx="184.9" cy="487.5" r="0.95" fill="#1c9b63"/>
<circle cx="201.0" cy="478.3" r="0.95" fill="#1c9b63"/>
<circle cx="209.2" cy="490.3" r="0.95" fill="#1c9b63"/>
<circle cx="213.5" cy="489.9" r="0.95" fill="#1c9b63"/>
<circle cx="206.8" cy="472.9" r="0.95" fill="#1c9b63"/>
<circle cx="194.4" cy="486.4" r="0.95" fill="#1c9b63"/>
<circle cx="213.4" cy="483.4" r="0.95" fill="#1c9b63"/>
<circle cx="213.5" cy="466.5" r="0.95" fill="#1c9b63"/>
<circle cx="189.4" cy="461.7" r="0.95" fill="#1c9b63"/>
<circle cx="198.5" cy="475.9" r="0.95" fill="#1c9b63"/>
<circle cx="180.7" cy="487.4" r="0.95" fill="#1c9b63"/>
<circle cx="212.2" cy="472.5" r="0.95" fill="#1c9b63"/>
<circle cx="204.5" cy="487.0" r="0.95" fill="#1c9b63"/>
<circle cx="198.0" cy="471.0" r="0.95" fill="#1c9b63"/>
<circle cx="204.8" cy="475.7" r="0.95" fill="#1c9b63"/>
<circle cx="213.7" cy="466.2" r="0.95" fill="#1c9b63"/>
<circle cx="211.4" cy="492.7" r="0.95" fill="#1c9b63"/>
<circle cx="211.8" cy="485.4" r="0.95" fill="#1c9b63"/>
<circle cx="207.9" cy="486.3" r="0.95" fill="#1c9b63"/>
<circle cx="213.1" cy="494.9" r="0.95" fill="#1c9b63"/>
<circle cx="181.2" cy="494.5" r="0.95" fill="#1c9b63"/>
<circle cx="209.8" cy="491.0" r="0.95" fill="#1c9b63"/>
<circle cx="201.4" cy="481.0" r="0.95" fill="#1c9b63"/>
<circle cx="177.3" cy="460.9" r="0.95" fill="#1c9b63"/>
<circle cx="212.4" cy="476.1" r="0.95" fill="#1c9b63"/>
<circle cx="212.2" cy="486.3" r="0.95" fill="#1c9b63"/>
<circle cx="182.2" cy="479.0" r="0.95" fill="#1c9b63"/>
<circle cx="207.6" cy="474.1" r="0.95" fill="#1c9b63"/>
<circle cx="213.3" cy="480.6" r="0.95" fill="#1c9b63"/>
<circle cx="208.1" cy="465.7" r="0.95" fill="#1c9b63"/>
<circle cx="208.8" cy="481.7" r="0.95" fill="#1c9b63"/>
<circle cx="204.1" cy="494.6" r="0.95" fill="#1c9b63"/>
<circle cx="183.0" cy="475.7" r="0.95" fill="#1c9b63"/>
<circle cx="208.5" cy="487.3" r="0.95" fill="#1c9b63"/>
<circle cx="199.3" cy="473.9" r="0.95" fill="#1c9b63"/>
<circle cx="182.1" cy="486.1" r="0.95" fill="#1c9b63"/>
<circle cx="206.3" cy="496.5" r="0.95" fill="#1c9b63"/>
<circle cx="213.0" cy="494.7" r="0.95" fill="#1c9b63"/>
<line x1="174.00" y1="480.80" x2="235.20" y2="468.00" stroke="#1c9b63" stroke-width="1.1"/>
<line x1="174.00" y1="440.90" x2="174.00" y2="517.80" stroke="#555" stroke-width="0.9"/>
<line x1="174.00" y1="517.80" x2="250.20" y2="517.80" stroke="#555" stroke-width="0.9"/>
<line x1="171.70" y1="441.00" x2="174.00" y2="441.00" stroke="#555" stroke-width="0.8"/>
<text x="169.70" y="443.12" font-size="5.9" text-anchor="end" fill="#1c1c1c">15</text>
<line x1="171.70" y1="460.20" x2="174.00" y2="460.20" stroke="#555" stroke-width="0.8"/>
<text x="169.70" y="462.32" font-size="5.9" text-anchor="end" fill="#1c1c1c">10</text>
<line x1="171.70" y1="479.40" x2="174.00" y2="479.40" stroke="#555" stroke-width="0.8"/>
<text x="169.70" y="481.52" font-size="5.9" text-anchor="end" fill="#1c1c1c">5</text>
<line x1="171.70" y1="498.50" x2="174.00" y2="498.50" stroke="#555" stroke-width="0.8"/>
<text x="169.70" y="500.62" font-size="5.9" text-anchor="end" fill="#1c1c1c">0</text>
<line x1="171.70" y1="517.80" x2="174.00" y2="517.80" stroke="#555" stroke-width="0.8"/>
<text x="169.70" y="519.92" font-size="5.9" text-anchor="end" fill="#1c1c1c">-5</text>
<line x1="174.10" y1="517.80" x2="174.10" y2="520.10" stroke="#555" stroke-width="0.8"/>
<text x="174.10" y="526.76" font-size="6.0" text-anchor="middle" fill="#1c1c1c">0</text>
<line x1="193.15" y1="517.80" x2="193.15" y2="520.10" stroke="#555" stroke-width="0.8"/>
<text x="193.15" y="526.76" font-size="6.0" text-anchor="middle" fill="#1c1c1c">1</text>
<line x1="212.20" y1="517.80" x2="212.20" y2="520.10" stroke="#555" stroke-width="0.8"/>
<text x="212.20" y="526.76" font-size="6.0" text-anchor="middle" fill="#1c1c1c">2</text>
<line x1="231.25" y1="517.80" x2="231.25" y2="520.10" stroke="#555" stroke-width="0.8"/>
<text x="231.25" y="526.76" font-size="6.0" text-anchor="middle" fill="#1c1c1c">3</text>
<line x1="250.30" y1="517.80" x2="250.30" y2="520.10" stroke="#555" stroke-width="0.8"/>
<text x="250.30" y="526.76" font-size="6.0" text-anchor="middle" fill="#1c1c1c">4</text>
<text x="188.50" y="446.59" font-size="6.62" textLength="79.20" lengthAdjust="spacingAndGlyphs" fill="#111"><tspan font-style="italic">p</tspan>-value &lt; 0.0001, ρ = 0.2673</text>
<text x="212.10" y="536.44" font-size="6.21" text-anchor="middle" textLength="88.00" lengthAdjust="spacingAndGlyphs" fill="#111"><tspan font-style="italic">Indibacter</tspan>, Microbiome Signatures</text>
<text x="211.75" y="542.92" font-size="6.43" text-anchor="middle" textLength="66.50" lengthAdjust="spacingAndGlyphs" fill="#111">(log RNA Seq CPM) log2</text>
<text transform="translate(152.40 0) rotate(-90) translate(-948.60 0)" x="474.30" y="0" font-size="6.1" text-anchor="middle" textLength="86.00" lengthAdjust="spacingAndGlyphs" class="nk" fill="#111">SUCNR1, mRNA Expression RSEM</text>
<text transform="translate(157.72 0) rotate(-90) translate(-959.60 0)" x="479.80" y="0" font-size="5.9" text-anchor="middle" textLength="129.50" lengthAdjust="spacingAndGlyphs" class="nk" fill="#111">(Batch normalized from Illumina HiSeq_RNASeq(V2) log2</text>
<text x="146.2" y="201.80" font-size="8.66" font-weight="bold" fill="#111" textLength="142.6" lengthAdjust="spacingAndGlyphs"><tspan font-style="italic">Candidatus nitrosopelagicus</tspan> in KIRC</text>
<text x="178.7" y="393.01" font-size="8.69" font-weight="bold" fill="#111" textLength="70.4" lengthAdjust="spacingAndGlyphs"><tspan font-style="italic">Indibacter</tspan> in KIRC</text>
<line x1="299.10" y1="219.80" x2="299.10" y2="332.20" stroke="#555" stroke-width="0.9"/>
<line x1="299.10" y1="332.20" x2="442.85" y2="332.20" stroke="#555" stroke-width="0.9"/>
<line x1="297.30" y1="332.20" x2="299.10" y2="332.20" stroke="#555" stroke-width="0.7"/>
<text x="297.50" y="334.29" font-size="5.8" text-anchor="end" textLength="7.40" lengthAdjust="spacingAndGlyphs" class="nk" fill="#1c1c1c">0%</text>
<line x1="297.30" y1="321.06" x2="299.10" y2="321.06" stroke="#555" stroke-width="0.7"/>
<text x="297.50" y="323.15" font-size="5.8" text-anchor="end" textLength="10.40" lengthAdjust="spacingAndGlyphs" class="nk" fill="#1c1c1c">10%</text>
<line x1="297.30" y1="309.92" x2="299.10" y2="309.92" stroke="#555" stroke-width="0.7"/>
<text x="297.50" y="312.01" font-size="5.8" text-anchor="end" textLength="10.40" lengthAdjust="spacingAndGlyphs" class="nk" fill="#1c1c1c">20%</text>
<line x1="297.30" y1="298.78" x2="299.10" y2="298.78" stroke="#555" stroke-width="0.7"/>
<text x="297.50" y="300.87" font-size="5.8" text-anchor="end" textLength="10.40" lengthAdjust="spacingAndGlyphs" class="nk" fill="#1c1c1c">30%</text>
<line x1="297.30" y1="287.64" x2="299.10" y2="287.64" stroke="#555" stroke-width="0.7"/>
<text x="297.50" y="289.73" font-size="5.8" text-anchor="end" textLength="10.40" lengthAdjust="spacingAndGlyphs" class="nk" fill="#1c1c1c">40%</text>
<line x1="297.30" y1="276.50" x2="299.10" y2="276.50" stroke="#555" stroke-width="0.7"/>
<text x="297.50" y="278.59" font-size="5.8" text-anchor="end" textLength="10.40" lengthAdjust="spacingAndGlyphs" class="nk" fill="#1c1c1c">50%</text>
<line x1="297.30" y1="265.36" x2="299.10" y2="265.36" stroke="#555" stroke-width="0.7"/>
<text x="297.50" y="267.45" font-size="5.8" text-anchor="end" textLength="10.40" lengthAdjust="spacingAndGlyphs" class="nk" fill="#1c1c1c">60%</text>
<line x1="297.30" y1="254.22" x2="299.10" y2="254.22" stroke="#555" stroke-width="0.7"/>
<text x="297.50" y="256.31" font-size="5.8" text-anchor="end" textLength="10.40" lengthAdjust="spacingAndGlyphs" class="nk" fill="#1c1c1c">70%</text>
<line x1="297.30" y1="243.08" x2="299.10" y2="243.08" stroke="#555" stroke-width="0.7"/>
<text x="297.50" y="245.17" font-size="5.8" text-anchor="end" textLength="10.40" lengthAdjust="spacingAndGlyphs" class="nk" fill="#1c1c1c">80%</text>
<line x1="297.30" y1="231.94" x2="299.10" y2="231.94" stroke="#555" stroke-width="0.7"/>
<text x="297.50" y="234.03" font-size="5.8" text-anchor="end" textLength="10.40" lengthAdjust="spacingAndGlyphs" class="nk" fill="#1c1c1c">90%</text>
<line x1="297.30" y1="220.80" x2="299.10" y2="220.80" stroke="#555" stroke-width="0.7"/>
<text x="297.50" y="222.89" font-size="5.8" text-anchor="end" textLength="13.40" lengthAdjust="spacingAndGlyphs" class="nk" fill="#1c1c1c">100%</text>
<line x1="300.00" y1="332.20" x2="300.00" y2="334.00" stroke="#555" stroke-width="0.7"/>
<text x="300.00" y="339.09" font-size="5.8" text-anchor="middle" textLength="3.00" lengthAdjust="spacingAndGlyphs" class="nk" fill="#1c1c1c">0</text>
<line x1="309.49" y1="332.20" x2="309.49" y2="334.00" stroke="#555" stroke-width="0.7"/>
<text x="309.49" y="339.09" font-size="5.8" text-anchor="middle" textLength="5.40" lengthAdjust="spacingAndGlyphs" class="nk" fill="#1c1c1c">10</text>
<line x1="318.98" y1="332.20" x2="318.98" y2="334.00" stroke="#555" stroke-width="0.7"/>
<text x="318.98" y="339.09" font-size="5.8" text-anchor="middle" textLength="5.40" lengthAdjust="spacingAndGlyphs" class="nk" fill="#1c1c1c">20</text>
<line x1="328.47" y1="332.20" x2="328.47" y2="334.00" stroke="#555" stroke-width="0.7"/>
<text x="328.47" y="339.09" font-size="5.8" text-anchor="middle" textLength="5.40" lengthAdjust="spacingAndGlyphs" class="nk" fill="#1c1c1c">30</text>
<line x1="337.96" y1="332.20" x2="337.96" y2="334.00" stroke="#555" stroke-width="0.7"/>
<text x="337.96" y="339.09" font-size="5.8" text-anchor="middle" textLength="5.40" lengthAdjust="spacingAndGlyphs" class="nk" fill="#1c1c1c">40</text>
<line x1="347.45" y1="332.20" x2="347.45" y2="334.00" stroke="#555" stroke-width="0.7"/>
<text x="347.45" y="339.09" font-size="5.8" text-anchor="middle" textLength="5.40" lengthAdjust="spacingAndGlyphs" class="nk" fill="#1c1c1c">50</text>
<line x1="356.94" y1="332.20" x2="356.94" y2="334.00" stroke="#555" stroke-width="0.7"/>
<text x="356.94" y="339.09" font-size="5.8" text-anchor="middle" textLength="5.40" lengthAdjust="spacingAndGlyphs" class="nk" fill="#1c1c1c">60</text>
<line x1="366.43" y1="332.20" x2="366.43" y2="334.00" stroke="#555" stroke-width="0.7"/>
<text x="366.43" y="339.09" font-size="5.8" text-anchor="middle" textLength="5.40" lengthAdjust="spacingAndGlyphs" class="nk" fill="#1c1c1c">70</text>
<line x1="375.92" y1="332.20" x2="375.92" y2="334.00" stroke="#555" stroke-width="0.7"/>
<text x="375.92" y="339.09" font-size="5.8" text-anchor="middle" textLength="5.40" lengthAdjust="spacingAndGlyphs" class="nk" fill="#1c1c1c">80</text>
<line x1="385.41" y1="332.20" x2="385.41" y2="334.00" stroke="#555" stroke-width="0.7"/>
<text x="385.41" y="339.09" font-size="5.8" text-anchor="middle" textLength="5.40" lengthAdjust="spacingAndGlyphs" class="nk" fill="#1c1c1c">90</text>
<line x1="394.90" y1="332.20" x2="394.90" y2="334.00" stroke="#555" stroke-width="0.7"/>
<text x="394.90" y="339.09" font-size="5.8" text-anchor="middle" textLength="7.60" lengthAdjust="spacingAndGlyphs" class="nk" fill="#1c1c1c">100</text>
<line x1="404.39" y1="332.20" x2="404.39" y2="334.00" stroke="#555" stroke-width="0.7"/>
<text x="404.39" y="339.09" font-size="5.8" text-anchor="middle" textLength="7.60" lengthAdjust="spacingAndGlyphs" class="nk" fill="#1c1c1c">110</text>
<line x1="413.88" y1="332.20" x2="413.88" y2="334.00" stroke="#555" stroke-width="0.7"/>
<text x="413.88" y="339.09" font-size="5.8" text-anchor="middle" textLength="7.60" lengthAdjust="spacingAndGlyphs" class="nk" fill="#1c1c1c">120</text>
<line x1="423.37" y1="332.20" x2="423.37" y2="334.00" stroke="#555" stroke-width="0.7"/>
<text x="423.37" y="339.09" font-size="5.8" text-anchor="middle" textLength="7.60" lengthAdjust="spacingAndGlyphs" class="nk" fill="#1c1c1c">130</text>
<line x1="432.86" y1="332.20" x2="432.86" y2="334.00" stroke="#555" stroke-width="0.7"/>
<text x="432.86" y="339.09" font-size="5.8" text-anchor="middle" textLength="7.60" lengthAdjust="spacingAndGlyphs" class="nk" fill="#1c1c1c">140</text>
<line x1="442.35" y1="332.20" x2="442.35" y2="334.00" stroke="#555" stroke-width="0.7"/>
<text x="442.35" y="339.09" font-size="5.8" text-anchor="middle" textLength="7.60" lengthAdjust="spacingAndGlyphs" class="nk" fill="#1c1c1c">150</text>
<text x="318.50" y="347.86" font-size="6.57" font-weight="bold" fill="#0a0a0a" textLength="103.40" lengthAdjust="spacingAndGlyphs">Months of disease-specific survival</text>
<text transform="translate(285.70 271.20) rotate(-90)" x="0" y="0" font-size="6.69" font-weight="bold" fill="#0a0a0a" text-anchor="middle" textLength="49.00" lengthAdjust="spacingAndGlyphs">Disease-specific</text>
<path d="M299.50 221.00H304.70V223.20H308.00V225.90H312.30V226.40H317.70V227.50H322.10V228.60H325.60V230.00H329.60V231.60H342.60V232.00H346.50V233.90H350.40V235.30H441.70V235.30" stroke="#2e9e2a" stroke-width="1.0" fill="none"/>
<rect x="329.97" y="230.64" width="1.6" height="2.0" fill="#2e9e2a"/>
<rect x="331.14" y="230.67" width="1.6" height="2.0" fill="#2e9e2a"/>
<rect x="331.52" y="230.68" width="1.6" height="2.0" fill="#2e9e2a"/>
<rect x="333.03" y="230.73" width="1.6" height="2.0" fill="#2e9e2a"/>
<rect x="336.98" y="230.85" width="1.6" height="2.0" fill="#2e9e2a"/>
<rect x="339.97" y="230.94" width="1.6" height="2.0" fill="#2e9e2a"/>
<rect x="344.55" y="232.34" width="1.6" height="2.0" fill="#2e9e2a"/>
<rect x="350.07" y="234.30" width="1.6" height="2.0" fill="#2e9e2a"/>
<rect x="350.16" y="234.30" width="1.6" height="2.0" fill="#2e9e2a"/>
<rect x="350.34" y="234.30" width="1.6" height="2.0" fill="#2e9e2a"/>
<rect x="352.64" y="234.30" width="1.6" height="2.0" fill="#2e9e2a"/>
<rect x="359.84" y="234.30" width="1.6" height="2.0" fill="#2e9e2a"/>
<rect x="361.65" y="234.30" width="1.6" height="2.0" fill="#2e9e2a"/>
<rect x="362.39" y="234.30" width="1.6" height="2.0" fill="#2e9e2a"/>
<rect x="364.31" y="234.30" width="1.6" height="2.0" fill="#2e9e2a"/>
<rect x="369.43" y="234.30" width="1.6" height="2.0" fill="#2e9e2a"/>
<rect x="376.58" y="234.30" width="1.6" height="2.0" fill="#2e9e2a"/>
<rect x="377.65" y="234.30" width="1.6" height="2.0" fill="#2e9e2a"/>
<rect x="381.97" y="234.30" width="1.6" height="2.0" fill="#2e9e2a"/>
<rect x="382.10" y="234.30" width="1.6" height="2.0" fill="#2e9e2a"/>
<rect x="382.71" y="234.30" width="1.6" height="2.0" fill="#2e9e2a"/>
<rect x="384.13" y="234.30" width="1.6" height="2.0" fill="#2e9e2a"/>
<rect x="389.79" y="234.30" width="1.6" height="2.0" fill="#2e9e2a"/>
<rect x="395.19" y="234.30" width="1.6" height="2.0" fill="#2e9e2a"/>
<rect x="400.94" y="234.30" width="1.6" height="2.0" fill="#2e9e2a"/>
<rect x="406.22" y="234.30" width="1.6" height="2.0" fill="#2e9e2a"/>
<rect x="406.30" y="234.30" width="1.6" height="2.0" fill="#2e9e2a"/>
<rect x="407.34" y="234.30" width="1.6" height="2.0" fill="#2e9e2a"/>
<rect x="408.44" y="234.30" width="1.6" height="2.0" fill="#2e9e2a"/>
<rect x="414.91" y="234.30" width="1.6" height="2.0" fill="#2e9e2a"/>
<rect x="419.67" y="234.30" width="1.6" height="2.0" fill="#2e9e2a"/>
<rect x="424.62" y="234.30" width="1.6" height="2.0" fill="#2e9e2a"/>
<rect x="427.45" y="234.30" width="1.6" height="2.0" fill="#2e9e2a"/>
<rect x="430.17" y="234.30" width="1.6" height="2.0" fill="#2e9e2a"/>
<rect x="430.23" y="234.30" width="1.6" height="2.0" fill="#2e9e2a"/>
<rect x="434.36" y="234.30" width="1.6" height="2.0" fill="#2e9e2a"/>
<rect x="435.27" y="234.30" width="1.6" height="2.0" fill="#2e9e2a"/>
<rect x="436.94" y="234.30" width="1.6" height="2.0" fill="#2e9e2a"/>
<rect x="439.12" y="234.30" width="1.6" height="2.0" fill="#2e9e2a"/>
<rect x="440.56" y="234.30" width="1.6" height="2.0" fill="#2e9e2a"/>
<path d="M299.50 221.00H303.60V222.60H308.00V225.90H311.20V228.00H316.70V229.10H317.80V230.70H320.40V232.00H323.00V233.30H328.30V235.20H332.80V237.20H337.40V239.80H342.60V241.70H348.50V242.40H349.80V243.70H353.70V245.60H359.50V247.10H424.80V247.10" stroke="#f28a1c" stroke-width="1.0" fill="none"/>
<rect x="342.08" y="240.73" width="1.6" height="2.0" fill="#f28a1c"/>
<rect x="343.31" y="240.88" width="1.6" height="2.0" fill="#f28a1c"/>
<rect x="343.39" y="240.89" width="1.6" height="2.0" fill="#f28a1c"/>
<rect x="347.07" y="241.33" width="1.6" height="2.0" fill="#f28a1c"/>
<rect x="347.34" y="241.36" width="1.6" height="2.0" fill="#f28a1c"/>
<rect x="348.76" y="242.46" width="1.6" height="2.0" fill="#f28a1c"/>
<rect x="349.31" y="242.85" width="1.6" height="2.0" fill="#f28a1c"/>
<rect x="351.71" y="244.02" width="1.6" height="2.0" fill="#f28a1c"/>
<rect x="354.21" y="244.94" width="1.6" height="2.0" fill="#f28a1c"/>
<rect x="355.50" y="245.27" width="1.6" height="2.0" fill="#f28a1c"/>
<rect x="357.73" y="245.85" width="1.6" height="2.0" fill="#f28a1c"/>
<rect x="358.30" y="246.00" width="1.6" height="2.0" fill="#f28a1c"/>
<rect x="361.30" y="246.10" width="1.6" height="2.0" fill="#f28a1c"/>
<rect x="362.85" y="246.10" width="1.6" height="2.0" fill="#f28a1c"/>
<rect x="366.83" y="246.10" width="1.6" height="2.0" fill="#f28a1c"/>
<rect x="369.74" y="246.10" width="1.6" height="2.0" fill="#f28a1c"/>
<rect x="370.77" y="246.10" width="1.6" height="2.0" fill="#f28a1c"/>
<rect x="371.22" y="246.10" width="1.6" height="2.0" fill="#f28a1c"/>
<rect x="374.08" y="246.10" width="1.6" height="2.0" fill="#f28a1c"/>
<rect x="376.15" y="246.10" width="1.6" height="2.0" fill="#f28a1c"/>
<rect x="380.61" y="246.10" width="1.6" height="2.0" fill="#f28a1c"/>
<rect x="384.87" y="246.10" width="1.6" height="2.0" fill="#f28a1c"/>
<rect x="385.17" y="246.10" width="1.6" height="2.0" fill="#f28a1c"/>
<rect x="385.47" y="246.10" width="1.6" height="2.0" fill="#f28a1c"/>
<rect x="386.46" y="246.10" width="1.6" height="2.0" fill="#f28a1c"/>
<rect x="390.94" y="246.10" width="1.6" height="2.0" fill="#f28a1c"/>
<rect x="394.46" y="246.10" width="1.6" height="2.0" fill="#f28a1c"/>
<rect x="394.80" y="246.10" width="1.6" height="2.0" fill="#f28a1c"/>
<rect x="403.82" y="246.10" width="1.6" height="2.0" fill="#f28a1c"/>
<rect x="404.38" y="246.10" width="1.6" height="2.0" fill="#f28a1c"/>
<rect x="405.63" y="246.10" width="1.6" height="2.0" fill="#f28a1c"/>
<rect x="406.11" y="246.10" width="1.6" height="2.0" fill="#f28a1c"/>
<rect x="407.16" y="246.10" width="1.6" height="2.0" fill="#f28a1c"/>
<rect x="408.68" y="246.10" width="1.6" height="2.0" fill="#f28a1c"/>
<rect x="408.98" y="246.10" width="1.6" height="2.0" fill="#f28a1c"/>
<rect x="413.12" y="246.10" width="1.6" height="2.0" fill="#f28a1c"/>
<rect x="413.34" y="246.10" width="1.6" height="2.0" fill="#f28a1c"/>
<rect x="415.26" y="246.10" width="1.6" height="2.0" fill="#f28a1c"/>
<rect x="416.57" y="246.10" width="1.6" height="2.0" fill="#f28a1c"/>
<rect x="419.40" y="246.10" width="1.6" height="2.0" fill="#f28a1c"/>
<path d="M299.50 221.00H305.80V222.60H312.30V222.60H314.50V225.90H317.70V228.00H321.10V232.00H323.70V234.25H326.30V236.50H328.90V237.80H334.10V239.10H338.00V241.10H343.20V242.40H347.80V243.00H349.10V247.00H350.40V249.60H354.30V250.90H359.50V250.90H361.50V255.40H367.40V256.10H370.00V259.00H373.70V263.00H376.95V265.75H380.20V268.50H409.60V268.50H410.70V283.70H423.70V283.70" stroke="#dd3b22" stroke-width="1.0" fill="none"/>
<rect x="329.97" y="237.27" width="1.6" height="2.0" fill="#dd3b22"/>
<rect x="336.66" y="239.83" width="1.6" height="2.0" fill="#dd3b22"/>
<rect x="339.60" y="240.70" width="1.6" height="2.0" fill="#dd3b22"/>
<rect x="351.08" y="249.09" width="1.6" height="2.0" fill="#dd3b22"/>
<rect x="365.01" y="254.91" width="1.6" height="2.0" fill="#dd3b22"/>
<rect x="365.33" y="254.95" width="1.6" height="2.0" fill="#dd3b22"/>
<rect x="380.18" y="267.50" width="1.6" height="2.0" fill="#dd3b22"/>
<rect x="383.65" y="267.50" width="1.6" height="2.0" fill="#dd3b22"/>
<rect x="407.88" y="267.50" width="1.6" height="2.0" fill="#dd3b22"/>
<rect x="409.46" y="276.66" width="1.6" height="2.0" fill="#dd3b22"/>
<rect x="415.44" y="282.70" width="1.6" height="2.0" fill="#dd3b22"/>
<rect x="416.83" y="282.70" width="1.6" height="2.0" fill="#dd3b22"/>
<rect x="418.21" y="282.70" width="1.6" height="2.0" fill="#dd3b22"/>
<rect x="420.34" y="282.70" width="1.6" height="2.0" fill="#dd3b22"/>
<path d="M299.50 221.00H302.50V224.80H305.80V227.00H308.00V231.30H310.00V238.50H313.90V238.50H314.60V242.40H317.20V243.00H317.80V247.00H323.00V247.60H326.30V249.60H327.60V252.80H330.90V254.80H333.50V256.70H335.40V259.30H337.40V260.60H342.60V261.30H345.20V262.60H349.10V263.20H350.40V266.50H353.00V268.50H358.20V269.10H359.50V275.00H364.80V275.60H365.40V278.60H375.00V278.60" stroke="#2f86e0" stroke-width="1.0" fill="none"/>
<path d="M375.00 278.60H427.00V278.60" stroke="#a9cdf3" stroke-width="1.0" fill="none"/>
<rect x="327.65" y="252.32" width="1.6" height="2.0" fill="#2f86e0"/>
<rect x="340.52" y="260.13" width="1.6" height="2.0" fill="#2f86e0"/>
<rect x="341.07" y="260.20" width="1.6" height="2.0" fill="#2f86e0"/>
<rect x="342.83" y="260.81" width="1.6" height="2.0" fill="#2f86e0"/>
<rect x="362.53" y="274.43" width="1.6" height="2.0" fill="#2f86e0"/>
<rect x="366.99" y="277.60" width="1.6" height="2.0" fill="#2f86e0"/>
<rect x="375.47" y="277.60" width="1.6" height="2.0" fill="#2f86e0"/>
<rect x="381.67" y="277.60" width="1.6" height="2.0" fill="#2f86e0"/>
<rect x="389.76" y="277.60" width="1.6" height="2.0" fill="#2f86e0"/>
<rect x="410.63" y="277.60" width="1.6" height="2.0" fill="#2f86e0"/>
<rect x="412.88" y="277.60" width="1.6" height="2.0" fill="#2f86e0"/>
<rect x="415.13" y="277.60" width="1.6" height="2.0" fill="#2f86e0"/>
<rect x="416.28" y="277.60" width="1.6" height="2.0" fill="#2f86e0"/>
<rect x="424.13" y="277.60" width="1.6" height="2.0" fill="#2f86e0"/>
<rect x="306.00" y="301.10" width="4.4" height="4.4" fill="#2e9e2a"/>
<text x="312.20" y="305.14" font-size="5.13" fill="#111" textLength="108.70" lengthAdjust="spacingAndGlyphs" class="k111">(A) High SUCNR1, High <tspan font-style="italic">Candidatus nitrosopelagicus</tspan></text>
<rect x="306.00" y="308.50" width="4.4" height="4.4" fill="#dd3b22"/>
<text x="312.20" y="312.54" font-size="5.12" fill="#111" textLength="107.50" lengthAdjust="spacingAndGlyphs" class="k111">(B) High SUCNR1, Low <tspan font-style="italic">Candidatus nitrosopelagicus</tspan></text>
<rect x="306.00" y="315.90" width="4.4" height="4.4" fill="#f28a1c"/>
<text x="312.20" y="319.94" font-size="5.14" fill="#111" textLength="108.00" lengthAdjust="spacingAndGlyphs" class="k111">(C) Low SUCNR1, High <tspan font-style="italic">Candidatus nitrosopelagicus</tspan></text>
<rect x="306.00" y="323.30" width="4.4" height="4.4" fill="#2f86e0"/>
<text x="312.20" y="327.34" font-size="5.11" fill="#111" textLength="106.50" lengthAdjust="spacingAndGlyphs" class="k111">(D) Low SUCNR1, Low <tspan font-style="italic">Candidatus nitrosopelagicus</tspan></text>
<text x="369.50" y="222.65" font-size="6.78" fill="#111" textLength="82.50" lengthAdjust="spacingAndGlyphs" class="k110">Logrank Test <tspan font-style="italic">p</tspan>-value: 3.87x10</text>
<text x="452.50" y="219.60" font-size="4.6" fill="#111" textLength="4.0" lengthAdjust="spacingAndGlyphs" class="nk">−7</text>
<line x1="300.30" y1="406.90" x2="300.30" y2="518.90" stroke="#555" stroke-width="0.9"/>
<line x1="300.30" y1="518.90" x2="442.90" y2="518.90" stroke="#555" stroke-width="0.9"/>
<line x1="298.50" y1="518.90" x2="300.30" y2="518.90" stroke="#555" stroke-width="0.7"/>
<text x="298.70" y="520.99" font-size="5.8" text-anchor="end" textLength="7.40" lengthAdjust="spacingAndGlyphs" class="nk" fill="#1c1c1c">0%</text>
<line x1="298.50" y1="507.80" x2="300.30" y2="507.80" stroke="#555" stroke-width="0.7"/>
<text x="298.70" y="509.89" font-size="5.8" text-anchor="end" textLength="10.40" lengthAdjust="spacingAndGlyphs" class="nk" fill="#1c1c1c">10%</text>
<line x1="298.50" y1="496.70" x2="300.30" y2="496.70" stroke="#555" stroke-width="0.7"/>
<text x="298.70" y="498.79" font-size="5.8" text-anchor="end" textLength="10.40" lengthAdjust="spacingAndGlyphs" class="nk" fill="#1c1c1c">20%</text>
<line x1="298.50" y1="485.60" x2="300.30" y2="485.60" stroke="#555" stroke-width="0.7"/>
<text x="298.70" y="487.69" font-size="5.8" text-anchor="end" textLength="10.40" lengthAdjust="spacingAndGlyphs" class="nk" fill="#1c1c1c">30%</text>
<line x1="298.50" y1="474.50" x2="300.30" y2="474.50" stroke="#555" stroke-width="0.7"/>
<text x="298.70" y="476.59" font-size="5.8" text-anchor="end" textLength="10.40" lengthAdjust="spacingAndGlyphs" class="nk" fill="#1c1c1c">40%</text>
<line x1="298.50" y1="463.40" x2="300.30" y2="463.40" stroke="#555" stroke-width="0.7"/>
<text x="298.70" y="465.49" font-size="5.8" text-anchor="end" textLength="10.40" lengthAdjust="spacingAndGlyphs" class="nk" fill="#1c1c1c">50%</text>
<line x1="298.50" y1="452.30" x2="300.30" y2="452.30" stroke="#555" stroke-width="0.7"/>
<text x="298.70" y="454.39" font-size="5.8" text-anchor="end" textLength="10.40" lengthAdjust="spacingAndGlyphs" class="nk" fill="#1c1c1c">60%</text>
<line x1="298.50" y1="441.20" x2="300.30" y2="441.20" stroke="#555" stroke-width="0.7"/>
<text x="298.70" y="443.29" font-size="5.8" text-anchor="end" textLength="10.40" lengthAdjust="spacingAndGlyphs" class="nk" fill="#1c1c1c">70%</text>
<line x1="298.50" y1="430.10" x2="300.30" y2="430.10" stroke="#555" stroke-width="0.7"/>
<text x="298.70" y="432.19" font-size="5.8" text-anchor="end" textLength="10.40" lengthAdjust="spacingAndGlyphs" class="nk" fill="#1c1c1c">80%</text>
<line x1="298.50" y1="419.00" x2="300.30" y2="419.00" stroke="#555" stroke-width="0.7"/>
<text x="298.70" y="421.09" font-size="5.8" text-anchor="end" textLength="10.40" lengthAdjust="spacingAndGlyphs" class="nk" fill="#1c1c1c">90%</text>
<line x1="298.50" y1="407.90" x2="300.30" y2="407.90" stroke="#555" stroke-width="0.7"/>
<text x="298.70" y="409.99" font-size="5.8" text-anchor="end" textLength="13.40" lengthAdjust="spacingAndGlyphs" class="nk" fill="#1c1c1c">100%</text>
<line x1="300.20" y1="518.90" x2="300.20" y2="520.70" stroke="#555" stroke-width="0.7"/>
<text x="300.20" y="525.79" font-size="5.8" text-anchor="middle" textLength="3.00" lengthAdjust="spacingAndGlyphs" class="nk" fill="#1c1c1c">0</text>
<line x1="309.68" y1="518.90" x2="309.68" y2="520.70" stroke="#555" stroke-width="0.7"/>
<text x="309.68" y="525.79" font-size="5.8" text-anchor="middle" textLength="5.40" lengthAdjust="spacingAndGlyphs" class="nk" fill="#1c1c1c">10</text>
<line x1="319.16" y1="518.90" x2="319.16" y2="520.70" stroke="#555" stroke-width="0.7"/>
<text x="319.16" y="525.79" font-size="5.8" text-anchor="middle" textLength="5.40" lengthAdjust="spacingAndGlyphs" class="nk" fill="#1c1c1c">20</text>
<line x1="328.64" y1="518.90" x2="328.64" y2="520.70" stroke="#555" stroke-width="0.7"/>
<text x="328.64" y="525.79" font-size="5.8" text-anchor="middle" textLength="5.40" lengthAdjust="spacingAndGlyphs" class="nk" fill="#1c1c1c">30</text>
<line x1="338.12" y1="518.90" x2="338.12" y2="520.70" stroke="#555" stroke-width="0.7"/>
<text x="338.12" y="525.79" font-size="5.8" text-anchor="middle" textLength="5.40" lengthAdjust="spacingAndGlyphs" class="nk" fill="#1c1c1c">40</text>
<line x1="347.60" y1="518.90" x2="347.60" y2="520.70" stroke="#555" stroke-width="0.7"/>
<text x="347.60" y="525.79" font-size="5.8" text-anchor="middle" textLength="5.40" lengthAdjust="spacingAndGlyphs" class="nk" fill="#1c1c1c">50</text>
<line x1="357.08" y1="518.90" x2="357.08" y2="520.70" stroke="#555" stroke-width="0.7"/>
<text x="357.08" y="525.79" font-size="5.8" text-anchor="middle" textLength="5.40" lengthAdjust="spacingAndGlyphs" class="nk" fill="#1c1c1c">60</text>
<line x1="366.56" y1="518.90" x2="366.56" y2="520.70" stroke="#555" stroke-width="0.7"/>
<text x="366.56" y="525.79" font-size="5.8" text-anchor="middle" textLength="5.40" lengthAdjust="spacingAndGlyphs" class="nk" fill="#1c1c1c">70</text>
<line x1="376.04" y1="518.90" x2="376.04" y2="520.70" stroke="#555" stroke-width="0.7"/>
<text x="376.04" y="525.79" font-size="5.8" text-anchor="middle" textLength="5.40" lengthAdjust="spacingAndGlyphs" class="nk" fill="#1c1c1c">80</text>
<line x1="385.52" y1="518.90" x2="385.52" y2="520.70" stroke="#555" stroke-width="0.7"/>
<text x="385.52" y="525.79" font-size="5.8" text-anchor="middle" textLength="5.40" lengthAdjust="spacingAndGlyphs" class="nk" fill="#1c1c1c">90</text>
<line x1="395.00" y1="518.90" x2="395.00" y2="520.70" stroke="#555" stroke-width="0.7"/>
<text x="395.00" y="525.79" font-size="5.8" text-anchor="middle" textLength="7.60" lengthAdjust="spacingAndGlyphs" class="nk" fill="#1c1c1c">100</text>
<line x1="404.48" y1="518.90" x2="404.48" y2="520.70" stroke="#555" stroke-width="0.7"/>
<text x="404.48" y="525.79" font-size="5.8" text-anchor="middle" textLength="7.60" lengthAdjust="spacingAndGlyphs" class="nk" fill="#1c1c1c">110</text>
<line x1="413.96" y1="518.90" x2="413.96" y2="520.70" stroke="#555" stroke-width="0.7"/>
<text x="413.96" y="525.79" font-size="5.8" text-anchor="middle" textLength="7.60" lengthAdjust="spacingAndGlyphs" class="nk" fill="#1c1c1c">120</text>
<line x1="423.44" y1="518.90" x2="423.44" y2="520.70" stroke="#555" stroke-width="0.7"/>
<text x="423.44" y="525.79" font-size="5.8" text-anchor="middle" textLength="7.60" lengthAdjust="spacingAndGlyphs" class="nk" fill="#1c1c1c">130</text>
<line x1="432.92" y1="518.90" x2="432.92" y2="520.70" stroke="#555" stroke-width="0.7"/>
<text x="432.92" y="525.79" font-size="5.8" text-anchor="middle" textLength="7.60" lengthAdjust="spacingAndGlyphs" class="nk" fill="#1c1c1c">140</text>
<line x1="442.40" y1="518.90" x2="442.40" y2="520.70" stroke="#555" stroke-width="0.7"/>
<text x="442.40" y="525.79" font-size="5.8" text-anchor="middle" textLength="7.60" lengthAdjust="spacingAndGlyphs" class="nk" fill="#1c1c1c">150</text>
<text x="326.80" y="534.28" font-size="6.61" font-weight="bold" fill="#0a0a0a" textLength="104.10" lengthAdjust="spacingAndGlyphs">Months of disease-specific survival</text>
<text transform="translate(286.90 459.50) rotate(-90)" x="0" y="0" font-size="6.69" font-weight="bold" fill="#0a0a0a" text-anchor="middle" textLength="49.00" lengthAdjust="spacingAndGlyphs">Disease-specific</text>
<path d="M300.30 407.80H306.40V408.70H309.05V410.45H311.70V412.20H320.30V412.20H325.60V413.90H330.80V415.70H337.70V416.50H348.20V416.50H351.70V418.30H443.80V418.30" stroke="#2e9e2a" stroke-width="1.0" fill="none"/>
<rect x="319.98" y="411.35" width="1.6" height="2.0" fill="#2e9e2a"/>
<rect x="320.11" y="411.39" width="1.6" height="2.0" fill="#2e9e2a"/>
<rect x="320.88" y="411.64" width="1.6" height="2.0" fill="#2e9e2a"/>
<rect x="320.89" y="411.65" width="1.6" height="2.0" fill="#2e9e2a"/>
<rect x="321.44" y="411.82" width="1.6" height="2.0" fill="#2e9e2a"/>
<rect x="324.34" y="412.75" width="1.6" height="2.0" fill="#2e9e2a"/>
<rect x="328.11" y="414.04" width="1.6" height="2.0" fill="#2e9e2a"/>
<rect x="330.84" y="414.80" width="1.6" height="2.0" fill="#2e9e2a"/>
<rect x="335.29" y="415.31" width="1.6" height="2.0" fill="#2e9e2a"/>
<rect x="336.92" y="415.50" width="1.6" height="2.0" fill="#2e9e2a"/>
<rect x="337.18" y="415.50" width="1.6" height="2.0" fill="#2e9e2a"/>
<rect x="337.54" y="415.50" width="1.6" height="2.0" fill="#2e9e2a"/>
<rect x="337.59" y="415.50" width="1.6" height="2.0" fill="#2e9e2a"/>
<rect x="343.15" y="415.50" width="1.6" height="2.0" fill="#2e9e2a"/>
<rect x="346.31" y="415.50" width="1.6" height="2.0" fill="#2e9e2a"/>
<rect x="350.25" y="416.96" width="1.6" height="2.0" fill="#2e9e2a"/>
<rect x="352.91" y="417.30" width="1.6" height="2.0" fill="#2e9e2a"/>
<rect x="361.20" y="417.30" width="1.6" height="2.0" fill="#2e9e2a"/>
<rect x="365.27" y="417.30" width="1.6" height="2.0" fill="#2e9e2a"/>
<rect x="367.14" y="417.30" width="1.6" height="2.0" fill="#2e9e2a"/>
<rect x="368.54" y="417.30" width="1.6" height="2.0" fill="#2e9e2a"/>
<rect x="372.84" y="417.30" width="1.6" height="2.0" fill="#2e9e2a"/>
<rect x="375.36" y="417.30" width="1.6" height="2.0" fill="#2e9e2a"/>
<rect x="378.99" y="417.30" width="1.6" height="2.0" fill="#2e9e2a"/>
<rect x="384.03" y="417.30" width="1.6" height="2.0" fill="#2e9e2a"/>
<rect x="384.95" y="417.30" width="1.6" height="2.0" fill="#2e9e2a"/>
<rect x="385.28" y="417.30" width="1.6" height="2.0" fill="#2e9e2a"/>
<rect x="387.42" y="417.30" width="1.6" height="2.0" fill="#2e9e2a"/>
<rect x="390.20" y="417.30" width="1.6" height="2.0" fill="#2e9e2a"/>
<rect x="393.94" y="417.30" width="1.6" height="2.0" fill="#2e9e2a"/>
<rect x="394.66" y="417.30" width="1.6" height="2.0" fill="#2e9e2a"/>
<rect x="394.90" y="417.30" width="1.6" height="2.0" fill="#2e9e2a"/>
<rect x="395.39" y="417.30" width="1.6" height="2.0" fill="#2e9e2a"/>
<rect x="396.43" y="417.30" width="1.6" height="2.0" fill="#2e9e2a"/>
<rect x="397.09" y="417.30" width="1.6" height="2.0" fill="#2e9e2a"/>
<rect x="400.28" y="417.30" width="1.6" height="2.0" fill="#2e9e2a"/>
<rect x="411.36" y="417.30" width="1.6" height="2.0" fill="#2e9e2a"/>
<rect x="419.95" y="417.30" width="1.6" height="2.0" fill="#2e9e2a"/>
<rect x="421.92" y="417.30" width="1.6" height="2.0" fill="#2e9e2a"/>
<rect x="424.11" y="417.30" width="1.6" height="2.0" fill="#2e9e2a"/>
<rect x="429.07" y="417.30" width="1.6" height="2.0" fill="#2e9e2a"/>
<rect x="432.40" y="417.30" width="1.6" height="2.0" fill="#2e9e2a"/>
<rect x="438.60" y="417.30" width="1.6" height="2.0" fill="#2e9e2a"/>
<rect x="440.94" y="417.30" width="1.6" height="2.0" fill="#2e9e2a"/>
<rect x="442.77" y="417.30" width="1.6" height="2.0" fill="#2e9e2a"/>
<path d="M300.30 407.80H304.25V410.40H308.20V413.00H311.65V415.20H315.10V417.40H317.70V419.55H320.30V421.70H323.80V423.90H327.30V426.10H336.00V427.00H338.60V428.70H341.20V430.40H348.20V432.20H351.70V439.10H360.30V440.00H363.00V445.20H381.90V446.00H382.40V452.30H424.80V452.30" stroke="#dd3b22" stroke-width="1.0" fill="none"/>
<rect x="348.97" y="434.29" width="1.6" height="2.0" fill="#dd3b22"/>
<rect x="351.83" y="438.20" width="1.6" height="2.0" fill="#dd3b22"/>
<rect x="361.73" y="443.30" width="1.6" height="2.0" fill="#dd3b22"/>
<rect x="379.76" y="444.94" width="1.6" height="2.0" fill="#dd3b22"/>
<rect x="385.00" y="451.30" width="1.6" height="2.0" fill="#dd3b22"/>
<rect x="385.95" y="451.30" width="1.6" height="2.0" fill="#dd3b22"/>
<rect x="388.79" y="451.30" width="1.6" height="2.0" fill="#dd3b22"/>
<rect x="389.10" y="451.30" width="1.6" height="2.0" fill="#dd3b22"/>
<rect x="389.85" y="451.30" width="1.6" height="2.0" fill="#dd3b22"/>
<rect x="402.17" y="451.30" width="1.6" height="2.0" fill="#dd3b22"/>
<rect x="403.00" y="451.30" width="1.6" height="2.0" fill="#dd3b22"/>
<rect x="404.95" y="451.30" width="1.6" height="2.0" fill="#dd3b22"/>
<rect x="405.06" y="451.30" width="1.6" height="2.0" fill="#dd3b22"/>
<rect x="408.54" y="451.30" width="1.6" height="2.0" fill="#dd3b22"/>
<rect x="409.47" y="451.30" width="1.6" height="2.0" fill="#dd3b22"/>
<rect x="418.57" y="451.30" width="1.6" height="2.0" fill="#dd3b22"/>
<rect x="419.25" y="451.30" width="1.6" height="2.0" fill="#dd3b22"/>
<rect x="423.77" y="451.30" width="1.6" height="2.0" fill="#dd3b22"/>
<path d="M300.30 407.80H304.25V411.75H308.20V415.70H313.40V417.40H316.00V420.00H318.60V422.60H321.50V424.93H324.40V427.27H327.30V429.60H330.80V432.20H339.50V432.20H342.95V433.50H346.40V434.80H349.05V436.55H351.70V438.30H356.00V440.90H363.80V442.60H366.40V445.20H369.00V447.80H370.10V449.40H428.70V449.40" stroke="#f28a1c" stroke-width="1.0" fill="none"/>
<rect x="345.21" y="433.65" width="1.6" height="2.0" fill="#f28a1c"/>
<rect x="351.12" y="437.43" width="1.6" height="2.0" fill="#f28a1c"/>
<rect x="352.04" y="437.99" width="1.6" height="2.0" fill="#f28a1c"/>
<rect x="360.16" y="440.98" width="1.6" height="2.0" fill="#f28a1c"/>
<rect x="364.27" y="442.87" width="1.6" height="2.0" fill="#f28a1c"/>
<rect x="365.55" y="444.15" width="1.6" height="2.0" fill="#f28a1c"/>
<rect x="367.84" y="446.44" width="1.6" height="2.0" fill="#f28a1c"/>
<rect x="370.25" y="448.40" width="1.6" height="2.0" fill="#f28a1c"/>
<rect x="383.54" y="448.40" width="1.6" height="2.0" fill="#f28a1c"/>
<rect x="384.41" y="448.40" width="1.6" height="2.0" fill="#f28a1c"/>
<rect x="397.44" y="448.40" width="1.6" height="2.0" fill="#f28a1c"/>
<rect x="399.26" y="448.40" width="1.6" height="2.0" fill="#f28a1c"/>
<rect x="399.41" y="448.40" width="1.6" height="2.0" fill="#f28a1c"/>
<rect x="402.04" y="448.40" width="1.6" height="2.0" fill="#f28a1c"/>
<rect x="402.99" y="448.40" width="1.6" height="2.0" fill="#f28a1c"/>
<rect x="403.20" y="448.40" width="1.6" height="2.0" fill="#f28a1c"/>
<rect x="403.88" y="448.40" width="1.6" height="2.0" fill="#f28a1c"/>
<rect x="403.98" y="448.40" width="1.6" height="2.0" fill="#f28a1c"/>
<rect x="404.75" y="448.40" width="1.6" height="2.0" fill="#f28a1c"/>
<rect x="405.65" y="448.40" width="1.6" height="2.0" fill="#f28a1c"/>
<rect x="408.23" y="448.40" width="1.6" height="2.0" fill="#f28a1c"/>
<rect x="409.17" y="448.40" width="1.6" height="2.0" fill="#f28a1c"/>
<rect x="414.84" y="448.40" width="1.6" height="2.0" fill="#f28a1c"/>
<rect x="418.75" y="448.40" width="1.6" height="2.0" fill="#f28a1c"/>
<rect x="419.04" y="448.40" width="1.6" height="2.0" fill="#f28a1c"/>
<path d="M300.30 407.80H303.35V410.40H306.40V413.00H310.00V417.40H311.70V421.70H314.30V423.45H316.90V425.20H320.30V429.60H327.30V431.30H330.80V435.70H333.40V438.30H336.00V440.90H341.20V442.60H344.70V443.50H351.70V445.20H353.40V449.60H356.90V452.20H360.30V456.50H376.00V457.30H376.50V463.00H377.00V463.00" stroke="#2f86e0" stroke-width="1.0" fill="none"/>
<path d="M377.00 463.00H412.20V463.00V518.9" stroke="#a9cdf3" stroke-width="1.0" fill="none"/>
<rect x="368.56" y="455.96" width="1.6" height="2.0" fill="#2f86e0"/>
<rect x="382.40" y="462.00" width="1.6" height="2.0" fill="#2f86e0"/>
<rect x="384.06" y="462.00" width="1.6" height="2.0" fill="#2f86e0"/>
<rect x="386.52" y="462.00" width="1.6" height="2.0" fill="#2f86e0"/>
<rect x="389.43" y="462.00" width="1.6" height="2.0" fill="#2f86e0"/>
<rect x="398.31" y="462.00" width="1.6" height="2.0" fill="#2f86e0"/>
<rect x="307.40" y="486.60" width="4.4" height="4.4" fill="#2e9e2a"/>
<text x="313.60" y="490.66" font-size="5.18" fill="#111" textLength="71.60" lengthAdjust="spacingAndGlyphs" class="k111">(A) High SUCNR1, High <tspan font-style="italic">Indibacter</tspan></text>
<rect x="307.40" y="494.03" width="4.4" height="4.4" fill="#dd3b22"/>
<text x="313.60" y="498.07" font-size="5.13" fill="#111" textLength="69.80" lengthAdjust="spacingAndGlyphs" class="k111">(B) High SUCNR1, Low <tspan font-style="italic">Indibacter</tspan></text>
<rect x="307.40" y="501.46" width="4.4" height="4.4" fill="#f28a1c"/>
<text x="313.60" y="505.50" font-size="5.14" fill="#111" textLength="70.20" lengthAdjust="spacingAndGlyphs" class="k111">(C) Low SUCNR1, High <tspan font-style="italic">Indibacter</tspan></text>
<rect x="307.40" y="508.89" width="4.4" height="4.4" fill="#2f86e0"/>
<text x="313.60" y="512.92" font-size="5.11" fill="#111" textLength="68.80" lengthAdjust="spacingAndGlyphs" class="k111">(D) Low SUCNR1, Low <tspan font-style="italic">Indibacter</tspan></text>
<text x="368.20" y="408.91" font-size="6.67" fill="#111" textLength="84.50" lengthAdjust="spacingAndGlyphs" class="k110">Logrank Test <tspan font-style="italic">p</tspan>-value: 2.691x10</text>
<text x="453.20" y="405.90" font-size="4.6" fill="#111" textLength="4.0" lengthAdjust="spacingAndGlyphs" class="nk">−6</text>
</svg></body></html>
